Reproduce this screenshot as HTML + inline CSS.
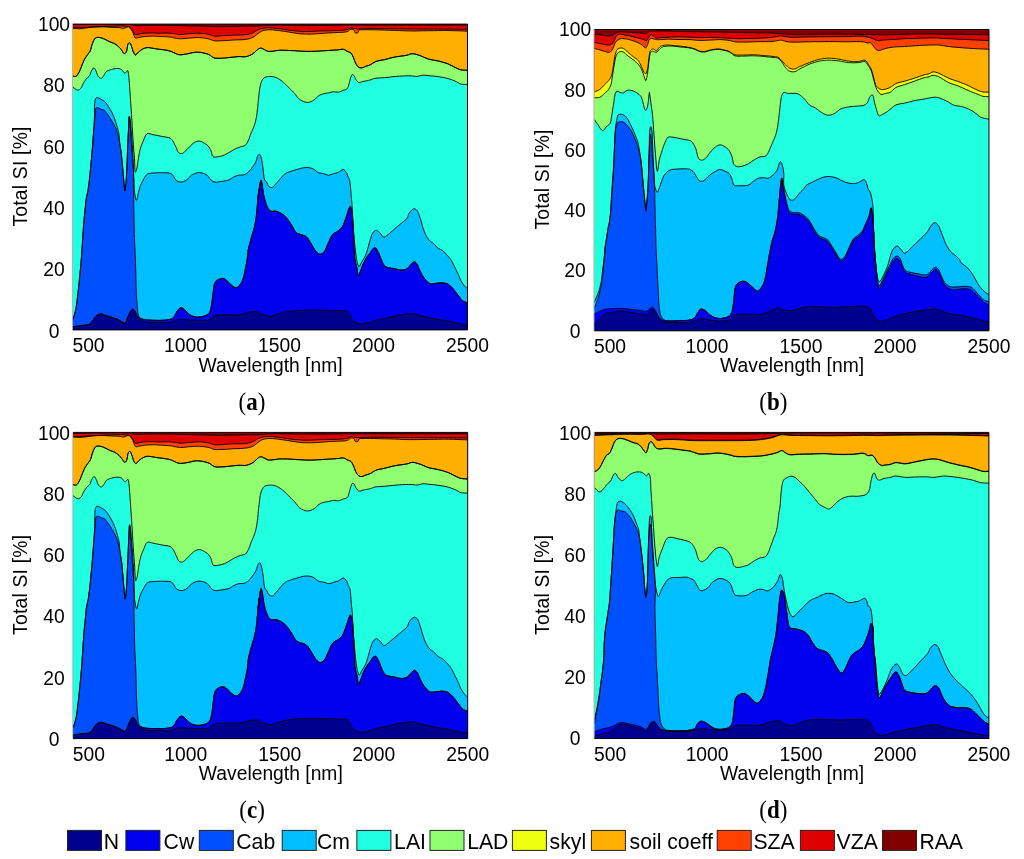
<!DOCTYPE html>
<html><head><meta charset="utf-8"><style>
html,body{margin:0;padding:0;background:#fff;}
svg{display:block;}
.tk{font-family:"Liberation Sans",Arial,sans-serif;font-size:19.3px;fill:#000;}
.xl{font-family:"Liberation Sans",Arial,sans-serif;font-size:19.3px;fill:#000;}
.yl{font-family:"Liberation Sans",Arial,sans-serif;font-size:19.3px;fill:#000;letter-spacing:0.22px;}
.lg{font-family:"Liberation Sans",Arial,sans-serif;font-size:21.2px;fill:#000;}
.cap{font-family:"Liberation Serif","Times New Roman",serif;font-size:25px;fill:#000;}
</style></head><body>
<svg width="1024" height="859" viewBox="0 0 1024 859">
<rect width="1024" height="859" fill="#fff"/>
<clipPath id="ca"><rect x="72.7" y="24.1" width="394.8" height="305.8"/></clipPath>
<g clip-path="url(#ca)">
<rect x="72.7" y="24.1" width="394.8" height="305.8" fill="#800000"/>
<polygon points="72.7,24.7 73.1,24.7 79.6,24.6 86.1,24.5 92.7,24.4 99.3,24.4 107.1,24.3 115.4,24.2 123.0,24.2 128.6,24.4 130.1,24.6 131.3,24.9 132.4,25.2 133.5,25.4 134.7,25.5 135.8,25.6 137.0,25.6 138.4,25.7 140.5,25.6 142.8,25.6 145.3,25.4 148.1,25.4 153.0,25.3 158.6,25.3 164.4,25.3 170.0,25.4 175.0,25.5 179.8,25.6 184.7,25.7 189.5,25.9 194.6,26.0 199.7,26.1 204.7,26.2 209.1,26.3 211.7,26.4 213.9,26.5 216.2,26.6 218.8,26.6 223.3,26.6 228.4,26.5 233.5,26.4 238.4,26.3 242.2,26.3 246.0,26.2 249.6,26.1 253.0,26.1 255.6,26.0 258.1,25.9 260.5,25.8 262.8,25.7 264.5,25.5 266.2,25.4 267.9,25.2 270.0,25.1 275.9,25.0 283.4,25.1 291.5,25.3 299.3,25.4 306.8,25.4 314.3,25.4 321.7,25.4 328.6,25.4 333.7,25.3 338.5,25.2 343.3,25.1 348.1,25.1 353.1,25.1 358.0,25.1 363.4,25.1 370.0,25.1 389.5,25.1 414.3,25.1 441.4,25.1 467.4,25.1 467.5,25.1 467.5,331.9 72.7,331.9" fill="#DF0000"/>
<polygon points="72.7,28.0 73.1,28.0 88.8,27.3 105.6,26.4 120.1,25.9 128.6,26.4 129.3,26.7 129.8,27.0 130.2,27.4 130.5,27.8 131.1,28.3 131.5,28.9 132.0,29.6 132.5,30.3 133.2,31.4 133.8,32.7 134.5,33.9 135.4,34.6 136.5,34.8 137.7,34.5 139.0,34.0 140.3,33.7 142.1,33.4 144.0,33.2 146.1,33.1 148.1,33.0 150.5,33.0 152.9,33.0 155.3,33.1 157.9,33.2 161.0,33.2 164.2,33.1 167.3,33.1 170.0,33.2 171.4,33.3 172.6,33.4 173.7,33.5 174.9,33.7 176.1,33.9 177.2,34.1 178.4,34.3 179.8,34.5 182.0,34.4 184.4,34.2 187.0,33.9 189.5,33.7 192.0,33.5 194.4,33.3 196.9,33.2 199.3,33.2 201.8,33.3 204.4,33.6 206.9,34.0 209.1,34.5 210.4,34.9 211.5,35.4 212.6,35.8 213.9,36.1 216.1,36.2 218.6,36.1 221.2,35.8 223.7,35.6 226.1,35.5 228.5,35.4 230.9,35.3 233.5,35.1 236.6,35.1 240.0,35.0 243.2,34.9 246.2,34.6 248.1,34.3 249.8,33.8 251.5,33.3 253.0,32.7 254.3,32.0 255.5,31.2 256.7,30.4 257.9,29.8 259.1,29.3 260.2,28.9 261.5,28.6 262.8,28.3 264.4,28.1 266.2,27.9 268.1,27.8 270.0,27.8 272.3,27.9 274.8,28.2 277.3,28.5 279.8,28.8 282.2,29.1 284.6,29.5 287.1,29.9 289.5,30.3 292.0,30.5 294.4,30.8 296.9,31.0 299.3,31.2 301.7,31.4 304.2,31.5 306.6,31.5 309.1,31.5 311.4,31.5 313.7,31.3 316.2,31.2 318.8,31.0 323.4,30.9 328.7,30.8 333.9,30.7 338.4,30.5 340.9,30.4 343.2,30.2 345.3,29.9 347.1,29.6 348.3,29.2 349.2,28.7 350.2,28.2 351.1,28.0 351.8,28.0 352.5,28.2 353.2,28.4 354.0,28.6 355.1,28.7 356.2,28.8 357.5,28.9 358.9,29.0 361.2,29.0 363.7,28.8 366.6,28.7 370.0,28.6 377.9,28.6 387.6,28.7 398.2,28.9 409.1,29.0 422.8,29.1 437.5,29.1 452.5,29.2 467.4,29.3 467.5,29.3 467.5,331.9 72.7,331.9" fill="#FF4000"/>
<polygon points="72.7,28.3 73.1,28.3 74.8,28.4 76.5,28.6 78.2,28.7 79.8,28.8 81.0,28.7 82.2,28.6 83.3,28.5 84.6,28.3 86.7,28.0 88.9,27.6 91.2,27.3 93.4,27.0 95.6,26.9 97.8,26.8 100.0,26.8 102.2,26.8 104.4,26.9 106.7,27.0 108.9,27.2 111.0,27.3 113.0,27.4 115.1,27.4 117.0,27.5 118.8,27.6 120.1,27.8 121.3,28.1 122.5,28.3 123.7,28.3 125.0,28.0 126.3,27.4 127.6,26.9 128.6,26.8 129.2,27.1 129.7,27.6 130.1,28.2 130.5,28.8 131.1,29.4 131.5,30.1 132.0,30.9 132.5,31.7 133.2,33.3 133.8,35.3 134.6,37.0 135.4,38.1 136.1,38.2 136.8,38.1 137.5,37.8 138.4,37.6 139.7,37.3 141.1,37.1 142.6,36.8 144.2,36.6 146.3,36.4 148.5,36.3 150.7,36.2 153.0,36.1 155.4,36.2 158.0,36.3 160.4,36.4 162.8,36.6 164.7,36.7 166.5,36.8 168.3,36.9 170.0,37.1 171.3,37.3 172.5,37.6 173.7,37.8 174.9,38.1 176.3,38.3 177.7,38.5 179.2,38.7 180.7,38.8 182.8,38.7 185.0,38.5 187.3,38.3 189.5,38.1 191.9,37.9 194.4,37.7 196.8,37.6 199.3,37.6 201.8,37.8 204.4,38.1 206.9,38.6 209.1,39.0 210.4,39.5 211.5,39.9 212.6,40.4 213.9,40.7 216.1,40.9 218.6,40.9 221.2,40.8 223.7,40.7 226.1,40.6 228.5,40.4 230.9,40.2 233.5,40.0 236.6,39.9 240.0,39.8 243.2,39.7 246.2,39.3 248.1,39.0 249.8,38.6 251.5,38.0 253.0,37.4 254.3,36.6 255.5,35.6 256.7,34.6 257.9,33.7 259.1,32.8 260.2,32.0 261.4,31.3 262.8,30.7 264.4,30.3 266.2,30.0 268.1,29.8 270.0,29.8 272.3,29.8 274.8,30.1 277.3,30.4 279.8,30.7 282.2,31.1 284.7,31.4 287.1,31.8 289.5,32.2 292.0,32.6 294.4,33.0 296.9,33.4 299.3,33.7 301.7,33.9 304.2,34.0 306.6,34.1 309.1,34.2 311.5,34.1 313.9,34.0 316.4,33.8 318.8,33.7 321.3,33.5 323.7,33.3 326.2,33.1 328.6,32.9 331.0,32.8 333.5,32.7 336.0,32.6 338.4,32.5 340.7,32.4 343.0,32.3 345.2,32.1 347.1,31.7 348.3,31.1 349.3,30.3 350.2,29.6 351.1,29.3 351.8,29.3 352.7,29.5 353.4,29.8 354.0,30.3 354.3,30.8 354.5,31.5 354.6,32.2 355.0,32.7 355.6,32.9 356.4,33.0 357.2,32.9 357.9,32.7 358.2,32.2 358.4,31.5 358.5,30.8 358.9,30.3 359.6,29.9 360.6,29.8 361.6,29.8 362.8,29.8 364.3,29.7 366.0,29.7 367.9,29.7 370.0,29.8 374.2,29.8 379.2,30.0 384.4,30.1 389.5,30.3 394.4,30.4 399.3,30.6 404.2,30.8 409.1,30.9 413.9,31.0 418.8,30.9 423.7,30.8 428.6,30.7 433.5,30.7 438.4,30.6 443.3,30.5 448.1,30.5 452.9,30.7 457.8,30.8 462.6,31.0 467.4,31.2 467.5,31.2 467.5,331.9 72.7,331.9" fill="#FFAF00"/>
<polygon points="72.7,76.2 73.1,76.2 73.8,76.3 74.5,76.5 75.2,76.6 75.9,76.4 76.7,75.9 77.4,75.0 78.1,73.9 78.8,72.7 79.6,71.2 80.3,69.5 81.0,67.7 81.7,65.9 82.4,64.1 83.1,62.4 83.9,60.6 84.6,59.1 85.4,57.9 86.1,56.8 86.9,55.7 87.6,54.7 88.2,53.8 88.8,53.0 89.5,52.2 90.0,51.2 90.7,49.5 91.2,47.5 91.8,45.4 92.5,43.4 93.1,41.9 93.8,40.3 94.5,39.0 95.4,38.1 96.1,37.7 96.8,37.5 97.5,37.4 98.3,37.4 99.4,37.5 100.7,37.7 101.9,38.1 103.2,38.6 104.6,39.2 106.1,39.9 107.6,40.7 109.1,41.5 110.6,42.1 112.1,42.7 113.6,43.3 114.9,43.9 116.0,44.6 117.0,45.3 117.9,46.1 118.8,46.9 119.6,47.7 120.4,48.5 121.1,49.4 121.8,50.3 122.4,51.3 123.0,52.4 123.6,53.3 124.2,53.7 124.7,53.6 125.2,53.3 125.7,52.8 126.2,52.2 126.8,50.5 127.2,48.1 127.6,45.6 128.1,43.9 128.5,43.4 128.8,43.0 129.2,42.7 129.6,42.7 130.1,43.1 130.6,44.0 131.1,45.2 131.5,46.4 132.0,47.8 132.5,49.4 132.9,50.9 133.5,52.2 133.9,53.1 134.4,54.0 134.9,54.7 135.4,55.0 136.1,54.7 136.8,54.0 137.6,53.0 138.4,52.2 139.3,51.5 140.2,50.7 141.2,49.9 142.3,49.3 143.4,48.7 144.6,48.2 145.9,47.9 147.1,47.6 148.6,47.6 150.1,47.8 151.6,48.1 153.0,48.3 154.3,48.5 155.4,48.7 156.6,48.9 157.9,49.1 159.3,49.3 160.8,49.4 162.3,49.6 163.8,49.8 165.3,50.0 167.0,50.3 168.5,50.7 170.0,51.1 171.0,51.4 172.0,51.8 172.9,52.3 173.9,52.7 175.1,53.2 176.2,53.8 177.5,54.3 178.8,54.7 180.4,54.8 182.1,54.7 183.8,54.4 185.6,54.2 188.0,53.7 190.5,53.1 193.0,52.6 195.4,52.2 197.2,52.2 198.9,52.3 200.6,52.4 202.2,52.7 204.0,53.1 205.7,53.5 207.5,54.0 209.1,54.7 210.3,55.4 211.5,56.4 212.7,57.2 213.9,57.9 215.5,58.2 217.2,58.3 219.0,58.3 220.8,58.3 222.7,58.2 224.6,58.0 226.6,57.8 228.6,57.6 231.0,57.3 233.5,57.1 236.0,56.8 238.4,56.6 240.4,56.6 242.4,56.8 244.3,56.8 246.2,56.6 248.0,56.1 249.7,55.4 251.4,54.6 253.0,53.7 254.4,52.6 255.6,51.4 256.8,50.2 257.9,49.3 258.6,48.8 259.4,48.5 260.1,48.2 260.8,48.1 261.5,48.2 262.3,48.5 263.0,48.9 263.8,49.3 264.7,49.8 265.7,50.4 266.7,50.9 267.7,51.2 268.2,51.4 268.8,51.4 269.3,51.5 270.0,51.4 272.0,51.3 274.5,50.9 277.2,50.5 279.8,50.3 282.2,50.2 284.6,50.3 287.1,50.4 289.5,50.5 292.0,50.6 294.4,50.7 296.9,50.9 299.3,51.1 301.7,51.2 304.2,51.3 306.6,51.4 309.1,51.4 311.5,51.4 313.9,51.3 316.4,51.2 318.8,51.1 321.3,50.9 323.7,50.8 326.2,50.6 328.6,50.5 331.1,50.3 333.7,50.1 336.2,50.0 338.4,49.8 339.7,49.6 341.0,49.4 342.1,49.2 343.2,49.3 344.3,49.6 345.2,50.1 346.2,50.7 347.1,51.2 348.2,51.7 349.2,52.1 350.2,52.5 351.1,53.2 351.9,54.4 352.7,55.9 353.4,57.5 354.0,59.1 354.5,60.3 354.9,61.6 355.4,62.8 355.9,63.9 356.6,64.9 357.3,65.9 358.1,66.8 358.9,67.4 359.6,67.7 360.3,67.8 361.0,67.9 361.8,67.9 362.7,67.6 363.7,67.3 364.7,66.8 365.7,66.4 366.8,66.0 367.8,65.7 368.9,65.4 370.0,64.9 371.4,64.2 372.8,63.2 374.3,62.3 375.9,61.5 377.9,60.9 380.1,60.4 382.4,60.0 384.6,59.6 387.0,59.0 389.4,58.3 391.9,57.7 394.4,57.1 397.6,56.6 401.0,56.1 404.3,55.7 407.1,55.2 408.5,54.7 409.6,54.3 410.8,53.9 412.0,53.7 413.6,53.8 415.3,54.1 417.0,54.6 418.8,55.2 421.2,56.0 423.6,57.1 426.1,58.2 428.6,59.1 431.0,59.7 433.5,60.1 435.9,60.5 438.4,61.0 440.9,61.7 443.4,62.4 445.8,63.1 448.1,63.9 449.9,64.8 451.7,65.7 453.3,66.5 455.0,67.4 456.4,68.1 457.9,68.7 459.3,69.3 460.8,69.8 462.4,70.1 464.1,70.2 465.7,70.2 467.4,70.3 467.5,70.3 467.5,331.9 72.7,331.9" fill="#EFFF10"/>
<polygon points="72.7,76.2 73.1,76.2 73.8,76.3 74.5,76.5 75.2,76.6 75.9,76.4 76.7,75.9 77.4,75.0 78.1,73.9 78.8,72.7 79.6,71.2 80.3,69.5 81.0,67.7 81.7,65.9 82.4,64.1 83.1,62.4 83.9,60.6 84.6,59.1 85.4,57.9 86.1,56.8 86.9,55.7 87.6,54.7 88.2,53.8 88.8,53.0 89.5,52.2 90.0,51.2 90.7,49.5 91.2,47.5 91.8,45.4 92.5,43.4 93.1,41.9 93.8,40.3 94.5,39.0 95.4,38.1 96.1,37.7 96.8,37.5 97.5,37.4 98.3,37.4 99.4,37.5 100.7,37.7 101.9,38.1 103.2,38.6 104.6,39.2 106.1,39.9 107.6,40.7 109.1,41.5 110.6,42.1 112.1,42.7 113.6,43.3 114.9,43.9 116.0,44.6 117.0,45.3 117.9,46.1 118.8,46.9 119.6,47.7 120.4,48.5 121.1,49.4 121.8,50.3 122.4,51.3 123.0,52.4 123.6,53.3 124.2,53.7 124.7,53.6 125.2,53.3 125.7,52.8 126.2,52.2 126.8,50.5 127.2,48.1 127.6,45.6 128.1,43.9 128.5,43.4 128.8,43.0 129.2,42.7 129.6,42.7 130.1,43.1 130.6,44.0 131.1,45.2 131.5,46.4 132.0,47.8 132.5,49.4 132.9,50.9 133.5,52.2 133.9,53.1 134.4,54.0 134.9,54.7 135.4,55.0 136.1,54.7 136.8,54.0 137.6,53.0 138.4,52.2 139.3,51.5 140.2,50.7 141.2,49.9 142.3,49.3 143.4,48.7 144.6,48.2 145.9,47.9 147.1,47.6 148.6,47.6 150.1,47.8 151.6,48.1 153.0,48.3 154.3,48.5 155.4,48.7 156.6,48.9 157.9,49.1 159.3,49.3 160.8,49.4 162.3,49.6 163.8,49.8 165.3,50.0 167.0,50.3 168.5,50.7 170.0,51.1 171.0,51.4 172.0,51.8 172.9,52.3 173.9,52.7 175.1,53.2 176.2,53.8 177.5,54.3 178.8,54.7 180.4,54.8 182.1,54.7 183.8,54.4 185.6,54.2 188.0,53.7 190.5,53.1 193.0,52.6 195.4,52.2 197.2,52.2 198.9,52.3 200.6,52.4 202.2,52.7 204.0,53.1 205.7,53.5 207.5,54.0 209.1,54.7 210.3,55.4 211.5,56.4 212.7,57.2 213.9,57.9 215.5,58.2 217.2,58.3 219.0,58.3 220.8,58.3 222.7,58.2 224.6,58.0 226.6,57.8 228.6,57.6 231.0,57.3 233.5,57.1 236.0,56.8 238.4,56.6 240.4,56.6 242.4,56.8 244.3,56.8 246.2,56.6 248.0,56.1 249.7,55.4 251.4,54.6 253.0,53.7 254.4,52.6 255.6,51.4 256.8,50.2 257.9,49.3 258.6,48.8 259.4,48.5 260.1,48.2 260.8,48.1 261.5,48.2 262.3,48.5 263.0,48.9 263.8,49.3 264.7,49.8 265.7,50.4 266.7,50.9 267.7,51.2 268.2,51.4 268.8,51.4 269.3,51.5 270.0,51.4 272.0,51.3 274.5,50.9 277.2,50.5 279.8,50.3 282.2,50.2 284.6,50.3 287.1,50.4 289.5,50.5 292.0,50.6 294.4,50.7 296.9,50.9 299.3,51.1 301.7,51.2 304.2,51.3 306.6,51.4 309.1,51.4 311.5,51.4 313.9,51.3 316.4,51.2 318.8,51.1 321.3,50.9 323.7,50.8 326.2,50.6 328.6,50.5 331.1,50.3 333.7,50.1 336.2,50.0 338.4,49.8 339.7,49.6 341.0,49.4 342.1,49.2 343.2,49.3 344.3,49.6 345.2,50.1 346.2,50.7 347.1,51.2 348.2,51.7 349.2,52.1 350.2,52.5 351.1,53.2 351.9,54.4 352.7,55.9 353.4,57.5 354.0,59.1 354.5,60.3 354.9,61.6 355.4,62.8 355.9,63.9 356.6,64.9 357.3,65.9 358.1,66.8 358.9,67.4 359.6,67.7 360.3,67.8 361.0,67.9 361.8,67.9 362.7,67.6 363.7,67.3 364.7,66.8 365.7,66.4 366.8,66.0 367.8,65.7 368.9,65.4 370.0,64.9 371.4,64.2 372.8,63.2 374.3,62.3 375.9,61.5 377.9,60.9 380.1,60.4 382.4,60.0 384.6,59.6 387.0,59.0 389.4,58.3 391.9,57.7 394.4,57.1 397.6,56.6 401.0,56.1 404.3,55.7 407.1,55.2 408.5,54.7 409.6,54.3 410.8,53.9 412.0,53.7 413.6,53.8 415.3,54.1 417.0,54.6 418.8,55.2 421.2,56.0 423.6,57.1 426.1,58.2 428.6,59.1 431.0,59.7 433.5,60.1 435.9,60.5 438.4,61.0 440.9,61.7 443.4,62.4 445.8,63.1 448.1,63.9 449.9,64.8 451.7,65.7 453.3,66.5 455.0,67.4 456.4,68.1 457.9,68.7 459.3,69.3 460.8,69.8 462.4,70.1 464.1,70.2 465.7,70.2 467.4,70.3 467.5,70.3 467.5,331.9 72.7,331.9" fill="#8FFF70"/>
<polygon points="72.7,87.4 73.1,87.4 74.3,88.2 75.5,89.1 76.7,89.8 77.8,90.1 78.6,90.0 79.4,89.6 80.1,89.0 80.7,88.4 81.6,87.1 82.3,85.6 82.9,84.0 83.7,82.5 84.4,81.4 85.1,80.4 85.8,79.5 86.6,78.6 87.3,77.8 88.1,77.2 88.9,76.5 89.5,75.7 90.1,74.5 90.5,73.2 91.0,71.9 91.5,70.8 92.1,69.8 92.7,68.9 93.3,68.1 93.9,67.9 94.4,68.2 94.9,68.9 95.4,69.8 95.9,70.8 96.5,72.2 97.0,73.8 97.6,75.4 98.3,76.6 99.0,77.3 99.8,77.9 100.5,78.3 101.2,78.4 101.9,78.1 102.5,77.4 103.1,76.5 103.7,75.7 104.3,74.7 104.9,73.6 105.5,72.6 106.1,71.8 106.8,71.3 107.5,70.9 108.2,70.6 109.1,70.3 110.2,69.9 111.4,69.5 112.7,69.1 113.9,68.8 115.2,68.7 116.5,68.5 117.7,68.5 118.8,68.6 119.6,68.8 120.4,69.0 121.1,69.4 121.8,69.8 122.6,70.6 123.3,71.8 124.0,72.7 124.7,73.2 125.1,73.2 125.4,72.9 125.8,72.6 126.2,72.2 126.5,71.8 126.9,71.2 127.3,70.7 127.6,70.6 128.0,71.0 128.2,72.0 128.4,73.3 128.6,74.7 128.9,77.2 129.1,80.1 129.4,83.3 129.6,86.4 129.8,89.7 130.1,93.1 130.3,96.5 130.5,100.0 130.8,103.5 131.0,107.0 131.3,110.7 131.5,114.6 131.9,120.4 132.2,126.6 132.6,133.0 133.0,139.1 133.4,144.2 133.7,149.2 134.1,154.0 134.5,158.6 134.7,162.8 134.8,167.2 135.0,170.8 135.4,172.3 135.7,172.1 135.9,171.7 136.2,171.0 136.4,170.3 136.9,168.1 137.4,165.0 137.9,161.7 138.4,158.6 138.8,156.1 139.2,153.6 139.7,151.2 140.3,148.8 140.9,146.8 141.6,144.8 142.4,142.9 143.2,141.0 144.1,138.9 144.9,136.8 145.9,134.9 147.1,133.7 148.4,133.5 149.8,133.7 151.4,134.2 153.0,134.7 155.3,135.1 157.8,135.6 160.4,136.1 162.8,136.6 164.7,136.9 166.7,137.2 168.5,137.5 170.0,138.1 170.9,138.7 171.6,139.4 172.3,140.1 172.9,141.0 173.7,142.3 174.4,143.8 175.1,145.4 175.9,146.9 176.6,148.5 177.2,150.2 177.9,151.7 178.8,152.7 179.5,153.2 180.2,153.4 181.0,153.5 181.7,153.5 182.5,153.3 183.2,152.9 183.9,152.4 184.6,151.8 185.8,150.7 187.0,149.5 188.3,148.1 189.5,146.9 190.7,145.7 191.9,144.5 193.1,143.4 194.4,142.5 195.6,141.9 196.9,141.4 198.1,141.1 199.3,141.0 200.3,141.2 201.3,141.5 202.2,142.0 203.2,142.5 204.5,143.2 205.7,144.0 207.0,144.9 208.1,145.9 209.0,147.0 209.7,148.2 210.4,149.5 211.0,150.8 211.5,152.3 211.9,154.1 212.3,155.6 213.0,156.6 213.8,157.0 214.7,157.0 215.8,157.0 216.9,156.8 218.3,156.7 219.7,156.4 221.3,156.1 222.7,155.7 224.2,155.1 225.7,154.3 227.1,153.5 228.6,152.7 230.1,151.9 231.5,151.0 233.0,150.1 234.5,149.3 235.9,148.6 237.4,148.0 238.9,147.4 240.3,146.9 241.6,146.5 242.9,146.3 244.1,146.0 245.2,145.4 246.1,144.6 246.8,143.5 247.5,142.3 248.1,141.0 248.9,139.2 249.6,137.2 250.3,135.2 251.1,133.2 251.8,131.5 252.6,129.8 253.3,128.1 254.0,126.4 254.6,124.7 255.1,123.0 255.5,121.3 255.9,119.5 256.4,117.2 256.8,114.8 257.1,112.3 257.4,109.8 257.7,107.4 257.9,105.0 258.1,102.6 258.4,100.0 258.8,95.9 259.3,91.4 260.0,87.0 260.8,83.5 261.4,81.8 262.1,80.3 262.9,79.1 263.8,78.1 264.7,77.5 265.7,77.1 266.7,76.8 267.7,76.6 268.3,76.5 268.8,76.5 269.4,76.4 270.0,76.4 271.1,76.5 272.3,76.6 273.6,76.8 274.9,77.1 276.1,77.6 277.4,78.2 278.6,78.8 279.8,79.6 281.0,80.4 282.2,81.4 283.5,82.4 284.6,83.5 285.9,84.6 287.1,85.9 288.3,87.1 289.5,88.4 290.8,89.6 292.0,90.8 293.2,92.0 294.4,93.2 295.6,94.7 296.7,96.3 297.9,97.8 299.3,99.1 301.1,100.3 303.1,101.3 305.1,102.1 307.1,102.4 308.9,102.3 310.7,101.7 312.4,100.9 313.9,100.0 315.3,99.0 316.4,97.8 317.6,96.6 318.8,95.7 320.0,95.0 321.2,94.5 322.5,94.1 323.7,93.7 324.9,93.4 326.1,93.2 327.4,93.0 328.6,92.8 329.8,92.5 331.0,92.2 332.3,91.9 333.5,91.8 334.7,91.8 335.9,92.0 337.1,92.1 338.4,92.1 339.6,91.8 340.8,91.3 342.1,90.8 343.2,90.3 344.3,90.0 345.4,89.8 346.3,89.4 347.1,88.8 347.8,87.8 348.3,86.5 348.7,85.0 349.1,83.5 349.6,81.7 350.1,79.9 350.5,78.1 351.1,76.6 351.4,75.9 351.8,75.2 352.1,74.7 352.5,74.5 352.9,74.6 353.2,74.8 353.6,75.2 354.0,75.7 354.5,76.5 354.9,77.5 355.4,78.6 355.9,79.6 356.6,80.5 357.3,81.3 358.0,82.1 358.9,82.5 359.8,82.5 360.7,82.2 361.7,81.9 362.8,81.5 364.0,81.3 365.3,81.0 366.5,80.8 367.7,80.5 368.3,80.4 368.8,80.3 369.4,80.2 370.0,80.1 371.1,79.7 372.2,79.2 373.5,78.8 374.9,78.4 377.0,78.1 379.4,77.9 382.0,77.8 384.6,77.6 388.1,77.3 391.9,76.8 395.7,76.4 399.3,76.2 402.4,76.0 405.5,75.9 408.4,75.8 411.0,75.9 412.6,76.0 414.1,76.2 415.5,76.4 416.9,76.4 418.3,76.2 419.8,75.8 421.3,75.4 422.7,75.2 424.2,75.2 425.6,75.3 427.0,75.5 428.6,75.7 430.9,75.9 433.3,76.1 435.9,76.3 438.4,76.6 440.9,77.0 443.4,77.5 445.8,78.0 448.1,78.6 449.9,79.1 451.7,79.7 453.3,80.4 455.0,81.0 456.5,81.8 457.9,82.6 459.3,83.4 460.8,84.0 462.4,84.3 464.0,84.4 465.7,84.4 467.4,84.5 467.5,84.5 467.5,331.9 72.7,331.9" fill="#20FFDF"/>
<polygon points="72.7,318.9 73.1,318.9 73.8,316.5 74.6,314.1 75.2,311.7 75.9,309.1 76.4,305.8 76.9,302.4 77.3,298.6 77.8,294.5 78.7,286.6 79.6,277.5 80.5,268.2 81.2,259.8 81.7,254.0 82.0,248.5 82.4,243.3 82.7,238.4 82.9,234.5 83.2,230.9 83.4,227.3 83.7,223.8 84.0,220.0 84.4,216.2 84.8,212.6 85.1,209.1 85.4,206.5 85.6,204.1 85.8,201.7 86.1,199.3 86.5,197.0 87.0,194.8 87.6,192.4 88.1,189.6 89.0,182.9 89.9,174.9 90.7,166.3 91.5,158.4 92.1,152.0 92.6,145.7 93.0,139.7 93.4,134.0 93.7,129.6 94.0,125.5 94.2,121.5 94.4,117.6 94.5,113.9 94.4,110.3 94.5,106.9 94.6,104.0 94.8,102.5 94.9,101.1 95.2,100.0 95.5,99.0 95.7,98.5 96.0,98.1 96.3,97.8 96.6,97.6 97.1,97.6 97.7,97.7 98.4,97.9 99.0,98.2 99.8,98.6 100.6,99.0 101.4,99.5 102.2,100.0 103.0,100.4 103.7,100.8 104.4,101.3 105.2,102.0 106.8,104.0 108.6,106.7 110.4,109.8 112.0,112.7 113.2,115.2 114.2,117.7 115.1,120.1 115.9,122.5 116.5,124.3 117.0,126.1 117.4,127.7 117.9,129.3 118.1,130.3 118.4,131.2 118.6,132.1 118.8,133.2 119.1,135.5 119.3,138.2 119.5,141.0 119.8,143.8 120.1,146.2 120.5,148.5 120.9,150.9 121.3,153.5 121.7,157.0 122.0,160.8 122.4,164.6 122.7,168.2 123.0,171.2 123.2,174.1 123.5,176.9 123.7,179.8 124.0,183.0 124.3,186.5 124.6,189.4 124.9,190.5 125.2,189.5 125.5,186.9 125.9,183.4 126.2,179.8 126.6,173.0 127.0,164.9 127.3,156.4 127.6,148.6 127.9,142.8 128.1,137.2 128.4,131.9 128.6,127.1 128.7,123.6 128.9,120.0 129.0,117.2 129.3,116.1 129.5,116.4 129.7,117.3 129.9,118.4 130.1,119.5 130.3,121.5 130.6,123.9 130.8,126.5 131.0,129.3 131.4,133.7 131.8,138.6 132.2,143.8 132.5,148.8 132.8,153.7 133.1,158.7 133.3,163.6 133.5,168.4 133.5,172.7 133.5,177.0 133.5,181.1 133.7,184.9 133.9,187.6 134.2,190.1 134.6,192.4 134.9,194.6 135.3,196.5 135.6,198.4 136.0,199.9 136.4,200.5 136.9,199.6 137.4,197.5 137.9,195.0 138.4,192.7 138.8,190.9 139.3,189.2 139.7,187.5 140.3,185.9 141.0,184.3 141.7,182.9 142.4,181.4 143.2,180.0 144.1,178.4 145.0,176.8 146.0,175.3 147.1,174.2 148.4,173.6 149.8,173.3 151.4,173.2 153.0,173.0 155.3,172.9 157.8,172.8 160.4,172.7 162.8,172.8 164.7,172.8 166.7,172.8 168.5,172.9 170.0,173.2 170.9,173.6 171.6,174.0 172.3,174.6 172.9,175.2 173.7,176.3 174.3,177.6 175.0,178.9 175.9,180.0 176.9,180.8 178.1,181.5 179.4,181.9 180.7,182.1 182.2,182.0 183.7,181.5 185.2,180.8 186.6,180.0 187.9,178.9 189.0,177.6 190.2,176.3 191.5,175.2 192.9,174.4 194.4,173.7 195.9,173.1 197.3,172.8 198.6,172.6 199.8,172.7 201.0,172.8 202.2,173.0 203.5,173.4 204.8,173.9 206.0,174.5 207.1,175.2 208.2,176.3 209.1,177.6 210.0,178.9 211.0,180.0 211.9,180.7 212.9,181.3 213.9,181.8 214.9,182.1 216.3,182.2 217.7,182.1 219.2,181.8 220.8,181.5 222.7,181.2 224.8,180.9 226.8,180.5 228.6,180.0 229.9,179.4 231.1,178.6 232.3,177.8 233.5,177.1 234.7,176.6 235.9,176.0 237.1,175.6 238.4,175.2 239.8,175.0 241.3,175.0 242.8,175.0 244.2,174.7 245.3,174.3 246.3,173.7 247.2,173.1 248.1,172.3 249.4,171.0 250.7,169.5 251.9,167.9 253.0,166.4 253.8,165.2 254.6,164.0 255.3,162.8 255.9,161.5 256.5,160.0 256.9,158.4 257.4,156.9 257.9,155.7 258.2,155.1 258.6,154.6 259.0,154.3 259.4,154.2 259.7,154.4 260.1,155.0 260.5,155.8 260.8,156.6 261.4,158.6 261.9,161.0 262.3,163.7 262.8,166.4 263.2,169.9 263.6,173.8 264.0,177.4 264.7,180.0 265.1,180.6 265.6,181.0 266.1,181.4 266.5,181.9 267.0,182.9 267.5,184.1 268.0,185.2 268.6,186.1 269.4,186.7 270.3,187.2 271.2,187.5 272.1,187.5 273.2,186.9 274.2,185.8 275.3,184.5 276.3,183.3 277.4,182.1 278.4,180.9 279.4,179.6 280.5,178.4 281.7,177.1 282.9,175.8 284.1,174.5 285.4,173.5 286.4,172.9 287.4,172.5 288.4,172.2 289.5,171.8 291.3,171.2 293.3,170.5 295.3,169.9 297.3,169.3 299.3,168.8 301.3,168.2 303.2,167.8 305.2,167.6 306.9,167.5 308.6,167.6 310.3,167.9 312.0,168.4 313.8,169.3 315.5,170.5 317.2,171.8 318.8,172.8 320.1,173.1 321.3,173.3 322.5,173.5 323.7,173.7 324.9,174.1 326.2,174.6 327.4,175.0 328.6,175.2 329.8,175.0 331.0,174.6 332.3,174.2 333.5,173.7 334.7,173.4 335.9,173.1 337.2,172.7 338.4,172.3 339.6,171.5 340.9,170.6 342.1,169.8 343.2,169.5 344.1,169.9 344.8,170.5 345.5,171.4 346.2,172.3 346.8,173.4 347.2,174.7 347.7,176.0 348.1,177.1 348.5,177.9 348.9,178.5 349.3,179.1 349.6,180.0 350.1,182.9 350.5,186.8 350.8,190.9 351.1,194.6 351.3,197.2 351.6,199.5 351.8,201.8 352.0,204.4 352.2,208.1 352.4,212.1 352.5,216.4 352.8,221.0 353.4,229.2 354.2,238.8 355.1,247.9 355.9,255.0 356.3,257.4 356.6,259.4 357.0,261.2 357.4,262.8 357.7,264.1 358.1,265.3 358.4,266.3 358.9,266.7 359.5,266.2 360.2,265.0 361.0,263.4 361.8,261.8 362.8,260.3 363.8,258.7 364.8,256.9 365.7,255.0 366.9,251.7 368.0,247.9 369.0,244.0 370.0,240.5 370.7,238.3 371.3,236.2 372.0,234.3 372.9,232.7 373.7,231.8 374.6,231.0 375.5,230.5 376.3,230.3 377.2,230.5 378.1,231.1 378.9,231.9 379.8,232.7 380.8,233.9 381.7,235.3 382.7,236.5 383.7,237.1 384.4,237.1 385.1,236.7 385.8,236.2 386.6,235.7 387.9,234.7 389.4,233.5 390.9,232.1 392.5,230.8 394.1,229.4 395.8,227.9 397.5,226.4 399.3,224.9 401.4,223.3 403.5,221.5 405.6,219.8 407.1,218.1 407.8,216.8 408.1,215.6 408.5,214.4 409.1,213.2 410.1,211.8 411.4,210.5 412.7,209.3 413.9,208.8 414.7,208.9 415.5,209.2 416.2,209.6 416.9,210.3 417.7,211.6 418.5,213.3 419.1,215.2 419.8,217.1 420.6,219.4 421.3,221.9 422.0,224.5 422.7,226.9 423.4,228.9 424.1,230.9 424.8,232.9 425.7,234.7 426.5,236.3 427.5,237.9 428.5,239.3 429.6,240.5 430.5,241.4 431.5,242.1 432.5,242.7 433.5,243.5 434.7,244.7 435.9,246.0 437.1,247.3 438.4,248.4 439.3,248.9 440.3,249.4 441.3,249.8 442.3,250.3 443.3,251.1 444.2,252.1 445.2,253.1 446.2,254.2 447.4,255.5 448.7,256.9 449.9,258.4 451.1,260.0 452.1,261.8 453.1,263.8 454.1,265.8 455.0,267.7 455.7,269.2 456.5,270.6 457.2,272.1 457.9,273.6 458.6,275.2 459.3,277.0 460.0,278.7 460.8,280.4 461.7,282.0 462.7,283.5 463.7,285.0 464.7,286.2 465.4,287.0 466.1,287.6 466.7,288.1 467.4,288.7 467.5,288.7 467.5,331.9 72.7,331.9" fill="#00BFFF"/>
<polygon points="72.7,319.1 73.1,319.1 73.8,316.7 74.6,314.3 75.2,311.9 75.9,309.3 76.4,306.0 76.9,302.6 77.3,298.8 77.8,294.6 78.7,286.8 79.6,277.7 80.5,268.4 81.2,260.0 81.7,254.2 82.0,248.7 82.4,243.5 82.7,238.6 82.9,234.7 83.2,231.1 83.4,227.5 83.7,223.9 84.0,220.2 84.4,216.4 84.8,212.8 85.1,209.3 85.4,206.7 85.6,204.3 85.8,201.9 86.1,199.5 86.5,197.2 87.0,195.0 87.6,192.6 88.1,189.8 89.0,183.1 89.9,175.1 90.7,166.5 91.5,158.6 92.0,152.2 92.5,145.9 93.0,139.9 93.4,134.2 93.8,129.7 94.2,125.4 94.6,121.3 94.9,117.6 95.1,114.8 95.2,112.1 95.4,109.8 95.9,108.3 96.2,108.0 96.5,107.8 96.9,107.7 97.3,107.6 98.2,107.8 99.2,108.3 100.3,108.8 101.2,109.3 102.0,109.5 102.8,109.7 103.5,109.9 104.2,110.3 105.0,110.9 105.7,111.7 106.4,112.7 107.1,113.7 108.1,115.0 109.1,116.5 110.0,118.0 111.0,119.5 112.0,121.2 113.0,122.9 114.0,124.6 114.9,126.4 115.8,128.2 116.5,130.2 117.2,132.1 117.9,134.2 118.4,136.5 118.9,139.0 119.4,141.5 119.8,143.9 120.2,146.3 120.6,148.7 120.9,151.1 121.3,153.7 121.7,157.2 122.0,161.0 122.4,164.7 122.7,168.4 123.0,171.4 123.2,174.3 123.5,177.1 123.7,180.0 124.0,183.2 124.3,186.7 124.6,189.6 124.9,190.7 125.2,189.7 125.5,187.1 125.9,183.6 126.2,180.0 126.6,173.2 127.0,165.1 127.3,156.6 127.6,148.8 127.9,143.0 128.1,137.4 128.4,132.1 128.6,127.3 128.8,123.9 128.9,120.4 129.1,117.7 129.3,116.6 129.5,117.2 129.7,118.6 129.9,120.5 130.1,122.5 130.3,126.0 130.6,130.1 130.8,134.6 131.0,139.1 131.4,143.8 131.7,148.7 132.1,153.6 132.5,158.6 132.9,163.9 133.4,169.3 133.7,174.7 134.0,180.0 134.0,184.9 133.9,189.8 133.7,194.7 133.7,199.5 133.7,204.4 133.8,209.3 133.9,214.2 134.1,219.1 134.1,223.9 134.2,228.8 134.3,233.6 134.5,238.6 134.7,243.8 134.9,248.9 135.2,254.2 135.4,260.0 135.7,268.5 135.9,277.9 136.1,287.0 136.4,294.6 136.6,298.3 136.9,301.6 137.1,304.5 137.4,307.3 137.6,309.5 137.7,311.6 138.0,313.5 138.4,315.2 138.8,316.2 139.2,317.2 139.7,318.0 140.3,318.6 140.7,318.8 141.2,318.9 141.7,319.0 142.3,319.1 143.4,319.3 144.8,319.6 146.3,319.9 148.1,320.0 153.0,320.3 159.3,320.4 165.5,320.1 170.0,319.5 171.3,319.0 172.3,318.4 173.1,317.8 173.9,317.0 174.7,315.8 175.4,314.4 176.1,313.0 176.8,311.6 177.7,310.4 178.7,309.2 179.7,308.2 180.7,307.7 181.7,307.8 182.7,308.3 183.7,309.0 184.6,309.7 185.9,310.8 187.0,312.1 188.3,313.5 189.5,314.6 190.7,315.3 191.9,315.9 193.2,316.4 194.4,316.7 195.6,316.9 196.8,317.1 198.1,317.1 199.3,317.0 200.5,316.9 201.8,316.7 203.0,316.4 204.2,316.0 205.5,315.5 206.8,314.8 208.1,314.1 209.1,313.1 209.8,312.0 210.3,310.7 210.6,309.3 211.0,307.7 211.6,304.7 212.1,301.2 212.5,297.5 213.0,294.1 213.3,291.4 213.6,288.8 213.9,286.4 214.4,284.3 214.9,283.1 215.4,282.1 216.1,281.2 216.9,280.4 218.1,279.6 219.7,279.0 221.3,278.5 222.7,278.4 223.8,278.7 224.7,279.1 225.7,279.7 226.6,280.4 227.8,281.5 229.0,282.8 230.3,284.1 231.5,285.3 232.7,286.2 234.0,287.0 235.2,287.6 236.4,287.7 237.5,287.3 238.5,286.5 239.4,285.4 240.3,284.3 241.2,283.0 241.9,281.6 242.6,280.1 243.2,278.4 243.8,276.4 244.3,274.2 244.8,271.9 245.2,269.6 245.7,267.2 246.2,264.8 246.7,262.3 247.1,259.9 247.4,257.5 247.6,255.1 247.8,252.8 248.1,250.3 248.7,247.4 249.5,244.4 250.3,241.5 251.1,238.6 251.8,236.1 252.6,233.7 253.3,231.3 254.0,228.8 254.6,226.4 255.1,224.1 255.5,221.7 255.9,219.1 256.4,215.6 256.7,211.9 257.1,208.1 257.4,204.4 257.8,200.1 258.3,195.3 258.7,191.4 258.9,189.8 258.7,191.4 258.3,194.9 257.9,198.4 257.8,200.0 258.2,196.9 259.0,190.1 260.0,183.3 260.9,180.2 261.8,182.5 262.6,188.0 263.6,194.6 264.8,200.0 265.9,203.2 267.0,206.4 268.4,209.0 270.0,210.8 271.3,211.3 272.8,211.3 274.4,211.1 275.9,211.2 277.4,211.7 278.9,212.2 280.3,212.9 281.7,213.7 283.0,214.6 284.3,215.7 285.4,216.8 286.6,218.1 287.9,219.6 289.1,221.3 290.3,223.1 291.5,224.9 292.7,227.0 293.8,229.2 295.0,231.2 296.4,232.7 297.5,233.5 298.7,233.9 300.0,234.3 301.2,234.7 302.5,235.1 303.7,235.5 305.0,235.9 306.1,236.6 307.5,238.0 308.7,239.7 309.8,241.6 311.0,243.5 312.2,245.5 313.4,247.6 314.6,249.6 315.9,251.3 316.8,252.3 317.8,253.2 318.8,253.9 319.8,254.2 320.8,254.1 321.8,253.7 322.8,253.1 323.7,252.3 325.1,250.4 326.3,247.8 327.4,245.1 328.6,242.5 329.5,240.4 330.4,238.3 331.3,236.4 332.5,234.7 333.8,233.5 335.4,232.6 337.0,231.7 338.4,230.8 339.4,229.9 340.4,229.0 341.4,228.0 342.3,226.9 343.4,224.8 344.4,222.3 345.3,219.6 346.2,217.1 347.0,214.7 347.8,212.3 348.5,210.0 349.1,208.3 349.4,207.7 349.6,207.1 349.8,206.7 350.1,206.6 350.4,206.8 350.8,207.4 351.2,208.3 351.5,209.3 352.1,212.1 352.5,215.7 352.7,219.9 353.0,223.9 353.3,228.7 353.5,233.6 353.8,238.6 354.0,243.5 354.2,247.8 354.3,252.2 354.6,256.3 355.0,260.0 355.4,262.1 355.9,264.0 356.4,265.8 356.9,267.7 357.3,270.1 357.6,272.8 357.9,275.0 358.4,276.0 358.8,275.6 359.3,274.5 359.8,273.0 360.3,271.6 361.1,269.6 361.9,267.3 362.8,265.0 363.8,262.8 364.7,260.9 365.7,259.1 366.7,257.4 367.7,256.0 368.3,255.2 368.8,254.6 369.4,253.9 370.0,253.2 370.7,252.1 371.4,250.9 372.2,249.7 372.9,248.8 373.5,248.4 374.2,248.0 374.8,247.8 375.4,247.9 376.0,248.3 376.6,249.1 377.2,250.1 377.8,251.3 379.0,253.8 380.2,257.0 381.5,260.2 382.7,262.8 383.4,264.0 384.0,265.1 384.7,265.9 385.6,266.7 387.5,267.5 389.7,268.0 392.2,268.3 394.4,268.7 396.2,269.1 397.9,269.6 399.6,270.0 401.2,270.1 402.8,270.0 404.3,269.8 405.8,269.3 407.1,268.7 408.2,267.7 409.2,266.6 410.1,265.3 411.0,264.3 411.9,263.5 412.8,262.7 413.6,262.1 414.4,261.8 415.1,262.0 415.7,262.5 416.3,263.1 416.9,263.8 417.7,265.2 418.3,266.9 419.0,268.8 419.8,270.6 420.7,272.4 421.6,274.1 422.6,275.8 423.7,277.5 424.9,279.0 426.1,280.5 427.4,281.8 428.6,282.8 429.3,283.2 430.0,283.5 430.7,283.7 431.5,283.8 432.6,283.8 433.8,283.7 435.1,283.5 436.4,283.3 438.1,283.1 439.8,282.9 441.6,282.8 443.2,282.8 444.5,283.0 445.8,283.3 447.0,283.7 448.1,284.3 449.4,285.2 450.6,286.2 451.8,287.4 453.0,288.7 454.3,290.2 455.5,291.8 456.7,293.4 457.9,295.0 459.1,296.6 460.3,298.2 461.5,299.7 462.8,300.9 463.9,301.6 465.0,302.0 466.2,302.4 467.4,302.9 467.5,302.9 467.5,331.9 72.7,331.9" fill="#0050FF"/>
<polygon points="72.7,326.7 73.1,326.7 74.8,326.4 76.4,326.2 78.0,326.0 79.8,325.7 82.1,325.5 84.6,325.3 87.1,325.0 89.0,324.4 90.1,323.8 90.9,322.9 91.7,322.0 92.5,321.0 93.4,319.7 94.3,318.2 95.3,316.8 96.4,315.6 97.5,314.9 98.7,314.4 100.0,314.1 101.3,314.0 102.5,314.2 103.7,314.6 104.9,315.2 106.1,315.6 107.3,316.0 108.5,316.4 109.8,316.7 111.0,317.1 112.4,317.5 113.9,318.0 115.4,318.5 116.9,319.1 118.4,319.8 120.0,320.7 121.4,321.5 122.7,322.2 123.4,322.5 124.0,322.9 124.6,323.0 125.2,323.0 126.1,321.8 126.9,319.7 127.7,317.3 128.6,315.2 129.5,313.3 130.5,311.4 131.5,309.8 132.5,309.1 133.1,309.3 133.8,309.8 134.4,310.5 134.9,311.2 135.6,312.4 136.1,313.7 136.6,315.0 137.4,316.1 138.4,317.1 139.6,317.8 140.9,318.5 142.3,319.1 143.6,319.5 144.9,319.7 146.4,319.9 148.1,320.0 153.0,320.3 159.3,320.4 165.5,320.1 170.0,319.5 171.3,319.0 172.3,318.4 173.1,317.8 173.9,317.0 174.7,315.8 175.4,314.4 176.1,313.0 176.8,311.6 177.7,310.4 178.7,309.2 179.7,308.2 180.7,307.7 181.7,307.8 182.7,308.3 183.7,309.0 184.6,309.7 185.9,310.8 187.0,312.1 188.3,313.5 189.5,314.6 190.7,315.3 191.9,315.9 193.2,316.4 194.4,316.7 195.6,316.9 196.8,317.1 198.1,317.1 199.3,317.0 200.5,316.9 201.8,316.7 203.0,316.4 204.2,316.0 205.5,315.5 206.8,314.8 208.1,314.1 209.1,313.1 209.8,312.0 210.3,310.7 210.6,309.3 211.0,307.7 211.6,304.7 212.1,301.2 212.5,297.5 213.0,294.1 213.3,291.4 213.6,288.8 213.9,286.4 214.4,284.3 214.9,283.1 215.4,282.1 216.1,281.2 216.9,280.4 218.1,279.6 219.7,279.0 221.3,278.5 222.7,278.4 223.8,278.7 224.7,279.1 225.7,279.7 226.6,280.4 227.8,281.5 229.0,282.8 230.3,284.1 231.5,285.3 232.7,286.2 234.0,287.0 235.2,287.6 236.4,287.7 237.5,287.3 238.5,286.5 239.4,285.4 240.3,284.3 241.2,283.0 241.9,281.6 242.6,280.1 243.2,278.4 243.8,276.4 244.3,274.2 244.8,271.9 245.2,269.6 245.7,267.2 246.2,264.8 246.7,262.3 247.1,259.9 247.4,257.5 247.6,255.1 247.8,252.8 248.1,250.3 248.7,247.4 249.5,244.4 250.3,241.5 251.1,238.6 251.8,236.1 252.6,233.7 253.3,231.3 254.0,228.8 254.6,226.4 255.1,224.1 255.5,221.7 255.9,219.1 256.4,215.6 256.7,211.9 257.1,208.1 257.4,204.4 257.8,200.1 258.3,195.3 258.7,191.4 258.9,189.8 258.7,191.4 258.3,194.9 257.9,198.4 257.8,200.0 258.2,196.9 259.0,190.1 260.0,183.3 260.9,180.2 261.8,182.5 262.6,188.0 263.6,194.6 264.8,200.0 265.9,203.2 267.0,206.4 268.4,209.0 270.0,210.8 271.3,211.3 272.8,211.3 274.4,211.1 275.9,211.2 277.4,211.7 278.9,212.2 280.3,212.9 281.7,213.7 283.0,214.6 284.3,215.7 285.4,216.8 286.6,218.1 287.9,219.6 289.1,221.3 290.3,223.1 291.5,224.9 292.7,227.0 293.8,229.2 295.0,231.2 296.4,232.7 297.5,233.5 298.7,233.9 300.0,234.3 301.2,234.7 302.5,235.1 303.7,235.5 305.0,235.9 306.1,236.6 307.5,238.0 308.7,239.7 309.8,241.6 311.0,243.5 312.2,245.5 313.4,247.6 314.6,249.6 315.9,251.3 316.8,252.3 317.8,253.2 318.8,253.9 319.8,254.2 320.8,254.1 321.8,253.7 322.8,253.1 323.7,252.3 325.1,250.4 326.3,247.8 327.4,245.1 328.6,242.5 329.5,240.4 330.4,238.3 331.3,236.4 332.5,234.7 333.8,233.5 335.4,232.6 337.0,231.7 338.4,230.8 339.4,229.9 340.4,229.0 341.4,228.0 342.3,226.9 343.4,224.8 344.4,222.3 345.3,219.6 346.2,217.1 347.0,214.7 347.8,212.3 348.5,210.0 349.1,208.3 349.4,207.7 349.6,207.1 349.8,206.7 350.1,206.6 350.4,206.8 350.8,207.4 351.2,208.3 351.5,209.3 352.1,212.1 352.5,215.7 352.7,219.9 353.0,223.9 353.3,228.7 353.5,233.6 353.8,238.6 354.0,243.5 354.2,247.8 354.3,252.2 354.6,256.3 355.0,260.0 355.4,262.1 355.9,264.0 356.4,265.8 356.9,267.7 357.3,270.1 357.6,272.8 357.9,275.0 358.4,276.0 358.8,275.6 359.3,274.5 359.8,273.0 360.3,271.6 361.1,269.6 361.9,267.3 362.8,265.0 363.8,262.8 364.7,260.9 365.7,259.1 366.7,257.4 367.7,256.0 368.3,255.2 368.8,254.6 369.4,253.9 370.0,253.2 370.7,252.1 371.4,250.9 372.2,249.7 372.9,248.8 373.5,248.4 374.2,248.0 374.8,247.8 375.4,247.9 376.0,248.3 376.6,249.1 377.2,250.1 377.8,251.3 379.0,253.8 380.2,257.0 381.5,260.2 382.7,262.8 383.4,264.0 384.0,265.1 384.7,265.9 385.6,266.7 387.5,267.5 389.7,268.0 392.2,268.3 394.4,268.7 396.2,269.1 397.9,269.6 399.6,270.0 401.2,270.1 402.8,270.0 404.3,269.8 405.8,269.3 407.1,268.7 408.2,267.7 409.2,266.6 410.1,265.3 411.0,264.3 411.9,263.5 412.8,262.7 413.6,262.1 414.4,261.8 415.1,262.0 415.7,262.5 416.3,263.1 416.9,263.8 417.7,265.2 418.3,266.9 419.0,268.8 419.8,270.6 420.7,272.4 421.6,274.1 422.6,275.8 423.7,277.5 424.9,279.0 426.1,280.5 427.4,281.8 428.6,282.8 429.3,283.2 430.0,283.5 430.7,283.7 431.5,283.8 432.6,283.8 433.8,283.7 435.1,283.5 436.4,283.3 438.1,283.1 439.8,282.9 441.6,282.8 443.2,282.8 444.5,283.0 445.8,283.3 447.0,283.7 448.1,284.3 449.4,285.2 450.6,286.2 451.8,287.4 453.0,288.7 454.3,290.2 455.5,291.8 456.7,293.4 457.9,295.0 459.1,296.6 460.3,298.2 461.5,299.7 462.8,300.9 463.9,301.6 465.0,302.0 466.2,302.4 467.4,302.9 467.5,302.9 467.5,331.9 72.7,331.9" fill="#0000EF"/>
<polygon points="72.7,326.7 73.1,326.7 74.8,326.4 76.4,326.2 78.0,326.0 79.8,325.7 82.1,325.5 84.6,325.3 87.1,325.0 89.0,324.4 90.1,323.8 90.9,322.9 91.7,322.0 92.5,321.0 93.4,319.7 94.3,318.2 95.3,316.8 96.4,315.6 97.5,314.9 98.7,314.4 100.0,314.1 101.3,314.0 102.5,314.2 103.7,314.6 104.9,315.2 106.1,315.6 107.3,316.0 108.5,316.4 109.8,316.7 111.0,317.1 112.4,317.5 113.9,318.0 115.4,318.5 116.9,319.1 118.4,319.8 120.0,320.7 121.4,321.5 122.7,322.2 123.4,322.5 124.0,322.9 124.6,323.0 125.2,323.0 126.1,321.8 126.9,319.7 127.7,317.3 128.6,315.2 129.5,313.3 130.5,311.4 131.5,309.8 132.5,309.1 133.1,309.2 133.8,309.8 134.4,310.5 134.9,311.2 135.6,312.5 136.1,314.1 136.7,315.8 137.4,317.1 138.0,317.9 138.7,318.6 139.5,319.3 140.3,319.8 141.6,320.6 142.9,321.2 144.5,321.8 146.2,322.2 148.8,322.4 151.8,322.4 154.8,322.3 157.9,322.2 161.0,322.3 164.3,322.5 167.4,322.6 170.0,322.4 171.4,322.0 172.6,321.4 173.7,320.9 174.9,320.4 176.1,320.1 177.2,319.8 178.4,319.6 179.8,319.5 182.0,319.4 184.4,319.6 187.0,319.8 189.5,319.9 192.0,320.0 194.4,320.2 196.9,320.2 199.3,320.2 201.8,320.3 204.4,320.3 206.9,320.2 209.1,319.6 210.5,318.8 211.6,317.7 212.7,316.6 213.9,315.7 215.1,315.4 216.2,315.2 217.5,315.1 218.8,315.1 221.0,314.9 223.5,314.8 226.1,314.8 228.6,314.8 231.0,314.8 233.5,314.9 235.9,314.9 238.4,314.8 240.9,314.4 243.5,313.8 245.9,313.1 248.1,312.6 249.5,312.3 250.7,312.0 251.8,311.8 253.0,311.6 254.2,311.5 255.5,311.4 256.7,311.4 257.9,311.6 259.1,312.2 260.3,313.0 261.5,313.9 262.8,314.6 264.0,315.1 265.3,315.5 266.6,315.8 267.7,316.0 268.3,316.2 268.8,316.3 269.4,316.3 270.0,316.3 271.1,316.2 272.3,315.8 273.6,315.4 274.9,315.1 276.1,314.7 277.3,314.2 278.5,313.8 279.8,313.4 281.0,313.0 282.2,312.7 283.4,312.4 284.6,312.1 285.8,311.9 287.0,311.6 288.2,311.4 289.5,311.2 291.7,310.9 294.2,310.7 296.8,310.6 299.3,310.5 301.7,310.4 304.2,310.3 306.6,310.2 309.1,310.2 311.5,310.1 313.9,310.1 316.4,310.1 318.8,310.2 321.3,310.2 323.7,310.3 326.2,310.4 328.6,310.5 331.0,310.5 333.5,310.5 336.0,310.6 338.4,310.7 340.7,310.7 343.1,310.7 345.3,310.9 347.1,311.4 348.1,312.1 348.8,313.0 349.4,314.0 350.1,315.1 350.8,316.4 351.5,317.9 352.2,319.3 353.0,320.4 353.7,321.1 354.4,321.6 355.1,322.0 355.9,322.4 356.9,322.8 357.8,323.3 358.8,323.6 359.8,323.8 360.8,323.9 361.7,323.7 362.7,323.5 363.8,323.4 365.2,323.2 366.8,323.0 368.5,322.7 370.0,322.4 371.2,322.0 372.4,321.4 373.5,320.9 374.9,320.4 377.1,319.9 379.5,319.4 382.1,319.0 384.6,318.5 387.1,317.9 389.5,317.2 392.0,316.6 394.4,316.0 396.9,315.5 399.3,315.1 401.8,314.7 404.2,314.4 406.4,314.1 408.7,313.8 410.9,313.6 413.0,313.6 414.5,313.8 415.9,314.2 417.3,314.6 418.8,315.1 421.1,315.6 423.6,316.3 426.1,316.9 428.6,317.5 431.0,318.0 433.5,318.5 435.9,319.0 438.4,319.5 440.8,319.8 443.2,320.2 445.7,320.5 448.1,320.9 450.6,321.5 453.0,322.2 455.5,322.8 457.9,323.4 460.3,323.7 462.6,324.0 465.0,324.3 467.4,324.5 467.5,324.5 467.5,331.9 72.7,331.9" fill="#00008F"/>
<polyline points="72.7,326.7 73.1,326.7 74.8,326.4 76.4,326.2 78.0,326.0 79.8,325.7 82.1,325.5 84.6,325.3 87.1,325.0 89.0,324.4 90.1,323.8 90.9,322.9 91.7,322.0 92.5,321.0 93.4,319.7 94.3,318.2 95.3,316.8 96.4,315.6 97.5,314.9 98.7,314.4 100.0,314.1 101.3,314.0 102.5,314.2 103.7,314.6 104.9,315.2 106.1,315.6 107.3,316.0 108.5,316.4 109.8,316.7 111.0,317.1 112.4,317.5 113.9,318.0 115.4,318.5 116.9,319.1 118.4,319.8 120.0,320.7 121.4,321.5 122.7,322.2 123.4,322.5 124.0,322.9 124.6,323.0 125.2,323.0 126.1,321.8 126.9,319.7 127.7,317.3 128.6,315.2 129.5,313.3 130.5,311.4 131.5,309.8 132.5,309.1 133.1,309.2 133.8,309.8 134.4,310.5 134.9,311.2 135.6,312.5 136.1,314.1 136.7,315.8 137.4,317.1 138.0,317.9 138.7,318.6 139.5,319.3 140.3,319.8 141.6,320.6 142.9,321.2 144.5,321.8 146.2,322.2 148.8,322.4 151.8,322.4 154.8,322.3 157.9,322.2 161.0,322.3 164.3,322.5 167.4,322.6 170.0,322.4 171.4,322.0 172.6,321.4 173.7,320.9 174.9,320.4 176.1,320.1 177.2,319.8 178.4,319.6 179.8,319.5 182.0,319.4 184.4,319.6 187.0,319.8 189.5,319.9 192.0,320.0 194.4,320.2 196.9,320.2 199.3,320.2 201.8,320.3 204.4,320.3 206.9,320.2 209.1,319.6 210.5,318.8 211.6,317.7 212.7,316.6 213.9,315.7 215.1,315.4 216.2,315.2 217.5,315.1 218.8,315.1 221.0,314.9 223.5,314.8 226.1,314.8 228.6,314.8 231.0,314.8 233.5,314.9 235.9,314.9 238.4,314.8 240.9,314.4 243.5,313.8 245.9,313.1 248.1,312.6 249.5,312.3 250.7,312.0 251.8,311.8 253.0,311.6 254.2,311.5 255.5,311.4 256.7,311.4 257.9,311.6 259.1,312.2 260.3,313.0 261.5,313.9 262.8,314.6 264.0,315.1 265.3,315.5 266.6,315.8 267.7,316.0 268.3,316.2 268.8,316.3 269.4,316.3 270.0,316.3 271.1,316.2 272.3,315.8 273.6,315.4 274.9,315.1 276.1,314.7 277.3,314.2 278.5,313.8 279.8,313.4 281.0,313.0 282.2,312.7 283.4,312.4 284.6,312.1 285.8,311.9 287.0,311.6 288.2,311.4 289.5,311.2 291.7,310.9 294.2,310.7 296.8,310.6 299.3,310.5 301.7,310.4 304.2,310.3 306.6,310.2 309.1,310.2 311.5,310.1 313.9,310.1 316.4,310.1 318.8,310.2 321.3,310.2 323.7,310.3 326.2,310.4 328.6,310.5 331.0,310.5 333.5,310.5 336.0,310.6 338.4,310.7 340.7,310.7 343.1,310.7 345.3,310.9 347.1,311.4 348.1,312.1 348.8,313.0 349.4,314.0 350.1,315.1 350.8,316.4 351.5,317.9 352.2,319.3 353.0,320.4 353.7,321.1 354.4,321.6 355.1,322.0 355.9,322.4 356.9,322.8 357.8,323.3 358.8,323.6 359.8,323.8 360.8,323.9 361.7,323.7 362.7,323.5 363.8,323.4 365.2,323.2 366.8,323.0 368.5,322.7 370.0,322.4 371.2,322.0 372.4,321.4 373.5,320.9 374.9,320.4 377.1,319.9 379.5,319.4 382.1,319.0 384.6,318.5 387.1,317.9 389.5,317.2 392.0,316.6 394.4,316.0 396.9,315.5 399.3,315.1 401.8,314.7 404.2,314.4 406.4,314.1 408.7,313.8 410.9,313.6 413.0,313.6 414.5,313.8 415.9,314.2 417.3,314.6 418.8,315.1 421.1,315.6 423.6,316.3 426.1,316.9 428.6,317.5 431.0,318.0 433.5,318.5 435.9,319.0 438.4,319.5 440.8,319.8 443.2,320.2 445.7,320.5 448.1,320.9 450.6,321.5 453.0,322.2 455.5,322.8 457.9,323.4 460.3,323.7 462.6,324.0 465.0,324.3 467.4,324.5 467.5,324.5" fill="none" stroke="#000" stroke-width="0.90" stroke-linejoin="round"/>
<polyline points="72.7,326.7 73.1,326.7 74.8,326.4 76.4,326.2 78.0,326.0 79.8,325.7 82.1,325.5 84.6,325.3 87.1,325.0 89.0,324.4 90.1,323.8 90.9,322.9 91.7,322.0 92.5,321.0 93.4,319.7 94.3,318.2 95.3,316.8 96.4,315.6 97.5,314.9 98.7,314.4 100.0,314.1 101.3,314.0 102.5,314.2 103.7,314.6 104.9,315.2 106.1,315.6 107.3,316.0 108.5,316.4 109.8,316.7 111.0,317.1 112.4,317.5 113.9,318.0 115.4,318.5 116.9,319.1 118.4,319.8 120.0,320.7 121.4,321.5 122.7,322.2 123.4,322.5 124.0,322.9 124.6,323.0 125.2,323.0 126.1,321.8 126.9,319.7 127.7,317.3 128.6,315.2 129.5,313.3 130.5,311.4 131.5,309.8 132.5,309.1 133.1,309.3 133.8,309.8 134.4,310.5 134.9,311.2 135.6,312.4 136.1,313.7 136.6,315.0 137.4,316.1 138.4,317.1 139.6,317.8 140.9,318.5 142.3,319.1 143.6,319.5 144.9,319.7 146.4,319.9 148.1,320.0 153.0,320.3 159.3,320.4 165.5,320.1 170.0,319.5 171.3,319.0 172.3,318.4 173.1,317.8 173.9,317.0 174.7,315.8 175.4,314.4 176.1,313.0 176.8,311.6 177.7,310.4 178.7,309.2 179.7,308.2 180.7,307.7 181.7,307.8 182.7,308.3 183.7,309.0 184.6,309.7 185.9,310.8 187.0,312.1 188.3,313.5 189.5,314.6 190.7,315.3 191.9,315.9 193.2,316.4 194.4,316.7 195.6,316.9 196.8,317.1 198.1,317.1 199.3,317.0 200.5,316.9 201.8,316.7 203.0,316.4 204.2,316.0 205.5,315.5 206.8,314.8 208.1,314.1 209.1,313.1 209.8,312.0 210.3,310.7 210.6,309.3 211.0,307.7 211.6,304.7 212.1,301.2 212.5,297.5 213.0,294.1 213.3,291.4 213.6,288.8 213.9,286.4 214.4,284.3 214.9,283.1 215.4,282.1 216.1,281.2 216.9,280.4 218.1,279.6 219.7,279.0 221.3,278.5 222.7,278.4 223.8,278.7 224.7,279.1 225.7,279.7 226.6,280.4 227.8,281.5 229.0,282.8 230.3,284.1 231.5,285.3 232.7,286.2 234.0,287.0 235.2,287.6 236.4,287.7 237.5,287.3 238.5,286.5 239.4,285.4 240.3,284.3 241.2,283.0 241.9,281.6 242.6,280.1 243.2,278.4 243.8,276.4 244.3,274.2 244.8,271.9 245.2,269.6 245.7,267.2 246.2,264.8 246.7,262.3 247.1,259.9 247.4,257.5 247.6,255.1 247.8,252.8 248.1,250.3 248.7,247.4 249.5,244.4 250.3,241.5 251.1,238.6 251.8,236.1 252.6,233.7 253.3,231.3 254.0,228.8 254.6,226.4 255.1,224.1 255.5,221.7 255.9,219.1 256.4,215.6 256.7,211.9 257.1,208.1 257.4,204.4 257.8,200.1 258.3,195.3 258.7,191.4 258.9,189.8 258.7,191.4 258.3,194.9 257.9,198.4 257.8,200.0 258.2,196.9 259.0,190.1 260.0,183.3 260.9,180.2 261.8,182.5 262.6,188.0 263.6,194.6 264.8,200.0 265.9,203.2 267.0,206.4 268.4,209.0 270.0,210.8 271.3,211.3 272.8,211.3 274.4,211.1 275.9,211.2 277.4,211.7 278.9,212.2 280.3,212.9 281.7,213.7 283.0,214.6 284.3,215.7 285.4,216.8 286.6,218.1 287.9,219.6 289.1,221.3 290.3,223.1 291.5,224.9 292.7,227.0 293.8,229.2 295.0,231.2 296.4,232.7 297.5,233.5 298.7,233.9 300.0,234.3 301.2,234.7 302.5,235.1 303.7,235.5 305.0,235.9 306.1,236.6 307.5,238.0 308.7,239.7 309.8,241.6 311.0,243.5 312.2,245.5 313.4,247.6 314.6,249.6 315.9,251.3 316.8,252.3 317.8,253.2 318.8,253.9 319.8,254.2 320.8,254.1 321.8,253.7 322.8,253.1 323.7,252.3 325.1,250.4 326.3,247.8 327.4,245.1 328.6,242.5 329.5,240.4 330.4,238.3 331.3,236.4 332.5,234.7 333.8,233.5 335.4,232.6 337.0,231.7 338.4,230.8 339.4,229.9 340.4,229.0 341.4,228.0 342.3,226.9 343.4,224.8 344.4,222.3 345.3,219.6 346.2,217.1 347.0,214.7 347.8,212.3 348.5,210.0 349.1,208.3 349.4,207.7 349.6,207.1 349.8,206.7 350.1,206.6 350.4,206.8 350.8,207.4 351.2,208.3 351.5,209.3 352.1,212.1 352.5,215.7 352.7,219.9 353.0,223.9 353.3,228.7 353.5,233.6 353.8,238.6 354.0,243.5 354.2,247.8 354.3,252.2 354.6,256.3 355.0,260.0 355.4,262.1 355.9,264.0 356.4,265.8 356.9,267.7 357.3,270.1 357.6,272.8 357.9,275.0 358.4,276.0 358.8,275.6 359.3,274.5 359.8,273.0 360.3,271.6 361.1,269.6 361.9,267.3 362.8,265.0 363.8,262.8 364.7,260.9 365.7,259.1 366.7,257.4 367.7,256.0 368.3,255.2 368.8,254.6 369.4,253.9 370.0,253.2 370.7,252.1 371.4,250.9 372.2,249.7 372.9,248.8 373.5,248.4 374.2,248.0 374.8,247.8 375.4,247.9 376.0,248.3 376.6,249.1 377.2,250.1 377.8,251.3 379.0,253.8 380.2,257.0 381.5,260.2 382.7,262.8 383.4,264.0 384.0,265.1 384.7,265.9 385.6,266.7 387.5,267.5 389.7,268.0 392.2,268.3 394.4,268.7 396.2,269.1 397.9,269.6 399.6,270.0 401.2,270.1 402.8,270.0 404.3,269.8 405.8,269.3 407.1,268.7 408.2,267.7 409.2,266.6 410.1,265.3 411.0,264.3 411.9,263.5 412.8,262.7 413.6,262.1 414.4,261.8 415.1,262.0 415.7,262.5 416.3,263.1 416.9,263.8 417.7,265.2 418.3,266.9 419.0,268.8 419.8,270.6 420.7,272.4 421.6,274.1 422.6,275.8 423.7,277.5 424.9,279.0 426.1,280.5 427.4,281.8 428.6,282.8 429.3,283.2 430.0,283.5 430.7,283.7 431.5,283.8 432.6,283.8 433.8,283.7 435.1,283.5 436.4,283.3 438.1,283.1 439.8,282.9 441.6,282.8 443.2,282.8 444.5,283.0 445.8,283.3 447.0,283.7 448.1,284.3 449.4,285.2 450.6,286.2 451.8,287.4 453.0,288.7 454.3,290.2 455.5,291.8 456.7,293.4 457.9,295.0 459.1,296.6 460.3,298.2 461.5,299.7 462.8,300.9 463.9,301.6 465.0,302.0 466.2,302.4 467.4,302.9 467.5,302.9" fill="none" stroke="#000" stroke-width="0.90" stroke-linejoin="round"/>
<polyline points="72.7,319.1 73.1,319.1 73.8,316.7 74.6,314.3 75.2,311.9 75.9,309.3 76.4,306.0 76.9,302.6 77.3,298.8 77.8,294.6 78.7,286.8 79.6,277.7 80.5,268.4 81.2,260.0 81.7,254.2 82.0,248.7 82.4,243.5 82.7,238.6 82.9,234.7 83.2,231.1 83.4,227.5 83.7,223.9 84.0,220.2 84.4,216.4 84.8,212.8 85.1,209.3 85.4,206.7 85.6,204.3 85.8,201.9 86.1,199.5 86.5,197.2 87.0,195.0 87.6,192.6 88.1,189.8 89.0,183.1 89.9,175.1 90.7,166.5 91.5,158.6 92.0,152.2 92.5,145.9 93.0,139.9 93.4,134.2 93.8,129.7 94.2,125.4 94.6,121.3 94.9,117.6 95.1,114.8 95.2,112.1 95.4,109.8 95.9,108.3 96.2,108.0 96.5,107.8 96.9,107.7 97.3,107.6 98.2,107.8 99.2,108.3 100.3,108.8 101.2,109.3 102.0,109.5 102.8,109.7 103.5,109.9 104.2,110.3 105.0,110.9 105.7,111.7 106.4,112.7 107.1,113.7 108.1,115.0 109.1,116.5 110.0,118.0 111.0,119.5 112.0,121.2 113.0,122.9 114.0,124.6 114.9,126.4 115.8,128.2 116.5,130.2 117.2,132.1 117.9,134.2 118.4,136.5 118.9,139.0 119.4,141.5 119.8,143.9 120.2,146.3 120.6,148.7 120.9,151.1 121.3,153.7 121.7,157.2 122.0,161.0 122.4,164.7 122.7,168.4 123.0,171.4 123.2,174.3 123.5,177.1 123.7,180.0 124.0,183.2 124.3,186.7 124.6,189.6 124.9,190.7 125.2,189.7 125.5,187.1 125.9,183.6 126.2,180.0 126.6,173.2 127.0,165.1 127.3,156.6 127.6,148.8 127.9,143.0 128.1,137.4 128.4,132.1 128.6,127.3 128.8,123.9 128.9,120.4 129.1,117.7 129.3,116.6 129.5,117.2 129.7,118.6 129.9,120.5 130.1,122.5 130.3,126.0 130.6,130.1 130.8,134.6 131.0,139.1 131.4,143.8 131.7,148.7 132.1,153.6 132.5,158.6 132.9,163.9 133.4,169.3 133.7,174.7 134.0,180.0 134.0,184.9 133.9,189.8 133.7,194.7 133.7,199.5 133.7,204.4 133.8,209.3 133.9,214.2 134.1,219.1 134.1,223.9 134.2,228.8 134.3,233.6 134.5,238.6 134.7,243.8 134.9,248.9 135.2,254.2 135.4,260.0 135.7,268.5 135.9,277.9 136.1,287.0 136.4,294.6 136.6,298.3 136.9,301.6 137.1,304.5 137.4,307.3 137.6,309.5 137.7,311.6 138.0,313.5 138.4,315.2 138.8,316.2 139.2,317.2 139.7,318.0 140.3,318.6 140.7,318.8 141.2,318.9 141.7,319.0 142.3,319.1 143.4,319.3 144.8,319.6 146.3,319.9 148.1,320.0 153.0,320.3 159.3,320.4 165.5,320.1 170.0,319.5 171.3,319.0 172.3,318.4 173.1,317.8 173.9,317.0 174.7,315.8 175.4,314.4 176.1,313.0 176.8,311.6 177.7,310.4 178.7,309.2 179.7,308.2 180.7,307.7 181.7,307.8 182.7,308.3 183.7,309.0 184.6,309.7 185.9,310.8 187.0,312.1 188.3,313.5 189.5,314.6 190.7,315.3 191.9,315.9 193.2,316.4 194.4,316.7 195.6,316.9 196.8,317.1 198.1,317.1 199.3,317.0 200.5,316.9 201.8,316.7 203.0,316.4 204.2,316.0 205.5,315.5 206.8,314.8 208.1,314.1 209.1,313.1 209.8,312.0 210.3,310.7 210.6,309.3 211.0,307.7 211.6,304.7 212.1,301.2 212.5,297.5 213.0,294.1 213.3,291.4 213.6,288.8 213.9,286.4 214.4,284.3 214.9,283.1 215.4,282.1 216.1,281.2 216.9,280.4 218.1,279.6 219.7,279.0 221.3,278.5 222.7,278.4 223.8,278.7 224.7,279.1 225.7,279.7 226.6,280.4 227.8,281.5 229.0,282.8 230.3,284.1 231.5,285.3 232.7,286.2 234.0,287.0 235.2,287.6 236.4,287.7 237.5,287.3 238.5,286.5 239.4,285.4 240.3,284.3 241.2,283.0 241.9,281.6 242.6,280.1 243.2,278.4 243.8,276.4 244.3,274.2 244.8,271.9 245.2,269.6 245.7,267.2 246.2,264.8 246.7,262.3 247.1,259.9 247.4,257.5 247.6,255.1 247.8,252.8 248.1,250.3 248.7,247.4 249.5,244.4 250.3,241.5 251.1,238.6 251.8,236.1 252.6,233.7 253.3,231.3 254.0,228.8 254.6,226.4 255.1,224.1 255.5,221.7 255.9,219.1 256.4,215.6 256.7,211.9 257.1,208.1 257.4,204.4 257.8,200.1 258.3,195.3 258.7,191.4 258.9,189.8 258.7,191.4 258.3,194.9 257.9,198.4 257.8,200.0 258.2,196.9 259.0,190.1 260.0,183.3 260.9,180.2 261.8,182.5 262.6,188.0 263.6,194.6 264.8,200.0 265.9,203.2 267.0,206.4 268.4,209.0 270.0,210.8 271.3,211.3 272.8,211.3 274.4,211.1 275.9,211.2 277.4,211.7 278.9,212.2 280.3,212.9 281.7,213.7 283.0,214.6 284.3,215.7 285.4,216.8 286.6,218.1 287.9,219.6 289.1,221.3 290.3,223.1 291.5,224.9 292.7,227.0 293.8,229.2 295.0,231.2 296.4,232.7 297.5,233.5 298.7,233.9 300.0,234.3 301.2,234.7 302.5,235.1 303.7,235.5 305.0,235.9 306.1,236.6 307.5,238.0 308.7,239.7 309.8,241.6 311.0,243.5 312.2,245.5 313.4,247.6 314.6,249.6 315.9,251.3 316.8,252.3 317.8,253.2 318.8,253.9 319.8,254.2 320.8,254.1 321.8,253.7 322.8,253.1 323.7,252.3 325.1,250.4 326.3,247.8 327.4,245.1 328.6,242.5 329.5,240.4 330.4,238.3 331.3,236.4 332.5,234.7 333.8,233.5 335.4,232.6 337.0,231.7 338.4,230.8 339.4,229.9 340.4,229.0 341.4,228.0 342.3,226.9 343.4,224.8 344.4,222.3 345.3,219.6 346.2,217.1 347.0,214.7 347.8,212.3 348.5,210.0 349.1,208.3 349.4,207.7 349.6,207.1 349.8,206.7 350.1,206.6 350.4,206.8 350.8,207.4 351.2,208.3 351.5,209.3 352.1,212.1 352.5,215.7 352.7,219.9 353.0,223.9 353.3,228.7 353.5,233.6 353.8,238.6 354.0,243.5 354.2,247.8 354.3,252.2 354.6,256.3 355.0,260.0 355.4,262.1 355.9,264.0 356.4,265.8 356.9,267.7 357.3,270.1 357.6,272.8 357.9,275.0 358.4,276.0 358.8,275.6 359.3,274.5 359.8,273.0 360.3,271.6 361.1,269.6 361.9,267.3 362.8,265.0 363.8,262.8 364.7,260.9 365.7,259.1 366.7,257.4 367.7,256.0 368.3,255.2 368.8,254.6 369.4,253.9 370.0,253.2 370.7,252.1 371.4,250.9 372.2,249.7 372.9,248.8 373.5,248.4 374.2,248.0 374.8,247.8 375.4,247.9 376.0,248.3 376.6,249.1 377.2,250.1 377.8,251.3 379.0,253.8 380.2,257.0 381.5,260.2 382.7,262.8 383.4,264.0 384.0,265.1 384.7,265.9 385.6,266.7 387.5,267.5 389.7,268.0 392.2,268.3 394.4,268.7 396.2,269.1 397.9,269.6 399.6,270.0 401.2,270.1 402.8,270.0 404.3,269.8 405.8,269.3 407.1,268.7 408.2,267.7 409.2,266.6 410.1,265.3 411.0,264.3 411.9,263.5 412.8,262.7 413.6,262.1 414.4,261.8 415.1,262.0 415.7,262.5 416.3,263.1 416.9,263.8 417.7,265.2 418.3,266.9 419.0,268.8 419.8,270.6 420.7,272.4 421.6,274.1 422.6,275.8 423.7,277.5 424.9,279.0 426.1,280.5 427.4,281.8 428.6,282.8 429.3,283.2 430.0,283.5 430.7,283.7 431.5,283.8 432.6,283.8 433.8,283.7 435.1,283.5 436.4,283.3 438.1,283.1 439.8,282.9 441.6,282.8 443.2,282.8 444.5,283.0 445.8,283.3 447.0,283.7 448.1,284.3 449.4,285.2 450.6,286.2 451.8,287.4 453.0,288.7 454.3,290.2 455.5,291.8 456.7,293.4 457.9,295.0 459.1,296.6 460.3,298.2 461.5,299.7 462.8,300.9 463.9,301.6 465.0,302.0 466.2,302.4 467.4,302.9 467.5,302.9" fill="none" stroke="#000" stroke-width="0.90" stroke-linejoin="round"/>
<polyline points="72.7,318.9 73.1,318.9 73.8,316.5 74.6,314.1 75.2,311.7 75.9,309.1 76.4,305.8 76.9,302.4 77.3,298.6 77.8,294.5 78.7,286.6 79.6,277.5 80.5,268.2 81.2,259.8 81.7,254.0 82.0,248.5 82.4,243.3 82.7,238.4 82.9,234.5 83.2,230.9 83.4,227.3 83.7,223.8 84.0,220.0 84.4,216.2 84.8,212.6 85.1,209.1 85.4,206.5 85.6,204.1 85.8,201.7 86.1,199.3 86.5,197.0 87.0,194.8 87.6,192.4 88.1,189.6 89.0,182.9 89.9,174.9 90.7,166.3 91.5,158.4 92.1,152.0 92.6,145.7 93.0,139.7 93.4,134.0 93.7,129.6 94.0,125.5 94.2,121.5 94.4,117.6 94.5,113.9 94.4,110.3 94.5,106.9 94.6,104.0 94.8,102.5 94.9,101.1 95.2,100.0 95.5,99.0 95.7,98.5 96.0,98.1 96.3,97.8 96.6,97.6 97.1,97.6 97.7,97.7 98.4,97.9 99.0,98.2 99.8,98.6 100.6,99.0 101.4,99.5 102.2,100.0 103.0,100.4 103.7,100.8 104.4,101.3 105.2,102.0 106.8,104.0 108.6,106.7 110.4,109.8 112.0,112.7 113.2,115.2 114.2,117.7 115.1,120.1 115.9,122.5 116.5,124.3 117.0,126.1 117.4,127.7 117.9,129.3 118.1,130.3 118.4,131.2 118.6,132.1 118.8,133.2 119.1,135.5 119.3,138.2 119.5,141.0 119.8,143.8 120.1,146.2 120.5,148.5 120.9,150.9 121.3,153.5 121.7,157.0 122.0,160.8 122.4,164.6 122.7,168.2 123.0,171.2 123.2,174.1 123.5,176.9 123.7,179.8 124.0,183.0 124.3,186.5 124.6,189.4 124.9,190.5 125.2,189.5 125.5,186.9 125.9,183.4 126.2,179.8 126.6,173.0 127.0,164.9 127.3,156.4 127.6,148.6 127.9,142.8 128.1,137.2 128.4,131.9 128.6,127.1 128.7,123.6 128.9,120.0 129.0,117.2 129.3,116.1 129.5,116.4 129.7,117.3 129.9,118.4 130.1,119.5 130.3,121.5 130.6,123.9 130.8,126.5 131.0,129.3 131.4,133.7 131.8,138.6 132.2,143.8 132.5,148.8 132.8,153.7 133.1,158.7 133.3,163.6 133.5,168.4 133.5,172.7 133.5,177.0 133.5,181.1 133.7,184.9 133.9,187.6 134.2,190.1 134.6,192.4 134.9,194.6 135.3,196.5 135.6,198.4 136.0,199.9 136.4,200.5 136.9,199.6 137.4,197.5 137.9,195.0 138.4,192.7 138.8,190.9 139.3,189.2 139.7,187.5 140.3,185.9 141.0,184.3 141.7,182.9 142.4,181.4 143.2,180.0 144.1,178.4 145.0,176.8 146.0,175.3 147.1,174.2 148.4,173.6 149.8,173.3 151.4,173.2 153.0,173.0 155.3,172.9 157.8,172.8 160.4,172.7 162.8,172.8 164.7,172.8 166.7,172.8 168.5,172.9 170.0,173.2 170.9,173.6 171.6,174.0 172.3,174.6 172.9,175.2 173.7,176.3 174.3,177.6 175.0,178.9 175.9,180.0 176.9,180.8 178.1,181.5 179.4,181.9 180.7,182.1 182.2,182.0 183.7,181.5 185.2,180.8 186.6,180.0 187.9,178.9 189.0,177.6 190.2,176.3 191.5,175.2 192.9,174.4 194.4,173.7 195.9,173.1 197.3,172.8 198.6,172.6 199.8,172.7 201.0,172.8 202.2,173.0 203.5,173.4 204.8,173.9 206.0,174.5 207.1,175.2 208.2,176.3 209.1,177.6 210.0,178.9 211.0,180.0 211.9,180.7 212.9,181.3 213.9,181.8 214.9,182.1 216.3,182.2 217.7,182.1 219.2,181.8 220.8,181.5 222.7,181.2 224.8,180.9 226.8,180.5 228.6,180.0 229.9,179.4 231.1,178.6 232.3,177.8 233.5,177.1 234.7,176.6 235.9,176.0 237.1,175.6 238.4,175.2 239.8,175.0 241.3,175.0 242.8,175.0 244.2,174.7 245.3,174.3 246.3,173.7 247.2,173.1 248.1,172.3 249.4,171.0 250.7,169.5 251.9,167.9 253.0,166.4 253.8,165.2 254.6,164.0 255.3,162.8 255.9,161.5 256.5,160.0 256.9,158.4 257.4,156.9 257.9,155.7 258.2,155.1 258.6,154.6 259.0,154.3 259.4,154.2 259.7,154.4 260.1,155.0 260.5,155.8 260.8,156.6 261.4,158.6 261.9,161.0 262.3,163.7 262.8,166.4 263.2,169.9 263.6,173.8 264.0,177.4 264.7,180.0 265.1,180.6 265.6,181.0 266.1,181.4 266.5,181.9 267.0,182.9 267.5,184.1 268.0,185.2 268.6,186.1 269.4,186.7 270.3,187.2 271.2,187.5 272.1,187.5 273.2,186.9 274.2,185.8 275.3,184.5 276.3,183.3 277.4,182.1 278.4,180.9 279.4,179.6 280.5,178.4 281.7,177.1 282.9,175.8 284.1,174.5 285.4,173.5 286.4,172.9 287.4,172.5 288.4,172.2 289.5,171.8 291.3,171.2 293.3,170.5 295.3,169.9 297.3,169.3 299.3,168.8 301.3,168.2 303.2,167.8 305.2,167.6 306.9,167.5 308.6,167.6 310.3,167.9 312.0,168.4 313.8,169.3 315.5,170.5 317.2,171.8 318.8,172.8 320.1,173.1 321.3,173.3 322.5,173.5 323.7,173.7 324.9,174.1 326.2,174.6 327.4,175.0 328.6,175.2 329.8,175.0 331.0,174.6 332.3,174.2 333.5,173.7 334.7,173.4 335.9,173.1 337.2,172.7 338.4,172.3 339.6,171.5 340.9,170.6 342.1,169.8 343.2,169.5 344.1,169.9 344.8,170.5 345.5,171.4 346.2,172.3 346.8,173.4 347.2,174.7 347.7,176.0 348.1,177.1 348.5,177.9 348.9,178.5 349.3,179.1 349.6,180.0 350.1,182.9 350.5,186.8 350.8,190.9 351.1,194.6 351.3,197.2 351.6,199.5 351.8,201.8 352.0,204.4 352.2,208.1 352.4,212.1 352.5,216.4 352.8,221.0 353.4,229.2 354.2,238.8 355.1,247.9 355.9,255.0 356.3,257.4 356.6,259.4 357.0,261.2 357.4,262.8 357.7,264.1 358.1,265.3 358.4,266.3 358.9,266.7 359.5,266.2 360.2,265.0 361.0,263.4 361.8,261.8 362.8,260.3 363.8,258.7 364.8,256.9 365.7,255.0 366.9,251.7 368.0,247.9 369.0,244.0 370.0,240.5 370.7,238.3 371.3,236.2 372.0,234.3 372.9,232.7 373.7,231.8 374.6,231.0 375.5,230.5 376.3,230.3 377.2,230.5 378.1,231.1 378.9,231.9 379.8,232.7 380.8,233.9 381.7,235.3 382.7,236.5 383.7,237.1 384.4,237.1 385.1,236.7 385.8,236.2 386.6,235.7 387.9,234.7 389.4,233.5 390.9,232.1 392.5,230.8 394.1,229.4 395.8,227.9 397.5,226.4 399.3,224.9 401.4,223.3 403.5,221.5 405.6,219.8 407.1,218.1 407.8,216.8 408.1,215.6 408.5,214.4 409.1,213.2 410.1,211.8 411.4,210.5 412.7,209.3 413.9,208.8 414.7,208.9 415.5,209.2 416.2,209.6 416.9,210.3 417.7,211.6 418.5,213.3 419.1,215.2 419.8,217.1 420.6,219.4 421.3,221.9 422.0,224.5 422.7,226.9 423.4,228.9 424.1,230.9 424.8,232.9 425.7,234.7 426.5,236.3 427.5,237.9 428.5,239.3 429.6,240.5 430.5,241.4 431.5,242.1 432.5,242.7 433.5,243.5 434.7,244.7 435.9,246.0 437.1,247.3 438.4,248.4 439.3,248.9 440.3,249.4 441.3,249.8 442.3,250.3 443.3,251.1 444.2,252.1 445.2,253.1 446.2,254.2 447.4,255.5 448.7,256.9 449.9,258.4 451.1,260.0 452.1,261.8 453.1,263.8 454.1,265.8 455.0,267.7 455.7,269.2 456.5,270.6 457.2,272.1 457.9,273.6 458.6,275.2 459.3,277.0 460.0,278.7 460.8,280.4 461.7,282.0 462.7,283.5 463.7,285.0 464.7,286.2 465.4,287.0 466.1,287.6 466.7,288.1 467.4,288.7 467.5,288.7" fill="none" stroke="#000" stroke-width="0.90" stroke-linejoin="round"/>
<polyline points="72.7,87.4 73.1,87.4 74.3,88.2 75.5,89.1 76.7,89.8 77.8,90.1 78.6,90.0 79.4,89.6 80.1,89.0 80.7,88.4 81.6,87.1 82.3,85.6 82.9,84.0 83.7,82.5 84.4,81.4 85.1,80.4 85.8,79.5 86.6,78.6 87.3,77.8 88.1,77.2 88.9,76.5 89.5,75.7 90.1,74.5 90.5,73.2 91.0,71.9 91.5,70.8 92.1,69.8 92.7,68.9 93.3,68.1 93.9,67.9 94.4,68.2 94.9,68.9 95.4,69.8 95.9,70.8 96.5,72.2 97.0,73.8 97.6,75.4 98.3,76.6 99.0,77.3 99.8,77.9 100.5,78.3 101.2,78.4 101.9,78.1 102.5,77.4 103.1,76.5 103.7,75.7 104.3,74.7 104.9,73.6 105.5,72.6 106.1,71.8 106.8,71.3 107.5,70.9 108.2,70.6 109.1,70.3 110.2,69.9 111.4,69.5 112.7,69.1 113.9,68.8 115.2,68.7 116.5,68.5 117.7,68.5 118.8,68.6 119.6,68.8 120.4,69.0 121.1,69.4 121.8,69.8 122.6,70.6 123.3,71.8 124.0,72.7 124.7,73.2 125.1,73.2 125.4,72.9 125.8,72.6 126.2,72.2 126.5,71.8 126.9,71.2 127.3,70.7 127.6,70.6 128.0,71.0 128.2,72.0 128.4,73.3 128.6,74.7 128.9,77.2 129.1,80.1 129.4,83.3 129.6,86.4 129.8,89.7 130.1,93.1 130.3,96.5 130.5,100.0 130.8,103.5 131.0,107.0 131.3,110.7 131.5,114.6 131.9,120.4 132.2,126.6 132.6,133.0 133.0,139.1 133.4,144.2 133.7,149.2 134.1,154.0 134.5,158.6 134.7,162.8 134.8,167.2 135.0,170.8 135.4,172.3 135.7,172.1 135.9,171.7 136.2,171.0 136.4,170.3 136.9,168.1 137.4,165.0 137.9,161.7 138.4,158.6 138.8,156.1 139.2,153.6 139.7,151.2 140.3,148.8 140.9,146.8 141.6,144.8 142.4,142.9 143.2,141.0 144.1,138.9 144.9,136.8 145.9,134.9 147.1,133.7 148.4,133.5 149.8,133.7 151.4,134.2 153.0,134.7 155.3,135.1 157.8,135.6 160.4,136.1 162.8,136.6 164.7,136.9 166.7,137.2 168.5,137.5 170.0,138.1 170.9,138.7 171.6,139.4 172.3,140.1 172.9,141.0 173.7,142.3 174.4,143.8 175.1,145.4 175.9,146.9 176.6,148.5 177.2,150.2 177.9,151.7 178.8,152.7 179.5,153.2 180.2,153.4 181.0,153.5 181.7,153.5 182.5,153.3 183.2,152.9 183.9,152.4 184.6,151.8 185.8,150.7 187.0,149.5 188.3,148.1 189.5,146.9 190.7,145.7 191.9,144.5 193.1,143.4 194.4,142.5 195.6,141.9 196.9,141.4 198.1,141.1 199.3,141.0 200.3,141.2 201.3,141.5 202.2,142.0 203.2,142.5 204.5,143.2 205.7,144.0 207.0,144.9 208.1,145.9 209.0,147.0 209.7,148.2 210.4,149.5 211.0,150.8 211.5,152.3 211.9,154.1 212.3,155.6 213.0,156.6 213.8,157.0 214.7,157.0 215.8,157.0 216.9,156.8 218.3,156.7 219.7,156.4 221.3,156.1 222.7,155.7 224.2,155.1 225.7,154.3 227.1,153.5 228.6,152.7 230.1,151.9 231.5,151.0 233.0,150.1 234.5,149.3 235.9,148.6 237.4,148.0 238.9,147.4 240.3,146.9 241.6,146.5 242.9,146.3 244.1,146.0 245.2,145.4 246.1,144.6 246.8,143.5 247.5,142.3 248.1,141.0 248.9,139.2 249.6,137.2 250.3,135.2 251.1,133.2 251.8,131.5 252.6,129.8 253.3,128.1 254.0,126.4 254.6,124.7 255.1,123.0 255.5,121.3 255.9,119.5 256.4,117.2 256.8,114.8 257.1,112.3 257.4,109.8 257.7,107.4 257.9,105.0 258.1,102.6 258.4,100.0 258.8,95.9 259.3,91.4 260.0,87.0 260.8,83.5 261.4,81.8 262.1,80.3 262.9,79.1 263.8,78.1 264.7,77.5 265.7,77.1 266.7,76.8 267.7,76.6 268.3,76.5 268.8,76.5 269.4,76.4 270.0,76.4 271.1,76.5 272.3,76.6 273.6,76.8 274.9,77.1 276.1,77.6 277.4,78.2 278.6,78.8 279.8,79.6 281.0,80.4 282.2,81.4 283.5,82.4 284.6,83.5 285.9,84.6 287.1,85.9 288.3,87.1 289.5,88.4 290.8,89.6 292.0,90.8 293.2,92.0 294.4,93.2 295.6,94.7 296.7,96.3 297.9,97.8 299.3,99.1 301.1,100.3 303.1,101.3 305.1,102.1 307.1,102.4 308.9,102.3 310.7,101.7 312.4,100.9 313.9,100.0 315.3,99.0 316.4,97.8 317.6,96.6 318.8,95.7 320.0,95.0 321.2,94.5 322.5,94.1 323.7,93.7 324.9,93.4 326.1,93.2 327.4,93.0 328.6,92.8 329.8,92.5 331.0,92.2 332.3,91.9 333.5,91.8 334.7,91.8 335.9,92.0 337.1,92.1 338.4,92.1 339.6,91.8 340.8,91.3 342.1,90.8 343.2,90.3 344.3,90.0 345.4,89.8 346.3,89.4 347.1,88.8 347.8,87.8 348.3,86.5 348.7,85.0 349.1,83.5 349.6,81.7 350.1,79.9 350.5,78.1 351.1,76.6 351.4,75.9 351.8,75.2 352.1,74.7 352.5,74.5 352.9,74.6 353.2,74.8 353.6,75.2 354.0,75.7 354.5,76.5 354.9,77.5 355.4,78.6 355.9,79.6 356.6,80.5 357.3,81.3 358.0,82.1 358.9,82.5 359.8,82.5 360.7,82.2 361.7,81.9 362.8,81.5 364.0,81.3 365.3,81.0 366.5,80.8 367.7,80.5 368.3,80.4 368.8,80.3 369.4,80.2 370.0,80.1 371.1,79.7 372.2,79.2 373.5,78.8 374.9,78.4 377.0,78.1 379.4,77.9 382.0,77.8 384.6,77.6 388.1,77.3 391.9,76.8 395.7,76.4 399.3,76.2 402.4,76.0 405.5,75.9 408.4,75.8 411.0,75.9 412.6,76.0 414.1,76.2 415.5,76.4 416.9,76.4 418.3,76.2 419.8,75.8 421.3,75.4 422.7,75.2 424.2,75.2 425.6,75.3 427.0,75.5 428.6,75.7 430.9,75.9 433.3,76.1 435.9,76.3 438.4,76.6 440.9,77.0 443.4,77.5 445.8,78.0 448.1,78.6 449.9,79.1 451.7,79.7 453.3,80.4 455.0,81.0 456.5,81.8 457.9,82.6 459.3,83.4 460.8,84.0 462.4,84.3 464.0,84.4 465.7,84.4 467.4,84.5 467.5,84.5" fill="none" stroke="#000" stroke-width="0.90" stroke-linejoin="round"/>
<polyline points="72.7,76.2 73.1,76.2 73.8,76.3 74.5,76.5 75.2,76.6 75.9,76.4 76.7,75.9 77.4,75.0 78.1,73.9 78.8,72.7 79.6,71.2 80.3,69.5 81.0,67.7 81.7,65.9 82.4,64.1 83.1,62.4 83.9,60.6 84.6,59.1 85.4,57.9 86.1,56.8 86.9,55.7 87.6,54.7 88.2,53.8 88.8,53.0 89.5,52.2 90.0,51.2 90.7,49.5 91.2,47.5 91.8,45.4 92.5,43.4 93.1,41.9 93.8,40.3 94.5,39.0 95.4,38.1 96.1,37.7 96.8,37.5 97.5,37.4 98.3,37.4 99.4,37.5 100.7,37.7 101.9,38.1 103.2,38.6 104.6,39.2 106.1,39.9 107.6,40.7 109.1,41.5 110.6,42.1 112.1,42.7 113.6,43.3 114.9,43.9 116.0,44.6 117.0,45.3 117.9,46.1 118.8,46.9 119.6,47.7 120.4,48.5 121.1,49.4 121.8,50.3 122.4,51.3 123.0,52.4 123.6,53.3 124.2,53.7 124.7,53.6 125.2,53.3 125.7,52.8 126.2,52.2 126.8,50.5 127.2,48.1 127.6,45.6 128.1,43.9 128.5,43.4 128.8,43.0 129.2,42.7 129.6,42.7 130.1,43.1 130.6,44.0 131.1,45.2 131.5,46.4 132.0,47.8 132.5,49.4 132.9,50.9 133.5,52.2 133.9,53.1 134.4,54.0 134.9,54.7 135.4,55.0 136.1,54.7 136.8,54.0 137.6,53.0 138.4,52.2 139.3,51.5 140.2,50.7 141.2,49.9 142.3,49.3 143.4,48.7 144.6,48.2 145.9,47.9 147.1,47.6 148.6,47.6 150.1,47.8 151.6,48.1 153.0,48.3 154.3,48.5 155.4,48.7 156.6,48.9 157.9,49.1 159.3,49.3 160.8,49.4 162.3,49.6 163.8,49.8 165.3,50.0 167.0,50.3 168.5,50.7 170.0,51.1 171.0,51.4 172.0,51.8 172.9,52.3 173.9,52.7 175.1,53.2 176.2,53.8 177.5,54.3 178.8,54.7 180.4,54.8 182.1,54.7 183.8,54.4 185.6,54.2 188.0,53.7 190.5,53.1 193.0,52.6 195.4,52.2 197.2,52.2 198.9,52.3 200.6,52.4 202.2,52.7 204.0,53.1 205.7,53.5 207.5,54.0 209.1,54.7 210.3,55.4 211.5,56.4 212.7,57.2 213.9,57.9 215.5,58.2 217.2,58.3 219.0,58.3 220.8,58.3 222.7,58.2 224.6,58.0 226.6,57.8 228.6,57.6 231.0,57.3 233.5,57.1 236.0,56.8 238.4,56.6 240.4,56.6 242.4,56.8 244.3,56.8 246.2,56.6 248.0,56.1 249.7,55.4 251.4,54.6 253.0,53.7 254.4,52.6 255.6,51.4 256.8,50.2 257.9,49.3 258.6,48.8 259.4,48.5 260.1,48.2 260.8,48.1 261.5,48.2 262.3,48.5 263.0,48.9 263.8,49.3 264.7,49.8 265.7,50.4 266.7,50.9 267.7,51.2 268.2,51.4 268.8,51.4 269.3,51.5 270.0,51.4 272.0,51.3 274.5,50.9 277.2,50.5 279.8,50.3 282.2,50.2 284.6,50.3 287.1,50.4 289.5,50.5 292.0,50.6 294.4,50.7 296.9,50.9 299.3,51.1 301.7,51.2 304.2,51.3 306.6,51.4 309.1,51.4 311.5,51.4 313.9,51.3 316.4,51.2 318.8,51.1 321.3,50.9 323.7,50.8 326.2,50.6 328.6,50.5 331.1,50.3 333.7,50.1 336.2,50.0 338.4,49.8 339.7,49.6 341.0,49.4 342.1,49.2 343.2,49.3 344.3,49.6 345.2,50.1 346.2,50.7 347.1,51.2 348.2,51.7 349.2,52.1 350.2,52.5 351.1,53.2 351.9,54.4 352.7,55.9 353.4,57.5 354.0,59.1 354.5,60.3 354.9,61.6 355.4,62.8 355.9,63.9 356.6,64.9 357.3,65.9 358.1,66.8 358.9,67.4 359.6,67.7 360.3,67.8 361.0,67.9 361.8,67.9 362.7,67.6 363.7,67.3 364.7,66.8 365.7,66.4 366.8,66.0 367.8,65.7 368.9,65.4 370.0,64.9 371.4,64.2 372.8,63.2 374.3,62.3 375.9,61.5 377.9,60.9 380.1,60.4 382.4,60.0 384.6,59.6 387.0,59.0 389.4,58.3 391.9,57.7 394.4,57.1 397.6,56.6 401.0,56.1 404.3,55.7 407.1,55.2 408.5,54.7 409.6,54.3 410.8,53.9 412.0,53.7 413.6,53.8 415.3,54.1 417.0,54.6 418.8,55.2 421.2,56.0 423.6,57.1 426.1,58.2 428.6,59.1 431.0,59.7 433.5,60.1 435.9,60.5 438.4,61.0 440.9,61.7 443.4,62.4 445.8,63.1 448.1,63.9 449.9,64.8 451.7,65.7 453.3,66.5 455.0,67.4 456.4,68.1 457.9,68.7 459.3,69.3 460.8,69.8 462.4,70.1 464.1,70.2 465.7,70.2 467.4,70.3 467.5,70.3" fill="none" stroke="#000" stroke-width="0.90" stroke-linejoin="round"/>
<polyline points="72.7,76.2 73.1,76.2 73.8,76.3 74.5,76.5 75.2,76.6 75.9,76.4 76.7,75.9 77.4,75.0 78.1,73.9 78.8,72.7 79.6,71.2 80.3,69.5 81.0,67.7 81.7,65.9 82.4,64.1 83.1,62.4 83.9,60.6 84.6,59.1 85.4,57.9 86.1,56.8 86.9,55.7 87.6,54.7 88.2,53.8 88.8,53.0 89.5,52.2 90.0,51.2 90.7,49.5 91.2,47.5 91.8,45.4 92.5,43.4 93.1,41.9 93.8,40.3 94.5,39.0 95.4,38.1 96.1,37.7 96.8,37.5 97.5,37.4 98.3,37.4 99.4,37.5 100.7,37.7 101.9,38.1 103.2,38.6 104.6,39.2 106.1,39.9 107.6,40.7 109.1,41.5 110.6,42.1 112.1,42.7 113.6,43.3 114.9,43.9 116.0,44.6 117.0,45.3 117.9,46.1 118.8,46.9 119.6,47.7 120.4,48.5 121.1,49.4 121.8,50.3 122.4,51.3 123.0,52.4 123.6,53.3 124.2,53.7 124.7,53.6 125.2,53.3 125.7,52.8 126.2,52.2 126.8,50.5 127.2,48.1 127.6,45.6 128.1,43.9 128.5,43.4 128.8,43.0 129.2,42.7 129.6,42.7 130.1,43.1 130.6,44.0 131.1,45.2 131.5,46.4 132.0,47.8 132.5,49.4 132.9,50.9 133.5,52.2 133.9,53.1 134.4,54.0 134.9,54.7 135.4,55.0 136.1,54.7 136.8,54.0 137.6,53.0 138.4,52.2 139.3,51.5 140.2,50.7 141.2,49.9 142.3,49.3 143.4,48.7 144.6,48.2 145.9,47.9 147.1,47.6 148.6,47.6 150.1,47.8 151.6,48.1 153.0,48.3 154.3,48.5 155.4,48.7 156.6,48.9 157.9,49.1 159.3,49.3 160.8,49.4 162.3,49.6 163.8,49.8 165.3,50.0 167.0,50.3 168.5,50.7 170.0,51.1 171.0,51.4 172.0,51.8 172.9,52.3 173.9,52.7 175.1,53.2 176.2,53.8 177.5,54.3 178.8,54.7 180.4,54.8 182.1,54.7 183.8,54.4 185.6,54.2 188.0,53.7 190.5,53.1 193.0,52.6 195.4,52.2 197.2,52.2 198.9,52.3 200.6,52.4 202.2,52.7 204.0,53.1 205.7,53.5 207.5,54.0 209.1,54.7 210.3,55.4 211.5,56.4 212.7,57.2 213.9,57.9 215.5,58.2 217.2,58.3 219.0,58.3 220.8,58.3 222.7,58.2 224.6,58.0 226.6,57.8 228.6,57.6 231.0,57.3 233.5,57.1 236.0,56.8 238.4,56.6 240.4,56.6 242.4,56.8 244.3,56.8 246.2,56.6 248.0,56.1 249.7,55.4 251.4,54.6 253.0,53.7 254.4,52.6 255.6,51.4 256.8,50.2 257.9,49.3 258.6,48.8 259.4,48.5 260.1,48.2 260.8,48.1 261.5,48.2 262.3,48.5 263.0,48.9 263.8,49.3 264.7,49.8 265.7,50.4 266.7,50.9 267.7,51.2 268.2,51.4 268.8,51.4 269.3,51.5 270.0,51.4 272.0,51.3 274.5,50.9 277.2,50.5 279.8,50.3 282.2,50.2 284.6,50.3 287.1,50.4 289.5,50.5 292.0,50.6 294.4,50.7 296.9,50.9 299.3,51.1 301.7,51.2 304.2,51.3 306.6,51.4 309.1,51.4 311.5,51.4 313.9,51.3 316.4,51.2 318.8,51.1 321.3,50.9 323.7,50.8 326.2,50.6 328.6,50.5 331.1,50.3 333.7,50.1 336.2,50.0 338.4,49.8 339.7,49.6 341.0,49.4 342.1,49.2 343.2,49.3 344.3,49.6 345.2,50.1 346.2,50.7 347.1,51.2 348.2,51.7 349.2,52.1 350.2,52.5 351.1,53.2 351.9,54.4 352.7,55.9 353.4,57.5 354.0,59.1 354.5,60.3 354.9,61.6 355.4,62.8 355.9,63.9 356.6,64.9 357.3,65.9 358.1,66.8 358.9,67.4 359.6,67.7 360.3,67.8 361.0,67.9 361.8,67.9 362.7,67.6 363.7,67.3 364.7,66.8 365.7,66.4 366.8,66.0 367.8,65.7 368.9,65.4 370.0,64.9 371.4,64.2 372.8,63.2 374.3,62.3 375.9,61.5 377.9,60.9 380.1,60.4 382.4,60.0 384.6,59.6 387.0,59.0 389.4,58.3 391.9,57.7 394.4,57.1 397.6,56.6 401.0,56.1 404.3,55.7 407.1,55.2 408.5,54.7 409.6,54.3 410.8,53.9 412.0,53.7 413.6,53.8 415.3,54.1 417.0,54.6 418.8,55.2 421.2,56.0 423.6,57.1 426.1,58.2 428.6,59.1 431.0,59.7 433.5,60.1 435.9,60.5 438.4,61.0 440.9,61.7 443.4,62.4 445.8,63.1 448.1,63.9 449.9,64.8 451.7,65.7 453.3,66.5 455.0,67.4 456.4,68.1 457.9,68.7 459.3,69.3 460.8,69.8 462.4,70.1 464.1,70.2 465.7,70.2 467.4,70.3 467.5,70.3" fill="none" stroke="#000" stroke-width="0.90" stroke-linejoin="round"/>
<polyline points="72.7,28.3 73.1,28.3 74.8,28.4 76.5,28.6 78.2,28.7 79.8,28.8 81.0,28.7 82.2,28.6 83.3,28.5 84.6,28.3 86.7,28.0 88.9,27.6 91.2,27.3 93.4,27.0 95.6,26.9 97.8,26.8 100.0,26.8 102.2,26.8 104.4,26.9 106.7,27.0 108.9,27.2 111.0,27.3 113.0,27.4 115.1,27.4 117.0,27.5 118.8,27.6 120.1,27.8 121.3,28.1 122.5,28.3 123.7,28.3 125.0,28.0 126.3,27.4 127.6,26.9 128.6,26.8 129.2,27.1 129.7,27.6 130.1,28.2 130.5,28.8 131.1,29.4 131.5,30.1 132.0,30.9 132.5,31.7 133.2,33.3 133.8,35.3 134.6,37.0 135.4,38.1 136.1,38.2 136.8,38.1 137.5,37.8 138.4,37.6 139.7,37.3 141.1,37.1 142.6,36.8 144.2,36.6 146.3,36.4 148.5,36.3 150.7,36.2 153.0,36.1 155.4,36.2 158.0,36.3 160.4,36.4 162.8,36.6 164.7,36.7 166.5,36.8 168.3,36.9 170.0,37.1 171.3,37.3 172.5,37.6 173.7,37.8 174.9,38.1 176.3,38.3 177.7,38.5 179.2,38.7 180.7,38.8 182.8,38.7 185.0,38.5 187.3,38.3 189.5,38.1 191.9,37.9 194.4,37.7 196.8,37.6 199.3,37.6 201.8,37.8 204.4,38.1 206.9,38.6 209.1,39.0 210.4,39.5 211.5,39.9 212.6,40.4 213.9,40.7 216.1,40.9 218.6,40.9 221.2,40.8 223.7,40.7 226.1,40.6 228.5,40.4 230.9,40.2 233.5,40.0 236.6,39.9 240.0,39.8 243.2,39.7 246.2,39.3 248.1,39.0 249.8,38.6 251.5,38.0 253.0,37.4 254.3,36.6 255.5,35.6 256.7,34.6 257.9,33.7 259.1,32.8 260.2,32.0 261.4,31.3 262.8,30.7 264.4,30.3 266.2,30.0 268.1,29.8 270.0,29.8 272.3,29.8 274.8,30.1 277.3,30.4 279.8,30.7 282.2,31.1 284.7,31.4 287.1,31.8 289.5,32.2 292.0,32.6 294.4,33.0 296.9,33.4 299.3,33.7 301.7,33.9 304.2,34.0 306.6,34.1 309.1,34.2 311.5,34.1 313.9,34.0 316.4,33.8 318.8,33.7 321.3,33.5 323.7,33.3 326.2,33.1 328.6,32.9 331.0,32.8 333.5,32.7 336.0,32.6 338.4,32.5 340.7,32.4 343.0,32.3 345.2,32.1 347.1,31.7 348.3,31.1 349.3,30.3 350.2,29.6 351.1,29.3 351.8,29.3 352.7,29.5 353.4,29.8 354.0,30.3 354.3,30.8 354.5,31.5 354.6,32.2 355.0,32.7 355.6,32.9 356.4,33.0 357.2,32.9 357.9,32.7 358.2,32.2 358.4,31.5 358.5,30.8 358.9,30.3 359.6,29.9 360.6,29.8 361.6,29.8 362.8,29.8 364.3,29.7 366.0,29.7 367.9,29.7 370.0,29.8 374.2,29.8 379.2,30.0 384.4,30.1 389.5,30.3 394.4,30.4 399.3,30.6 404.2,30.8 409.1,30.9 413.9,31.0 418.8,30.9 423.7,30.8 428.6,30.7 433.5,30.7 438.4,30.6 443.3,30.5 448.1,30.5 452.9,30.7 457.8,30.8 462.6,31.0 467.4,31.2 467.5,31.2" fill="none" stroke="#000" stroke-width="0.90" stroke-linejoin="round"/>
<polyline points="72.7,28.0 73.1,28.0 88.8,27.3 105.6,26.4 120.1,25.9 128.6,26.4 129.3,26.7 129.8,27.0 130.2,27.4 130.5,27.8 131.1,28.3 131.5,28.9 132.0,29.6 132.5,30.3 133.2,31.4 133.8,32.7 134.5,33.9 135.4,34.6 136.5,34.8 137.7,34.5 139.0,34.0 140.3,33.7 142.1,33.4 144.0,33.2 146.1,33.1 148.1,33.0 150.5,33.0 152.9,33.0 155.3,33.1 157.9,33.2 161.0,33.2 164.2,33.1 167.3,33.1 170.0,33.2 171.4,33.3 172.6,33.4 173.7,33.5 174.9,33.7 176.1,33.9 177.2,34.1 178.4,34.3 179.8,34.5 182.0,34.4 184.4,34.2 187.0,33.9 189.5,33.7 192.0,33.5 194.4,33.3 196.9,33.2 199.3,33.2 201.8,33.3 204.4,33.6 206.9,34.0 209.1,34.5 210.4,34.9 211.5,35.4 212.6,35.8 213.9,36.1 216.1,36.2 218.6,36.1 221.2,35.8 223.7,35.6 226.1,35.5 228.5,35.4 230.9,35.3 233.5,35.1 236.6,35.1 240.0,35.0 243.2,34.9 246.2,34.6 248.1,34.3 249.8,33.8 251.5,33.3 253.0,32.7 254.3,32.0 255.5,31.2 256.7,30.4 257.9,29.8 259.1,29.3 260.2,28.9 261.5,28.6 262.8,28.3 264.4,28.1 266.2,27.9 268.1,27.8 270.0,27.8 272.3,27.9 274.8,28.2 277.3,28.5 279.8,28.8 282.2,29.1 284.6,29.5 287.1,29.9 289.5,30.3 292.0,30.5 294.4,30.8 296.9,31.0 299.3,31.2 301.7,31.4 304.2,31.5 306.6,31.5 309.1,31.5 311.4,31.5 313.7,31.3 316.2,31.2 318.8,31.0 323.4,30.9 328.7,30.8 333.9,30.7 338.4,30.5 340.9,30.4 343.2,30.2 345.3,29.9 347.1,29.6 348.3,29.2 349.2,28.7 350.2,28.2 351.1,28.0 351.8,28.0 352.5,28.2 353.2,28.4 354.0,28.6 355.1,28.7 356.2,28.8 357.5,28.9 358.9,29.0 361.2,29.0 363.7,28.8 366.6,28.7 370.0,28.6 377.9,28.6 387.6,28.7 398.2,28.9 409.1,29.0 422.8,29.1 437.5,29.1 452.5,29.2 467.4,29.3 467.5,29.3" fill="none" stroke="#000" stroke-width="0.90" stroke-linejoin="round"/>
<polyline points="72.7,24.7 73.1,24.7 79.6,24.6 86.1,24.5 92.7,24.4 99.3,24.4 107.1,24.3 115.4,24.2 123.0,24.2 128.6,24.4 130.1,24.6 131.3,24.9 132.4,25.2 133.5,25.4 134.7,25.5 135.8,25.6 137.0,25.6 138.4,25.7 140.5,25.6 142.8,25.6 145.3,25.4 148.1,25.4 153.0,25.3 158.6,25.3 164.4,25.3 170.0,25.4 175.0,25.5 179.8,25.6 184.7,25.7 189.5,25.9 194.6,26.0 199.7,26.1 204.7,26.2 209.1,26.3 211.7,26.4 213.9,26.5 216.2,26.6 218.8,26.6 223.3,26.6 228.4,26.5 233.5,26.4 238.4,26.3 242.2,26.3 246.0,26.2 249.6,26.1 253.0,26.1 255.6,26.0 258.1,25.9 260.5,25.8 262.8,25.7 264.5,25.5 266.2,25.4 267.9,25.2 270.0,25.1 275.9,25.0 283.4,25.1 291.5,25.3 299.3,25.4 306.8,25.4 314.3,25.4 321.7,25.4 328.6,25.4 333.7,25.3 338.5,25.2 343.3,25.1 348.1,25.1 353.1,25.1 358.0,25.1 363.4,25.1 370.0,25.1 389.5,25.1 414.3,25.1 441.4,25.1 467.4,25.1 467.5,25.1" fill="none" stroke="#000" stroke-width="0.90" stroke-linejoin="round"/>
</g>
<polyline points="72.7,24.1 467.5,24.1 467.5,329.9 72.7,329.9" fill="none" stroke="#000" stroke-width="1"/>
<line x1="72.4" y1="24.1" x2="72.4" y2="329.9" stroke="#a8a8b8" stroke-width="0.8"/>
<text x="54.0" y="337.7" class="tk" text-anchor="middle">0</text>
<text x="54.0" y="276.3" class="tk" text-anchor="middle">20</text>
<text x="54.0" y="215.0" class="tk" text-anchor="middle">40</text>
<text x="54.0" y="153.6" class="tk" text-anchor="middle">60</text>
<text x="54.0" y="92.3" class="tk" text-anchor="middle">80</text>
<text x="54.0" y="30.9" class="tk" text-anchor="middle">100</text>
<text x="88.5" y="352.3" class="tk" text-anchor="middle">500</text>
<text x="185.5" y="352.3" class="tk" text-anchor="middle">1000</text>
<text x="279.5" y="352.3" class="tk" text-anchor="middle">1500</text>
<text x="373.5" y="352.3" class="tk" text-anchor="middle">2000</text>
<text x="467.5" y="352.3" class="tk" text-anchor="middle">2500</text>
<text x="270.6" y="371.5" class="xl" text-anchor="middle">Wavelength [nm]</text>
<text transform="translate(27.1,176.5) rotate(-90)" class="yl" text-anchor="middle">Total SI [%]</text>
<text transform="translate(251.9,409.8) scale(0.92,1)" class="cap" text-anchor="middle">(<tspan font-weight="bold">a</tspan>)</text>
<clipPath id="cc"><rect x="73.0" y="432.4" width="394.7" height="306.2"/></clipPath>
<g clip-path="url(#cc)">
<rect x="73.0" y="432.4" width="394.7" height="306.2" fill="#800000"/>
<polygon points="73.0,433.4 73.4,433.4 79.9,433.3 86.4,433.2 92.9,433.1 99.6,433.1 107.4,433.0 115.7,432.9 123.3,432.9 128.9,433.1 130.4,433.3 131.6,433.6 132.6,433.9 133.8,434.1 134.9,434.2 136.1,434.3 137.3,434.3 138.6,434.4 140.8,434.3 143.1,434.3 145.6,434.1 148.4,434.1 153.3,434.0 158.9,434.0 164.7,434.0 170.3,434.1 175.2,434.2 180.1,434.3 184.9,434.4 189.8,434.6 194.8,434.7 200.0,434.8 204.9,434.9 209.3,435.0 211.9,435.1 214.2,435.2 216.5,435.3 219.1,435.3 223.6,435.3 228.6,435.2 233.8,435.1 238.6,435.0 242.5,435.0 246.3,434.9 249.9,434.8 253.3,434.8 255.9,434.7 258.4,434.6 260.7,434.5 263.0,434.4 264.8,434.2 266.4,434.1 268.1,433.9 270.3,433.8 276.2,433.7 283.7,433.8 291.8,434.0 299.5,434.1 307.0,434.1 314.6,434.1 321.9,434.1 328.8,434.1 334.0,434.0 338.8,433.9 343.5,433.8 348.4,433.8 353.4,433.8 358.2,433.8 363.6,433.8 370.2,433.8 389.7,433.8 414.6,433.8 441.6,433.8 467.6,433.8 467.7,433.8 467.7,740.6 73.0,740.6" fill="#DF0000"/>
<polygon points="73.0,436.7 73.4,436.7 89.1,436.0 105.9,435.1 120.4,434.6 128.9,435.1 129.6,435.4 130.1,435.7 130.4,436.1 130.8,436.5 131.3,437.0 131.8,437.6 132.3,438.3 132.8,438.9 133.4,440.1 134.1,441.4 134.8,442.6 135.7,443.3 136.8,443.4 138.0,443.1 139.2,442.7 140.6,442.4 142.4,442.1 144.3,441.9 146.3,441.8 148.4,441.7 150.7,441.7 153.2,441.7 155.6,441.8 158.2,441.9 161.2,441.9 164.5,441.8 167.6,441.8 170.3,441.9 171.7,442.0 172.9,442.1 174.0,442.2 175.2,442.4 176.3,442.6 177.5,442.8 178.7,443.0 180.0,443.1 182.2,443.1 184.7,442.9 187.3,442.6 189.8,442.4 192.2,442.2 194.7,442.0 197.1,441.9 199.6,441.9 202.1,442.0 204.7,442.3 207.1,442.7 209.3,443.1 210.6,443.5 211.8,444.0 212.9,444.5 214.2,444.8 216.4,444.9 218.9,444.8 221.4,444.5 224.0,444.3 226.4,444.2 228.8,444.1 231.2,443.9 233.7,443.8 236.9,443.8 240.2,443.7 243.5,443.6 246.4,443.3 248.3,443.0 250.1,442.5 251.7,442.0 253.3,441.4 254.6,440.7 255.8,439.9 256.9,439.1 258.1,438.5 259.3,438.0 260.5,437.6 261.7,437.3 263.0,437.0 264.7,436.7 266.5,436.6 268.3,436.5 270.3,436.5 272.6,436.6 275.0,436.9 277.5,437.2 280.0,437.5 282.5,437.8 284.9,438.2 287.3,438.6 289.8,438.9 292.2,439.2 294.7,439.5 297.1,439.7 299.5,439.9 302.0,440.1 304.4,440.2 306.9,440.2 309.3,440.2 311.7,440.1 314.0,440.0 316.4,439.9 319.1,439.7 323.7,439.6 328.9,439.5 334.1,439.4 338.6,439.2 341.1,439.1 343.4,438.9 345.5,438.6 347.4,438.3 348.5,437.9 349.5,437.4 350.4,436.9 351.3,436.7 352.0,436.7 352.7,436.9 353.4,437.1 354.2,437.3 355.3,437.4 356.4,437.5 357.7,437.6 359.1,437.7 361.4,437.7 364.0,437.5 366.9,437.4 370.2,437.3 378.1,437.3 387.8,437.4 398.4,437.6 409.3,437.7 423.0,437.8 437.7,437.8 452.7,437.9 467.6,438.0 467.7,438.0 467.7,740.6 73.0,740.6" fill="#FF4000"/>
<polygon points="73.0,437.0 73.4,437.0 75.1,437.1 76.8,437.3 78.5,437.4 80.1,437.5 81.3,437.4 82.5,437.3 83.6,437.2 84.9,437.0 87.0,436.7 89.2,436.3 91.5,436.0 93.7,435.7 95.9,435.6 98.1,435.5 100.3,435.5 102.5,435.5 104.7,435.6 106.9,435.7 109.1,435.9 111.3,436.0 113.3,436.1 115.4,436.1 117.3,436.2 119.1,436.3 120.4,436.5 121.6,436.8 122.8,437.0 124.0,437.0 125.3,436.7 126.6,436.1 127.8,435.6 128.9,435.5 129.5,435.8 130.0,436.3 130.4,436.9 130.8,437.5 131.3,438.1 131.8,438.8 132.3,439.6 132.8,440.4 133.5,442.0 134.1,444.0 134.8,445.7 135.7,446.7 136.4,446.9 137.1,446.7 137.8,446.5 138.6,446.3 139.9,446.0 141.4,445.8 142.9,445.5 144.5,445.3 146.6,445.1 148.8,444.9 151.0,444.8 153.3,444.8 155.7,444.8 158.2,445.0 160.7,445.1 163.1,445.3 165.0,445.4 166.8,445.5 168.6,445.6 170.3,445.8 171.6,446.0 172.7,446.2 173.9,446.5 175.2,446.7 176.6,447.0 178.0,447.2 179.5,447.3 181.0,447.4 183.1,447.4 185.3,447.2 187.5,446.9 189.8,446.7 192.2,446.6 194.7,446.4 197.1,446.2 199.6,446.3 202.1,446.5 204.7,446.8 207.1,447.2 209.3,447.7 210.6,448.1 211.8,448.6 212.9,449.1 214.2,449.4 216.4,449.6 218.9,449.6 221.5,449.5 224.0,449.4 226.4,449.3 228.8,449.1 231.2,448.9 233.7,448.7 236.9,448.6 240.2,448.5 243.5,448.3 246.4,448.0 248.3,447.7 250.1,447.2 251.7,446.7 253.3,446.1 254.6,445.3 255.8,444.3 256.9,443.3 258.1,442.4 259.3,441.5 260.5,440.7 261.7,440.0 263.0,439.4 264.7,439.0 266.5,438.7 268.3,438.5 270.3,438.5 272.6,438.5 275.0,438.8 277.5,439.1 280.0,439.4 282.5,439.8 284.9,440.1 287.3,440.5 289.8,440.9 292.2,441.3 294.7,441.7 297.1,442.1 299.5,442.4 302.0,442.6 304.4,442.7 306.9,442.8 309.3,442.8 311.7,442.8 314.2,442.7 316.6,442.5 319.1,442.4 321.5,442.2 323.9,442.0 326.4,441.8 328.8,441.6 331.3,441.5 333.7,441.4 336.2,441.3 338.6,441.2 340.9,441.1 343.3,441.0 345.5,440.8 347.4,440.4 348.5,439.8 349.5,439.0 350.4,438.3 351.3,438.0 352.1,438.0 352.9,438.2 353.6,438.5 354.2,438.9 354.5,439.5 354.7,440.2 354.9,440.9 355.2,441.4 355.8,441.6 356.7,441.7 357.5,441.6 358.1,441.4 358.4,440.9 358.6,440.2 358.8,439.5 359.1,438.9 359.8,438.6 360.8,438.5 361.9,438.5 363.0,438.5 364.6,438.4 366.3,438.4 368.1,438.4 370.2,438.5 374.4,438.5 379.4,438.7 384.6,438.8 389.8,438.9 394.6,439.1 399.5,439.3 404.4,439.5 409.3,439.6 414.2,439.6 419.0,439.6 423.9,439.5 428.8,439.4 433.7,439.4 438.6,439.3 443.5,439.2 448.3,439.2 453.1,439.3 458.0,439.5 462.8,439.7 467.6,439.9 467.7,439.9 467.7,740.6 73.0,740.6" fill="#FFAF00"/>
<polygon points="73.0,484.8 73.4,484.8 74.1,484.9 74.8,485.1 75.5,485.2 76.2,485.1 77.0,484.5 77.7,483.6 78.4,482.5 79.1,481.4 79.9,479.8 80.6,478.1 81.3,476.3 82.0,474.5 82.7,472.8 83.4,471.0 84.2,469.3 84.9,467.7 85.7,466.5 86.4,465.4 87.1,464.4 87.9,463.3 88.5,462.5 89.1,461.7 89.7,460.9 90.3,459.9 91.0,458.2 91.5,456.1 92.1,454.0 92.8,452.1 93.4,450.6 94.1,449.0 94.8,447.7 95.7,446.7 96.3,446.4 97.1,446.2 97.8,446.1 98.6,446.1 99.7,446.2 101.0,446.4 102.2,446.8 103.5,447.2 104.9,447.9 106.4,448.6 107.9,449.4 109.4,450.2 110.8,450.8 112.4,451.3 113.8,451.9 115.2,452.6 116.3,453.3 117.3,454.0 118.2,454.7 119.1,455.5 119.9,456.3 120.7,457.2 121.4,458.1 122.0,458.9 122.7,459.9 123.3,461.0 123.9,461.9 124.5,462.4 125.0,462.3 125.5,462.0 126.0,461.5 126.4,460.9 127.0,459.1 127.5,456.7 127.8,454.3 128.4,452.6 128.7,452.1 129.1,451.7 129.5,451.4 129.9,451.3 130.4,451.8 130.9,452.7 131.3,453.9 131.8,455.0 132.3,456.5 132.8,458.0 133.2,459.6 133.8,460.9 134.2,461.8 134.7,462.7 135.2,463.3 135.7,463.6 136.4,463.4 137.1,462.6 137.9,461.7 138.6,460.9 139.5,460.1 140.5,459.3 141.5,458.6 142.5,458.0 143.7,457.4 144.9,456.9 146.1,456.5 147.4,456.3 148.9,456.3 150.4,456.5 151.8,456.7 153.3,457.0 154.5,457.2 155.7,457.4 156.9,457.6 158.2,457.8 159.6,457.9 161.1,458.1 162.5,458.2 164.0,458.5 165.6,458.7 167.2,459.0 168.8,459.3 170.3,459.7 171.3,460.1 172.3,460.5 173.2,460.9 174.2,461.4 175.3,461.9 176.5,462.5 177.8,463.0 179.1,463.3 180.6,463.4 182.3,463.3 184.1,463.1 185.9,462.8 188.3,462.4 190.8,461.8 193.3,461.2 195.7,460.9 197.5,460.8 199.2,460.9 200.8,461.1 202.5,461.4 204.2,461.7 206.0,462.2 207.7,462.7 209.3,463.3 210.6,464.1 211.8,465.0 212.9,465.9 214.2,466.5 215.8,466.9 217.5,467.0 219.3,467.0 221.0,466.9 222.9,466.8 224.9,466.7 226.8,466.5 228.9,466.3 231.2,466.0 233.7,465.7 236.2,465.5 238.6,465.3 240.6,465.3 242.6,465.4 244.6,465.5 246.4,465.3 248.2,464.8 250.0,464.1 251.7,463.3 253.3,462.4 254.6,461.3 255.8,460.1 257.0,458.9 258.1,458.0 258.9,457.5 259.6,457.1 260.3,456.9 261.1,456.8 261.8,456.9 262.5,457.2 263.2,457.6 264.0,458.0 265.0,458.5 266.0,459.0 267.0,459.5 267.9,459.9 268.5,460.0 269.0,460.1 269.6,460.1 270.3,460.1 272.2,459.9 274.7,459.6 277.4,459.2 280.0,458.9 282.5,458.9 284.9,458.9 287.3,459.0 289.8,459.1 292.2,459.3 294.7,459.4 297.1,459.6 299.5,459.7 302.0,459.8 304.4,460.0 306.9,460.1 309.3,460.1 311.7,460.1 314.2,460.0 316.6,459.8 319.1,459.7 321.5,459.6 323.9,459.4 326.4,459.3 328.8,459.1 331.3,459.0 333.9,458.8 336.4,458.6 338.6,458.5 339.9,458.3 341.2,458.0 342.3,457.9 343.5,458.0 344.5,458.3 345.5,458.8 346.4,459.4 347.4,459.9 348.4,460.3 349.4,460.7 350.4,461.2 351.3,461.9 352.2,463.1 352.9,464.6 353.6,466.2 354.2,467.7 354.7,469.0 355.2,470.3 355.6,471.5 356.2,472.6 356.8,473.6 357.5,474.6 358.3,475.4 359.1,476.0 359.8,476.3 360.5,476.5 361.3,476.5 362.0,476.5 363.0,476.3 363.9,475.9 364.9,475.4 365.9,475.0 367.0,474.7 368.0,474.4 369.1,474.0 370.2,473.6 371.6,472.8 373.0,471.9 374.5,470.9 376.1,470.2 378.1,469.5 380.3,469.1 382.6,468.7 384.9,468.2 387.2,467.6 389.6,467.0 392.1,466.3 394.6,465.8 397.8,465.2 401.2,464.8 404.5,464.3 407.3,463.8 408.7,463.4 409.9,462.9 411.0,462.5 412.2,462.4 413.8,462.4 415.5,462.8 417.2,463.3 419.0,463.8 421.4,464.7 423.8,465.7 426.3,466.8 428.8,467.7 431.2,468.3 433.7,468.7 436.1,469.2 438.6,469.7 441.1,470.3 443.6,471.0 446.0,471.8 448.3,472.6 450.2,473.4 451.9,474.3 453.5,475.2 455.2,476.0 456.6,476.7 458.1,477.4 459.5,478.0 461.0,478.4 462.6,478.7 464.3,478.8 465.9,478.9 467.6,478.9 467.7,478.9 467.7,740.6 73.0,740.6" fill="#EFFF10"/>
<polygon points="73.0,484.8 73.4,484.8 74.1,484.9 74.8,485.1 75.5,485.2 76.2,485.1 77.0,484.5 77.7,483.6 78.4,482.5 79.1,481.4 79.9,479.8 80.6,478.1 81.3,476.3 82.0,474.5 82.7,472.8 83.4,471.0 84.2,469.3 84.9,467.7 85.7,466.5 86.4,465.4 87.1,464.4 87.9,463.3 88.5,462.5 89.1,461.7 89.7,460.9 90.3,459.9 91.0,458.2 91.5,456.1 92.1,454.0 92.8,452.1 93.4,450.6 94.1,449.0 94.8,447.7 95.7,446.7 96.3,446.4 97.1,446.2 97.8,446.1 98.6,446.1 99.7,446.2 101.0,446.4 102.2,446.8 103.5,447.2 104.9,447.9 106.4,448.6 107.9,449.4 109.4,450.2 110.8,450.8 112.4,451.3 113.8,451.9 115.2,452.6 116.3,453.3 117.3,454.0 118.2,454.7 119.1,455.5 119.9,456.3 120.7,457.2 121.4,458.1 122.0,458.9 122.7,459.9 123.3,461.0 123.9,461.9 124.5,462.4 125.0,462.3 125.5,462.0 126.0,461.5 126.4,460.9 127.0,459.1 127.5,456.7 127.8,454.3 128.4,452.6 128.7,452.1 129.1,451.7 129.5,451.4 129.9,451.3 130.4,451.8 130.9,452.7 131.3,453.9 131.8,455.0 132.3,456.5 132.8,458.0 133.2,459.6 133.8,460.9 134.2,461.8 134.7,462.7 135.2,463.3 135.7,463.6 136.4,463.4 137.1,462.6 137.9,461.7 138.6,460.9 139.5,460.1 140.5,459.3 141.5,458.6 142.5,458.0 143.7,457.4 144.9,456.9 146.1,456.5 147.4,456.3 148.9,456.3 150.4,456.5 151.8,456.7 153.3,457.0 154.5,457.2 155.7,457.4 156.9,457.6 158.2,457.8 159.6,457.9 161.1,458.1 162.5,458.2 164.0,458.5 165.6,458.7 167.2,459.0 168.8,459.3 170.3,459.7 171.3,460.1 172.3,460.5 173.2,460.9 174.2,461.4 175.3,461.9 176.5,462.5 177.8,463.0 179.1,463.3 180.6,463.4 182.3,463.3 184.1,463.1 185.9,462.8 188.3,462.4 190.8,461.8 193.3,461.2 195.7,460.9 197.5,460.8 199.2,460.9 200.8,461.1 202.5,461.4 204.2,461.7 206.0,462.2 207.7,462.7 209.3,463.3 210.6,464.1 211.8,465.0 212.9,465.9 214.2,466.5 215.8,466.9 217.5,467.0 219.3,467.0 221.0,466.9 222.9,466.8 224.9,466.7 226.8,466.5 228.9,466.3 231.2,466.0 233.7,465.7 236.2,465.5 238.6,465.3 240.6,465.3 242.6,465.4 244.6,465.5 246.4,465.3 248.2,464.8 250.0,464.1 251.7,463.3 253.3,462.4 254.6,461.3 255.8,460.1 257.0,458.9 258.1,458.0 258.9,457.5 259.6,457.1 260.3,456.9 261.1,456.8 261.8,456.9 262.5,457.2 263.2,457.6 264.0,458.0 265.0,458.5 266.0,459.0 267.0,459.5 267.9,459.9 268.5,460.0 269.0,460.1 269.6,460.1 270.3,460.1 272.2,459.9 274.7,459.6 277.4,459.2 280.0,458.9 282.5,458.9 284.9,458.9 287.3,459.0 289.8,459.1 292.2,459.3 294.7,459.4 297.1,459.6 299.5,459.7 302.0,459.8 304.4,460.0 306.9,460.1 309.3,460.1 311.7,460.1 314.2,460.0 316.6,459.8 319.1,459.7 321.5,459.6 323.9,459.4 326.4,459.3 328.8,459.1 331.3,459.0 333.9,458.8 336.4,458.6 338.6,458.5 339.9,458.3 341.2,458.0 342.3,457.9 343.5,458.0 344.5,458.3 345.5,458.8 346.4,459.4 347.4,459.9 348.4,460.3 349.4,460.7 350.4,461.2 351.3,461.9 352.2,463.1 352.9,464.6 353.6,466.2 354.2,467.7 354.7,469.0 355.2,470.3 355.6,471.5 356.2,472.6 356.8,473.6 357.5,474.6 358.3,475.4 359.1,476.0 359.8,476.3 360.5,476.5 361.3,476.5 362.0,476.5 363.0,476.3 363.9,475.9 364.9,475.4 365.9,475.0 367.0,474.7 368.0,474.4 369.1,474.0 370.2,473.6 371.6,472.8 373.0,471.9 374.5,470.9 376.1,470.2 378.1,469.5 380.3,469.1 382.6,468.7 384.9,468.2 387.2,467.6 389.6,467.0 392.1,466.3 394.6,465.8 397.8,465.2 401.2,464.8 404.5,464.3 407.3,463.8 408.7,463.4 409.9,462.9 411.0,462.5 412.2,462.4 413.8,462.4 415.5,462.8 417.2,463.3 419.0,463.8 421.4,464.7 423.8,465.7 426.3,466.8 428.8,467.7 431.2,468.3 433.7,468.7 436.1,469.2 438.6,469.7 441.1,470.3 443.6,471.0 446.0,471.8 448.3,472.6 450.2,473.4 451.9,474.3 453.5,475.2 455.2,476.0 456.6,476.7 458.1,477.4 459.5,478.0 461.0,478.4 462.6,478.7 464.3,478.8 465.9,478.9 467.6,478.9 467.7,478.9 467.7,740.6 73.0,740.6" fill="#8FFF70"/>
<polygon points="73.0,496.0 73.4,496.0 74.6,496.8 75.8,497.7 77.0,498.4 78.1,498.7 78.9,498.6 79.7,498.2 80.4,497.6 81.0,497.0 81.9,495.8 82.6,494.2 83.2,492.6 84.0,491.1 84.7,490.1 85.4,489.1 86.1,488.1 86.9,487.2 87.6,486.5 88.4,485.8 89.2,485.1 89.8,484.3 90.4,483.2 90.8,481.9 91.3,480.6 91.8,479.4 92.3,478.5 93.0,477.5 93.6,476.8 94.2,476.5 94.7,476.8 95.2,477.5 95.7,478.5 96.2,479.4 96.8,480.8 97.3,482.5 97.9,484.0 98.6,485.3 99.3,486.0 100.1,486.6 100.8,486.9 101.5,487.0 102.2,486.7 102.8,486.0 103.4,485.1 104.0,484.3 104.6,483.3 105.2,482.3 105.7,481.2 106.4,480.4 107.1,479.9 107.8,479.5 108.5,479.2 109.4,478.9 110.5,478.5 111.7,478.1 113.0,477.7 114.2,477.5 115.5,477.3 116.8,477.2 118.0,477.2 119.1,477.3 119.9,477.4 120.7,477.7 121.4,478.0 122.0,478.4 122.8,479.3 123.6,480.4 124.3,481.4 125.0,481.9 125.4,481.8 125.7,481.5 126.1,481.2 126.4,480.9 126.8,480.4 127.2,479.8 127.6,479.4 127.9,479.2 128.2,479.7 128.5,480.7 128.7,482.0 128.9,483.3 129.2,485.8 129.4,488.7 129.6,491.9 129.9,495.0 130.1,498.3 130.4,501.7 130.6,505.1 130.8,508.6 131.1,512.1 131.3,515.6 131.6,519.3 131.8,523.2 132.2,529.0 132.5,535.2 132.9,541.6 133.3,547.6 133.6,552.7 134.0,557.7 134.4,562.5 134.7,567.1 134.9,571.3 135.1,575.8 135.3,579.3 135.7,580.8 135.9,580.6 136.2,580.2 136.4,579.5 136.7,578.8 137.2,576.6 137.7,573.5 138.2,570.2 138.6,567.1 139.1,564.6 139.5,562.1 140.0,559.7 140.6,557.4 141.2,555.3 141.9,553.4 142.7,551.5 143.5,549.6 144.4,547.5 145.2,545.3 146.2,543.4 147.4,542.2 148.7,542.0 150.1,542.3 151.7,542.8 153.3,543.2 155.6,543.7 158.1,544.2 160.7,544.7 163.1,545.2 165.0,545.5 167.0,545.7 168.8,546.1 170.3,546.6 171.2,547.2 171.9,547.9 172.6,548.7 173.2,549.6 174.0,550.9 174.7,552.3 175.4,553.9 176.1,555.4 176.8,557.0 177.5,558.7 178.2,560.2 179.1,561.3 179.7,561.7 180.5,562.0 181.3,562.1 182.0,562.0 182.7,561.8 183.4,561.4 184.2,560.9 184.9,560.3 186.1,559.3 187.3,558.0 188.6,556.7 189.8,555.4 191.0,554.2 192.2,553.0 193.4,551.9 194.7,551.0 195.9,550.4 197.1,550.0 198.4,549.6 199.6,549.6 200.6,549.7 201.5,550.0 202.5,550.5 203.5,551.0 204.7,551.7 206.0,552.5 207.3,553.4 208.4,554.4 209.2,555.5 210.0,556.7 210.7,558.0 211.3,559.3 211.8,560.9 212.1,562.6 212.5,564.1 213.2,565.2 214.0,565.5 215.0,565.6 216.1,565.5 217.1,565.4 218.5,565.2 220.0,565.0 221.5,564.6 223.0,564.2 224.5,563.6 225.9,562.9 227.4,562.1 228.9,561.3 230.3,560.4 231.8,559.5 233.2,558.7 234.7,557.9 236.2,557.2 237.7,556.5 239.1,555.9 240.6,555.4 241.9,555.1 243.2,554.8 244.4,554.5 245.5,554.0 246.3,553.1 247.1,552.0 247.7,550.8 248.4,549.6 249.2,547.8 249.9,545.8 250.6,543.7 251.3,541.8 252.1,540.0 252.8,538.3 253.6,536.6 254.2,534.9 254.8,533.3 255.3,531.6 255.8,529.9 256.2,528.1 256.6,525.8 257.0,523.3 257.3,520.8 257.7,518.4 257.9,516.0 258.1,513.6 258.3,511.2 258.6,508.6 259.1,504.5 259.6,500.0 260.2,495.7 261.1,492.1 261.7,490.4 262.3,489.0 263.1,487.7 264.0,486.7 264.9,486.1 265.9,485.7 267.0,485.5 267.9,485.3 268.5,485.2 269.1,485.1 269.6,485.1 270.3,485.1 271.4,485.1 272.6,485.2 273.9,485.4 275.1,485.8 276.4,486.2 277.6,486.8 278.8,487.5 280.0,488.2 281.3,489.1 282.5,490.0 283.7,491.0 284.9,492.1 286.1,493.3 287.4,494.5 288.6,495.7 289.8,497.0 291.0,498.2 292.2,499.4 293.5,500.6 294.7,501.9 295.8,503.3 297.0,504.9 298.2,506.4 299.5,507.7 301.3,508.9 303.3,509.9 305.4,510.7 307.4,511.0 309.1,510.8 310.9,510.3 312.6,509.5 314.2,508.6 315.5,507.6 316.7,506.4 317.8,505.3 319.1,504.3 320.3,503.7 321.5,503.1 322.7,502.7 323.9,502.3 325.2,502.0 326.4,501.8 327.6,501.6 328.8,501.4 330.0,501.1 331.3,500.8 332.5,500.5 333.7,500.4 334.9,500.4 336.2,500.6 337.4,500.7 338.6,500.7 339.8,500.4 341.1,499.9 342.3,499.4 343.5,498.9 344.5,498.6 345.6,498.4 346.6,498.0 347.4,497.5 348.1,496.4 348.5,495.1 348.9,493.6 349.3,492.1 349.8,490.4 350.3,488.5 350.8,486.7 351.3,485.3 351.6,484.5 352.0,483.9 352.4,483.4 352.7,483.1 353.1,483.2 353.5,483.5 353.9,483.9 354.2,484.3 354.7,485.1 355.1,486.1 355.6,487.2 356.2,488.2 356.8,489.1 357.5,490.0 358.3,490.7 359.1,491.1 360.0,491.1 361.0,490.9 362.0,490.5 363.0,490.1 364.2,489.9 365.5,489.6 366.8,489.4 367.9,489.2 368.5,489.1 369.1,489.0 369.6,488.8 370.2,488.7 371.3,488.3 372.4,487.9 373.7,487.4 375.1,487.0 377.3,486.7 379.6,486.6 382.2,486.4 384.9,486.2 388.4,485.9 392.1,485.5 395.9,485.1 399.5,484.8 402.6,484.6 405.7,484.5 408.6,484.5 411.2,484.5 412.8,484.6 414.3,484.9 415.7,485.0 417.1,485.1 418.6,484.8 420.0,484.4 421.5,484.0 422.9,483.8 424.4,483.8 425.8,483.9 427.2,484.1 428.8,484.3 431.1,484.5 433.5,484.7 436.1,485.0 438.6,485.3 441.1,485.7 443.6,486.1 446.0,486.6 448.3,487.2 450.2,487.8 451.9,488.4 453.5,489.0 455.2,489.7 456.7,490.4 458.1,491.2 459.5,492.0 461.0,492.6 462.6,492.9 464.3,493.0 465.9,493.0 467.6,493.1 467.7,493.1 467.7,740.6 73.0,740.6" fill="#20FFDF"/>
<polygon points="73.0,727.2 73.4,727.2 74.1,724.8 74.9,722.4 75.5,720.0 76.2,717.4 76.7,714.1 77.2,710.7 77.6,707.0 78.1,702.8 79.0,695.0 79.9,685.9 80.8,676.6 81.5,668.2 82.0,662.4 82.3,656.9 82.7,651.8 83.0,646.8 83.2,643.0 83.5,639.3 83.7,635.8 84.0,632.2 84.3,628.5 84.7,624.7 85.1,621.0 85.4,617.6 85.7,615.0 85.9,612.6 86.1,610.2 86.4,607.8 86.8,605.5 87.3,603.3 87.9,600.9 88.4,598.1 89.3,591.4 90.2,583.4 91.0,574.9 91.8,566.9 92.4,560.5 92.9,554.2 93.3,548.2 93.7,542.5 94.0,538.2 94.3,534.1 94.5,530.1 94.7,526.2 94.8,522.5 94.7,518.9 94.8,515.5 94.9,512.6 95.0,511.1 95.2,509.7 95.5,508.6 95.8,507.6 96.0,507.1 96.3,506.7 96.5,506.4 96.9,506.2 97.4,506.2 98.0,506.3 98.7,506.5 99.3,506.8 100.1,507.2 100.9,507.6 101.7,508.1 102.5,508.6 103.3,509.0 104.0,509.4 104.7,509.9 105.4,510.6 107.1,512.6 108.9,515.3 110.7,518.4 112.3,521.3 113.5,523.8 114.5,526.3 115.4,528.7 116.2,531.0 116.8,532.9 117.3,534.6 117.7,536.3 118.1,537.9 118.4,538.9 118.7,539.8 118.9,540.7 119.1,541.8 119.4,544.0 119.6,546.7 119.8,549.6 120.1,552.3 120.4,554.7 120.8,557.1 121.2,559.5 121.6,562.0 122.0,565.5 122.3,569.3 122.7,573.1 123.0,576.7 123.3,579.7 123.5,582.6 123.7,585.4 124.0,588.3 124.3,591.5 124.6,595.0 124.9,597.9 125.2,599.0 125.5,598.0 125.8,595.4 126.1,591.9 126.4,588.3 126.9,581.5 127.2,573.4 127.6,564.9 127.9,557.2 128.2,551.4 128.4,545.8 128.6,540.5 128.9,535.7 129.0,532.2 129.2,528.6 129.3,525.8 129.6,524.7 129.7,525.0 129.9,525.9 130.2,527.0 130.3,528.1 130.6,530.1 130.9,532.5 131.1,535.1 131.3,537.9 131.7,542.3 132.1,547.2 132.5,552.3 132.8,557.4 133.1,562.3 133.4,567.2 133.6,572.1 133.8,576.9 133.8,581.2 133.8,585.5 133.8,589.6 134.0,593.4 134.2,596.1 134.5,598.6 134.8,600.9 135.2,603.1 135.6,605.0 135.9,606.9 136.3,608.4 136.7,609.0 137.2,608.1 137.6,606.0 138.1,603.5 138.6,601.2 139.1,599.4 139.5,597.7 140.0,596.0 140.6,594.3 141.2,592.8 141.9,591.4 142.7,589.9 143.5,588.5 144.4,586.9 145.3,585.3 146.3,583.8 147.4,582.7 148.7,582.1 150.1,581.8 151.7,581.7 153.3,581.6 155.6,581.4 158.1,581.3 160.7,581.2 163.1,581.3 165.0,581.3 167.0,581.3 168.7,581.4 170.3,581.7 171.1,582.1 171.9,582.5 172.6,583.1 173.2,583.7 173.9,584.8 174.6,586.1 175.3,587.4 176.1,588.5 177.2,589.3 178.4,590.0 179.7,590.4 181.0,590.6 182.5,590.5 184.0,590.0 185.5,589.3 186.9,588.5 188.2,587.4 189.3,586.1 190.5,584.8 191.8,583.7 193.1,582.9 194.6,582.2 196.1,581.6 197.6,581.3 198.9,581.1 200.1,581.2 201.3,581.3 202.5,581.6 203.8,581.9 205.0,582.4 206.2,583.0 207.4,583.7 208.4,584.8 209.4,586.1 210.3,587.4 211.3,588.5 212.2,589.2 213.1,589.8 214.1,590.3 215.2,590.6 216.5,590.7 218.0,590.5 219.5,590.2 221.0,590.0 223.0,589.7 225.0,589.4 227.0,589.0 228.9,588.5 230.2,587.9 231.4,587.1 232.5,586.3 233.7,585.6 234.9,585.1 236.1,584.5 237.3,584.1 238.6,583.7 240.1,583.5 241.6,583.5 243.1,583.5 244.5,583.2 245.5,582.8 246.5,582.2 247.4,581.6 248.4,580.8 249.6,579.5 250.9,578.0 252.2,576.4 253.3,574.9 254.1,573.7 254.9,572.5 255.6,571.3 256.2,570.0 256.7,568.5 257.2,566.9 257.6,565.4 258.1,564.2 258.5,563.7 258.9,563.2 259.3,562.8 259.6,562.7 260.0,563.0 260.4,563.5 260.7,564.3 261.1,565.2 261.6,567.1 262.1,569.5 262.6,572.2 263.0,574.9 263.5,578.4 263.8,582.4 264.3,585.9 265.0,588.5 265.4,589.1 265.9,589.5 266.3,589.9 266.8,590.4 267.3,591.4 267.7,592.5 268.2,593.7 268.9,594.6 269.7,595.2 270.5,595.7 271.5,596.0 272.4,596.0 273.4,595.4 274.5,594.3 275.5,593.0 276.6,591.8 277.6,590.6 278.6,589.4 279.7,588.1 280.8,586.9 281.9,585.6 283.1,584.3 284.4,583.0 285.6,582.0 286.6,581.5 287.6,581.0 288.6,580.7 289.8,580.3 291.5,579.7 293.5,579.0 295.6,578.4 297.6,577.8 299.5,577.3 301.5,576.8 303.5,576.3 305.4,576.1 307.1,576.0 308.9,576.1 310.6,576.4 312.2,576.9 314.0,577.8 315.7,579.1 317.4,580.3 319.1,581.3 320.3,581.6 321.5,581.9 322.7,582.0 323.9,582.2 325.2,582.6 326.4,583.1 327.6,583.5 328.8,583.7 330.0,583.5 331.3,583.1 332.5,582.7 333.7,582.2 334.9,581.9 336.2,581.6 337.4,581.2 338.6,580.8 339.9,580.0 341.1,579.1 342.4,578.3 343.5,578.0 344.3,578.4 345.1,579.0 345.8,579.9 346.4,580.8 347.0,581.9 347.5,583.2 347.9,584.5 348.4,585.6 348.7,586.4 349.1,587.0 349.5,587.6 349.8,588.5 350.4,591.4 350.7,595.3 351.0,599.4 351.3,603.1 351.5,605.6 351.8,608.0 352.0,610.3 352.3,612.9 352.5,616.6 352.6,620.5 352.8,624.8 353.0,629.5 353.7,637.7 354.5,647.2 355.3,656.3 356.2,663.4 356.5,665.8 356.9,667.8 357.2,669.6 357.6,671.2 357.9,672.5 358.3,673.7 358.7,674.7 359.1,675.1 359.7,674.6 360.5,673.4 361.2,671.7 362.0,670.2 363.0,668.7 364.0,667.1 365.0,665.3 365.9,663.4 367.1,660.1 368.2,656.3 369.2,652.4 370.2,649.0 370.9,646.7 371.6,644.6 372.3,642.7 373.2,641.2 373.9,640.3 374.8,639.5 375.7,638.9 376.6,638.7 377.4,639.0 378.3,639.6 379.1,640.4 380.0,641.2 381.0,642.3 381.9,643.7 382.9,644.9 383.9,645.6 384.6,645.5 385.3,645.2 386.0,644.6 386.8,644.1 388.2,643.1 389.6,641.9 391.1,640.5 392.7,639.2 394.3,637.8 396.0,636.4 397.8,634.9 399.5,633.4 401.6,631.7 403.8,630.0 405.8,628.3 407.3,626.5 408.0,625.3 408.3,624.0 408.7,622.8 409.3,621.7 410.3,620.3 411.6,618.9 412.9,617.8 414.2,617.3 414.9,617.3 415.7,617.6 416.4,618.1 417.1,618.7 418.0,620.0 418.7,621.7 419.4,623.6 420.0,625.6 420.8,627.9 421.5,630.4 422.2,632.9 422.9,635.3 423.6,637.4 424.3,639.4 425.0,641.3 425.9,643.1 426.7,644.7 427.7,646.3 428.7,647.7 429.8,649.0 430.7,649.8 431.7,650.5 432.7,651.1 433.7,651.9 434.9,653.1 436.1,654.4 437.3,655.7 438.6,656.8 439.6,657.3 440.5,657.8 441.5,658.2 442.5,658.7 443.5,659.5 444.4,660.5 445.4,661.5 446.4,662.6 447.6,663.9 448.9,665.3 450.1,666.8 451.3,668.4 452.3,670.2 453.3,672.2 454.3,674.2 455.2,676.1 455.9,677.6 456.7,679.0 457.4,680.4 458.1,681.9 458.8,683.6 459.5,685.4 460.2,687.1 461.0,688.8 461.9,690.3 462.9,691.9 463.9,693.4 464.9,694.6 465.6,695.3 466.3,695.9 466.9,696.5 467.6,697.0 467.7,697.0 467.7,740.6 73.0,740.6" fill="#00BFFF"/>
<polygon points="73.0,727.4 73.4,727.4 74.1,725.0 74.9,722.6 75.5,720.2 76.2,717.6 76.7,714.3 77.2,710.9 77.6,707.2 78.1,703.0 79.0,695.2 79.9,686.1 80.8,676.8 81.5,668.4 82.0,662.6 82.3,657.1 82.7,652.0 83.0,647.0 83.2,643.2 83.5,639.5 83.7,636.0 84.0,632.4 84.3,628.7 84.7,624.9 85.1,621.2 85.4,617.8 85.7,615.2 85.9,612.8 86.1,610.4 86.4,608.0 86.8,605.7 87.3,603.5 87.9,601.1 88.4,598.2 89.3,591.6 90.2,583.6 91.0,575.1 91.8,567.1 92.3,560.7 92.8,554.4 93.3,548.4 93.7,542.7 94.1,538.3 94.5,533.9 94.8,529.9 95.2,526.2 95.4,523.4 95.5,520.7 95.7,518.4 96.2,516.9 96.5,516.6 96.8,516.4 97.2,516.2 97.6,516.2 98.5,516.4 99.5,516.9 100.6,517.4 101.5,517.9 102.3,518.1 103.1,518.3 103.8,518.5 104.5,518.8 105.2,519.5 106.0,520.3 106.7,521.3 107.4,522.3 108.4,523.6 109.3,525.0 110.3,526.6 111.3,528.1 112.3,529.7 113.3,531.4 114.3,533.2 115.2,534.9 116.0,536.8 116.8,538.7 117.5,540.7 118.1,542.7 118.7,545.1 119.2,547.5 119.7,550.0 120.1,552.5 120.5,554.9 120.9,557.2 121.2,559.7 121.6,562.2 122.0,565.7 122.3,569.5 122.7,573.3 123.0,576.9 123.3,579.9 123.5,582.8 123.7,585.6 124.0,588.5 124.3,591.7 124.6,595.2 124.9,598.1 125.2,599.2 125.5,598.2 125.8,595.5 126.1,592.1 126.4,588.5 126.9,581.7 127.2,573.6 127.6,565.1 127.9,557.4 128.2,551.5 128.4,545.9 128.6,540.7 128.9,535.9 129.0,532.5 129.2,529.0 129.4,526.3 129.6,525.2 129.7,525.7 129.9,527.2 130.2,529.1 130.3,531.0 130.6,534.5 130.8,538.7 131.1,543.2 131.3,547.6 131.7,552.4 132.0,557.2 132.4,562.1 132.8,567.1 133.2,572.4 133.6,577.8 134.0,583.2 134.2,588.5 134.3,593.4 134.2,598.3 134.0,603.1 134.0,608.0 134.0,612.9 134.1,617.8 134.2,622.6 134.3,627.5 134.4,632.4 134.5,637.2 134.6,642.1 134.7,647.0 134.9,652.2 135.2,657.3 135.5,662.6 135.7,668.4 136.0,676.8 136.2,686.2 136.4,695.3 136.7,703.0 136.9,706.7 137.1,709.9 137.4,712.9 137.7,715.7 137.8,717.8 138.0,719.9 138.2,721.8 138.6,723.5 139.0,724.5 139.5,725.5 140.0,726.3 140.6,726.9 141.0,727.1 141.5,727.2 142.0,727.3 142.5,727.4 143.7,727.6 145.0,727.9 146.6,728.2 148.4,728.4 153.3,728.6 159.6,728.7 165.8,728.4 170.3,727.8 171.6,727.3 172.5,726.8 173.4,726.1 174.2,725.3 175.0,724.2 175.7,722.7 176.3,721.3 177.1,720.0 178.0,718.8 179.0,717.5 180.0,716.6 181.0,716.1 182.0,716.2 182.9,716.6 183.9,717.3 184.9,718.0 186.1,719.1 187.3,720.4 188.5,721.8 189.8,722.9 191.0,723.6 192.2,724.2 193.4,724.7 194.7,725.0 195.9,725.3 197.1,725.4 198.3,725.4 199.6,725.3 200.8,725.2 202.0,725.0 203.2,724.7 204.4,724.4 205.8,723.8 207.1,723.2 208.3,722.4 209.3,721.4 210.0,720.3 210.5,719.1 210.9,717.7 211.3,716.1 211.9,713.1 212.4,709.5 212.8,705.8 213.2,702.4 213.6,699.7 213.8,697.1 214.2,694.7 214.7,692.7 215.2,691.5 215.7,690.4 216.3,689.5 217.1,688.8 218.4,688.0 219.9,687.3 221.5,686.9 223.0,686.8 224.0,687.0 225.0,687.5 225.9,688.1 226.9,688.8 228.1,689.8 229.3,691.2 230.5,692.5 231.8,693.6 233.0,694.5 234.2,695.3 235.5,695.9 236.7,696.1 237.7,695.7 238.7,694.8 239.7,693.8 240.6,692.7 241.4,691.4 242.2,690.0 242.9,688.4 243.5,686.8 244.1,684.8 244.6,682.6 245.0,680.3 245.5,678.0 246.0,675.6 246.5,673.2 247.0,670.7 247.4,668.3 247.7,665.9 247.9,663.5 248.0,661.2 248.4,658.7 249.0,655.8 249.7,652.9 250.5,649.9 251.3,647.0 252.0,644.5 252.8,642.1 253.6,639.7 254.2,637.3 254.8,634.9 255.3,632.5 255.8,630.1 256.2,627.5 256.6,624.1 257.0,620.4 257.3,616.6 257.7,612.9 258.1,608.5 258.6,603.7 259.0,599.8 259.1,598.2 258.9,599.8 258.5,603.3 258.2,606.9 258.1,608.5 258.5,605.4 259.3,598.6 260.2,591.8 261.2,588.6 262.0,591.0 262.9,596.5 263.8,603.0 265.0,608.5 266.1,611.7 267.3,614.8 268.6,617.5 270.3,619.2 271.6,619.7 273.1,619.7 274.6,619.6 276.1,619.7 277.6,620.1 279.1,620.7 280.6,621.4 282.0,622.1 283.3,623.1 284.5,624.1 285.7,625.3 286.8,626.5 288.1,628.1 289.3,629.8 290.5,631.6 291.7,633.4 292.9,635.4 294.1,637.6 295.3,639.6 296.6,641.2 297.8,641.9 299.0,642.3 300.2,642.7 301.5,643.1 302.7,643.5 304.0,643.9 305.2,644.4 306.4,645.1 307.7,646.4 308.9,648.1 310.1,650.0 311.3,651.9 312.5,653.9 313.7,656.0 314.9,658.0 316.1,659.7 317.1,660.7 318.1,661.6 319.0,662.3 320.0,662.6 321.0,662.5 322.0,662.1 323.0,661.5 323.9,660.7 325.3,658.8 326.5,656.2 327.7,653.5 328.8,650.9 329.8,648.8 330.6,646.7 331.6,644.8 332.7,643.1 334.1,641.9 335.6,641.0 337.2,640.2 338.6,639.2 339.7,638.3 340.7,637.5 341.6,636.5 342.5,635.3 343.6,633.2 344.6,630.7 345.5,628.1 346.4,625.6 347.2,623.2 348.0,620.7 348.7,618.5 349.3,616.8 349.6,616.2 349.8,615.6 350.1,615.2 350.3,615.0 350.7,615.3 351.1,615.9 351.4,616.8 351.8,617.8 352.3,620.5 352.7,624.2 353.0,628.3 353.2,632.4 353.5,637.1 353.8,642.1 354.0,647.1 354.2,651.9 354.4,656.3 354.6,660.6 354.8,664.7 355.2,668.4 355.6,670.5 356.1,672.4 356.7,674.2 357.1,676.1 357.5,678.5 357.8,681.2 358.2,683.4 358.6,684.4 359.0,684.0 359.5,682.8 360.0,681.4 360.6,680.0 361.3,678.0 362.2,675.7 363.0,673.4 364.0,671.2 364.9,669.3 365.9,667.5 366.9,665.8 367.9,664.4 368.5,663.6 369.1,663.0 369.6,662.3 370.2,661.6 370.9,660.5 371.6,659.3 372.4,658.1 373.2,657.3 373.8,656.8 374.4,656.5 375.0,656.3 375.6,656.3 376.2,656.7 376.8,657.5 377.4,658.5 378.0,659.7 379.2,662.2 380.4,665.4 381.7,668.6 382.9,671.2 383.6,672.4 384.2,673.4 384.9,674.3 385.8,675.1 387.7,675.9 390.0,676.3 392.4,676.7 394.6,677.1 396.4,677.5 398.1,678.0 399.8,678.4 401.5,678.5 403.0,678.4 404.5,678.1 406.0,677.7 407.3,677.1 408.4,676.1 409.4,674.9 410.3,673.7 411.2,672.7 412.1,671.9 413.0,671.1 413.8,670.5 414.6,670.2 415.3,670.4 415.9,670.8 416.5,671.5 417.1,672.2 417.9,673.6 418.6,675.3 419.2,677.2 420.0,679.0 420.9,680.8 421.8,682.5 422.8,684.2 423.9,685.8 425.1,687.4 426.3,688.9 427.6,690.2 428.8,691.2 429.5,691.6 430.2,691.9 430.9,692.1 431.7,692.2 432.8,692.2 434.0,692.0 435.3,691.8 436.6,691.7 438.3,691.5 440.0,691.3 441.8,691.1 443.4,691.2 444.7,691.4 446.0,691.7 447.2,692.1 448.3,692.7 449.6,693.5 450.8,694.6 452.0,695.8 453.2,697.0 454.5,698.5 455.7,700.1 456.9,701.8 458.1,703.4 459.3,705.0 460.5,706.6 461.7,708.0 463.0,709.2 464.1,709.9 465.2,710.4 466.4,710.8 467.6,711.2 467.7,711.2 467.7,740.6 73.0,740.6" fill="#0050FF"/>
<polygon points="73.0,735.0 73.4,735.0 75.1,734.7 76.7,734.5 78.3,734.3 80.1,734.0 82.4,733.8 84.9,733.6 87.4,733.3 89.3,732.7 90.4,732.1 91.2,731.2 92.0,730.3 92.8,729.3 93.7,728.0 94.6,726.5 95.6,725.1 96.7,724.0 97.8,723.3 99.0,722.7 100.3,722.4 101.5,722.3 102.8,722.5 104.0,722.9 105.2,723.5 106.4,724.0 107.6,724.3 108.8,724.7 110.1,725.0 111.3,725.4 112.7,725.9 114.2,726.3 115.7,726.8 117.2,727.4 118.7,728.1 120.3,729.0 121.7,729.9 123.0,730.5 123.7,730.8 124.3,731.2 124.9,731.4 125.5,731.3 126.4,730.1 127.2,728.0 128.0,725.6 128.9,723.5 129.8,721.6 130.8,719.7 131.8,718.1 132.8,717.4 133.4,717.6 134.0,718.1 134.7,718.8 135.2,719.6 135.8,720.7 136.4,722.0 136.9,723.3 137.7,724.5 138.7,725.4 139.9,726.2 141.2,726.8 142.5,727.4 143.9,727.8 145.2,728.0 146.7,728.2 148.4,728.4 153.3,728.6 159.6,728.7 165.8,728.4 170.3,727.8 171.6,727.3 172.5,726.8 173.4,726.1 174.2,725.3 175.0,724.2 175.7,722.7 176.3,721.3 177.1,720.0 178.0,718.8 179.0,717.5 180.0,716.6 181.0,716.1 182.0,716.2 182.9,716.6 183.9,717.3 184.9,718.0 186.1,719.1 187.3,720.4 188.5,721.8 189.8,722.9 191.0,723.6 192.2,724.2 193.4,724.7 194.7,725.0 195.9,725.3 197.1,725.4 198.3,725.4 199.6,725.3 200.8,725.2 202.0,725.0 203.2,724.7 204.4,724.4 205.8,723.8 207.1,723.2 208.3,722.4 209.3,721.4 210.0,720.3 210.5,719.1 210.9,717.7 211.3,716.1 211.9,713.1 212.4,709.5 212.8,705.8 213.2,702.4 213.6,699.7 213.8,697.1 214.2,694.7 214.7,692.7 215.2,691.5 215.7,690.4 216.3,689.5 217.1,688.8 218.4,688.0 219.9,687.3 221.5,686.9 223.0,686.8 224.0,687.0 225.0,687.5 225.9,688.1 226.9,688.8 228.1,689.8 229.3,691.2 230.5,692.5 231.8,693.6 233.0,694.5 234.2,695.3 235.5,695.9 236.7,696.1 237.7,695.7 238.7,694.8 239.7,693.8 240.6,692.7 241.4,691.4 242.2,690.0 242.9,688.4 243.5,686.8 244.1,684.8 244.6,682.6 245.0,680.3 245.5,678.0 246.0,675.6 246.5,673.2 247.0,670.7 247.4,668.3 247.7,665.9 247.9,663.5 248.0,661.2 248.4,658.7 249.0,655.8 249.7,652.9 250.5,649.9 251.3,647.0 252.0,644.5 252.8,642.1 253.6,639.7 254.2,637.3 254.8,634.9 255.3,632.5 255.8,630.1 256.2,627.5 256.6,624.1 257.0,620.4 257.3,616.6 257.7,612.9 258.1,608.5 258.6,603.7 259.0,599.8 259.1,598.2 258.9,599.8 258.5,603.3 258.2,606.9 258.1,608.5 258.5,605.4 259.3,598.6 260.2,591.8 261.2,588.6 262.0,591.0 262.9,596.5 263.8,603.0 265.0,608.5 266.1,611.7 267.3,614.8 268.6,617.5 270.3,619.2 271.6,619.7 273.1,619.7 274.6,619.6 276.1,619.7 277.6,620.1 279.1,620.7 280.6,621.4 282.0,622.1 283.3,623.1 284.5,624.1 285.7,625.3 286.8,626.5 288.1,628.1 289.3,629.8 290.5,631.6 291.7,633.4 292.9,635.4 294.1,637.6 295.3,639.6 296.6,641.2 297.8,641.9 299.0,642.3 300.2,642.7 301.5,643.1 302.7,643.5 304.0,643.9 305.2,644.4 306.4,645.1 307.7,646.4 308.9,648.1 310.1,650.0 311.3,651.9 312.5,653.9 313.7,656.0 314.9,658.0 316.1,659.7 317.1,660.7 318.1,661.6 319.0,662.3 320.0,662.6 321.0,662.5 322.0,662.1 323.0,661.5 323.9,660.7 325.3,658.8 326.5,656.2 327.7,653.5 328.8,650.9 329.8,648.8 330.6,646.7 331.6,644.8 332.7,643.1 334.1,641.9 335.6,641.0 337.2,640.2 338.6,639.2 339.7,638.3 340.7,637.5 341.6,636.5 342.5,635.3 343.6,633.2 344.6,630.7 345.5,628.1 346.4,625.6 347.2,623.2 348.0,620.7 348.7,618.5 349.3,616.8 349.6,616.2 349.8,615.6 350.1,615.2 350.3,615.0 350.7,615.3 351.1,615.9 351.4,616.8 351.8,617.8 352.3,620.5 352.7,624.2 353.0,628.3 353.2,632.4 353.5,637.1 353.8,642.1 354.0,647.1 354.2,651.9 354.4,656.3 354.6,660.6 354.8,664.7 355.2,668.4 355.6,670.5 356.1,672.4 356.7,674.2 357.1,676.1 357.5,678.5 357.8,681.2 358.2,683.4 358.6,684.4 359.0,684.0 359.5,682.8 360.0,681.4 360.6,680.0 361.3,678.0 362.2,675.7 363.0,673.4 364.0,671.2 364.9,669.3 365.9,667.5 366.9,665.8 367.9,664.4 368.5,663.6 369.1,663.0 369.6,662.3 370.2,661.6 370.9,660.5 371.6,659.3 372.4,658.1 373.2,657.3 373.8,656.8 374.4,656.5 375.0,656.3 375.6,656.3 376.2,656.7 376.8,657.5 377.4,658.5 378.0,659.7 379.2,662.2 380.4,665.4 381.7,668.6 382.9,671.2 383.6,672.4 384.2,673.4 384.9,674.3 385.8,675.1 387.7,675.9 390.0,676.3 392.4,676.7 394.6,677.1 396.4,677.5 398.1,678.0 399.8,678.4 401.5,678.5 403.0,678.4 404.5,678.1 406.0,677.7 407.3,677.1 408.4,676.1 409.4,674.9 410.3,673.7 411.2,672.7 412.1,671.9 413.0,671.1 413.8,670.5 414.6,670.2 415.3,670.4 415.9,670.8 416.5,671.5 417.1,672.2 417.9,673.6 418.6,675.3 419.2,677.2 420.0,679.0 420.9,680.8 421.8,682.5 422.8,684.2 423.9,685.8 425.1,687.4 426.3,688.9 427.6,690.2 428.8,691.2 429.5,691.6 430.2,691.9 430.9,692.1 431.7,692.2 432.8,692.2 434.0,692.0 435.3,691.8 436.6,691.7 438.3,691.5 440.0,691.3 441.8,691.1 443.4,691.2 444.7,691.4 446.0,691.7 447.2,692.1 448.3,692.7 449.6,693.5 450.8,694.6 452.0,695.8 453.2,697.0 454.5,698.5 455.7,700.1 456.9,701.8 458.1,703.4 459.3,705.0 460.5,706.6 461.7,708.0 463.0,709.2 464.1,709.9 465.2,710.4 466.4,710.8 467.6,711.2 467.7,711.2 467.7,740.6 73.0,740.6" fill="#0000EF"/>
<polygon points="73.0,735.0 73.4,735.0 75.1,734.7 76.7,734.5 78.3,734.3 80.1,734.0 82.4,733.8 84.9,733.6 87.4,733.3 89.3,732.7 90.4,732.1 91.2,731.2 92.0,730.3 92.8,729.3 93.7,728.0 94.6,726.5 95.6,725.1 96.7,724.0 97.8,723.3 99.0,722.7 100.3,722.4 101.5,722.3 102.8,722.5 104.0,722.9 105.2,723.5 106.4,724.0 107.6,724.3 108.8,724.7 110.1,725.0 111.3,725.4 112.7,725.9 114.2,726.3 115.7,726.8 117.2,727.4 118.7,728.1 120.3,729.0 121.7,729.9 123.0,730.5 123.7,730.8 124.3,731.2 124.9,731.4 125.5,731.3 126.4,730.1 127.2,728.0 128.0,725.6 128.9,723.5 129.8,721.6 130.8,719.7 131.8,718.1 132.8,717.4 133.4,717.6 134.1,718.1 134.7,718.8 135.2,719.6 135.9,720.9 136.4,722.5 137.0,724.1 137.7,725.4 138.3,726.2 139.0,726.9 139.7,727.6 140.6,728.2 141.8,728.9 143.2,729.5 144.8,730.1 146.5,730.5 149.1,730.8 152.0,730.7 155.1,730.6 158.2,730.5 161.3,730.6 164.6,730.8 167.6,730.9 170.3,730.7 171.7,730.3 172.9,729.8 174.0,729.2 175.2,728.7 176.3,728.4 177.5,728.1 178.7,727.9 180.0,727.8 182.2,727.7 184.7,727.9 187.3,728.1 189.8,728.3 192.2,728.4 194.7,728.5 197.1,728.5 199.6,728.5 202.1,728.6 204.7,728.6 207.2,728.5 209.3,728.0 210.7,727.1 211.9,726.0 213.0,724.9 214.2,724.1 215.4,723.7 216.5,723.5 217.7,723.5 219.1,723.4 221.3,723.2 223.8,723.2 226.3,723.1 228.9,723.1 231.3,723.1 233.7,723.2 236.2,723.2 238.6,723.1 241.1,722.7 243.7,722.1 246.2,721.5 248.4,720.9 249.7,720.6 250.9,720.4 252.1,720.1 253.3,720.0 254.5,719.8 255.7,719.7 256.9,719.8 258.1,720.0 259.4,720.5 260.6,721.3 261.8,722.2 263.0,722.9 264.3,723.4 265.6,723.8 266.8,724.1 267.9,724.4 268.5,724.5 269.1,724.6 269.6,724.7 270.3,724.6 271.3,724.5 272.6,724.2 273.9,723.8 275.1,723.4 276.4,723.0 277.6,722.5 278.8,722.1 280.0,721.7 281.2,721.4 282.4,721.0 283.7,720.7 284.9,720.5 286.1,720.2 287.2,719.9 288.4,719.7 289.8,719.5 292.0,719.2 294.4,719.1 297.0,718.9 299.5,718.8 302.0,718.7 304.4,718.6 306.9,718.5 309.3,718.5 311.7,718.5 314.2,718.5 316.6,718.5 319.1,718.5 321.5,718.6 323.9,718.6 326.4,718.7 328.8,718.8 331.3,718.8 333.7,718.9 336.2,718.9 338.6,719.0 341.0,719.0 343.4,719.0 345.6,719.2 347.4,719.8 348.3,720.5 349.0,721.4 349.7,722.3 350.3,723.4 351.0,724.7 351.7,726.2 352.4,727.6 353.2,728.7 353.9,729.4 354.6,729.9 355.4,730.3 356.2,730.7 357.1,731.2 358.1,731.6 359.1,731.9 360.1,732.2 361.0,732.2 362.0,732.0 362.9,731.9 364.0,731.7 365.5,731.5 367.1,731.3 368.7,731.0 370.2,730.7 371.5,730.3 372.6,729.8 373.8,729.2 375.1,728.7 377.3,728.2 379.8,727.7 382.3,727.3 384.9,726.8 387.3,726.2 389.7,725.6 392.2,724.9 394.6,724.4 397.1,723.9 399.5,723.4 402.0,723.0 404.4,722.7 406.7,722.4 408.9,722.1 411.1,721.9 413.2,721.9 414.7,722.1 416.1,722.5 417.5,722.9 419.0,723.4 421.3,724.0 423.8,724.6 426.3,725.2 428.8,725.8 431.2,726.3 433.7,726.9 436.1,727.3 438.6,727.8 441.0,728.1 443.5,728.5 445.9,728.8 448.3,729.2 450.8,729.8 453.2,730.5 455.7,731.1 458.1,731.7 460.5,732.0 462.8,732.3 465.2,732.6 467.6,732.8 467.7,732.8 467.7,740.6 73.0,740.6" fill="#00008F"/>
<polyline points="73.0,735.0 73.4,735.0 75.1,734.7 76.7,734.5 78.3,734.3 80.1,734.0 82.4,733.8 84.9,733.6 87.4,733.3 89.3,732.7 90.4,732.1 91.2,731.2 92.0,730.3 92.8,729.3 93.7,728.0 94.6,726.5 95.6,725.1 96.7,724.0 97.8,723.3 99.0,722.7 100.3,722.4 101.5,722.3 102.8,722.5 104.0,722.9 105.2,723.5 106.4,724.0 107.6,724.3 108.8,724.7 110.1,725.0 111.3,725.4 112.7,725.9 114.2,726.3 115.7,726.8 117.2,727.4 118.7,728.1 120.3,729.0 121.7,729.9 123.0,730.5 123.7,730.8 124.3,731.2 124.9,731.4 125.5,731.3 126.4,730.1 127.2,728.0 128.0,725.6 128.9,723.5 129.8,721.6 130.8,719.7 131.8,718.1 132.8,717.4 133.4,717.6 134.1,718.1 134.7,718.8 135.2,719.6 135.9,720.9 136.4,722.5 137.0,724.1 137.7,725.4 138.3,726.2 139.0,726.9 139.7,727.6 140.6,728.2 141.8,728.9 143.2,729.5 144.8,730.1 146.5,730.5 149.1,730.8 152.0,730.7 155.1,730.6 158.2,730.5 161.3,730.6 164.6,730.8 167.6,730.9 170.3,730.7 171.7,730.3 172.9,729.8 174.0,729.2 175.2,728.7 176.3,728.4 177.5,728.1 178.7,727.9 180.0,727.8 182.2,727.7 184.7,727.9 187.3,728.1 189.8,728.3 192.2,728.4 194.7,728.5 197.1,728.5 199.6,728.5 202.1,728.6 204.7,728.6 207.2,728.5 209.3,728.0 210.7,727.1 211.9,726.0 213.0,724.9 214.2,724.1 215.4,723.7 216.5,723.5 217.7,723.5 219.1,723.4 221.3,723.2 223.8,723.2 226.3,723.1 228.9,723.1 231.3,723.1 233.7,723.2 236.2,723.2 238.6,723.1 241.1,722.7 243.7,722.1 246.2,721.5 248.4,720.9 249.7,720.6 250.9,720.4 252.1,720.1 253.3,720.0 254.5,719.8 255.7,719.7 256.9,719.8 258.1,720.0 259.4,720.5 260.6,721.3 261.8,722.2 263.0,722.9 264.3,723.4 265.6,723.8 266.8,724.1 267.9,724.4 268.5,724.5 269.1,724.6 269.6,724.7 270.3,724.6 271.3,724.5 272.6,724.2 273.9,723.8 275.1,723.4 276.4,723.0 277.6,722.5 278.8,722.1 280.0,721.7 281.2,721.4 282.4,721.0 283.7,720.7 284.9,720.5 286.1,720.2 287.2,719.9 288.4,719.7 289.8,719.5 292.0,719.2 294.4,719.1 297.0,718.9 299.5,718.8 302.0,718.7 304.4,718.6 306.9,718.5 309.3,718.5 311.7,718.5 314.2,718.5 316.6,718.5 319.1,718.5 321.5,718.6 323.9,718.6 326.4,718.7 328.8,718.8 331.3,718.8 333.7,718.9 336.2,718.9 338.6,719.0 341.0,719.0 343.4,719.0 345.6,719.2 347.4,719.8 348.3,720.5 349.0,721.4 349.7,722.3 350.3,723.4 351.0,724.7 351.7,726.2 352.4,727.6 353.2,728.7 353.9,729.4 354.6,729.9 355.4,730.3 356.2,730.7 357.1,731.2 358.1,731.6 359.1,731.9 360.1,732.2 361.0,732.2 362.0,732.0 362.9,731.9 364.0,731.7 365.5,731.5 367.1,731.3 368.7,731.0 370.2,730.7 371.5,730.3 372.6,729.8 373.8,729.2 375.1,728.7 377.3,728.2 379.8,727.7 382.3,727.3 384.9,726.8 387.3,726.2 389.7,725.6 392.2,724.9 394.6,724.4 397.1,723.9 399.5,723.4 402.0,723.0 404.4,722.7 406.7,722.4 408.9,722.1 411.1,721.9 413.2,721.9 414.7,722.1 416.1,722.5 417.5,722.9 419.0,723.4 421.3,724.0 423.8,724.6 426.3,725.2 428.8,725.8 431.2,726.3 433.7,726.9 436.1,727.3 438.6,727.8 441.0,728.1 443.5,728.5 445.9,728.8 448.3,729.2 450.8,729.8 453.2,730.5 455.7,731.1 458.1,731.7 460.5,732.0 462.8,732.3 465.2,732.6 467.6,732.8 467.7,732.8" fill="none" stroke="#000" stroke-width="0.90" stroke-linejoin="round"/>
<polyline points="73.0,735.0 73.4,735.0 75.1,734.7 76.7,734.5 78.3,734.3 80.1,734.0 82.4,733.8 84.9,733.6 87.4,733.3 89.3,732.7 90.4,732.1 91.2,731.2 92.0,730.3 92.8,729.3 93.7,728.0 94.6,726.5 95.6,725.1 96.7,724.0 97.8,723.3 99.0,722.7 100.3,722.4 101.5,722.3 102.8,722.5 104.0,722.9 105.2,723.5 106.4,724.0 107.6,724.3 108.8,724.7 110.1,725.0 111.3,725.4 112.7,725.9 114.2,726.3 115.7,726.8 117.2,727.4 118.7,728.1 120.3,729.0 121.7,729.9 123.0,730.5 123.7,730.8 124.3,731.2 124.9,731.4 125.5,731.3 126.4,730.1 127.2,728.0 128.0,725.6 128.9,723.5 129.8,721.6 130.8,719.7 131.8,718.1 132.8,717.4 133.4,717.6 134.0,718.1 134.7,718.8 135.2,719.6 135.8,720.7 136.4,722.0 136.9,723.3 137.7,724.5 138.7,725.4 139.9,726.2 141.2,726.8 142.5,727.4 143.9,727.8 145.2,728.0 146.7,728.2 148.4,728.4 153.3,728.6 159.6,728.7 165.8,728.4 170.3,727.8 171.6,727.3 172.5,726.8 173.4,726.1 174.2,725.3 175.0,724.2 175.7,722.7 176.3,721.3 177.1,720.0 178.0,718.8 179.0,717.5 180.0,716.6 181.0,716.1 182.0,716.2 182.9,716.6 183.9,717.3 184.9,718.0 186.1,719.1 187.3,720.4 188.5,721.8 189.8,722.9 191.0,723.6 192.2,724.2 193.4,724.7 194.7,725.0 195.9,725.3 197.1,725.4 198.3,725.4 199.6,725.3 200.8,725.2 202.0,725.0 203.2,724.7 204.4,724.4 205.8,723.8 207.1,723.2 208.3,722.4 209.3,721.4 210.0,720.3 210.5,719.1 210.9,717.7 211.3,716.1 211.9,713.1 212.4,709.5 212.8,705.8 213.2,702.4 213.6,699.7 213.8,697.1 214.2,694.7 214.7,692.7 215.2,691.5 215.7,690.4 216.3,689.5 217.1,688.8 218.4,688.0 219.9,687.3 221.5,686.9 223.0,686.8 224.0,687.0 225.0,687.5 225.9,688.1 226.9,688.8 228.1,689.8 229.3,691.2 230.5,692.5 231.8,693.6 233.0,694.5 234.2,695.3 235.5,695.9 236.7,696.1 237.7,695.7 238.7,694.8 239.7,693.8 240.6,692.7 241.4,691.4 242.2,690.0 242.9,688.4 243.5,686.8 244.1,684.8 244.6,682.6 245.0,680.3 245.5,678.0 246.0,675.6 246.5,673.2 247.0,670.7 247.4,668.3 247.7,665.9 247.9,663.5 248.0,661.2 248.4,658.7 249.0,655.8 249.7,652.9 250.5,649.9 251.3,647.0 252.0,644.5 252.8,642.1 253.6,639.7 254.2,637.3 254.8,634.9 255.3,632.5 255.8,630.1 256.2,627.5 256.6,624.1 257.0,620.4 257.3,616.6 257.7,612.9 258.1,608.5 258.6,603.7 259.0,599.8 259.1,598.2 258.9,599.8 258.5,603.3 258.2,606.9 258.1,608.5 258.5,605.4 259.3,598.6 260.2,591.8 261.2,588.6 262.0,591.0 262.9,596.5 263.8,603.0 265.0,608.5 266.1,611.7 267.3,614.8 268.6,617.5 270.3,619.2 271.6,619.7 273.1,619.7 274.6,619.6 276.1,619.7 277.6,620.1 279.1,620.7 280.6,621.4 282.0,622.1 283.3,623.1 284.5,624.1 285.7,625.3 286.8,626.5 288.1,628.1 289.3,629.8 290.5,631.6 291.7,633.4 292.9,635.4 294.1,637.6 295.3,639.6 296.6,641.2 297.8,641.9 299.0,642.3 300.2,642.7 301.5,643.1 302.7,643.5 304.0,643.9 305.2,644.4 306.4,645.1 307.7,646.4 308.9,648.1 310.1,650.0 311.3,651.9 312.5,653.9 313.7,656.0 314.9,658.0 316.1,659.7 317.1,660.7 318.1,661.6 319.0,662.3 320.0,662.6 321.0,662.5 322.0,662.1 323.0,661.5 323.9,660.7 325.3,658.8 326.5,656.2 327.7,653.5 328.8,650.9 329.8,648.8 330.6,646.7 331.6,644.8 332.7,643.1 334.1,641.9 335.6,641.0 337.2,640.2 338.6,639.2 339.7,638.3 340.7,637.5 341.6,636.5 342.5,635.3 343.6,633.2 344.6,630.7 345.5,628.1 346.4,625.6 347.2,623.2 348.0,620.7 348.7,618.5 349.3,616.8 349.6,616.2 349.8,615.6 350.1,615.2 350.3,615.0 350.7,615.3 351.1,615.9 351.4,616.8 351.8,617.8 352.3,620.5 352.7,624.2 353.0,628.3 353.2,632.4 353.5,637.1 353.8,642.1 354.0,647.1 354.2,651.9 354.4,656.3 354.6,660.6 354.8,664.7 355.2,668.4 355.6,670.5 356.1,672.4 356.7,674.2 357.1,676.1 357.5,678.5 357.8,681.2 358.2,683.4 358.6,684.4 359.0,684.0 359.5,682.8 360.0,681.4 360.6,680.0 361.3,678.0 362.2,675.7 363.0,673.4 364.0,671.2 364.9,669.3 365.9,667.5 366.9,665.8 367.9,664.4 368.5,663.6 369.1,663.0 369.6,662.3 370.2,661.6 370.9,660.5 371.6,659.3 372.4,658.1 373.2,657.3 373.8,656.8 374.4,656.5 375.0,656.3 375.6,656.3 376.2,656.7 376.8,657.5 377.4,658.5 378.0,659.7 379.2,662.2 380.4,665.4 381.7,668.6 382.9,671.2 383.6,672.4 384.2,673.4 384.9,674.3 385.8,675.1 387.7,675.9 390.0,676.3 392.4,676.7 394.6,677.1 396.4,677.5 398.1,678.0 399.8,678.4 401.5,678.5 403.0,678.4 404.5,678.1 406.0,677.7 407.3,677.1 408.4,676.1 409.4,674.9 410.3,673.7 411.2,672.7 412.1,671.9 413.0,671.1 413.8,670.5 414.6,670.2 415.3,670.4 415.9,670.8 416.5,671.5 417.1,672.2 417.9,673.6 418.6,675.3 419.2,677.2 420.0,679.0 420.9,680.8 421.8,682.5 422.8,684.2 423.9,685.8 425.1,687.4 426.3,688.9 427.6,690.2 428.8,691.2 429.5,691.6 430.2,691.9 430.9,692.1 431.7,692.2 432.8,692.2 434.0,692.0 435.3,691.8 436.6,691.7 438.3,691.5 440.0,691.3 441.8,691.1 443.4,691.2 444.7,691.4 446.0,691.7 447.2,692.1 448.3,692.7 449.6,693.5 450.8,694.6 452.0,695.8 453.2,697.0 454.5,698.5 455.7,700.1 456.9,701.8 458.1,703.4 459.3,705.0 460.5,706.6 461.7,708.0 463.0,709.2 464.1,709.9 465.2,710.4 466.4,710.8 467.6,711.2 467.7,711.2" fill="none" stroke="#000" stroke-width="0.90" stroke-linejoin="round"/>
<polyline points="73.0,727.4 73.4,727.4 74.1,725.0 74.9,722.6 75.5,720.2 76.2,717.6 76.7,714.3 77.2,710.9 77.6,707.2 78.1,703.0 79.0,695.2 79.9,686.1 80.8,676.8 81.5,668.4 82.0,662.6 82.3,657.1 82.7,652.0 83.0,647.0 83.2,643.2 83.5,639.5 83.7,636.0 84.0,632.4 84.3,628.7 84.7,624.9 85.1,621.2 85.4,617.8 85.7,615.2 85.9,612.8 86.1,610.4 86.4,608.0 86.8,605.7 87.3,603.5 87.9,601.1 88.4,598.2 89.3,591.6 90.2,583.6 91.0,575.1 91.8,567.1 92.3,560.7 92.8,554.4 93.3,548.4 93.7,542.7 94.1,538.3 94.5,533.9 94.8,529.9 95.2,526.2 95.4,523.4 95.5,520.7 95.7,518.4 96.2,516.9 96.5,516.6 96.8,516.4 97.2,516.2 97.6,516.2 98.5,516.4 99.5,516.9 100.6,517.4 101.5,517.9 102.3,518.1 103.1,518.3 103.8,518.5 104.5,518.8 105.2,519.5 106.0,520.3 106.7,521.3 107.4,522.3 108.4,523.6 109.3,525.0 110.3,526.6 111.3,528.1 112.3,529.7 113.3,531.4 114.3,533.2 115.2,534.9 116.0,536.8 116.8,538.7 117.5,540.7 118.1,542.7 118.7,545.1 119.2,547.5 119.7,550.0 120.1,552.5 120.5,554.9 120.9,557.2 121.2,559.7 121.6,562.2 122.0,565.7 122.3,569.5 122.7,573.3 123.0,576.9 123.3,579.9 123.5,582.8 123.7,585.6 124.0,588.5 124.3,591.7 124.6,595.2 124.9,598.1 125.2,599.2 125.5,598.2 125.8,595.5 126.1,592.1 126.4,588.5 126.9,581.7 127.2,573.6 127.6,565.1 127.9,557.4 128.2,551.5 128.4,545.9 128.6,540.7 128.9,535.9 129.0,532.5 129.2,529.0 129.4,526.3 129.6,525.2 129.7,525.7 129.9,527.2 130.2,529.1 130.3,531.0 130.6,534.5 130.8,538.7 131.1,543.2 131.3,547.6 131.7,552.4 132.0,557.2 132.4,562.1 132.8,567.1 133.2,572.4 133.6,577.8 134.0,583.2 134.2,588.5 134.3,593.4 134.2,598.3 134.0,603.1 134.0,608.0 134.0,612.9 134.1,617.8 134.2,622.6 134.3,627.5 134.4,632.4 134.5,637.2 134.6,642.1 134.7,647.0 134.9,652.2 135.2,657.3 135.5,662.6 135.7,668.4 136.0,676.8 136.2,686.2 136.4,695.3 136.7,703.0 136.9,706.7 137.1,709.9 137.4,712.9 137.7,715.7 137.8,717.8 138.0,719.9 138.2,721.8 138.6,723.5 139.0,724.5 139.5,725.5 140.0,726.3 140.6,726.9 141.0,727.1 141.5,727.2 142.0,727.3 142.5,727.4 143.7,727.6 145.0,727.9 146.6,728.2 148.4,728.4 153.3,728.6 159.6,728.7 165.8,728.4 170.3,727.8 171.6,727.3 172.5,726.8 173.4,726.1 174.2,725.3 175.0,724.2 175.7,722.7 176.3,721.3 177.1,720.0 178.0,718.8 179.0,717.5 180.0,716.6 181.0,716.1 182.0,716.2 182.9,716.6 183.9,717.3 184.9,718.0 186.1,719.1 187.3,720.4 188.5,721.8 189.8,722.9 191.0,723.6 192.2,724.2 193.4,724.7 194.7,725.0 195.9,725.3 197.1,725.4 198.3,725.4 199.6,725.3 200.8,725.2 202.0,725.0 203.2,724.7 204.4,724.4 205.8,723.8 207.1,723.2 208.3,722.4 209.3,721.4 210.0,720.3 210.5,719.1 210.9,717.7 211.3,716.1 211.9,713.1 212.4,709.5 212.8,705.8 213.2,702.4 213.6,699.7 213.8,697.1 214.2,694.7 214.7,692.7 215.2,691.5 215.7,690.4 216.3,689.5 217.1,688.8 218.4,688.0 219.9,687.3 221.5,686.9 223.0,686.8 224.0,687.0 225.0,687.5 225.9,688.1 226.9,688.8 228.1,689.8 229.3,691.2 230.5,692.5 231.8,693.6 233.0,694.5 234.2,695.3 235.5,695.9 236.7,696.1 237.7,695.7 238.7,694.8 239.7,693.8 240.6,692.7 241.4,691.4 242.2,690.0 242.9,688.4 243.5,686.8 244.1,684.8 244.6,682.6 245.0,680.3 245.5,678.0 246.0,675.6 246.5,673.2 247.0,670.7 247.4,668.3 247.7,665.9 247.9,663.5 248.0,661.2 248.4,658.7 249.0,655.8 249.7,652.9 250.5,649.9 251.3,647.0 252.0,644.5 252.8,642.1 253.6,639.7 254.2,637.3 254.8,634.9 255.3,632.5 255.8,630.1 256.2,627.5 256.6,624.1 257.0,620.4 257.3,616.6 257.7,612.9 258.1,608.5 258.6,603.7 259.0,599.8 259.1,598.2 258.9,599.8 258.5,603.3 258.2,606.9 258.1,608.5 258.5,605.4 259.3,598.6 260.2,591.8 261.2,588.6 262.0,591.0 262.9,596.5 263.8,603.0 265.0,608.5 266.1,611.7 267.3,614.8 268.6,617.5 270.3,619.2 271.6,619.7 273.1,619.7 274.6,619.6 276.1,619.7 277.6,620.1 279.1,620.7 280.6,621.4 282.0,622.1 283.3,623.1 284.5,624.1 285.7,625.3 286.8,626.5 288.1,628.1 289.3,629.8 290.5,631.6 291.7,633.4 292.9,635.4 294.1,637.6 295.3,639.6 296.6,641.2 297.8,641.9 299.0,642.3 300.2,642.7 301.5,643.1 302.7,643.5 304.0,643.9 305.2,644.4 306.4,645.1 307.7,646.4 308.9,648.1 310.1,650.0 311.3,651.9 312.5,653.9 313.7,656.0 314.9,658.0 316.1,659.7 317.1,660.7 318.1,661.6 319.0,662.3 320.0,662.6 321.0,662.5 322.0,662.1 323.0,661.5 323.9,660.7 325.3,658.8 326.5,656.2 327.7,653.5 328.8,650.9 329.8,648.8 330.6,646.7 331.6,644.8 332.7,643.1 334.1,641.9 335.6,641.0 337.2,640.2 338.6,639.2 339.7,638.3 340.7,637.5 341.6,636.5 342.5,635.3 343.6,633.2 344.6,630.7 345.5,628.1 346.4,625.6 347.2,623.2 348.0,620.7 348.7,618.5 349.3,616.8 349.6,616.2 349.8,615.6 350.1,615.2 350.3,615.0 350.7,615.3 351.1,615.9 351.4,616.8 351.8,617.8 352.3,620.5 352.7,624.2 353.0,628.3 353.2,632.4 353.5,637.1 353.8,642.1 354.0,647.1 354.2,651.9 354.4,656.3 354.6,660.6 354.8,664.7 355.2,668.4 355.6,670.5 356.1,672.4 356.7,674.2 357.1,676.1 357.5,678.5 357.8,681.2 358.2,683.4 358.6,684.4 359.0,684.0 359.5,682.8 360.0,681.4 360.6,680.0 361.3,678.0 362.2,675.7 363.0,673.4 364.0,671.2 364.9,669.3 365.9,667.5 366.9,665.8 367.9,664.4 368.5,663.6 369.1,663.0 369.6,662.3 370.2,661.6 370.9,660.5 371.6,659.3 372.4,658.1 373.2,657.3 373.8,656.8 374.4,656.5 375.0,656.3 375.6,656.3 376.2,656.7 376.8,657.5 377.4,658.5 378.0,659.7 379.2,662.2 380.4,665.4 381.7,668.6 382.9,671.2 383.6,672.4 384.2,673.4 384.9,674.3 385.8,675.1 387.7,675.9 390.0,676.3 392.4,676.7 394.6,677.1 396.4,677.5 398.1,678.0 399.8,678.4 401.5,678.5 403.0,678.4 404.5,678.1 406.0,677.7 407.3,677.1 408.4,676.1 409.4,674.9 410.3,673.7 411.2,672.7 412.1,671.9 413.0,671.1 413.8,670.5 414.6,670.2 415.3,670.4 415.9,670.8 416.5,671.5 417.1,672.2 417.9,673.6 418.6,675.3 419.2,677.2 420.0,679.0 420.9,680.8 421.8,682.5 422.8,684.2 423.9,685.8 425.1,687.4 426.3,688.9 427.6,690.2 428.8,691.2 429.5,691.6 430.2,691.9 430.9,692.1 431.7,692.2 432.8,692.2 434.0,692.0 435.3,691.8 436.6,691.7 438.3,691.5 440.0,691.3 441.8,691.1 443.4,691.2 444.7,691.4 446.0,691.7 447.2,692.1 448.3,692.7 449.6,693.5 450.8,694.6 452.0,695.8 453.2,697.0 454.5,698.5 455.7,700.1 456.9,701.8 458.1,703.4 459.3,705.0 460.5,706.6 461.7,708.0 463.0,709.2 464.1,709.9 465.2,710.4 466.4,710.8 467.6,711.2 467.7,711.2" fill="none" stroke="#000" stroke-width="0.90" stroke-linejoin="round"/>
<polyline points="73.0,727.2 73.4,727.2 74.1,724.8 74.9,722.4 75.5,720.0 76.2,717.4 76.7,714.1 77.2,710.7 77.6,707.0 78.1,702.8 79.0,695.0 79.9,685.9 80.8,676.6 81.5,668.2 82.0,662.4 82.3,656.9 82.7,651.8 83.0,646.8 83.2,643.0 83.5,639.3 83.7,635.8 84.0,632.2 84.3,628.5 84.7,624.7 85.1,621.0 85.4,617.6 85.7,615.0 85.9,612.6 86.1,610.2 86.4,607.8 86.8,605.5 87.3,603.3 87.9,600.9 88.4,598.1 89.3,591.4 90.2,583.4 91.0,574.9 91.8,566.9 92.4,560.5 92.9,554.2 93.3,548.2 93.7,542.5 94.0,538.2 94.3,534.1 94.5,530.1 94.7,526.2 94.8,522.5 94.7,518.9 94.8,515.5 94.9,512.6 95.0,511.1 95.2,509.7 95.5,508.6 95.8,507.6 96.0,507.1 96.3,506.7 96.5,506.4 96.9,506.2 97.4,506.2 98.0,506.3 98.7,506.5 99.3,506.8 100.1,507.2 100.9,507.6 101.7,508.1 102.5,508.6 103.3,509.0 104.0,509.4 104.7,509.9 105.4,510.6 107.1,512.6 108.9,515.3 110.7,518.4 112.3,521.3 113.5,523.8 114.5,526.3 115.4,528.7 116.2,531.0 116.8,532.9 117.3,534.6 117.7,536.3 118.1,537.9 118.4,538.9 118.7,539.8 118.9,540.7 119.1,541.8 119.4,544.0 119.6,546.7 119.8,549.6 120.1,552.3 120.4,554.7 120.8,557.1 121.2,559.5 121.6,562.0 122.0,565.5 122.3,569.3 122.7,573.1 123.0,576.7 123.3,579.7 123.5,582.6 123.7,585.4 124.0,588.3 124.3,591.5 124.6,595.0 124.9,597.9 125.2,599.0 125.5,598.0 125.8,595.4 126.1,591.9 126.4,588.3 126.9,581.5 127.2,573.4 127.6,564.9 127.9,557.2 128.2,551.4 128.4,545.8 128.6,540.5 128.9,535.7 129.0,532.2 129.2,528.6 129.3,525.8 129.6,524.7 129.7,525.0 129.9,525.9 130.2,527.0 130.3,528.1 130.6,530.1 130.9,532.5 131.1,535.1 131.3,537.9 131.7,542.3 132.1,547.2 132.5,552.3 132.8,557.4 133.1,562.3 133.4,567.2 133.6,572.1 133.8,576.9 133.8,581.2 133.8,585.5 133.8,589.6 134.0,593.4 134.2,596.1 134.5,598.6 134.8,600.9 135.2,603.1 135.6,605.0 135.9,606.9 136.3,608.4 136.7,609.0 137.2,608.1 137.6,606.0 138.1,603.5 138.6,601.2 139.1,599.4 139.5,597.7 140.0,596.0 140.6,594.3 141.2,592.8 141.9,591.4 142.7,589.9 143.5,588.5 144.4,586.9 145.3,585.3 146.3,583.8 147.4,582.7 148.7,582.1 150.1,581.8 151.7,581.7 153.3,581.6 155.6,581.4 158.1,581.3 160.7,581.2 163.1,581.3 165.0,581.3 167.0,581.3 168.7,581.4 170.3,581.7 171.1,582.1 171.9,582.5 172.6,583.1 173.2,583.7 173.9,584.8 174.6,586.1 175.3,587.4 176.1,588.5 177.2,589.3 178.4,590.0 179.7,590.4 181.0,590.6 182.5,590.5 184.0,590.0 185.5,589.3 186.9,588.5 188.2,587.4 189.3,586.1 190.5,584.8 191.8,583.7 193.1,582.9 194.6,582.2 196.1,581.6 197.6,581.3 198.9,581.1 200.1,581.2 201.3,581.3 202.5,581.6 203.8,581.9 205.0,582.4 206.2,583.0 207.4,583.7 208.4,584.8 209.4,586.1 210.3,587.4 211.3,588.5 212.2,589.2 213.1,589.8 214.1,590.3 215.2,590.6 216.5,590.7 218.0,590.5 219.5,590.2 221.0,590.0 223.0,589.7 225.0,589.4 227.0,589.0 228.9,588.5 230.2,587.9 231.4,587.1 232.5,586.3 233.7,585.6 234.9,585.1 236.1,584.5 237.3,584.1 238.6,583.7 240.1,583.5 241.6,583.5 243.1,583.5 244.5,583.2 245.5,582.8 246.5,582.2 247.4,581.6 248.4,580.8 249.6,579.5 250.9,578.0 252.2,576.4 253.3,574.9 254.1,573.7 254.9,572.5 255.6,571.3 256.2,570.0 256.7,568.5 257.2,566.9 257.6,565.4 258.1,564.2 258.5,563.7 258.9,563.2 259.3,562.8 259.6,562.7 260.0,563.0 260.4,563.5 260.7,564.3 261.1,565.2 261.6,567.1 262.1,569.5 262.6,572.2 263.0,574.9 263.5,578.4 263.8,582.4 264.3,585.9 265.0,588.5 265.4,589.1 265.9,589.5 266.3,589.9 266.8,590.4 267.3,591.4 267.7,592.5 268.2,593.7 268.9,594.6 269.7,595.2 270.5,595.7 271.5,596.0 272.4,596.0 273.4,595.4 274.5,594.3 275.5,593.0 276.6,591.8 277.6,590.6 278.6,589.4 279.7,588.1 280.8,586.9 281.9,585.6 283.1,584.3 284.4,583.0 285.6,582.0 286.6,581.5 287.6,581.0 288.6,580.7 289.8,580.3 291.5,579.7 293.5,579.0 295.6,578.4 297.6,577.8 299.5,577.3 301.5,576.8 303.5,576.3 305.4,576.1 307.1,576.0 308.9,576.1 310.6,576.4 312.2,576.9 314.0,577.8 315.7,579.1 317.4,580.3 319.1,581.3 320.3,581.6 321.5,581.9 322.7,582.0 323.9,582.2 325.2,582.6 326.4,583.1 327.6,583.5 328.8,583.7 330.0,583.5 331.3,583.1 332.5,582.7 333.7,582.2 334.9,581.9 336.2,581.6 337.4,581.2 338.6,580.8 339.9,580.0 341.1,579.1 342.4,578.3 343.5,578.0 344.3,578.4 345.1,579.0 345.8,579.9 346.4,580.8 347.0,581.9 347.5,583.2 347.9,584.5 348.4,585.6 348.7,586.4 349.1,587.0 349.5,587.6 349.8,588.5 350.4,591.4 350.7,595.3 351.0,599.4 351.3,603.1 351.5,605.6 351.8,608.0 352.0,610.3 352.3,612.9 352.5,616.6 352.6,620.5 352.8,624.8 353.0,629.5 353.7,637.7 354.5,647.2 355.3,656.3 356.2,663.4 356.5,665.8 356.9,667.8 357.2,669.6 357.6,671.2 357.9,672.5 358.3,673.7 358.7,674.7 359.1,675.1 359.7,674.6 360.5,673.4 361.2,671.7 362.0,670.2 363.0,668.7 364.0,667.1 365.0,665.3 365.9,663.4 367.1,660.1 368.2,656.3 369.2,652.4 370.2,649.0 370.9,646.7 371.6,644.6 372.3,642.7 373.2,641.2 373.9,640.3 374.8,639.5 375.7,638.9 376.6,638.7 377.4,639.0 378.3,639.6 379.1,640.4 380.0,641.2 381.0,642.3 381.9,643.7 382.9,644.9 383.9,645.6 384.6,645.5 385.3,645.2 386.0,644.6 386.8,644.1 388.2,643.1 389.6,641.9 391.1,640.5 392.7,639.2 394.3,637.8 396.0,636.4 397.8,634.9 399.5,633.4 401.6,631.7 403.8,630.0 405.8,628.3 407.3,626.5 408.0,625.3 408.3,624.0 408.7,622.8 409.3,621.7 410.3,620.3 411.6,618.9 412.9,617.8 414.2,617.3 414.9,617.3 415.7,617.6 416.4,618.1 417.1,618.7 418.0,620.0 418.7,621.7 419.4,623.6 420.0,625.6 420.8,627.9 421.5,630.4 422.2,632.9 422.9,635.3 423.6,637.4 424.3,639.4 425.0,641.3 425.9,643.1 426.7,644.7 427.7,646.3 428.7,647.7 429.8,649.0 430.7,649.8 431.7,650.5 432.7,651.1 433.7,651.9 434.9,653.1 436.1,654.4 437.3,655.7 438.6,656.8 439.6,657.3 440.5,657.8 441.5,658.2 442.5,658.7 443.5,659.5 444.4,660.5 445.4,661.5 446.4,662.6 447.6,663.9 448.9,665.3 450.1,666.8 451.3,668.4 452.3,670.2 453.3,672.2 454.3,674.2 455.2,676.1 455.9,677.6 456.7,679.0 457.4,680.4 458.1,681.9 458.8,683.6 459.5,685.4 460.2,687.1 461.0,688.8 461.9,690.3 462.9,691.9 463.9,693.4 464.9,694.6 465.6,695.3 466.3,695.9 466.9,696.5 467.6,697.0 467.7,697.0" fill="none" stroke="#000" stroke-width="0.90" stroke-linejoin="round"/>
<polyline points="73.0,496.0 73.4,496.0 74.6,496.8 75.8,497.7 77.0,498.4 78.1,498.7 78.9,498.6 79.7,498.2 80.4,497.6 81.0,497.0 81.9,495.8 82.6,494.2 83.2,492.6 84.0,491.1 84.7,490.1 85.4,489.1 86.1,488.1 86.9,487.2 87.6,486.5 88.4,485.8 89.2,485.1 89.8,484.3 90.4,483.2 90.8,481.9 91.3,480.6 91.8,479.4 92.3,478.5 93.0,477.5 93.6,476.8 94.2,476.5 94.7,476.8 95.2,477.5 95.7,478.5 96.2,479.4 96.8,480.8 97.3,482.5 97.9,484.0 98.6,485.3 99.3,486.0 100.1,486.6 100.8,486.9 101.5,487.0 102.2,486.7 102.8,486.0 103.4,485.1 104.0,484.3 104.6,483.3 105.2,482.3 105.7,481.2 106.4,480.4 107.1,479.9 107.8,479.5 108.5,479.2 109.4,478.9 110.5,478.5 111.7,478.1 113.0,477.7 114.2,477.5 115.5,477.3 116.8,477.2 118.0,477.2 119.1,477.3 119.9,477.4 120.7,477.7 121.4,478.0 122.0,478.4 122.8,479.3 123.6,480.4 124.3,481.4 125.0,481.9 125.4,481.8 125.7,481.5 126.1,481.2 126.4,480.9 126.8,480.4 127.2,479.8 127.6,479.4 127.9,479.2 128.2,479.7 128.5,480.7 128.7,482.0 128.9,483.3 129.2,485.8 129.4,488.7 129.6,491.9 129.9,495.0 130.1,498.3 130.4,501.7 130.6,505.1 130.8,508.6 131.1,512.1 131.3,515.6 131.6,519.3 131.8,523.2 132.2,529.0 132.5,535.2 132.9,541.6 133.3,547.6 133.6,552.7 134.0,557.7 134.4,562.5 134.7,567.1 134.9,571.3 135.1,575.8 135.3,579.3 135.7,580.8 135.9,580.6 136.2,580.2 136.4,579.5 136.7,578.8 137.2,576.6 137.7,573.5 138.2,570.2 138.6,567.1 139.1,564.6 139.5,562.1 140.0,559.7 140.6,557.4 141.2,555.3 141.9,553.4 142.7,551.5 143.5,549.6 144.4,547.5 145.2,545.3 146.2,543.4 147.4,542.2 148.7,542.0 150.1,542.3 151.7,542.8 153.3,543.2 155.6,543.7 158.1,544.2 160.7,544.7 163.1,545.2 165.0,545.5 167.0,545.7 168.8,546.1 170.3,546.6 171.2,547.2 171.9,547.9 172.6,548.7 173.2,549.6 174.0,550.9 174.7,552.3 175.4,553.9 176.1,555.4 176.8,557.0 177.5,558.7 178.2,560.2 179.1,561.3 179.7,561.7 180.5,562.0 181.3,562.1 182.0,562.0 182.7,561.8 183.4,561.4 184.2,560.9 184.9,560.3 186.1,559.3 187.3,558.0 188.6,556.7 189.8,555.4 191.0,554.2 192.2,553.0 193.4,551.9 194.7,551.0 195.9,550.4 197.1,550.0 198.4,549.6 199.6,549.6 200.6,549.7 201.5,550.0 202.5,550.5 203.5,551.0 204.7,551.7 206.0,552.5 207.3,553.4 208.4,554.4 209.2,555.5 210.0,556.7 210.7,558.0 211.3,559.3 211.8,560.9 212.1,562.6 212.5,564.1 213.2,565.2 214.0,565.5 215.0,565.6 216.1,565.5 217.1,565.4 218.5,565.2 220.0,565.0 221.5,564.6 223.0,564.2 224.5,563.6 225.9,562.9 227.4,562.1 228.9,561.3 230.3,560.4 231.8,559.5 233.2,558.7 234.7,557.9 236.2,557.2 237.7,556.5 239.1,555.9 240.6,555.4 241.9,555.1 243.2,554.8 244.4,554.5 245.5,554.0 246.3,553.1 247.1,552.0 247.7,550.8 248.4,549.6 249.2,547.8 249.9,545.8 250.6,543.7 251.3,541.8 252.1,540.0 252.8,538.3 253.6,536.6 254.2,534.9 254.8,533.3 255.3,531.6 255.8,529.9 256.2,528.1 256.6,525.8 257.0,523.3 257.3,520.8 257.7,518.4 257.9,516.0 258.1,513.6 258.3,511.2 258.6,508.6 259.1,504.5 259.6,500.0 260.2,495.7 261.1,492.1 261.7,490.4 262.3,489.0 263.1,487.7 264.0,486.7 264.9,486.1 265.9,485.7 267.0,485.5 267.9,485.3 268.5,485.2 269.1,485.1 269.6,485.1 270.3,485.1 271.4,485.1 272.6,485.2 273.9,485.4 275.1,485.8 276.4,486.2 277.6,486.8 278.8,487.5 280.0,488.2 281.3,489.1 282.5,490.0 283.7,491.0 284.9,492.1 286.1,493.3 287.4,494.5 288.6,495.7 289.8,497.0 291.0,498.2 292.2,499.4 293.5,500.6 294.7,501.9 295.8,503.3 297.0,504.9 298.2,506.4 299.5,507.7 301.3,508.9 303.3,509.9 305.4,510.7 307.4,511.0 309.1,510.8 310.9,510.3 312.6,509.5 314.2,508.6 315.5,507.6 316.7,506.4 317.8,505.3 319.1,504.3 320.3,503.7 321.5,503.1 322.7,502.7 323.9,502.3 325.2,502.0 326.4,501.8 327.6,501.6 328.8,501.4 330.0,501.1 331.3,500.8 332.5,500.5 333.7,500.4 334.9,500.4 336.2,500.6 337.4,500.7 338.6,500.7 339.8,500.4 341.1,499.9 342.3,499.4 343.5,498.9 344.5,498.6 345.6,498.4 346.6,498.0 347.4,497.5 348.1,496.4 348.5,495.1 348.9,493.6 349.3,492.1 349.8,490.4 350.3,488.5 350.8,486.7 351.3,485.3 351.6,484.5 352.0,483.9 352.4,483.4 352.7,483.1 353.1,483.2 353.5,483.5 353.9,483.9 354.2,484.3 354.7,485.1 355.1,486.1 355.6,487.2 356.2,488.2 356.8,489.1 357.5,490.0 358.3,490.7 359.1,491.1 360.0,491.1 361.0,490.9 362.0,490.5 363.0,490.1 364.2,489.9 365.5,489.6 366.8,489.4 367.9,489.2 368.5,489.1 369.1,489.0 369.6,488.8 370.2,488.7 371.3,488.3 372.4,487.9 373.7,487.4 375.1,487.0 377.3,486.7 379.6,486.6 382.2,486.4 384.9,486.2 388.4,485.9 392.1,485.5 395.9,485.1 399.5,484.8 402.6,484.6 405.7,484.5 408.6,484.5 411.2,484.5 412.8,484.6 414.3,484.9 415.7,485.0 417.1,485.1 418.6,484.8 420.0,484.4 421.5,484.0 422.9,483.8 424.4,483.8 425.8,483.9 427.2,484.1 428.8,484.3 431.1,484.5 433.5,484.7 436.1,485.0 438.6,485.3 441.1,485.7 443.6,486.1 446.0,486.6 448.3,487.2 450.2,487.8 451.9,488.4 453.5,489.0 455.2,489.7 456.7,490.4 458.1,491.2 459.5,492.0 461.0,492.6 462.6,492.9 464.3,493.0 465.9,493.0 467.6,493.1 467.7,493.1" fill="none" stroke="#000" stroke-width="0.90" stroke-linejoin="round"/>
<polyline points="73.0,484.8 73.4,484.8 74.1,484.9 74.8,485.1 75.5,485.2 76.2,485.1 77.0,484.5 77.7,483.6 78.4,482.5 79.1,481.4 79.9,479.8 80.6,478.1 81.3,476.3 82.0,474.5 82.7,472.8 83.4,471.0 84.2,469.3 84.9,467.7 85.7,466.5 86.4,465.4 87.1,464.4 87.9,463.3 88.5,462.5 89.1,461.7 89.7,460.9 90.3,459.9 91.0,458.2 91.5,456.1 92.1,454.0 92.8,452.1 93.4,450.6 94.1,449.0 94.8,447.7 95.7,446.7 96.3,446.4 97.1,446.2 97.8,446.1 98.6,446.1 99.7,446.2 101.0,446.4 102.2,446.8 103.5,447.2 104.9,447.9 106.4,448.6 107.9,449.4 109.4,450.2 110.8,450.8 112.4,451.3 113.8,451.9 115.2,452.6 116.3,453.3 117.3,454.0 118.2,454.7 119.1,455.5 119.9,456.3 120.7,457.2 121.4,458.1 122.0,458.9 122.7,459.9 123.3,461.0 123.9,461.9 124.5,462.4 125.0,462.3 125.5,462.0 126.0,461.5 126.4,460.9 127.0,459.1 127.5,456.7 127.8,454.3 128.4,452.6 128.7,452.1 129.1,451.7 129.5,451.4 129.9,451.3 130.4,451.8 130.9,452.7 131.3,453.9 131.8,455.0 132.3,456.5 132.8,458.0 133.2,459.6 133.8,460.9 134.2,461.8 134.7,462.7 135.2,463.3 135.7,463.6 136.4,463.4 137.1,462.6 137.9,461.7 138.6,460.9 139.5,460.1 140.5,459.3 141.5,458.6 142.5,458.0 143.7,457.4 144.9,456.9 146.1,456.5 147.4,456.3 148.9,456.3 150.4,456.5 151.8,456.7 153.3,457.0 154.5,457.2 155.7,457.4 156.9,457.6 158.2,457.8 159.6,457.9 161.1,458.1 162.5,458.2 164.0,458.5 165.6,458.7 167.2,459.0 168.8,459.3 170.3,459.7 171.3,460.1 172.3,460.5 173.2,460.9 174.2,461.4 175.3,461.9 176.5,462.5 177.8,463.0 179.1,463.3 180.6,463.4 182.3,463.3 184.1,463.1 185.9,462.8 188.3,462.4 190.8,461.8 193.3,461.2 195.7,460.9 197.5,460.8 199.2,460.9 200.8,461.1 202.5,461.4 204.2,461.7 206.0,462.2 207.7,462.7 209.3,463.3 210.6,464.1 211.8,465.0 212.9,465.9 214.2,466.5 215.8,466.9 217.5,467.0 219.3,467.0 221.0,466.9 222.9,466.8 224.9,466.7 226.8,466.5 228.9,466.3 231.2,466.0 233.7,465.7 236.2,465.5 238.6,465.3 240.6,465.3 242.6,465.4 244.6,465.5 246.4,465.3 248.2,464.8 250.0,464.1 251.7,463.3 253.3,462.4 254.6,461.3 255.8,460.1 257.0,458.9 258.1,458.0 258.9,457.5 259.6,457.1 260.3,456.9 261.1,456.8 261.8,456.9 262.5,457.2 263.2,457.6 264.0,458.0 265.0,458.5 266.0,459.0 267.0,459.5 267.9,459.9 268.5,460.0 269.0,460.1 269.6,460.1 270.3,460.1 272.2,459.9 274.7,459.6 277.4,459.2 280.0,458.9 282.5,458.9 284.9,458.9 287.3,459.0 289.8,459.1 292.2,459.3 294.7,459.4 297.1,459.6 299.5,459.7 302.0,459.8 304.4,460.0 306.9,460.1 309.3,460.1 311.7,460.1 314.2,460.0 316.6,459.8 319.1,459.7 321.5,459.6 323.9,459.4 326.4,459.3 328.8,459.1 331.3,459.0 333.9,458.8 336.4,458.6 338.6,458.5 339.9,458.3 341.2,458.0 342.3,457.9 343.5,458.0 344.5,458.3 345.5,458.8 346.4,459.4 347.4,459.9 348.4,460.3 349.4,460.7 350.4,461.2 351.3,461.9 352.2,463.1 352.9,464.6 353.6,466.2 354.2,467.7 354.7,469.0 355.2,470.3 355.6,471.5 356.2,472.6 356.8,473.6 357.5,474.6 358.3,475.4 359.1,476.0 359.8,476.3 360.5,476.5 361.3,476.5 362.0,476.5 363.0,476.3 363.9,475.9 364.9,475.4 365.9,475.0 367.0,474.7 368.0,474.4 369.1,474.0 370.2,473.6 371.6,472.8 373.0,471.9 374.5,470.9 376.1,470.2 378.1,469.5 380.3,469.1 382.6,468.7 384.9,468.2 387.2,467.6 389.6,467.0 392.1,466.3 394.6,465.8 397.8,465.2 401.2,464.8 404.5,464.3 407.3,463.8 408.7,463.4 409.9,462.9 411.0,462.5 412.2,462.4 413.8,462.4 415.5,462.8 417.2,463.3 419.0,463.8 421.4,464.7 423.8,465.7 426.3,466.8 428.8,467.7 431.2,468.3 433.7,468.7 436.1,469.2 438.6,469.7 441.1,470.3 443.6,471.0 446.0,471.8 448.3,472.6 450.2,473.4 451.9,474.3 453.5,475.2 455.2,476.0 456.6,476.7 458.1,477.4 459.5,478.0 461.0,478.4 462.6,478.7 464.3,478.8 465.9,478.9 467.6,478.9 467.7,478.9" fill="none" stroke="#000" stroke-width="0.90" stroke-linejoin="round"/>
<polyline points="73.0,484.8 73.4,484.8 74.1,484.9 74.8,485.1 75.5,485.2 76.2,485.1 77.0,484.5 77.7,483.6 78.4,482.5 79.1,481.4 79.9,479.8 80.6,478.1 81.3,476.3 82.0,474.5 82.7,472.8 83.4,471.0 84.2,469.3 84.9,467.7 85.7,466.5 86.4,465.4 87.1,464.4 87.9,463.3 88.5,462.5 89.1,461.7 89.7,460.9 90.3,459.9 91.0,458.2 91.5,456.1 92.1,454.0 92.8,452.1 93.4,450.6 94.1,449.0 94.8,447.7 95.7,446.7 96.3,446.4 97.1,446.2 97.8,446.1 98.6,446.1 99.7,446.2 101.0,446.4 102.2,446.8 103.5,447.2 104.9,447.9 106.4,448.6 107.9,449.4 109.4,450.2 110.8,450.8 112.4,451.3 113.8,451.9 115.2,452.6 116.3,453.3 117.3,454.0 118.2,454.7 119.1,455.5 119.9,456.3 120.7,457.2 121.4,458.1 122.0,458.9 122.7,459.9 123.3,461.0 123.9,461.9 124.5,462.4 125.0,462.3 125.5,462.0 126.0,461.5 126.4,460.9 127.0,459.1 127.5,456.7 127.8,454.3 128.4,452.6 128.7,452.1 129.1,451.7 129.5,451.4 129.9,451.3 130.4,451.8 130.9,452.7 131.3,453.9 131.8,455.0 132.3,456.5 132.8,458.0 133.2,459.6 133.8,460.9 134.2,461.8 134.7,462.7 135.2,463.3 135.7,463.6 136.4,463.4 137.1,462.6 137.9,461.7 138.6,460.9 139.5,460.1 140.5,459.3 141.5,458.6 142.5,458.0 143.7,457.4 144.9,456.9 146.1,456.5 147.4,456.3 148.9,456.3 150.4,456.5 151.8,456.7 153.3,457.0 154.5,457.2 155.7,457.4 156.9,457.6 158.2,457.8 159.6,457.9 161.1,458.1 162.5,458.2 164.0,458.5 165.6,458.7 167.2,459.0 168.8,459.3 170.3,459.7 171.3,460.1 172.3,460.5 173.2,460.9 174.2,461.4 175.3,461.9 176.5,462.5 177.8,463.0 179.1,463.3 180.6,463.4 182.3,463.3 184.1,463.1 185.9,462.8 188.3,462.4 190.8,461.8 193.3,461.2 195.7,460.9 197.5,460.8 199.2,460.9 200.8,461.1 202.5,461.4 204.2,461.7 206.0,462.2 207.7,462.7 209.3,463.3 210.6,464.1 211.8,465.0 212.9,465.9 214.2,466.5 215.8,466.9 217.5,467.0 219.3,467.0 221.0,466.9 222.9,466.8 224.9,466.7 226.8,466.5 228.9,466.3 231.2,466.0 233.7,465.7 236.2,465.5 238.6,465.3 240.6,465.3 242.6,465.4 244.6,465.5 246.4,465.3 248.2,464.8 250.0,464.1 251.7,463.3 253.3,462.4 254.6,461.3 255.8,460.1 257.0,458.9 258.1,458.0 258.9,457.5 259.6,457.1 260.3,456.9 261.1,456.8 261.8,456.9 262.5,457.2 263.2,457.6 264.0,458.0 265.0,458.5 266.0,459.0 267.0,459.5 267.9,459.9 268.5,460.0 269.0,460.1 269.6,460.1 270.3,460.1 272.2,459.9 274.7,459.6 277.4,459.2 280.0,458.9 282.5,458.9 284.9,458.9 287.3,459.0 289.8,459.1 292.2,459.3 294.7,459.4 297.1,459.6 299.5,459.7 302.0,459.8 304.4,460.0 306.9,460.1 309.3,460.1 311.7,460.1 314.2,460.0 316.6,459.8 319.1,459.7 321.5,459.6 323.9,459.4 326.4,459.3 328.8,459.1 331.3,459.0 333.9,458.8 336.4,458.6 338.6,458.5 339.9,458.3 341.2,458.0 342.3,457.9 343.5,458.0 344.5,458.3 345.5,458.8 346.4,459.4 347.4,459.9 348.4,460.3 349.4,460.7 350.4,461.2 351.3,461.9 352.2,463.1 352.9,464.6 353.6,466.2 354.2,467.7 354.7,469.0 355.2,470.3 355.6,471.5 356.2,472.6 356.8,473.6 357.5,474.6 358.3,475.4 359.1,476.0 359.8,476.3 360.5,476.5 361.3,476.5 362.0,476.5 363.0,476.3 363.9,475.9 364.9,475.4 365.9,475.0 367.0,474.7 368.0,474.4 369.1,474.0 370.2,473.6 371.6,472.8 373.0,471.9 374.5,470.9 376.1,470.2 378.1,469.5 380.3,469.1 382.6,468.7 384.9,468.2 387.2,467.6 389.6,467.0 392.1,466.3 394.6,465.8 397.8,465.2 401.2,464.8 404.5,464.3 407.3,463.8 408.7,463.4 409.9,462.9 411.0,462.5 412.2,462.4 413.8,462.4 415.5,462.8 417.2,463.3 419.0,463.8 421.4,464.7 423.8,465.7 426.3,466.8 428.8,467.7 431.2,468.3 433.7,468.7 436.1,469.2 438.6,469.7 441.1,470.3 443.6,471.0 446.0,471.8 448.3,472.6 450.2,473.4 451.9,474.3 453.5,475.2 455.2,476.0 456.6,476.7 458.1,477.4 459.5,478.0 461.0,478.4 462.6,478.7 464.3,478.8 465.9,478.9 467.6,478.9 467.7,478.9" fill="none" stroke="#000" stroke-width="0.90" stroke-linejoin="round"/>
<polyline points="73.0,437.0 73.4,437.0 75.1,437.1 76.8,437.3 78.5,437.4 80.1,437.5 81.3,437.4 82.5,437.3 83.6,437.2 84.9,437.0 87.0,436.7 89.2,436.3 91.5,436.0 93.7,435.7 95.9,435.6 98.1,435.5 100.3,435.5 102.5,435.5 104.7,435.6 106.9,435.7 109.1,435.9 111.3,436.0 113.3,436.1 115.4,436.1 117.3,436.2 119.1,436.3 120.4,436.5 121.6,436.8 122.8,437.0 124.0,437.0 125.3,436.7 126.6,436.1 127.8,435.6 128.9,435.5 129.5,435.8 130.0,436.3 130.4,436.9 130.8,437.5 131.3,438.1 131.8,438.8 132.3,439.6 132.8,440.4 133.5,442.0 134.1,444.0 134.8,445.7 135.7,446.7 136.4,446.9 137.1,446.7 137.8,446.5 138.6,446.3 139.9,446.0 141.4,445.8 142.9,445.5 144.5,445.3 146.6,445.1 148.8,444.9 151.0,444.8 153.3,444.8 155.7,444.8 158.2,445.0 160.7,445.1 163.1,445.3 165.0,445.4 166.8,445.5 168.6,445.6 170.3,445.8 171.6,446.0 172.7,446.2 173.9,446.5 175.2,446.7 176.6,447.0 178.0,447.2 179.5,447.3 181.0,447.4 183.1,447.4 185.3,447.2 187.5,446.9 189.8,446.7 192.2,446.6 194.7,446.4 197.1,446.2 199.6,446.3 202.1,446.5 204.7,446.8 207.1,447.2 209.3,447.7 210.6,448.1 211.8,448.6 212.9,449.1 214.2,449.4 216.4,449.6 218.9,449.6 221.5,449.5 224.0,449.4 226.4,449.3 228.8,449.1 231.2,448.9 233.7,448.7 236.9,448.6 240.2,448.5 243.5,448.3 246.4,448.0 248.3,447.7 250.1,447.2 251.7,446.7 253.3,446.1 254.6,445.3 255.8,444.3 256.9,443.3 258.1,442.4 259.3,441.5 260.5,440.7 261.7,440.0 263.0,439.4 264.7,439.0 266.5,438.7 268.3,438.5 270.3,438.5 272.6,438.5 275.0,438.8 277.5,439.1 280.0,439.4 282.5,439.8 284.9,440.1 287.3,440.5 289.8,440.9 292.2,441.3 294.7,441.7 297.1,442.1 299.5,442.4 302.0,442.6 304.4,442.7 306.9,442.8 309.3,442.8 311.7,442.8 314.2,442.7 316.6,442.5 319.1,442.4 321.5,442.2 323.9,442.0 326.4,441.8 328.8,441.6 331.3,441.5 333.7,441.4 336.2,441.3 338.6,441.2 340.9,441.1 343.3,441.0 345.5,440.8 347.4,440.4 348.5,439.8 349.5,439.0 350.4,438.3 351.3,438.0 352.1,438.0 352.9,438.2 353.6,438.5 354.2,438.9 354.5,439.5 354.7,440.2 354.9,440.9 355.2,441.4 355.8,441.6 356.7,441.7 357.5,441.6 358.1,441.4 358.4,440.9 358.6,440.2 358.8,439.5 359.1,438.9 359.8,438.6 360.8,438.5 361.9,438.5 363.0,438.5 364.6,438.4 366.3,438.4 368.1,438.4 370.2,438.5 374.4,438.5 379.4,438.7 384.6,438.8 389.8,438.9 394.6,439.1 399.5,439.3 404.4,439.5 409.3,439.6 414.2,439.6 419.0,439.6 423.9,439.5 428.8,439.4 433.7,439.4 438.6,439.3 443.5,439.2 448.3,439.2 453.1,439.3 458.0,439.5 462.8,439.7 467.6,439.9 467.7,439.9" fill="none" stroke="#000" stroke-width="0.90" stroke-linejoin="round"/>
<polyline points="73.0,436.7 73.4,436.7 89.1,436.0 105.9,435.1 120.4,434.6 128.9,435.1 129.6,435.4 130.1,435.7 130.4,436.1 130.8,436.5 131.3,437.0 131.8,437.6 132.3,438.3 132.8,438.9 133.4,440.1 134.1,441.4 134.8,442.6 135.7,443.3 136.8,443.4 138.0,443.1 139.2,442.7 140.6,442.4 142.4,442.1 144.3,441.9 146.3,441.8 148.4,441.7 150.7,441.7 153.2,441.7 155.6,441.8 158.2,441.9 161.2,441.9 164.5,441.8 167.6,441.8 170.3,441.9 171.7,442.0 172.9,442.1 174.0,442.2 175.2,442.4 176.3,442.6 177.5,442.8 178.7,443.0 180.0,443.1 182.2,443.1 184.7,442.9 187.3,442.6 189.8,442.4 192.2,442.2 194.7,442.0 197.1,441.9 199.6,441.9 202.1,442.0 204.7,442.3 207.1,442.7 209.3,443.1 210.6,443.5 211.8,444.0 212.9,444.5 214.2,444.8 216.4,444.9 218.9,444.8 221.4,444.5 224.0,444.3 226.4,444.2 228.8,444.1 231.2,443.9 233.7,443.8 236.9,443.8 240.2,443.7 243.5,443.6 246.4,443.3 248.3,443.0 250.1,442.5 251.7,442.0 253.3,441.4 254.6,440.7 255.8,439.9 256.9,439.1 258.1,438.5 259.3,438.0 260.5,437.6 261.7,437.3 263.0,437.0 264.7,436.7 266.5,436.6 268.3,436.5 270.3,436.5 272.6,436.6 275.0,436.9 277.5,437.2 280.0,437.5 282.5,437.8 284.9,438.2 287.3,438.6 289.8,438.9 292.2,439.2 294.7,439.5 297.1,439.7 299.5,439.9 302.0,440.1 304.4,440.2 306.9,440.2 309.3,440.2 311.7,440.1 314.0,440.0 316.4,439.9 319.1,439.7 323.7,439.6 328.9,439.5 334.1,439.4 338.6,439.2 341.1,439.1 343.4,438.9 345.5,438.6 347.4,438.3 348.5,437.9 349.5,437.4 350.4,436.9 351.3,436.7 352.0,436.7 352.7,436.9 353.4,437.1 354.2,437.3 355.3,437.4 356.4,437.5 357.7,437.6 359.1,437.7 361.4,437.7 364.0,437.5 366.9,437.4 370.2,437.3 378.1,437.3 387.8,437.4 398.4,437.6 409.3,437.7 423.0,437.8 437.7,437.8 452.7,437.9 467.6,438.0 467.7,438.0" fill="none" stroke="#000" stroke-width="0.90" stroke-linejoin="round"/>
<polyline points="73.0,433.4 73.4,433.4 79.9,433.3 86.4,433.2 92.9,433.1 99.6,433.1 107.4,433.0 115.7,432.9 123.3,432.9 128.9,433.1 130.4,433.3 131.6,433.6 132.6,433.9 133.8,434.1 134.9,434.2 136.1,434.3 137.3,434.3 138.6,434.4 140.8,434.3 143.1,434.3 145.6,434.1 148.4,434.1 153.3,434.0 158.9,434.0 164.7,434.0 170.3,434.1 175.2,434.2 180.1,434.3 184.9,434.4 189.8,434.6 194.8,434.7 200.0,434.8 204.9,434.9 209.3,435.0 211.9,435.1 214.2,435.2 216.5,435.3 219.1,435.3 223.6,435.3 228.6,435.2 233.8,435.1 238.6,435.0 242.5,435.0 246.3,434.9 249.9,434.8 253.3,434.8 255.9,434.7 258.4,434.6 260.7,434.5 263.0,434.4 264.8,434.2 266.4,434.1 268.1,433.9 270.3,433.8 276.2,433.7 283.7,433.8 291.8,434.0 299.5,434.1 307.0,434.1 314.6,434.1 321.9,434.1 328.8,434.1 334.0,434.0 338.8,433.9 343.5,433.8 348.4,433.8 353.4,433.8 358.2,433.8 363.6,433.8 370.2,433.8 389.7,433.8 414.6,433.8 441.6,433.8 467.6,433.8 467.7,433.8" fill="none" stroke="#000" stroke-width="0.90" stroke-linejoin="round"/>
</g>
<polyline points="73.0,432.4 467.7,432.4 467.7,738.6 73.0,738.6" fill="none" stroke="#000" stroke-width="1"/>
<line x1="72.7" y1="432.4" x2="72.7" y2="738.6" stroke="#a8a8b8" stroke-width="0.8"/>
<text x="54.0" y="745.6" class="tk" text-anchor="middle">0</text>
<text x="54.0" y="684.5" class="tk" text-anchor="middle">20</text>
<text x="54.0" y="623.3" class="tk" text-anchor="middle">40</text>
<text x="54.0" y="562.1" class="tk" text-anchor="middle">60</text>
<text x="54.0" y="501.0" class="tk" text-anchor="middle">80</text>
<text x="54.0" y="439.8" class="tk" text-anchor="middle">100</text>
<text x="88.8" y="760.6" class="tk" text-anchor="middle">500</text>
<text x="185.8" y="760.6" class="tk" text-anchor="middle">1000</text>
<text x="279.7" y="760.6" class="tk" text-anchor="middle">1500</text>
<text x="373.7" y="760.6" class="tk" text-anchor="middle">2000</text>
<text x="467.7" y="760.6" class="tk" text-anchor="middle">2500</text>
<text x="270.8" y="779.8" class="xl" text-anchor="middle">Wavelength [nm]</text>
<text transform="translate(27.4,584.8) rotate(-90)" class="yl" text-anchor="middle">Total SI [%]</text>
<text transform="translate(252.1,818.1) scale(0.92,1)" class="cap" text-anchor="middle">(<tspan font-weight="bold">c</tspan>)</text>
<clipPath id="cb"><rect x="594.2" y="29.5" width="394.8" height="301.3"/></clipPath>
<g clip-path="url(#cb)">
<rect x="594.2" y="29.5" width="394.8" height="301.3" fill="#800000"/>
<polygon points="594.2,34.3 594.4,34.3 595.7,34.4 597.1,34.5 598.4,34.6 599.8,34.8 601.0,34.9 602.2,35.2 603.4,35.4 604.6,35.5 605.9,35.7 607.1,35.9 608.4,36.0 609.5,35.9 610.5,35.8 611.5,35.5 612.5,35.2 613.4,34.8 614.4,34.2 615.4,33.5 616.3,32.8 617.3,32.3 618.3,32.1 619.2,31.9 620.2,31.9 621.2,31.8 623.0,31.9 624.9,32.0 627.0,32.2 629.1,32.3 631.5,32.4 634.0,32.5 636.5,32.7 638.8,32.8 640.4,33.0 642.0,33.3 643.4,33.5 644.7,33.6 645.5,33.5 646.3,33.3 647.0,33.1 647.6,32.8 648.1,32.5 648.6,32.1 649.0,31.7 649.6,31.3 650.4,31.1 651.4,31.1 652.4,31.1 653.5,31.1 654.6,31.0 655.8,30.9 657.0,30.9 658.4,30.9 660.6,30.9 663.0,30.9 665.6,31.0 668.1,31.1 670.5,31.1 672.9,31.2 675.4,31.3 677.9,31.3 680.7,31.4 683.5,31.5 686.6,31.6 690.0,31.6 696.4,31.7 703.9,31.8 711.7,31.9 719.3,32.0 726.7,32.2 734.1,32.3 741.5,32.5 748.6,32.6 755.1,32.7 761.6,32.8 767.7,32.8 773.0,33.0 775.8,33.2 778.3,33.4 780.5,33.6 782.8,33.8 784.5,34.0 786.1,34.2 787.9,34.4 790.0,34.6 795.9,34.7 803.4,34.6 811.5,34.4 819.3,34.3 826.8,34.2 834.4,34.2 841.8,34.2 848.6,34.3 853.3,34.3 857.6,34.4 861.8,34.5 866.2,34.6 871.3,34.6 876.5,34.7 881.9,34.8 887.7,34.8 895.2,34.6 903.2,34.4 911.3,34.1 919.3,34.0 926.6,34.0 933.7,34.1 941.0,34.2 948.6,34.3 958.1,34.4 968.1,34.5 978.3,34.6 988.4,34.8 989.0,34.8 989.0,332.8 594.2,332.8" fill="#DF0000"/>
<polygon points="594.2,42.4 594.4,42.4 595.7,42.7 597.1,43.0 598.4,43.3 599.8,43.6 601.0,43.8 602.2,44.1 603.4,44.3 604.6,44.5 605.9,44.8 607.1,45.0 608.4,45.1 609.5,45.0 610.6,44.7 611.6,44.1 612.6,43.4 613.4,42.6 614.3,41.0 614.9,39.1 615.6,37.2 616.4,35.7 617.0,35.2 617.7,34.8 618.5,34.5 619.3,34.3 620.4,34.2 621.6,34.3 622.9,34.5 624.2,34.8 625.8,35.1 627.5,35.4 629.3,35.8 631.0,36.2 633.0,36.7 635.0,37.2 637.0,37.7 638.8,38.2 640.2,38.6 641.4,38.9 642.6,39.3 643.7,39.6 644.5,40.0 645.3,40.4 646.0,40.6 646.6,40.6 647.2,40.2 647.7,39.4 648.1,38.5 648.6,37.7 649.1,36.9 649.5,35.9 650.0,35.2 650.5,34.8 651.2,34.8 652.0,35.2 652.7,35.7 653.5,36.2 654.2,36.7 654.9,37.3 655.6,37.9 656.4,38.2 657.3,38.2 658.2,38.1 659.2,37.9 660.3,37.7 662.1,37.6 664.0,37.4 666.0,37.3 668.1,37.2 670.5,37.1 672.9,37.0 675.3,36.9 677.9,36.9 680.9,36.9 683.9,37.0 687.0,37.1 690.0,37.2 692.5,37.3 694.9,37.5 697.3,37.6 699.8,37.7 702.2,37.7 704.6,37.6 707.1,37.5 709.5,37.5 712.0,37.5 714.4,37.6 716.9,37.6 719.3,37.7 721.7,37.8 724.2,37.9 726.6,38.1 729.1,38.2 731.5,38.3 733.9,38.5 736.4,38.6 738.8,38.7 741.3,38.7 743.7,38.6 746.2,38.5 748.6,38.5 751.0,38.4 753.5,38.3 755.9,38.3 758.4,38.2 760.8,38.1 763.3,38.0 765.8,37.9 768.1,37.7 770.2,37.5 772.3,37.2 774.2,37.0 775.9,36.7 777.0,36.5 778.0,36.3 778.9,36.1 779.8,35.9 780.8,35.9 781.7,36.0 782.7,36.1 783.8,36.2 785.1,36.4 786.6,36.7 788.2,37.0 790.0,37.2 794.1,37.3 799.1,37.2 804.4,37.0 809.5,36.9 814.4,36.9 819.3,36.8 824.2,36.8 829.1,36.7 834.0,36.7 839.0,36.6 843.9,36.6 848.6,36.5 852.6,36.4 856.5,36.2 860.2,36.1 863.2,36.2 864.7,36.4 865.9,36.6 867.0,36.9 868.1,37.2 869.4,37.5 870.6,37.9 871.8,38.3 873.0,38.7 874.2,39.2 875.4,39.8 876.7,40.3 877.9,40.6 879.1,40.7 880.3,40.5 881.5,40.3 882.8,40.1 884.4,40.0 886.1,39.9 888.0,39.8 890.0,39.6 893.3,39.4 897.0,39.2 900.9,38.9 904.6,38.7 908.3,38.5 912.0,38.4 915.6,38.3 919.3,38.2 923.0,38.1 926.6,38.0 930.3,37.9 933.9,37.9 937.6,38.0 941.1,38.2 944.8,38.4 948.6,38.7 953.3,38.9 958.2,39.2 963.1,39.4 968.1,39.6 973.2,39.9 978.3,40.1 983.4,40.4 988.4,40.6 989.0,40.6 989.0,332.8 594.2,332.8" fill="#FF4000"/>
<polygon points="594.2,48.4 594.4,48.4 595.7,48.8 597.1,49.2 598.4,49.5 599.8,49.9 601.0,50.3 602.2,50.7 603.4,51.0 604.6,51.4 605.9,51.7 607.2,52.2 608.4,52.4 609.5,52.3 610.4,51.9 611.1,51.2 611.8,50.4 612.5,49.4 613.2,47.9 613.9,46.0 614.6,44.2 615.4,42.6 616.2,41.5 617.2,40.6 618.2,39.8 619.3,39.2 620.4,38.8 621.6,38.6 622.9,38.6 624.2,38.7 625.8,38.9 627.5,39.2 629.3,39.6 631.0,40.1 633.0,40.8 635.1,41.5 637.1,42.3 638.8,43.1 639.9,43.7 640.9,44.3 641.8,44.9 642.7,45.5 643.5,46.2 644.3,47.1 645.0,47.7 645.7,47.9 646.2,47.5 646.7,46.7 647.2,45.6 647.6,44.5 648.1,43.2 648.5,41.6 648.9,40.2 649.6,39.2 650.2,38.8 650.9,38.7 651.7,38.6 652.5,38.7 653.4,38.8 654.4,39.1 655.4,39.4 656.4,39.6 657.3,39.7 658.3,39.7 659.2,39.7 660.3,39.6 662.1,39.5 664.0,39.4 666.0,39.2 668.1,39.2 670.5,39.2 672.9,39.3 675.3,39.4 677.9,39.5 680.9,39.5 683.9,39.5 687.0,39.6 690.0,39.6 692.5,39.8 694.9,40.1 697.3,40.3 699.8,40.4 702.2,40.4 704.6,40.4 707.1,40.2 709.5,40.1 712.0,40.0 714.4,39.8 716.9,39.7 719.3,39.6 721.8,39.7 724.3,39.9 726.8,40.1 729.1,40.4 730.6,40.7 732.0,41.1 733.4,41.5 734.9,41.8 737.0,42.0 739.2,42.1 741.4,42.1 743.7,42.1 746.1,42.1 748.6,42.0 751.0,41.9 753.5,41.8 755.9,41.7 758.4,41.7 760.8,41.6 763.2,41.6 765.8,41.6 768.3,41.6 770.8,41.5 773.0,41.4 774.4,41.2 775.6,41.0 776.8,40.8 777.9,40.6 778.7,40.5 779.4,40.3 780.1,40.2 780.8,40.1 781.7,40.3 782.7,40.5 783.7,40.8 784.7,41.1 785.9,41.4 787.1,41.7 788.4,41.9 790.0,42.1 794.0,42.2 799.0,42.1 804.4,41.9 809.5,41.8 814.4,41.7 819.3,41.7 824.2,41.6 829.1,41.6 834.0,41.6 839.0,41.7 843.9,41.8 848.6,41.8 852.6,41.7 856.5,41.6 860.2,41.6 863.2,41.8 864.7,42.1 866.0,42.5 867.1,42.9 868.1,43.1 868.7,43.0 869.2,42.8 869.6,42.6 870.1,42.6 870.8,43.0 871.5,43.7 872.3,44.6 873.0,45.5 873.7,46.5 874.4,47.6 875.2,48.6 875.9,49.4 876.6,49.9 877.3,50.2 878.1,50.5 878.9,50.6 879.8,50.5 880.7,50.2 881.7,49.8 882.8,49.4 884.4,48.9 886.1,48.4 888.0,47.9 890.0,47.5 893.3,47.1 897.0,46.8 900.9,46.7 904.6,46.5 908.3,46.2 912.1,46.0 915.7,45.7 919.3,45.5 922.4,45.3 925.4,45.2 928.3,45.1 931.0,45.0 933.1,45.0 935.0,44.9 936.9,44.9 938.8,45.0 941.1,45.3 943.4,45.7 945.9,46.1 948.6,46.5 953.0,47.0 957.9,47.4 963.1,47.9 968.1,48.2 973.2,48.5 978.3,48.8 983.3,49.0 988.4,49.2 989.0,49.2 989.0,332.8 594.2,332.8" fill="#FFAF00"/>
<polygon points="594.2,91.9 594.4,91.9 595.8,91.3 597.1,90.8 598.5,90.2 599.8,89.5 601.1,88.4 602.3,87.1 603.5,85.8 604.6,84.6 605.7,83.6 606.7,82.6 607.7,81.7 608.6,80.7 609.3,79.7 609.9,78.8 610.5,77.8 611.0,76.8 611.4,75.6 611.8,74.5 612.1,73.2 612.5,71.9 612.9,69.7 613.2,67.1 613.6,64.6 613.9,62.1 614.3,60.0 614.6,58.0 614.9,56.1 615.4,54.3 615.8,52.9 616.2,51.6 616.7,50.4 617.3,49.4 618.2,48.8 619.2,48.3 620.3,48.1 621.2,47.9 622.0,48.0 622.7,48.2 623.4,48.5 624.2,48.9 625.3,49.8 626.6,50.9 627.8,52.2 629.1,53.3 630.3,54.3 631.5,55.3 632.8,56.3 633.9,57.2 635.0,58.0 636.0,58.6 637.0,59.3 637.9,60.2 638.7,61.2 639.4,62.4 640.1,63.7 640.8,65.0 641.5,66.8 642.3,68.7 643.0,70.5 643.7,71.9 644.2,72.6 644.7,73.2 645.2,73.7 645.7,73.8 646.2,73.3 646.7,72.1 647.2,70.5 647.6,68.9 648.1,66.3 648.4,63.2 648.7,60.1 649.1,57.2 649.3,55.3 649.6,53.3 649.9,51.7 650.5,50.4 651.2,49.8 651.9,49.3 652.7,49.0 653.5,48.9 654.2,49.3 655.0,50.0 655.7,50.6 656.4,50.9 656.9,50.6 657.4,49.9 657.8,49.1 658.4,48.4 659.0,47.8 659.7,47.1 660.4,46.5 661.3,46.0 662.6,45.6 664.1,45.3 665.6,45.1 667.1,45.0 668.6,45.0 670.0,45.2 671.4,45.3 673.0,45.5 675.3,45.7 677.8,45.9 680.4,46.2 682.8,46.5 684.7,46.7 686.5,47.0 688.3,47.3 690.0,47.7 691.3,47.9 692.5,48.2 693.7,48.5 694.9,48.9 696.1,49.5 697.3,50.1 698.5,50.7 699.8,51.2 701.0,51.4 702.2,51.6 703.4,51.6 704.6,51.6 705.8,51.3 707.0,51.0 708.2,50.6 709.5,50.2 711.4,49.8 713.4,49.4 715.4,49.1 717.3,48.9 719.1,49.0 720.9,49.2 722.6,49.6 724.2,49.9 725.5,50.2 726.8,50.5 728.0,50.9 729.1,51.4 729.9,51.8 730.6,52.3 731.3,52.8 732.0,53.3 732.7,53.7 733.3,54.1 734.1,54.5 734.9,54.8 736.8,55.1 739.0,55.1 741.4,55.1 743.7,55.1 746.1,55.0 748.6,54.9 751.0,54.8 753.5,54.8 755.9,54.9 758.4,55.0 760.8,55.3 763.2,55.5 765.8,55.7 768.3,55.9 770.8,56.2 773.0,56.4 774.4,56.6 775.6,56.7 776.8,56.9 777.9,57.2 779.0,57.9 780.0,58.8 780.9,59.7 781.8,60.6 782.6,61.5 783.3,62.4 784.0,63.2 784.7,64.1 785.5,64.8 786.2,65.5 786.9,66.2 787.7,66.8 788.2,67.3 788.8,67.7 789.3,68.1 790.0,68.5 791.1,68.8 792.3,69.0 793.6,69.1 794.9,68.9 796.1,68.6 797.2,67.9 798.4,67.2 799.8,66.5 802.0,65.6 804.4,64.5 807.0,63.5 809.5,62.6 812.0,61.7 814.4,60.8 816.8,60.0 819.3,59.4 821.7,58.9 824.2,58.5 826.6,58.3 829.1,58.2 831.5,58.3 833.9,58.5 836.4,58.8 838.8,59.2 841.3,59.6 843.7,60.2 846.1,60.7 848.6,61.1 851.1,61.4 853.6,61.6 856.0,61.7 858.4,61.6 860.2,61.2 862.1,60.6 863.8,60.1 865.2,60.2 866.1,60.8 866.8,61.8 867.5,62.9 868.1,64.1 868.9,65.2 869.6,66.3 870.4,67.6 871.1,68.9 871.9,71.2 872.6,73.7 873.3,76.3 874.0,78.7 874.4,80.6 874.8,82.4 875.3,84.1 875.9,85.5 876.8,86.6 877.7,87.6 878.8,88.4 879.8,89.0 880.8,89.3 881.7,89.5 882.7,89.5 883.8,89.5 885.2,89.2 886.8,88.8 888.4,88.2 890.0,87.5 891.5,86.6 892.9,85.6 894.3,84.5 895.9,83.6 897.9,82.8 900.1,82.3 902.4,81.7 904.6,81.2 907.1,80.5 909.5,79.7 912.0,79.0 914.4,78.2 916.9,77.3 919.5,76.4 922.0,75.5 924.2,74.8 925.5,74.5 926.8,74.3 927.9,74.1 929.1,73.8 930.1,73.3 931.0,72.7 931.9,72.2 933.0,71.9 934.3,71.9 935.7,72.2 937.2,72.7 938.8,73.3 941.1,74.4 943.6,75.7 946.1,77.0 948.6,78.2 951.0,79.2 953.5,80.0 955.9,80.8 958.4,81.6 960.8,82.6 963.3,83.5 965.7,84.5 968.1,85.5 970.7,86.8 973.2,88.1 975.7,89.4 977.9,90.4 979.2,90.9 980.4,91.3 981.6,91.6 982.8,91.9 984.2,92.1 985.6,92.1 987.0,92.1 988.4,92.2 989.0,92.2 989.0,332.8 594.2,332.8" fill="#EFFF10"/>
<polygon points="594.2,97.8 594.4,97.8 595.8,97.7 597.1,97.7 598.5,97.6 599.8,97.3 601.1,96.5 602.3,95.5 603.5,94.4 604.6,93.4 605.7,92.4 606.7,91.5 607.7,90.5 608.6,89.5 609.3,88.3 609.9,87.2 610.5,85.9 611.0,84.6 611.5,82.6 611.8,80.4 612.1,78.1 612.5,75.8 612.9,72.9 613.4,69.9 613.9,66.9 614.4,64.1 614.8,61.7 615.2,59.3 615.7,57.1 616.4,55.3 617.0,54.2 617.7,53.2 618.4,52.4 619.3,51.9 620.2,51.6 621.2,51.5 622.2,51.6 623.2,51.9 624.2,52.5 625.2,53.4 626.1,54.4 627.1,55.3 628.1,56.0 629.1,56.8 630.0,57.5 631.0,58.2 632.0,58.9 633.0,59.6 634.0,60.3 634.9,61.1 635.9,62.0 637.0,63.0 637.9,64.0 638.8,65.0 639.7,66.2 640.4,67.4 641.1,68.6 641.8,69.9 642.4,71.6 643.1,73.4 643.7,75.2 644.2,76.8 644.6,78.0 645.0,79.3 645.3,80.3 645.7,80.7 646.1,80.2 646.4,79.0 646.8,77.4 647.1,75.8 647.6,73.2 647.9,70.2 648.2,67.0 648.6,64.1 648.9,61.4 649.2,58.8 649.6,56.3 650.1,54.3 650.4,53.3 650.7,52.5 651.1,51.8 651.5,51.4 652.0,51.2 652.4,51.2 652.9,51.3 653.5,51.4 654.2,51.6 654.9,52.0 655.7,52.3 656.4,52.3 657.2,51.9 657.9,51.1 658.6,50.2 659.3,49.4 660.0,48.7 660.7,48.1 661.4,47.5 662.3,47.0 663.5,46.5 664.9,46.3 666.5,46.1 668.1,46.0 670.4,46.0 672.8,46.2 675.3,46.4 677.9,46.7 681.0,47.0 684.2,47.3 687.3,47.6 690.0,48.0 691.4,48.3 692.6,48.7 693.7,49.0 694.9,49.4 696.1,49.9 697.3,50.6 698.5,51.1 699.8,51.6 701.0,51.8 702.2,52.0 703.4,52.0 704.6,52.0 705.8,51.7 707.0,51.4 708.2,50.9 709.5,50.6 711.4,50.2 713.4,49.8 715.4,49.5 717.3,49.4 719.1,49.5 720.9,49.7 722.6,50.0 724.2,50.4 725.5,50.7 726.8,51.0 728.0,51.4 729.1,51.9 729.9,52.3 730.6,52.8 731.3,53.3 732.0,53.8 732.7,54.3 733.3,54.9 734.0,55.4 734.9,55.8 736.8,56.1 739.0,56.2 741.4,56.1 743.7,56.1 746.1,56.0 748.6,55.9 751.0,55.8 753.5,55.8 755.9,55.9 758.4,56.0 760.8,56.2 763.2,56.4 765.8,56.7 768.3,56.9 770.8,57.2 773.0,57.4 774.4,57.5 775.6,57.6 776.8,57.8 777.9,58.2 779.0,58.9 780.0,59.9 780.9,61.0 781.8,62.1 782.6,63.2 783.3,64.3 784.0,65.4 784.7,66.5 785.4,67.4 786.2,68.4 786.9,69.2 787.7,69.9 788.2,70.4 788.8,70.8 789.3,71.1 790.0,71.4 791.1,71.7 792.3,71.8 793.6,71.8 794.9,71.7 796.1,71.2 797.2,70.5 798.4,69.7 799.8,68.9 802.0,67.8 804.4,66.5 807.0,65.2 809.5,64.1 811.9,63.2 814.4,62.4 816.8,61.7 819.3,61.1 821.7,60.7 824.2,60.4 826.6,60.2 829.1,60.2 831.5,60.2 833.9,60.4 836.4,60.6 838.8,60.9 841.3,61.3 843.7,61.8 846.1,62.3 848.6,62.6 851.1,62.7 853.6,62.8 856.0,62.7 858.4,62.6 860.2,62.3 862.1,61.8 863.8,61.5 865.2,61.6 866.1,62.3 866.8,63.3 867.5,64.4 868.1,65.5 868.9,66.6 869.6,67.8 870.4,69.0 871.1,70.4 871.9,72.7 872.6,75.3 873.3,78.1 874.0,80.7 874.7,83.0 875.3,85.3 876.0,87.5 876.9,89.5 877.8,91.0 878.7,92.4 879.7,93.6 880.8,94.3 882.0,94.4 883.2,94.2 884.5,93.7 885.7,93.4 886.8,93.2 887.9,93.0 888.9,92.8 890.0,92.4 891.4,91.4 892.8,90.1 894.2,88.7 895.9,87.5 897.9,86.6 900.1,85.9 902.4,85.3 904.6,84.6 907.1,83.7 909.5,82.9 912.0,82.0 914.4,81.2 916.9,80.2 919.5,79.3 922.0,78.4 924.2,77.7 925.5,77.4 926.8,77.2 927.9,77.0 929.1,76.8 930.1,76.4 931.0,75.9 931.9,75.5 933.0,75.3 934.3,75.4 935.8,75.7 937.3,76.1 938.8,76.8 941.1,78.0 943.6,79.6 946.1,81.2 948.6,82.6 951.0,83.6 953.5,84.4 955.9,85.2 958.4,86.0 960.8,87.1 963.2,88.2 965.7,89.3 968.1,90.4 970.6,91.5 973.2,92.5 975.7,93.5 977.9,94.3 979.2,94.9 980.4,95.4 981.6,95.9 982.8,96.3 984.1,96.5 985.6,96.6 987.0,96.7 988.4,96.8 989.0,96.8 989.0,332.8 594.2,332.8" fill="#8FFF70"/>
<polygon points="594.2,119.6 594.4,119.6 595.2,120.9 596.1,122.1 596.9,123.3 597.8,124.5 599.0,126.3 600.2,128.3 601.5,129.9 602.7,130.6 603.7,130.1 604.7,129.0 605.6,127.6 606.6,126.5 607.5,125.8 608.4,125.1 609.3,124.4 610.0,123.6 610.6,122.1 611.0,120.4 611.2,118.6 611.5,116.7 611.9,114.5 612.3,112.1 612.6,109.8 612.9,107.9 613.1,107.1 613.2,106.5 613.3,105.8 613.4,105.0 613.9,101.8 614.4,97.6 615.2,93.6 616.4,91.4 617.2,91.3 618.3,91.6 619.3,92.0 620.3,92.4 621.0,92.6 621.8,92.8 622.5,92.9 623.2,92.9 624.1,92.4 625.1,91.7 626.1,90.9 627.1,90.4 628.3,90.2 629.5,90.2 630.8,90.4 632.0,90.6 633.3,91.0 634.5,91.5 635.7,92.2 636.9,92.9 638.0,93.6 639.0,94.4 639.9,95.3 640.8,96.3 641.6,97.8 642.2,99.5 642.7,101.4 643.2,103.1 643.6,104.7 643.9,106.3 644.3,107.8 644.7,108.9 645.0,109.4 645.3,109.9 645.6,110.3 645.9,110.4 646.2,110.1 646.5,109.5 646.8,108.8 647.1,107.9 647.6,106.1 648.0,103.9 648.3,101.5 648.6,99.2 648.8,97.1 649.0,94.9 649.2,93.1 649.4,92.4 649.6,93.1 649.8,94.8 650.1,97.0 650.4,99.2 650.9,102.6 651.4,106.5 652.0,110.6 652.5,114.8 652.9,119.5 653.3,124.4 653.6,129.4 654.0,134.3 654.3,139.2 654.7,144.1 655.0,149.0 655.4,153.8 655.9,159.1 656.3,164.9 656.8,169.5 657.4,171.4 657.8,170.1 658.3,166.9 658.8,163.1 659.3,159.7 660.0,157.1 660.7,154.7 661.5,152.3 662.3,149.9 663.0,147.9 663.7,145.8 664.4,143.9 665.2,142.1 665.8,140.7 666.5,139.3 667.2,138.1 668.1,137.2 669.2,136.9 670.3,136.9 671.6,137.0 673.0,137.2 675.3,137.6 677.8,138.1 680.4,138.7 682.8,139.2 684.7,139.5 686.7,139.8 688.5,140.1 690.0,140.6 690.9,141.1 691.6,141.7 692.3,142.3 692.9,143.1 693.7,144.3 694.5,145.7 695.2,147.3 695.9,148.9 696.6,151.4 697.2,154.2 697.9,156.9 698.8,158.7 699.4,159.4 700.2,159.8 700.9,160.1 701.7,160.2 702.7,160.0 703.7,159.6 704.7,159.0 705.6,158.2 706.9,156.9 708.1,155.2 709.3,153.5 710.5,151.9 711.7,150.5 712.9,149.2 714.1,148.0 715.4,147.0 716.6,146.2 717.8,145.5 719.0,145.0 720.3,144.8 721.5,145.0 722.8,145.6 724.0,146.3 725.2,147.0 726.2,147.7 727.2,148.5 728.2,149.4 729.1,150.4 729.9,151.8 730.7,153.4 731.4,155.0 732.0,156.8 732.5,158.8 732.9,161.0 733.3,163.0 733.9,164.6 734.6,165.3 735.2,165.8 736.0,166.2 736.9,166.5 738.2,166.7 739.7,166.6 741.2,166.4 742.7,166.0 744.2,165.6 745.7,165.0 747.2,164.3 748.6,163.6 750.1,162.7 751.5,161.7 753.0,160.6 754.5,159.7 755.9,158.8 757.4,158.0 758.9,157.3 760.3,156.8 761.6,156.6 762.9,156.6 764.1,156.6 765.2,156.3 766.1,155.7 766.8,154.8 767.5,153.9 768.1,152.9 768.9,151.3 769.6,149.6 770.3,147.8 771.1,146.0 771.8,144.3 772.6,142.5 773.3,140.8 774.0,139.2 774.5,137.9 775.0,136.8 775.5,135.6 775.9,134.3 776.5,132.1 777.0,129.7 777.5,127.1 777.9,124.5 778.3,121.7 778.7,118.8 779.0,115.9 779.4,112.8 779.8,108.8 780.3,104.4 780.8,100.3 781.3,97.3 781.5,96.3 781.7,95.6 782.0,95.0 782.3,94.3 782.6,93.7 782.9,93.2 783.3,92.7 783.8,92.4 784.6,92.4 785.6,92.7 786.7,93.1 787.7,93.4 788.2,93.4 788.8,93.4 789.3,93.4 790.0,93.4 791.7,93.3 793.7,93.3 795.8,93.4 797.8,93.8 799.7,94.8 801.4,96.2 803.1,97.7 804.6,99.2 805.9,100.7 807.1,102.2 808.2,103.7 809.5,105.0 810.9,105.9 812.4,106.5 813.9,107.2 815.4,107.9 816.9,109.0 818.3,110.1 819.7,111.3 821.3,112.3 822.9,113.3 824.6,114.2 826.4,114.9 828.1,115.3 829.6,115.2 831.0,114.9 832.5,114.4 833.9,113.8 835.6,112.7 837.3,111.4 839.0,110.0 840.8,108.9 842.6,108.2 844.6,107.7 846.5,107.3 848.6,107.0 851.0,106.6 853.6,106.4 856.1,106.2 858.4,106.0 859.7,105.9 861.0,105.8 862.1,105.7 863.2,105.5 864.3,105.1 865.3,104.6 866.3,103.9 867.1,103.1 867.9,101.8 868.5,100.2 869.0,98.6 869.6,97.3 870.1,96.6 870.6,95.9 871.1,95.4 871.5,95.1 871.9,95.0 872.2,95.0 872.5,95.1 872.8,95.3 873.3,96.3 873.6,97.9 873.9,99.6 874.2,101.2 874.4,102.2 874.7,103.1 874.9,104.0 875.2,105.0 875.5,106.4 876.0,107.9 876.4,109.4 876.9,110.9 877.3,112.3 877.7,113.8 878.2,115.0 878.9,115.7 879.7,115.8 880.7,115.4 881.7,114.8 882.8,114.3 883.9,113.7 885.1,113.0 886.4,112.2 887.7,111.3 889.5,109.8 891.6,108.1 893.7,106.3 895.9,105.0 898.0,104.3 900.2,103.8 902.4,103.5 904.6,103.1 907.1,102.5 909.5,101.9 912.0,101.3 914.4,100.7 916.9,100.2 919.3,99.8 921.7,99.4 924.2,99.0 926.7,98.5 929.3,98.0 931.7,97.5 933.9,97.3 935.2,97.2 936.4,97.3 937.5,97.5 938.8,97.8 941.1,98.6 943.7,99.7 946.3,101.0 948.6,102.1 949.9,102.9 951.0,103.7 952.2,104.4 953.5,105.0 955.7,105.6 958.1,106.0 960.7,106.4 963.2,107.0 965.7,107.8 968.2,108.9 970.7,110.1 973.0,111.3 975.0,112.8 977.0,114.4 978.9,116.0 980.8,117.2 982.7,117.9 984.6,118.4 986.5,118.7 988.4,119.2 989.0,119.2 989.0,332.8 594.2,332.8" fill="#20FFDF"/>
<polygon points="594.2,301.9 594.4,301.9 595.3,299.9 596.1,298.0 597.0,296.1 597.8,294.1 598.6,291.8 599.4,289.4 600.1,286.9 600.7,284.3 601.4,280.9 601.8,277.2 602.3,273.4 602.7,269.6 603.2,265.9 603.7,262.0 604.1,258.3 604.5,255.0 604.6,253.2 604.7,251.7 604.8,250.1 604.9,248.5 605.2,246.2 605.6,243.7 606.0,241.2 606.4,238.7 606.8,236.3 607.1,233.8 607.5,231.4 607.9,228.9 608.3,226.6 608.9,224.3 609.4,221.9 609.8,219.2 610.3,214.7 610.7,209.7 611.0,204.5 611.3,199.6 611.5,195.9 611.8,192.4 612.0,188.8 612.3,185.0 612.6,180.0 613.0,174.9 613.4,169.4 613.7,163.6 614.1,155.1 614.5,145.7 614.9,136.7 615.4,129.4 615.7,126.5 616.1,123.9 616.4,121.7 616.9,119.6 617.1,118.2 617.4,116.8 617.8,115.6 618.3,114.8 618.9,114.4 619.7,114.3 620.5,114.2 621.2,114.3 622.0,114.4 622.7,114.6 623.5,114.9 624.2,115.3 625.0,115.8 625.7,116.5 626.4,117.3 627.1,118.2 628.1,119.7 629.1,121.6 630.1,123.5 631.0,125.5 632.0,127.6 633.0,129.9 634.0,132.1 634.9,134.3 635.7,136.3 636.5,138.3 637.3,140.3 637.9,142.1 638.2,143.3 638.4,144.5 638.6,145.6 638.8,147.0 639.3,149.7 639.8,152.8 640.3,156.2 640.8,159.5 641.2,162.9 641.6,166.4 641.9,169.8 642.2,173.2 642.5,176.1 642.7,178.9 643.0,181.8 643.2,184.8 643.6,188.4 643.9,192.1 644.3,195.9 644.7,199.5 645.0,202.9 645.3,206.5 645.6,209.4 645.9,210.6 646.2,209.4 646.5,206.5 646.8,202.9 647.1,199.5 647.4,196.1 647.7,192.6 647.9,188.9 648.1,184.8 648.4,177.7 648.6,169.7 648.8,161.5 649.1,153.6 649.3,146.5 649.4,139.0 649.6,132.6 650.1,128.4 650.2,127.8 650.4,127.2 650.6,126.8 650.7,126.7 650.9,126.8 651.1,127.1 651.3,127.6 651.5,128.2 652.1,132.5 652.4,139.3 652.7,146.9 653.0,153.8 653.2,159.0 653.5,164.0 653.7,168.8 654.0,173.4 654.1,177.1 654.2,180.7 654.5,184.1 654.9,187.0 655.5,188.7 656.1,190.5 656.8,191.8 657.4,192.3 657.9,191.8 658.4,190.6 658.9,189.2 659.3,187.9 659.6,187.2 659.8,186.5 660.0,185.8 660.3,185.0 661.0,182.9 662.0,180.2 663.0,177.6 664.2,175.3 665.3,173.8 666.4,172.5 667.7,171.4 669.1,170.4 671.0,169.7 673.2,169.3 675.6,169.1 677.9,169.0 680.4,168.8 683.2,168.8 685.7,168.8 687.7,169.0 688.4,169.0 688.9,169.1 689.4,169.2 690.0,169.5 691.0,170.0 692.0,170.7 693.0,171.5 693.9,172.4 694.7,173.5 695.4,174.8 696.1,176.1 696.8,177.3 697.5,178.3 698.2,179.4 698.9,180.4 699.8,181.0 700.7,181.2 701.6,181.2 702.7,181.0 703.7,180.7 705.1,179.7 706.6,178.3 708.0,176.7 709.5,175.3 711.0,174.2 712.5,173.2 713.9,172.2 715.4,171.4 716.6,170.7 717.8,170.1 719.1,169.6 720.3,169.5 721.5,169.7 722.8,170.2 724.0,170.8 725.2,171.4 726.2,171.8 727.2,172.2 728.2,172.7 729.1,173.4 730.0,174.6 730.7,176.0 731.4,177.7 732.0,179.2 732.4,180.8 732.8,182.4 733.2,183.9 733.9,185.0 735.1,185.6 736.6,185.8 738.2,185.8 739.8,185.8 741.9,185.8 744.3,185.8 746.6,185.5 748.6,185.0 750.0,184.2 751.2,183.2 752.3,182.1 753.5,181.2 754.7,180.3 755.9,179.5 757.1,178.8 758.4,178.2 759.6,177.9 760.8,177.8 762.0,177.8 763.2,177.8 764.5,177.9 765.7,178.2 766.9,178.3 768.1,178.2 769.4,177.7 770.7,176.9 771.9,175.8 773.0,174.8 774.1,173.8 775.1,172.8 776.1,171.6 776.9,170.4 777.5,169.0 778.0,167.5 778.4,165.9 778.9,164.6 779.2,163.6 779.6,162.7 779.9,162.0 780.3,161.6 780.7,161.8 781.1,162.2 781.4,162.9 781.8,163.6 782.4,165.5 783.0,167.9 783.4,170.7 783.8,173.4 783.8,176.2 783.7,179.3 783.6,182.2 783.8,185.0 784.2,187.1 784.8,189.1 785.5,191.0 786.2,192.8 786.8,194.2 787.4,195.5 788.0,196.7 788.6,197.7 789.0,198.3 789.3,198.8 789.6,199.3 790.0,199.6 790.6,200.0 791.4,200.2 792.2,200.2 792.9,200.1 793.7,199.8 794.4,199.2 795.1,198.5 795.9,197.7 796.8,196.6 797.8,195.3 798.8,194.0 799.8,192.8 800.7,191.8 801.8,190.8 802.7,189.9 803.7,188.9 804.4,187.9 805.1,186.9 805.7,185.9 806.6,185.0 807.9,184.2 809.3,183.5 810.9,182.8 812.5,182.1 814.1,181.3 815.8,180.4 817.5,179.5 819.3,178.7 821.2,178.0 823.1,177.3 825.1,176.8 827.1,176.5 829.3,176.5 831.6,176.7 833.8,177.2 835.9,177.8 837.5,178.4 838.9,179.1 840.3,180.0 841.8,180.7 843.4,181.4 845.2,182.1 846.9,182.7 848.6,183.1 849.9,183.4 851.1,183.5 852.3,183.6 853.5,183.6 854.7,183.5 855.9,183.3 857.1,183.0 858.4,182.6 859.9,181.8 861.5,180.8 862.9,179.9 864.2,179.7 865.2,180.5 866.0,181.9 866.6,183.5 867.1,185.0 867.5,186.0 867.6,187.0 867.8,188.0 868.1,188.9 868.6,189.6 869.1,190.3 869.6,191.0 870.1,191.8 870.7,193.5 871.2,195.5 871.6,197.6 872.0,199.6 872.4,201.5 872.6,203.3 872.8,205.3 873.0,207.5 873.2,211.6 873.3,216.3 873.4,221.2 873.5,226.0 873.6,230.5 873.8,235.1 874.0,239.5 874.2,243.6 874.3,246.5 874.5,249.2 874.7,251.9 875.0,255.0 875.4,261.1 876.0,268.4 876.8,275.1 877.9,279.4 878.3,280.2 878.8,280.9 879.3,281.3 879.8,281.4 880.8,280.6 881.8,278.8 882.8,276.6 883.8,274.5 884.8,272.4 885.8,270.2 886.8,268.0 887.7,265.7 888.3,263.6 888.9,261.5 889.4,259.4 890.0,257.3 890.6,255.2 891.3,253.1 892.0,251.1 892.9,249.5 893.9,248.2 895.1,247.1 896.3,246.3 897.3,246.0 898.0,246.2 898.6,246.7 899.1,247.3 899.8,248.0 900.9,249.3 902.1,251.0 903.4,252.5 904.6,253.2 905.8,252.8 907.1,251.9 908.3,250.7 909.5,249.5 911.0,248.1 912.4,246.6 913.9,245.1 915.4,243.6 916.8,242.3 918.3,241.0 919.8,239.6 921.2,238.2 923.0,236.4 924.9,234.5 926.7,232.6 928.1,230.9 928.7,229.9 929.1,228.9 929.5,227.9 930.0,227.0 931.1,225.7 932.4,224.2 933.7,223.1 934.9,222.6 935.7,222.8 936.5,223.4 937.2,224.2 937.9,225.0 938.7,226.3 939.4,227.7 940.1,229.3 940.8,230.9 941.5,232.8 942.3,234.8 943.0,236.8 943.7,238.7 944.4,240.5 945.1,242.2 945.8,243.9 946.6,245.5 947.7,247.3 948.9,249.1 950.2,250.9 951.5,252.4 952.7,253.5 954.0,254.4 955.2,255.3 956.4,256.3 957.6,257.4 958.7,258.6 959.7,259.7 960.3,260.7 960.4,261.0 960.3,261.3 960.2,261.5 960.3,261.8 961.2,262.8 962.8,264.1 964.6,265.4 966.2,266.7 967.5,268.0 968.7,269.3 969.9,270.7 971.1,272.1 972.1,273.6 973.1,275.2 974.0,276.8 975.0,278.4 975.9,280.2 976.9,281.9 977.9,283.7 978.9,285.3 979.8,286.6 980.7,287.8 981.7,289.0 982.8,290.2 984.1,291.3 985.5,292.4 987.0,293.5 988.4,294.6 989.0,294.6 989.0,332.8 594.2,332.8" fill="#00BFFF"/>
<polygon points="594.2,307.7 594.4,307.7 595.0,306.3 595.6,304.9 596.2,303.5 596.8,301.9 597.6,299.6 598.4,297.2 599.1,294.6 599.8,292.1 600.3,289.7 600.8,287.4 601.3,285.0 601.7,282.3 602.3,278.2 602.8,273.6 603.3,268.9 603.7,264.8 604.0,262.1 604.2,259.6 604.4,257.3 604.6,255.0 604.8,253.3 604.9,251.7 605.0,250.2 605.1,248.5 605.4,246.2 605.8,243.7 606.2,241.2 606.6,238.7 607.0,236.3 607.3,233.8 607.7,231.4 608.1,228.9 608.5,226.6 609.1,224.3 609.6,221.9 610.0,219.2 610.5,214.7 610.9,209.7 611.2,204.5 611.5,199.6 611.7,195.9 612.0,192.4 612.2,188.8 612.5,185.0 612.8,180.0 613.2,174.9 613.6,169.4 613.9,163.6 614.3,155.0 614.6,145.3 614.9,136.2 615.6,129.4 615.9,127.3 616.2,125.6 616.7,124.2 617.3,123.1 618.0,122.5 618.7,122.0 619.5,121.8 620.3,121.6 621.2,121.6 622.2,121.8 623.2,122.1 624.2,122.6 625.2,123.3 626.2,124.3 627.2,125.4 628.1,126.5 629.1,127.8 630.1,129.2 631.1,130.7 632.0,132.3 633.0,134.4 634.0,136.6 635.0,138.9 635.9,141.1 636.7,143.3 637.5,145.5 638.2,147.7 638.8,149.9 639.4,152.3 639.9,154.7 640.4,157.1 640.8,159.7 641.2,163.0 641.6,166.4 641.9,170.0 642.2,173.4 642.5,176.3 642.7,179.1 643.0,182.0 643.2,185.0 643.6,188.6 643.9,192.3 644.3,196.1 644.7,199.6 645.0,203.1 645.3,206.8 645.6,209.7 645.9,210.9 646.2,209.7 646.5,206.8 646.8,203.1 647.1,199.6 647.4,196.2 647.7,192.8 647.9,189.1 648.1,185.0 648.4,177.8 648.6,169.6 648.8,161.3 649.1,153.8 649.3,148.7 649.5,143.6 649.7,139.3 650.1,136.2 650.2,135.5 650.4,134.9 650.6,134.5 650.7,134.3 651.0,135.3 651.2,137.8 651.3,140.9 651.5,144.1 651.9,148.5 652.2,153.4 652.6,158.5 653.0,163.6 653.4,168.9 653.8,174.3 654.2,179.7 654.5,185.0 654.6,189.9 654.8,194.8 654.8,199.7 654.9,204.5 655.1,209.4 655.2,214.3 655.3,219.2 655.4,224.1 655.6,229.1 655.7,234.2 655.8,239.2 655.9,243.6 656.0,246.2 656.1,248.5 656.2,250.7 656.3,253.4 656.5,258.1 656.8,263.5 657.1,269.1 657.4,274.5 657.6,279.5 657.9,284.5 658.1,289.4 658.4,294.1 658.6,298.0 658.7,301.8 659.0,305.4 659.3,308.7 659.7,310.9 660.1,313.0 660.6,314.9 661.3,316.5 661.9,317.6 662.6,318.5 663.4,319.3 664.2,319.9 665.1,320.4 666.0,320.6 667.0,320.8 668.1,320.9 670.2,321.0 672.7,320.9 675.3,320.8 677.9,320.6 681.0,320.6 684.2,320.5 687.3,320.4 690.0,319.9 691.5,319.5 692.7,319.0 693.9,318.3 694.9,317.5 695.8,316.4 696.5,315.1 697.1,313.8 697.8,312.6 698.5,311.6 699.2,310.6 699.9,309.7 700.7,309.2 701.6,309.1 702.6,309.3 703.7,309.7 704.6,310.2 705.9,311.1 707.1,312.2 708.3,313.5 709.5,314.6 710.7,315.4 711.9,316.2 713.2,316.9 714.4,317.5 715.6,317.9 716.8,318.2 718.1,318.4 719.3,318.5 720.5,318.5 721.7,318.4 723.0,318.2 724.2,318.0 725.5,317.7 726.8,317.3 728.0,316.7 729.1,316.0 730.0,315.2 730.7,314.2 731.4,313.0 732.0,311.6 732.7,309.0 733.2,305.7 733.6,302.3 733.9,298.9 734.3,295.8 734.5,292.6 734.8,289.7 735.4,287.2 735.9,286.0 736.4,285.0 737.0,284.1 737.9,283.3 739.1,282.5 740.6,281.8 742.2,281.3 743.7,281.2 745.0,281.5 746.2,282.1 747.4,282.9 748.6,283.8 749.9,284.8 751.1,286.0 752.3,287.1 753.5,288.2 754.5,289.1 755.4,290.1 756.4,290.9 757.4,291.1 758.6,290.6 759.9,289.4 761.2,287.8 762.3,286.2 763.2,284.5 764.0,282.6 764.6,280.6 765.2,278.4 765.8,275.7 766.3,272.7 766.8,269.9 767.1,267.7 767.3,266.9 767.4,266.3 767.5,265.8 767.6,265.0 768.0,262.6 768.5,259.7 769.0,256.5 769.6,253.4 770.1,250.4 770.7,247.4 771.4,244.5 772.0,241.6 772.7,239.2 773.5,236.8 774.3,234.4 775.0,231.9 775.7,228.9 776.3,225.7 776.9,222.5 777.4,219.2 777.9,215.6 778.2,212.0 778.5,208.3 778.9,204.5 779.2,200.3 779.6,196.0 779.9,191.8 780.3,187.9 780.7,184.9 781.1,181.7 781.4,179.2 781.8,178.2 782.0,179.0 782.3,180.7 782.5,182.9 782.8,185.0 783.2,187.3 783.7,189.7 784.2,192.2 784.7,194.8 785.4,198.0 786.1,201.5 786.8,204.8 787.7,207.5 788.2,208.7 788.7,209.7 789.3,210.6 790.0,211.4 790.9,211.9 791.8,212.2 792.9,212.5 793.9,212.6 794.9,212.7 795.8,212.6 796.8,212.5 797.8,212.5 799.0,212.8 800.3,213.3 801.5,213.8 802.7,214.5 804.0,215.3 805.2,216.2 806.5,217.3 807.6,218.4 808.7,219.7 809.6,221.2 810.6,222.7 811.5,224.3 812.5,226.0 813.4,227.7 814.4,229.5 815.4,231.1 816.3,232.4 817.2,233.7 818.1,234.9 819.3,236.0 821.1,236.9 823.2,237.7 825.3,238.4 827.1,239.4 828.3,240.6 829.2,241.9 830.1,243.3 831.0,244.8 832.2,246.6 833.4,248.6 834.7,250.6 835.9,252.6 837.1,254.6 838.3,256.8 839.5,258.6 840.8,259.4 841.8,259.2 842.8,258.5 843.8,257.6 844.7,256.5 845.8,254.9 846.7,252.9 847.6,250.8 848.6,248.7 849.7,246.2 850.9,243.5 852.1,241.0 853.5,238.9 854.6,237.7 855.9,236.8 857.2,235.9 858.4,235.0 859.4,234.1 860.4,233.2 861.4,232.2 862.3,231.1 863.4,229.2 864.3,226.9 865.3,224.5 866.2,222.3 867.0,220.6 867.7,218.9 868.5,217.2 869.1,215.5 869.7,213.2 870.2,210.5 870.6,208.4 871.1,207.5 871.4,208.0 871.8,209.5 872.2,211.4 872.5,213.3 872.9,216.6 873.1,220.3 873.3,224.4 873.5,228.5 873.8,233.4 874.0,238.7 874.2,243.7 874.5,248.0 874.6,249.9 874.7,251.5 874.8,253.1 875.0,255.0 875.3,259.3 875.8,264.5 876.3,269.8 876.9,274.5 877.3,278.2 877.7,282.0 878.1,284.9 878.9,286.2 879.7,285.7 880.7,284.1 881.7,281.9 882.8,279.9 884.0,277.3 885.3,274.4 886.5,271.6 887.7,269.2 888.3,267.9 888.9,266.9 889.4,265.9 890.0,264.8 890.7,263.3 891.3,261.7 892.1,260.2 892.9,258.9 893.8,257.9 894.8,257.0 895.9,256.3 896.8,256.0 897.6,256.1 898.4,256.5 899.1,257.2 899.8,257.9 900.6,259.5 901.3,261.6 902.0,263.8 902.7,265.7 903.4,267.1 904.0,268.5 904.8,269.7 905.6,270.6 906.5,271.2 907.4,271.5 908.4,271.8 909.5,272.1 911.7,272.6 914.3,273.1 916.9,273.6 919.3,274.0 920.9,274.4 922.4,274.8 923.8,275.0 925.2,275.0 926.2,274.8 927.2,274.3 928.1,273.7 929.1,273.1 930.1,272.1 931.1,270.8 932.0,269.6 933.0,268.7 933.7,268.1 934.5,267.6 935.2,267.3 935.9,267.2 936.7,267.6 937.4,268.3 938.1,269.2 938.8,270.1 939.6,271.6 940.3,273.4 941.0,275.2 941.8,277.0 942.6,278.8 943.5,280.6 944.5,282.4 945.7,283.8 946.7,284.8 947.9,285.6 949.2,286.3 950.5,286.7 952.4,287.0 954.3,287.0 956.4,286.9 958.4,286.7 960.1,286.6 961.8,286.4 963.5,286.3 965.2,286.2 966.7,286.3 968.3,286.5 969.7,286.8 971.1,287.2 972.1,287.9 973.1,288.7 974.0,289.7 975.0,290.6 976.2,291.9 977.4,293.3 978.6,294.7 979.8,296.0 981.0,297.2 982.3,298.5 983.5,299.6 984.7,300.4 985.7,300.8 986.6,301.0 987.5,301.2 988.4,301.4 989.0,301.4 989.0,332.8 594.2,332.8" fill="#0050FF"/>
<polygon points="594.2,314.1 594.4,314.1 595.7,313.3 597.1,312.6 598.4,311.8 599.8,311.2 601.2,310.6 602.7,310.0 604.1,309.6 605.6,309.2 607.1,309.0 608.5,308.9 610.0,308.8 611.5,308.7 613.4,308.6 615.4,308.4 617.4,308.3 619.3,308.2 620.6,308.2 621.8,308.3 623.0,308.4 624.2,308.5 625.4,308.7 626.5,308.8 627.7,309.0 629.1,309.2 631.3,309.4 633.8,309.7 636.4,309.9 638.8,310.2 640.9,310.5 643.1,311.0 645.0,311.3 646.6,311.2 647.5,310.7 648.2,310.0 648.9,309.3 649.6,308.7 650.3,308.2 651.1,307.7 651.8,307.3 652.5,307.2 653.0,307.5 653.5,307.9 654.0,308.5 654.5,309.2 655.2,310.4 655.9,311.7 656.6,313.2 657.4,314.6 658.1,315.8 658.7,317.0 659.5,318.1 660.3,319.0 661.2,319.5 662.2,319.9 663.2,320.2 664.2,320.4 665.1,320.6 666.1,320.8 667.0,320.9 668.1,320.9 670.2,320.9 672.7,320.9 675.3,320.8 677.9,320.6 681.0,320.6 684.2,320.5 687.3,320.4 690.0,319.9 691.5,319.5 692.7,319.0 693.9,318.3 694.9,317.5 695.8,316.4 696.5,315.1 697.1,313.8 697.8,312.6 698.5,311.6 699.2,310.6 699.9,309.7 700.7,309.2 701.6,309.1 702.6,309.3 703.7,309.7 704.6,310.2 705.9,311.1 707.1,312.2 708.3,313.5 709.5,314.6 710.7,315.4 711.9,316.2 713.2,316.9 714.4,317.5 715.6,317.9 716.8,318.2 718.1,318.4 719.3,318.5 720.5,318.5 721.7,318.4 723.0,318.2 724.2,318.0 725.5,317.7 726.8,317.3 728.0,316.7 729.1,316.0 730.0,315.2 730.7,314.2 731.4,313.0 732.0,311.6 732.7,309.0 733.2,305.7 733.6,302.3 733.9,298.9 734.3,295.8 734.5,292.6 734.8,289.7 735.4,287.2 735.9,286.0 736.4,285.0 737.0,284.1 737.9,283.3 739.1,282.5 740.6,281.8 742.2,281.3 743.7,281.2 745.0,281.5 746.2,282.1 747.4,282.9 748.6,283.8 749.9,284.8 751.1,286.0 752.3,287.1 753.5,288.2 754.5,289.1 755.4,290.1 756.4,290.9 757.4,291.1 758.6,290.6 759.9,289.4 761.2,287.8 762.3,286.2 763.2,284.5 764.0,282.6 764.6,280.6 765.2,278.4 765.8,275.7 766.3,272.7 766.8,269.9 767.1,267.7 767.3,266.9 767.4,266.3 767.5,265.8 767.6,265.0 768.0,262.6 768.5,259.7 769.0,256.5 769.6,253.4 770.1,250.4 770.7,247.4 771.4,244.5 772.0,241.6 772.7,239.2 773.5,236.8 774.3,234.4 775.0,231.9 775.7,228.9 776.3,225.7 776.9,222.5 777.4,219.2 777.9,215.6 778.2,212.0 778.5,208.3 778.9,204.5 779.2,200.3 779.6,196.0 779.9,191.8 780.3,187.9 780.7,184.9 781.1,181.7 781.4,179.2 781.8,178.2 782.0,179.0 782.3,180.7 782.5,182.9 782.8,185.0 783.2,187.3 783.7,189.7 784.2,192.2 784.7,194.8 785.4,197.9 786.1,201.3 786.9,204.6 787.7,207.5 788.2,209.2 788.6,210.9 789.2,212.3 790.0,213.3 790.8,213.8 791.8,214.1 792.9,214.2 793.9,214.3 794.9,214.3 795.8,214.3 796.8,214.2 797.8,214.3 799.0,214.6 800.3,215.0 801.5,215.6 802.7,216.2 804.0,217.1 805.2,218.0 806.5,219.0 807.6,220.2 808.7,221.5 809.6,222.9 810.6,224.5 811.5,226.0 812.5,227.7 813.4,229.5 814.4,231.2 815.4,232.9 816.3,234.2 817.2,235.5 818.1,236.7 819.3,237.7 821.1,238.7 823.2,239.4 825.3,240.2 827.1,241.2 828.3,242.3 829.2,243.6 830.1,245.0 831.0,246.5 832.2,248.4 833.4,250.4 834.7,252.4 835.9,254.3 837.1,256.4 838.3,258.5 839.5,260.3 840.8,261.2 841.8,261.0 842.8,260.3 843.8,259.3 844.7,258.2 845.8,256.6 846.7,254.7 847.6,252.5 848.6,250.4 849.7,247.9 850.9,245.3 852.1,242.8 853.5,240.7 854.6,239.5 855.9,238.5 857.2,237.7 858.4,236.8 859.4,235.9 860.4,235.0 861.4,234.0 862.3,232.9 863.4,230.9 864.3,228.6 865.3,226.3 866.2,224.1 867.0,222.3 867.7,220.7 868.5,219.0 869.1,217.2 869.7,214.7 870.2,211.8 870.6,209.4 871.1,208.4 871.4,209.0 871.8,210.5 872.2,212.4 872.5,214.3 872.9,217.4 873.1,221.1 873.3,225.0 873.5,228.9 873.8,233.9 874.0,239.2 874.2,244.3 874.5,248.5 874.6,250.3 874.7,251.7 874.8,253.2 875.0,255.0 875.3,259.2 875.8,264.3 876.3,269.6 876.9,274.5 877.4,278.9 877.9,283.5 878.5,287.1 879.4,288.7 880.1,288.1 881.0,286.5 881.9,284.4 882.8,282.3 884.0,279.7 885.3,276.8 886.5,274.0 887.7,271.6 888.3,270.5 888.9,269.6 889.4,268.7 890.0,267.7 890.7,266.3 891.4,264.7 892.1,263.2 892.9,261.8 893.8,260.7 894.8,259.6 895.9,258.8 896.8,258.4 897.6,258.6 898.4,259.2 899.1,260.0 899.8,260.9 900.6,262.3 901.3,264.1 902.0,266.0 902.7,267.7 903.4,269.1 904.0,270.4 904.8,271.6 905.6,272.6 906.5,273.1 907.4,273.5 908.4,273.7 909.5,274.0 911.7,274.7 914.3,275.3 916.9,276.0 919.3,276.5 920.9,276.9 922.4,277.2 923.8,277.5 925.2,277.5 926.2,277.2 927.2,276.8 928.1,276.2 929.1,275.5 930.1,274.5 931.1,273.3 932.0,272.1 933.0,271.1 933.7,270.5 934.5,270.0 935.2,269.7 935.9,269.6 936.7,270.0 937.4,270.7 938.1,271.6 938.8,272.6 939.6,274.1 940.3,275.8 941.0,277.6 941.8,279.4 942.6,281.2 943.5,283.1 944.5,284.8 945.7,286.2 946.8,287.2 948.1,288.0 949.4,288.6 950.5,289.2 951.3,289.5 952.0,289.8 952.7,290.0 953.5,290.2 954.6,290.1 955.8,289.9 957.0,289.6 958.4,289.4 960.0,289.1 961.7,288.9 963.5,288.7 965.2,288.7 966.7,288.9 968.3,289.2 969.7,289.6 971.1,290.2 972.1,290.9 973.1,291.7 974.0,292.6 975.0,293.6 976.2,294.7 977.4,296.0 978.6,297.2 979.8,298.5 981.1,299.6 982.3,300.8 983.5,301.9 984.7,302.9 985.7,303.4 986.6,303.9 987.5,304.3 988.4,304.8 989.0,304.8 989.0,332.8 594.2,332.8" fill="#0000EF"/>
<polygon points="594.2,323.4 594.4,323.4 595.7,322.1 597.1,320.9 598.4,319.7 599.8,318.5 601.2,317.2 602.6,315.8 604.1,314.5 605.6,313.6 607.0,313.1 608.5,312.9 609.9,312.8 611.5,312.6 613.4,312.2 615.4,311.8 617.4,311.4 619.3,311.2 620.6,311.1 621.8,311.0 623.0,311.1 624.2,311.2 625.4,311.3 626.6,311.6 627.8,311.9 629.1,312.1 630.3,312.4 631.5,312.6 632.7,312.9 633.9,313.1 635.2,313.3 636.4,313.3 637.6,313.4 638.8,313.6 640.1,313.8 641.3,314.1 642.6,314.3 643.7,314.6 644.5,314.8 645.3,315.0 646.0,315.1 646.6,315.1 647.4,314.5 648.1,313.6 648.8,312.5 649.6,311.6 650.3,310.9 651.1,310.1 651.8,309.4 652.5,309.2 653.0,309.4 653.5,309.9 654.0,310.5 654.5,311.2 655.2,312.3 655.9,313.7 656.6,315.2 657.4,316.5 658.1,317.6 658.7,318.7 659.5,319.6 660.3,320.4 661.2,321.0 662.2,321.5 663.2,321.9 664.2,322.2 665.1,322.4 666.1,322.6 667.0,322.8 668.1,322.9 670.2,322.9 672.7,322.8 675.3,322.7 677.9,322.6 681.0,322.6 684.2,322.6 687.3,322.6 690.0,322.4 691.4,322.1 692.6,321.7 693.7,321.3 694.9,320.9 696.1,320.4 697.3,319.8 698.5,319.3 699.8,319.0 701.0,318.8 702.2,318.8 703.4,318.9 704.6,319.0 705.8,319.1 707.0,319.4 708.2,319.7 709.5,319.9 711.7,320.3 714.2,320.7 716.8,321.1 719.3,321.2 721.8,321.2 724.4,321.0 726.9,320.7 729.1,319.9 730.5,318.9 731.6,317.5 732.7,316.1 733.9,315.1 735.1,314.6 736.2,314.3 737.5,314.2 738.8,314.1 741.0,314.0 743.5,314.0 746.1,314.0 748.6,314.1 751.1,314.2 753.7,314.3 756.2,314.4 758.4,314.4 759.7,314.3 760.9,314.1 762.1,313.9 763.2,313.6 764.5,313.2 765.7,312.7 766.9,312.2 768.1,311.6 769.3,311.1 770.5,310.7 771.8,310.2 773.0,309.7 774.5,309.1 776.0,308.4 777.5,307.9 778.9,307.7 779.9,308.0 780.8,308.6 781.8,309.2 782.8,309.7 784.0,310.0 785.3,310.2 786.5,310.3 787.7,310.5 788.3,310.5 788.8,310.6 789.4,310.7 790.0,310.7 791.1,310.6 792.3,310.6 793.6,310.4 794.9,310.2 796.1,309.8 797.3,309.3 798.5,308.7 799.8,308.2 801.3,307.7 803.0,307.3 804.7,306.9 806.6,306.6 809.5,306.4 812.8,306.4 816.1,306.4 819.3,306.6 821.8,306.7 824.3,306.9 826.7,307.1 829.1,307.2 831.5,307.3 833.9,307.3 836.4,307.3 838.8,307.2 841.3,307.1 843.7,306.9 846.2,306.7 848.6,306.6 851.0,306.5 853.5,306.4 856.0,306.3 858.4,306.3 860.7,306.1 863.0,305.9 865.3,305.9 867.1,306.3 868.3,306.9 869.3,307.7 870.2,308.6 871.1,309.7 871.9,311.2 872.5,313.1 873.2,314.9 874.0,316.5 874.9,317.7 875.8,318.8 876.8,319.7 877.9,320.4 878.8,320.9 879.8,321.2 880.8,321.4 881.8,321.4 883.2,321.2 884.8,320.6 886.4,320.0 887.7,319.5 888.3,319.2 888.8,319.0 889.3,318.7 890.0,318.5 892.0,317.7 894.5,316.8 897.2,315.9 899.8,315.1 902.2,314.4 904.6,313.8 907.1,313.2 909.5,312.6 912.0,312.1 914.4,311.6 916.8,311.1 919.3,310.7 921.8,310.3 924.3,310.0 926.8,309.7 929.1,309.5 930.6,309.3 932.0,309.0 933.4,308.9 934.9,308.9 937.1,309.3 939.4,310.1 941.7,310.9 943.7,311.6 945.0,312.1 946.1,312.6 947.3,313.0 948.6,313.4 950.8,313.9 953.3,314.3 955.8,314.7 958.4,315.1 960.8,315.4 963.2,315.8 965.7,316.2 968.1,316.7 970.6,317.3 973.0,318.0 975.4,318.8 977.9,319.5 980.5,320.1 983.1,320.8 985.8,321.5 988.4,322.2 989.0,322.2 989.0,332.8 594.2,332.8" fill="#00008F"/>
<polyline points="594.2,323.4 594.4,323.4 595.7,322.1 597.1,320.9 598.4,319.7 599.8,318.5 601.2,317.2 602.6,315.8 604.1,314.5 605.6,313.6 607.0,313.1 608.5,312.9 609.9,312.8 611.5,312.6 613.4,312.2 615.4,311.8 617.4,311.4 619.3,311.2 620.6,311.1 621.8,311.0 623.0,311.1 624.2,311.2 625.4,311.3 626.6,311.6 627.8,311.9 629.1,312.1 630.3,312.4 631.5,312.6 632.7,312.9 633.9,313.1 635.2,313.3 636.4,313.3 637.6,313.4 638.8,313.6 640.1,313.8 641.3,314.1 642.6,314.3 643.7,314.6 644.5,314.8 645.3,315.0 646.0,315.1 646.6,315.1 647.4,314.5 648.1,313.6 648.8,312.5 649.6,311.6 650.3,310.9 651.1,310.1 651.8,309.4 652.5,309.2 653.0,309.4 653.5,309.9 654.0,310.5 654.5,311.2 655.2,312.3 655.9,313.7 656.6,315.2 657.4,316.5 658.1,317.6 658.7,318.7 659.5,319.6 660.3,320.4 661.2,321.0 662.2,321.5 663.2,321.9 664.2,322.2 665.1,322.4 666.1,322.6 667.0,322.8 668.1,322.9 670.2,322.9 672.7,322.8 675.3,322.7 677.9,322.6 681.0,322.6 684.2,322.6 687.3,322.6 690.0,322.4 691.4,322.1 692.6,321.7 693.7,321.3 694.9,320.9 696.1,320.4 697.3,319.8 698.5,319.3 699.8,319.0 701.0,318.8 702.2,318.8 703.4,318.9 704.6,319.0 705.8,319.1 707.0,319.4 708.2,319.7 709.5,319.9 711.7,320.3 714.2,320.7 716.8,321.1 719.3,321.2 721.8,321.2 724.4,321.0 726.9,320.7 729.1,319.9 730.5,318.9 731.6,317.5 732.7,316.1 733.9,315.1 735.1,314.6 736.2,314.3 737.5,314.2 738.8,314.1 741.0,314.0 743.5,314.0 746.1,314.0 748.6,314.1 751.1,314.2 753.7,314.3 756.2,314.4 758.4,314.4 759.7,314.3 760.9,314.1 762.1,313.9 763.2,313.6 764.5,313.2 765.7,312.7 766.9,312.2 768.1,311.6 769.3,311.1 770.5,310.7 771.8,310.2 773.0,309.7 774.5,309.1 776.0,308.4 777.5,307.9 778.9,307.7 779.9,308.0 780.8,308.6 781.8,309.2 782.8,309.7 784.0,310.0 785.3,310.2 786.5,310.3 787.7,310.5 788.3,310.5 788.8,310.6 789.4,310.7 790.0,310.7 791.1,310.6 792.3,310.6 793.6,310.4 794.9,310.2 796.1,309.8 797.3,309.3 798.5,308.7 799.8,308.2 801.3,307.7 803.0,307.3 804.7,306.9 806.6,306.6 809.5,306.4 812.8,306.4 816.1,306.4 819.3,306.6 821.8,306.7 824.3,306.9 826.7,307.1 829.1,307.2 831.5,307.3 833.9,307.3 836.4,307.3 838.8,307.2 841.3,307.1 843.7,306.9 846.2,306.7 848.6,306.6 851.0,306.5 853.5,306.4 856.0,306.3 858.4,306.3 860.7,306.1 863.0,305.9 865.3,305.9 867.1,306.3 868.3,306.9 869.3,307.7 870.2,308.6 871.1,309.7 871.9,311.2 872.5,313.1 873.2,314.9 874.0,316.5 874.9,317.7 875.8,318.8 876.8,319.7 877.9,320.4 878.8,320.9 879.8,321.2 880.8,321.4 881.8,321.4 883.2,321.2 884.8,320.6 886.4,320.0 887.7,319.5 888.3,319.2 888.8,319.0 889.3,318.7 890.0,318.5 892.0,317.7 894.5,316.8 897.2,315.9 899.8,315.1 902.2,314.4 904.6,313.8 907.1,313.2 909.5,312.6 912.0,312.1 914.4,311.6 916.8,311.1 919.3,310.7 921.8,310.3 924.3,310.0 926.8,309.7 929.1,309.5 930.6,309.3 932.0,309.0 933.4,308.9 934.9,308.9 937.1,309.3 939.4,310.1 941.7,310.9 943.7,311.6 945.0,312.1 946.1,312.6 947.3,313.0 948.6,313.4 950.8,313.9 953.3,314.3 955.8,314.7 958.4,315.1 960.8,315.4 963.2,315.8 965.7,316.2 968.1,316.7 970.6,317.3 973.0,318.0 975.4,318.8 977.9,319.5 980.5,320.1 983.1,320.8 985.8,321.5 988.4,322.2 989.0,322.2" fill="none" stroke="#000" stroke-width="0.90" stroke-linejoin="round"/>
<polyline points="594.2,314.1 594.4,314.1 595.7,313.3 597.1,312.6 598.4,311.8 599.8,311.2 601.2,310.6 602.7,310.0 604.1,309.6 605.6,309.2 607.1,309.0 608.5,308.9 610.0,308.8 611.5,308.7 613.4,308.6 615.4,308.4 617.4,308.3 619.3,308.2 620.6,308.2 621.8,308.3 623.0,308.4 624.2,308.5 625.4,308.7 626.5,308.8 627.7,309.0 629.1,309.2 631.3,309.4 633.8,309.7 636.4,309.9 638.8,310.2 640.9,310.5 643.1,311.0 645.0,311.3 646.6,311.2 647.5,310.7 648.2,310.0 648.9,309.3 649.6,308.7 650.3,308.2 651.1,307.7 651.8,307.3 652.5,307.2 653.0,307.5 653.5,307.9 654.0,308.5 654.5,309.2 655.2,310.4 655.9,311.7 656.6,313.2 657.4,314.6 658.1,315.8 658.7,317.0 659.5,318.1 660.3,319.0 661.2,319.5 662.2,319.9 663.2,320.2 664.2,320.4 665.1,320.6 666.1,320.8 667.0,320.9 668.1,320.9 670.2,320.9 672.7,320.9 675.3,320.8 677.9,320.6 681.0,320.6 684.2,320.5 687.3,320.4 690.0,319.9 691.5,319.5 692.7,319.0 693.9,318.3 694.9,317.5 695.8,316.4 696.5,315.1 697.1,313.8 697.8,312.6 698.5,311.6 699.2,310.6 699.9,309.7 700.7,309.2 701.6,309.1 702.6,309.3 703.7,309.7 704.6,310.2 705.9,311.1 707.1,312.2 708.3,313.5 709.5,314.6 710.7,315.4 711.9,316.2 713.2,316.9 714.4,317.5 715.6,317.9 716.8,318.2 718.1,318.4 719.3,318.5 720.5,318.5 721.7,318.4 723.0,318.2 724.2,318.0 725.5,317.7 726.8,317.3 728.0,316.7 729.1,316.0 730.0,315.2 730.7,314.2 731.4,313.0 732.0,311.6 732.7,309.0 733.2,305.7 733.6,302.3 733.9,298.9 734.3,295.8 734.5,292.6 734.8,289.7 735.4,287.2 735.9,286.0 736.4,285.0 737.0,284.1 737.9,283.3 739.1,282.5 740.6,281.8 742.2,281.3 743.7,281.2 745.0,281.5 746.2,282.1 747.4,282.9 748.6,283.8 749.9,284.8 751.1,286.0 752.3,287.1 753.5,288.2 754.5,289.1 755.4,290.1 756.4,290.9 757.4,291.1 758.6,290.6 759.9,289.4 761.2,287.8 762.3,286.2 763.2,284.5 764.0,282.6 764.6,280.6 765.2,278.4 765.8,275.7 766.3,272.7 766.8,269.9 767.1,267.7 767.3,266.9 767.4,266.3 767.5,265.8 767.6,265.0 768.0,262.6 768.5,259.7 769.0,256.5 769.6,253.4 770.1,250.4 770.7,247.4 771.4,244.5 772.0,241.6 772.7,239.2 773.5,236.8 774.3,234.4 775.0,231.9 775.7,228.9 776.3,225.7 776.9,222.5 777.4,219.2 777.9,215.6 778.2,212.0 778.5,208.3 778.9,204.5 779.2,200.3 779.6,196.0 779.9,191.8 780.3,187.9 780.7,184.9 781.1,181.7 781.4,179.2 781.8,178.2 782.0,179.0 782.3,180.7 782.5,182.9 782.8,185.0 783.2,187.3 783.7,189.7 784.2,192.2 784.7,194.8 785.4,197.9 786.1,201.3 786.9,204.6 787.7,207.5 788.2,209.2 788.6,210.9 789.2,212.3 790.0,213.3 790.8,213.8 791.8,214.1 792.9,214.2 793.9,214.3 794.9,214.3 795.8,214.3 796.8,214.2 797.8,214.3 799.0,214.6 800.3,215.0 801.5,215.6 802.7,216.2 804.0,217.1 805.2,218.0 806.5,219.0 807.6,220.2 808.7,221.5 809.6,222.9 810.6,224.5 811.5,226.0 812.5,227.7 813.4,229.5 814.4,231.2 815.4,232.9 816.3,234.2 817.2,235.5 818.1,236.7 819.3,237.7 821.1,238.7 823.2,239.4 825.3,240.2 827.1,241.2 828.3,242.3 829.2,243.6 830.1,245.0 831.0,246.5 832.2,248.4 833.4,250.4 834.7,252.4 835.9,254.3 837.1,256.4 838.3,258.5 839.5,260.3 840.8,261.2 841.8,261.0 842.8,260.3 843.8,259.3 844.7,258.2 845.8,256.6 846.7,254.7 847.6,252.5 848.6,250.4 849.7,247.9 850.9,245.3 852.1,242.8 853.5,240.7 854.6,239.5 855.9,238.5 857.2,237.7 858.4,236.8 859.4,235.9 860.4,235.0 861.4,234.0 862.3,232.9 863.4,230.9 864.3,228.6 865.3,226.3 866.2,224.1 867.0,222.3 867.7,220.7 868.5,219.0 869.1,217.2 869.7,214.7 870.2,211.8 870.6,209.4 871.1,208.4 871.4,209.0 871.8,210.5 872.2,212.4 872.5,214.3 872.9,217.4 873.1,221.1 873.3,225.0 873.5,228.9 873.8,233.9 874.0,239.2 874.2,244.3 874.5,248.5 874.6,250.3 874.7,251.7 874.8,253.2 875.0,255.0 875.3,259.2 875.8,264.3 876.3,269.6 876.9,274.5 877.4,278.9 877.9,283.5 878.5,287.1 879.4,288.7 880.1,288.1 881.0,286.5 881.9,284.4 882.8,282.3 884.0,279.7 885.3,276.8 886.5,274.0 887.7,271.6 888.3,270.5 888.9,269.6 889.4,268.7 890.0,267.7 890.7,266.3 891.4,264.7 892.1,263.2 892.9,261.8 893.8,260.7 894.8,259.6 895.9,258.8 896.8,258.4 897.6,258.6 898.4,259.2 899.1,260.0 899.8,260.9 900.6,262.3 901.3,264.1 902.0,266.0 902.7,267.7 903.4,269.1 904.0,270.4 904.8,271.6 905.6,272.6 906.5,273.1 907.4,273.5 908.4,273.7 909.5,274.0 911.7,274.7 914.3,275.3 916.9,276.0 919.3,276.5 920.9,276.9 922.4,277.2 923.8,277.5 925.2,277.5 926.2,277.2 927.2,276.8 928.1,276.2 929.1,275.5 930.1,274.5 931.1,273.3 932.0,272.1 933.0,271.1 933.7,270.5 934.5,270.0 935.2,269.7 935.9,269.6 936.7,270.0 937.4,270.7 938.1,271.6 938.8,272.6 939.6,274.1 940.3,275.8 941.0,277.6 941.8,279.4 942.6,281.2 943.5,283.1 944.5,284.8 945.7,286.2 946.8,287.2 948.1,288.0 949.4,288.6 950.5,289.2 951.3,289.5 952.0,289.8 952.7,290.0 953.5,290.2 954.6,290.1 955.8,289.9 957.0,289.6 958.4,289.4 960.0,289.1 961.7,288.9 963.5,288.7 965.2,288.7 966.7,288.9 968.3,289.2 969.7,289.6 971.1,290.2 972.1,290.9 973.1,291.7 974.0,292.6 975.0,293.6 976.2,294.7 977.4,296.0 978.6,297.2 979.8,298.5 981.1,299.6 982.3,300.8 983.5,301.9 984.7,302.9 985.7,303.4 986.6,303.9 987.5,304.3 988.4,304.8 989.0,304.8" fill="none" stroke="#000" stroke-width="0.90" stroke-linejoin="round"/>
<polyline points="594.2,307.7 594.4,307.7 595.0,306.3 595.6,304.9 596.2,303.5 596.8,301.9 597.6,299.6 598.4,297.2 599.1,294.6 599.8,292.1 600.3,289.7 600.8,287.4 601.3,285.0 601.7,282.3 602.3,278.2 602.8,273.6 603.3,268.9 603.7,264.8 604.0,262.1 604.2,259.6 604.4,257.3 604.6,255.0 604.8,253.3 604.9,251.7 605.0,250.2 605.1,248.5 605.4,246.2 605.8,243.7 606.2,241.2 606.6,238.7 607.0,236.3 607.3,233.8 607.7,231.4 608.1,228.9 608.5,226.6 609.1,224.3 609.6,221.9 610.0,219.2 610.5,214.7 610.9,209.7 611.2,204.5 611.5,199.6 611.7,195.9 612.0,192.4 612.2,188.8 612.5,185.0 612.8,180.0 613.2,174.9 613.6,169.4 613.9,163.6 614.3,155.0 614.6,145.3 614.9,136.2 615.6,129.4 615.9,127.3 616.2,125.6 616.7,124.2 617.3,123.1 618.0,122.5 618.7,122.0 619.5,121.8 620.3,121.6 621.2,121.6 622.2,121.8 623.2,122.1 624.2,122.6 625.2,123.3 626.2,124.3 627.2,125.4 628.1,126.5 629.1,127.8 630.1,129.2 631.1,130.7 632.0,132.3 633.0,134.4 634.0,136.6 635.0,138.9 635.9,141.1 636.7,143.3 637.5,145.5 638.2,147.7 638.8,149.9 639.4,152.3 639.9,154.7 640.4,157.1 640.8,159.7 641.2,163.0 641.6,166.4 641.9,170.0 642.2,173.4 642.5,176.3 642.7,179.1 643.0,182.0 643.2,185.0 643.6,188.6 643.9,192.3 644.3,196.1 644.7,199.6 645.0,203.1 645.3,206.8 645.6,209.7 645.9,210.9 646.2,209.7 646.5,206.8 646.8,203.1 647.1,199.6 647.4,196.2 647.7,192.8 647.9,189.1 648.1,185.0 648.4,177.8 648.6,169.6 648.8,161.3 649.1,153.8 649.3,148.7 649.5,143.6 649.7,139.3 650.1,136.2 650.2,135.5 650.4,134.9 650.6,134.5 650.7,134.3 651.0,135.3 651.2,137.8 651.3,140.9 651.5,144.1 651.9,148.5 652.2,153.4 652.6,158.5 653.0,163.6 653.4,168.9 653.8,174.3 654.2,179.7 654.5,185.0 654.6,189.9 654.8,194.8 654.8,199.7 654.9,204.5 655.1,209.4 655.2,214.3 655.3,219.2 655.4,224.1 655.6,229.1 655.7,234.2 655.8,239.2 655.9,243.6 656.0,246.2 656.1,248.5 656.2,250.7 656.3,253.4 656.5,258.1 656.8,263.5 657.1,269.1 657.4,274.5 657.6,279.5 657.9,284.5 658.1,289.4 658.4,294.1 658.6,298.0 658.7,301.8 659.0,305.4 659.3,308.7 659.7,310.9 660.1,313.0 660.6,314.9 661.3,316.5 661.9,317.6 662.6,318.5 663.4,319.3 664.2,319.9 665.1,320.4 666.0,320.6 667.0,320.8 668.1,320.9 670.2,321.0 672.7,320.9 675.3,320.8 677.9,320.6 681.0,320.6 684.2,320.5 687.3,320.4 690.0,319.9 691.5,319.5 692.7,319.0 693.9,318.3 694.9,317.5 695.8,316.4 696.5,315.1 697.1,313.8 697.8,312.6 698.5,311.6 699.2,310.6 699.9,309.7 700.7,309.2 701.6,309.1 702.6,309.3 703.7,309.7 704.6,310.2 705.9,311.1 707.1,312.2 708.3,313.5 709.5,314.6 710.7,315.4 711.9,316.2 713.2,316.9 714.4,317.5 715.6,317.9 716.8,318.2 718.1,318.4 719.3,318.5 720.5,318.5 721.7,318.4 723.0,318.2 724.2,318.0 725.5,317.7 726.8,317.3 728.0,316.7 729.1,316.0 730.0,315.2 730.7,314.2 731.4,313.0 732.0,311.6 732.7,309.0 733.2,305.7 733.6,302.3 733.9,298.9 734.3,295.8 734.5,292.6 734.8,289.7 735.4,287.2 735.9,286.0 736.4,285.0 737.0,284.1 737.9,283.3 739.1,282.5 740.6,281.8 742.2,281.3 743.7,281.2 745.0,281.5 746.2,282.1 747.4,282.9 748.6,283.8 749.9,284.8 751.1,286.0 752.3,287.1 753.5,288.2 754.5,289.1 755.4,290.1 756.4,290.9 757.4,291.1 758.6,290.6 759.9,289.4 761.2,287.8 762.3,286.2 763.2,284.5 764.0,282.6 764.6,280.6 765.2,278.4 765.8,275.7 766.3,272.7 766.8,269.9 767.1,267.7 767.3,266.9 767.4,266.3 767.5,265.8 767.6,265.0 768.0,262.6 768.5,259.7 769.0,256.5 769.6,253.4 770.1,250.4 770.7,247.4 771.4,244.5 772.0,241.6 772.7,239.2 773.5,236.8 774.3,234.4 775.0,231.9 775.7,228.9 776.3,225.7 776.9,222.5 777.4,219.2 777.9,215.6 778.2,212.0 778.5,208.3 778.9,204.5 779.2,200.3 779.6,196.0 779.9,191.8 780.3,187.9 780.7,184.9 781.1,181.7 781.4,179.2 781.8,178.2 782.0,179.0 782.3,180.7 782.5,182.9 782.8,185.0 783.2,187.3 783.7,189.7 784.2,192.2 784.7,194.8 785.4,198.0 786.1,201.5 786.8,204.8 787.7,207.5 788.2,208.7 788.7,209.7 789.3,210.6 790.0,211.4 790.9,211.9 791.8,212.2 792.9,212.5 793.9,212.6 794.9,212.7 795.8,212.6 796.8,212.5 797.8,212.5 799.0,212.8 800.3,213.3 801.5,213.8 802.7,214.5 804.0,215.3 805.2,216.2 806.5,217.3 807.6,218.4 808.7,219.7 809.6,221.2 810.6,222.7 811.5,224.3 812.5,226.0 813.4,227.7 814.4,229.5 815.4,231.1 816.3,232.4 817.2,233.7 818.1,234.9 819.3,236.0 821.1,236.9 823.2,237.7 825.3,238.4 827.1,239.4 828.3,240.6 829.2,241.9 830.1,243.3 831.0,244.8 832.2,246.6 833.4,248.6 834.7,250.6 835.9,252.6 837.1,254.6 838.3,256.8 839.5,258.6 840.8,259.4 841.8,259.2 842.8,258.5 843.8,257.6 844.7,256.5 845.8,254.9 846.7,252.9 847.6,250.8 848.6,248.7 849.7,246.2 850.9,243.5 852.1,241.0 853.5,238.9 854.6,237.7 855.9,236.8 857.2,235.9 858.4,235.0 859.4,234.1 860.4,233.2 861.4,232.2 862.3,231.1 863.4,229.2 864.3,226.9 865.3,224.5 866.2,222.3 867.0,220.6 867.7,218.9 868.5,217.2 869.1,215.5 869.7,213.2 870.2,210.5 870.6,208.4 871.1,207.5 871.4,208.0 871.8,209.5 872.2,211.4 872.5,213.3 872.9,216.6 873.1,220.3 873.3,224.4 873.5,228.5 873.8,233.4 874.0,238.7 874.2,243.7 874.5,248.0 874.6,249.9 874.7,251.5 874.8,253.1 875.0,255.0 875.3,259.3 875.8,264.5 876.3,269.8 876.9,274.5 877.3,278.2 877.7,282.0 878.1,284.9 878.9,286.2 879.7,285.7 880.7,284.1 881.7,281.9 882.8,279.9 884.0,277.3 885.3,274.4 886.5,271.6 887.7,269.2 888.3,267.9 888.9,266.9 889.4,265.9 890.0,264.8 890.7,263.3 891.3,261.7 892.1,260.2 892.9,258.9 893.8,257.9 894.8,257.0 895.9,256.3 896.8,256.0 897.6,256.1 898.4,256.5 899.1,257.2 899.8,257.9 900.6,259.5 901.3,261.6 902.0,263.8 902.7,265.7 903.4,267.1 904.0,268.5 904.8,269.7 905.6,270.6 906.5,271.2 907.4,271.5 908.4,271.8 909.5,272.1 911.7,272.6 914.3,273.1 916.9,273.6 919.3,274.0 920.9,274.4 922.4,274.8 923.8,275.0 925.2,275.0 926.2,274.8 927.2,274.3 928.1,273.7 929.1,273.1 930.1,272.1 931.1,270.8 932.0,269.6 933.0,268.7 933.7,268.1 934.5,267.6 935.2,267.3 935.9,267.2 936.7,267.6 937.4,268.3 938.1,269.2 938.8,270.1 939.6,271.6 940.3,273.4 941.0,275.2 941.8,277.0 942.6,278.8 943.5,280.6 944.5,282.4 945.7,283.8 946.7,284.8 947.9,285.6 949.2,286.3 950.5,286.7 952.4,287.0 954.3,287.0 956.4,286.9 958.4,286.7 960.1,286.6 961.8,286.4 963.5,286.3 965.2,286.2 966.7,286.3 968.3,286.5 969.7,286.8 971.1,287.2 972.1,287.9 973.1,288.7 974.0,289.7 975.0,290.6 976.2,291.9 977.4,293.3 978.6,294.7 979.8,296.0 981.0,297.2 982.3,298.5 983.5,299.6 984.7,300.4 985.7,300.8 986.6,301.0 987.5,301.2 988.4,301.4 989.0,301.4" fill="none" stroke="#000" stroke-width="0.90" stroke-linejoin="round"/>
<polyline points="594.2,301.9 594.4,301.9 595.3,299.9 596.1,298.0 597.0,296.1 597.8,294.1 598.6,291.8 599.4,289.4 600.1,286.9 600.7,284.3 601.4,280.9 601.8,277.2 602.3,273.4 602.7,269.6 603.2,265.9 603.7,262.0 604.1,258.3 604.5,255.0 604.6,253.2 604.7,251.7 604.8,250.1 604.9,248.5 605.2,246.2 605.6,243.7 606.0,241.2 606.4,238.7 606.8,236.3 607.1,233.8 607.5,231.4 607.9,228.9 608.3,226.6 608.9,224.3 609.4,221.9 609.8,219.2 610.3,214.7 610.7,209.7 611.0,204.5 611.3,199.6 611.5,195.9 611.8,192.4 612.0,188.8 612.3,185.0 612.6,180.0 613.0,174.9 613.4,169.4 613.7,163.6 614.1,155.1 614.5,145.7 614.9,136.7 615.4,129.4 615.7,126.5 616.1,123.9 616.4,121.7 616.9,119.6 617.1,118.2 617.4,116.8 617.8,115.6 618.3,114.8 618.9,114.4 619.7,114.3 620.5,114.2 621.2,114.3 622.0,114.4 622.7,114.6 623.5,114.9 624.2,115.3 625.0,115.8 625.7,116.5 626.4,117.3 627.1,118.2 628.1,119.7 629.1,121.6 630.1,123.5 631.0,125.5 632.0,127.6 633.0,129.9 634.0,132.1 634.9,134.3 635.7,136.3 636.5,138.3 637.3,140.3 637.9,142.1 638.2,143.3 638.4,144.5 638.6,145.6 638.8,147.0 639.3,149.7 639.8,152.8 640.3,156.2 640.8,159.5 641.2,162.9 641.6,166.4 641.9,169.8 642.2,173.2 642.5,176.1 642.7,178.9 643.0,181.8 643.2,184.8 643.6,188.4 643.9,192.1 644.3,195.9 644.7,199.5 645.0,202.9 645.3,206.5 645.6,209.4 645.9,210.6 646.2,209.4 646.5,206.5 646.8,202.9 647.1,199.5 647.4,196.1 647.7,192.6 647.9,188.9 648.1,184.8 648.4,177.7 648.6,169.7 648.8,161.5 649.1,153.6 649.3,146.5 649.4,139.0 649.6,132.6 650.1,128.4 650.2,127.8 650.4,127.2 650.6,126.8 650.7,126.7 650.9,126.8 651.1,127.1 651.3,127.6 651.5,128.2 652.1,132.5 652.4,139.3 652.7,146.9 653.0,153.8 653.2,159.0 653.5,164.0 653.7,168.8 654.0,173.4 654.1,177.1 654.2,180.7 654.5,184.1 654.9,187.0 655.5,188.7 656.1,190.5 656.8,191.8 657.4,192.3 657.9,191.8 658.4,190.6 658.9,189.2 659.3,187.9 659.6,187.2 659.8,186.5 660.0,185.8 660.3,185.0 661.0,182.9 662.0,180.2 663.0,177.6 664.2,175.3 665.3,173.8 666.4,172.5 667.7,171.4 669.1,170.4 671.0,169.7 673.2,169.3 675.6,169.1 677.9,169.0 680.4,168.8 683.2,168.8 685.7,168.8 687.7,169.0 688.4,169.0 688.9,169.1 689.4,169.2 690.0,169.5 691.0,170.0 692.0,170.7 693.0,171.5 693.9,172.4 694.7,173.5 695.4,174.8 696.1,176.1 696.8,177.3 697.5,178.3 698.2,179.4 698.9,180.4 699.8,181.0 700.7,181.2 701.6,181.2 702.7,181.0 703.7,180.7 705.1,179.7 706.6,178.3 708.0,176.7 709.5,175.3 711.0,174.2 712.5,173.2 713.9,172.2 715.4,171.4 716.6,170.7 717.8,170.1 719.1,169.6 720.3,169.5 721.5,169.7 722.8,170.2 724.0,170.8 725.2,171.4 726.2,171.8 727.2,172.2 728.2,172.7 729.1,173.4 730.0,174.6 730.7,176.0 731.4,177.7 732.0,179.2 732.4,180.8 732.8,182.4 733.2,183.9 733.9,185.0 735.1,185.6 736.6,185.8 738.2,185.8 739.8,185.8 741.9,185.8 744.3,185.8 746.6,185.5 748.6,185.0 750.0,184.2 751.2,183.2 752.3,182.1 753.5,181.2 754.7,180.3 755.9,179.5 757.1,178.8 758.4,178.2 759.6,177.9 760.8,177.8 762.0,177.8 763.2,177.8 764.5,177.9 765.7,178.2 766.9,178.3 768.1,178.2 769.4,177.7 770.7,176.9 771.9,175.8 773.0,174.8 774.1,173.8 775.1,172.8 776.1,171.6 776.9,170.4 777.5,169.0 778.0,167.5 778.4,165.9 778.9,164.6 779.2,163.6 779.6,162.7 779.9,162.0 780.3,161.6 780.7,161.8 781.1,162.2 781.4,162.9 781.8,163.6 782.4,165.5 783.0,167.9 783.4,170.7 783.8,173.4 783.8,176.2 783.7,179.3 783.6,182.2 783.8,185.0 784.2,187.1 784.8,189.1 785.5,191.0 786.2,192.8 786.8,194.2 787.4,195.5 788.0,196.7 788.6,197.7 789.0,198.3 789.3,198.8 789.6,199.3 790.0,199.6 790.6,200.0 791.4,200.2 792.2,200.2 792.9,200.1 793.7,199.8 794.4,199.2 795.1,198.5 795.9,197.7 796.8,196.6 797.8,195.3 798.8,194.0 799.8,192.8 800.7,191.8 801.8,190.8 802.7,189.9 803.7,188.9 804.4,187.9 805.1,186.9 805.7,185.9 806.6,185.0 807.9,184.2 809.3,183.5 810.9,182.8 812.5,182.1 814.1,181.3 815.8,180.4 817.5,179.5 819.3,178.7 821.2,178.0 823.1,177.3 825.1,176.8 827.1,176.5 829.3,176.5 831.6,176.7 833.8,177.2 835.9,177.8 837.5,178.4 838.9,179.1 840.3,180.0 841.8,180.7 843.4,181.4 845.2,182.1 846.9,182.7 848.6,183.1 849.9,183.4 851.1,183.5 852.3,183.6 853.5,183.6 854.7,183.5 855.9,183.3 857.1,183.0 858.4,182.6 859.9,181.8 861.5,180.8 862.9,179.9 864.2,179.7 865.2,180.5 866.0,181.9 866.6,183.5 867.1,185.0 867.5,186.0 867.6,187.0 867.8,188.0 868.1,188.9 868.6,189.6 869.1,190.3 869.6,191.0 870.1,191.8 870.7,193.5 871.2,195.5 871.6,197.6 872.0,199.6 872.4,201.5 872.6,203.3 872.8,205.3 873.0,207.5 873.2,211.6 873.3,216.3 873.4,221.2 873.5,226.0 873.6,230.5 873.8,235.1 874.0,239.5 874.2,243.6 874.3,246.5 874.5,249.2 874.7,251.9 875.0,255.0 875.4,261.1 876.0,268.4 876.8,275.1 877.9,279.4 878.3,280.2 878.8,280.9 879.3,281.3 879.8,281.4 880.8,280.6 881.8,278.8 882.8,276.6 883.8,274.5 884.8,272.4 885.8,270.2 886.8,268.0 887.7,265.7 888.3,263.6 888.9,261.5 889.4,259.4 890.0,257.3 890.6,255.2 891.3,253.1 892.0,251.1 892.9,249.5 893.9,248.2 895.1,247.1 896.3,246.3 897.3,246.0 898.0,246.2 898.6,246.7 899.1,247.3 899.8,248.0 900.9,249.3 902.1,251.0 903.4,252.5 904.6,253.2 905.8,252.8 907.1,251.9 908.3,250.7 909.5,249.5 911.0,248.1 912.4,246.6 913.9,245.1 915.4,243.6 916.8,242.3 918.3,241.0 919.8,239.6 921.2,238.2 923.0,236.4 924.9,234.5 926.7,232.6 928.1,230.9 928.7,229.9 929.1,228.9 929.5,227.9 930.0,227.0 931.1,225.7 932.4,224.2 933.7,223.1 934.9,222.6 935.7,222.8 936.5,223.4 937.2,224.2 937.9,225.0 938.7,226.3 939.4,227.7 940.1,229.3 940.8,230.9 941.5,232.8 942.3,234.8 943.0,236.8 943.7,238.7 944.4,240.5 945.1,242.2 945.8,243.9 946.6,245.5 947.7,247.3 948.9,249.1 950.2,250.9 951.5,252.4 952.7,253.5 954.0,254.4 955.2,255.3 956.4,256.3 957.6,257.4 958.7,258.6 959.7,259.7 960.3,260.7 960.4,261.0 960.3,261.3 960.2,261.5 960.3,261.8 961.2,262.8 962.8,264.1 964.6,265.4 966.2,266.7 967.5,268.0 968.7,269.3 969.9,270.7 971.1,272.1 972.1,273.6 973.1,275.2 974.0,276.8 975.0,278.4 975.9,280.2 976.9,281.9 977.9,283.7 978.9,285.3 979.8,286.6 980.7,287.8 981.7,289.0 982.8,290.2 984.1,291.3 985.5,292.4 987.0,293.5 988.4,294.6 989.0,294.6" fill="none" stroke="#000" stroke-width="0.90" stroke-linejoin="round"/>
<polyline points="594.2,119.6 594.4,119.6 595.2,120.9 596.1,122.1 596.9,123.3 597.8,124.5 599.0,126.3 600.2,128.3 601.5,129.9 602.7,130.6 603.7,130.1 604.7,129.0 605.6,127.6 606.6,126.5 607.5,125.8 608.4,125.1 609.3,124.4 610.0,123.6 610.6,122.1 611.0,120.4 611.2,118.6 611.5,116.7 611.9,114.5 612.3,112.1 612.6,109.8 612.9,107.9 613.1,107.1 613.2,106.5 613.3,105.8 613.4,105.0 613.9,101.8 614.4,97.6 615.2,93.6 616.4,91.4 617.2,91.3 618.3,91.6 619.3,92.0 620.3,92.4 621.0,92.6 621.8,92.8 622.5,92.9 623.2,92.9 624.1,92.4 625.1,91.7 626.1,90.9 627.1,90.4 628.3,90.2 629.5,90.2 630.8,90.4 632.0,90.6 633.3,91.0 634.5,91.5 635.7,92.2 636.9,92.9 638.0,93.6 639.0,94.4 639.9,95.3 640.8,96.3 641.6,97.8 642.2,99.5 642.7,101.4 643.2,103.1 643.6,104.7 643.9,106.3 644.3,107.8 644.7,108.9 645.0,109.4 645.3,109.9 645.6,110.3 645.9,110.4 646.2,110.1 646.5,109.5 646.8,108.8 647.1,107.9 647.6,106.1 648.0,103.9 648.3,101.5 648.6,99.2 648.8,97.1 649.0,94.9 649.2,93.1 649.4,92.4 649.6,93.1 649.8,94.8 650.1,97.0 650.4,99.2 650.9,102.6 651.4,106.5 652.0,110.6 652.5,114.8 652.9,119.5 653.3,124.4 653.6,129.4 654.0,134.3 654.3,139.2 654.7,144.1 655.0,149.0 655.4,153.8 655.9,159.1 656.3,164.9 656.8,169.5 657.4,171.4 657.8,170.1 658.3,166.9 658.8,163.1 659.3,159.7 660.0,157.1 660.7,154.7 661.5,152.3 662.3,149.9 663.0,147.9 663.7,145.8 664.4,143.9 665.2,142.1 665.8,140.7 666.5,139.3 667.2,138.1 668.1,137.2 669.2,136.9 670.3,136.9 671.6,137.0 673.0,137.2 675.3,137.6 677.8,138.1 680.4,138.7 682.8,139.2 684.7,139.5 686.7,139.8 688.5,140.1 690.0,140.6 690.9,141.1 691.6,141.7 692.3,142.3 692.9,143.1 693.7,144.3 694.5,145.7 695.2,147.3 695.9,148.9 696.6,151.4 697.2,154.2 697.9,156.9 698.8,158.7 699.4,159.4 700.2,159.8 700.9,160.1 701.7,160.2 702.7,160.0 703.7,159.6 704.7,159.0 705.6,158.2 706.9,156.9 708.1,155.2 709.3,153.5 710.5,151.9 711.7,150.5 712.9,149.2 714.1,148.0 715.4,147.0 716.6,146.2 717.8,145.5 719.0,145.0 720.3,144.8 721.5,145.0 722.8,145.6 724.0,146.3 725.2,147.0 726.2,147.7 727.2,148.5 728.2,149.4 729.1,150.4 729.9,151.8 730.7,153.4 731.4,155.0 732.0,156.8 732.5,158.8 732.9,161.0 733.3,163.0 733.9,164.6 734.6,165.3 735.2,165.8 736.0,166.2 736.9,166.5 738.2,166.7 739.7,166.6 741.2,166.4 742.7,166.0 744.2,165.6 745.7,165.0 747.2,164.3 748.6,163.6 750.1,162.7 751.5,161.7 753.0,160.6 754.5,159.7 755.9,158.8 757.4,158.0 758.9,157.3 760.3,156.8 761.6,156.6 762.9,156.6 764.1,156.6 765.2,156.3 766.1,155.7 766.8,154.8 767.5,153.9 768.1,152.9 768.9,151.3 769.6,149.6 770.3,147.8 771.1,146.0 771.8,144.3 772.6,142.5 773.3,140.8 774.0,139.2 774.5,137.9 775.0,136.8 775.5,135.6 775.9,134.3 776.5,132.1 777.0,129.7 777.5,127.1 777.9,124.5 778.3,121.7 778.7,118.8 779.0,115.9 779.4,112.8 779.8,108.8 780.3,104.4 780.8,100.3 781.3,97.3 781.5,96.3 781.7,95.6 782.0,95.0 782.3,94.3 782.6,93.7 782.9,93.2 783.3,92.7 783.8,92.4 784.6,92.4 785.6,92.7 786.7,93.1 787.7,93.4 788.2,93.4 788.8,93.4 789.3,93.4 790.0,93.4 791.7,93.3 793.7,93.3 795.8,93.4 797.8,93.8 799.7,94.8 801.4,96.2 803.1,97.7 804.6,99.2 805.9,100.7 807.1,102.2 808.2,103.7 809.5,105.0 810.9,105.9 812.4,106.5 813.9,107.2 815.4,107.9 816.9,109.0 818.3,110.1 819.7,111.3 821.3,112.3 822.9,113.3 824.6,114.2 826.4,114.9 828.1,115.3 829.6,115.2 831.0,114.9 832.5,114.4 833.9,113.8 835.6,112.7 837.3,111.4 839.0,110.0 840.8,108.9 842.6,108.2 844.6,107.7 846.5,107.3 848.6,107.0 851.0,106.6 853.6,106.4 856.1,106.2 858.4,106.0 859.7,105.9 861.0,105.8 862.1,105.7 863.2,105.5 864.3,105.1 865.3,104.6 866.3,103.9 867.1,103.1 867.9,101.8 868.5,100.2 869.0,98.6 869.6,97.3 870.1,96.6 870.6,95.9 871.1,95.4 871.5,95.1 871.9,95.0 872.2,95.0 872.5,95.1 872.8,95.3 873.3,96.3 873.6,97.9 873.9,99.6 874.2,101.2 874.4,102.2 874.7,103.1 874.9,104.0 875.2,105.0 875.5,106.4 876.0,107.9 876.4,109.4 876.9,110.9 877.3,112.3 877.7,113.8 878.2,115.0 878.9,115.7 879.7,115.8 880.7,115.4 881.7,114.8 882.8,114.3 883.9,113.7 885.1,113.0 886.4,112.2 887.7,111.3 889.5,109.8 891.6,108.1 893.7,106.3 895.9,105.0 898.0,104.3 900.2,103.8 902.4,103.5 904.6,103.1 907.1,102.5 909.5,101.9 912.0,101.3 914.4,100.7 916.9,100.2 919.3,99.8 921.7,99.4 924.2,99.0 926.7,98.5 929.3,98.0 931.7,97.5 933.9,97.3 935.2,97.2 936.4,97.3 937.5,97.5 938.8,97.8 941.1,98.6 943.7,99.7 946.3,101.0 948.6,102.1 949.9,102.9 951.0,103.7 952.2,104.4 953.5,105.0 955.7,105.6 958.1,106.0 960.7,106.4 963.2,107.0 965.7,107.8 968.2,108.9 970.7,110.1 973.0,111.3 975.0,112.8 977.0,114.4 978.9,116.0 980.8,117.2 982.7,117.9 984.6,118.4 986.5,118.7 988.4,119.2 989.0,119.2" fill="none" stroke="#000" stroke-width="0.90" stroke-linejoin="round"/>
<polyline points="594.2,97.8 594.4,97.8 595.8,97.7 597.1,97.7 598.5,97.6 599.8,97.3 601.1,96.5 602.3,95.5 603.5,94.4 604.6,93.4 605.7,92.4 606.7,91.5 607.7,90.5 608.6,89.5 609.3,88.3 609.9,87.2 610.5,85.9 611.0,84.6 611.5,82.6 611.8,80.4 612.1,78.1 612.5,75.8 612.9,72.9 613.4,69.9 613.9,66.9 614.4,64.1 614.8,61.7 615.2,59.3 615.7,57.1 616.4,55.3 617.0,54.2 617.7,53.2 618.4,52.4 619.3,51.9 620.2,51.6 621.2,51.5 622.2,51.6 623.2,51.9 624.2,52.5 625.2,53.4 626.1,54.4 627.1,55.3 628.1,56.0 629.1,56.8 630.0,57.5 631.0,58.2 632.0,58.9 633.0,59.6 634.0,60.3 634.9,61.1 635.9,62.0 637.0,63.0 637.9,64.0 638.8,65.0 639.7,66.2 640.4,67.4 641.1,68.6 641.8,69.9 642.4,71.6 643.1,73.4 643.7,75.2 644.2,76.8 644.6,78.0 645.0,79.3 645.3,80.3 645.7,80.7 646.1,80.2 646.4,79.0 646.8,77.4 647.1,75.8 647.6,73.2 647.9,70.2 648.2,67.0 648.6,64.1 648.9,61.4 649.2,58.8 649.6,56.3 650.1,54.3 650.4,53.3 650.7,52.5 651.1,51.8 651.5,51.4 652.0,51.2 652.4,51.2 652.9,51.3 653.5,51.4 654.2,51.6 654.9,52.0 655.7,52.3 656.4,52.3 657.2,51.9 657.9,51.1 658.6,50.2 659.3,49.4 660.0,48.7 660.7,48.1 661.4,47.5 662.3,47.0 663.5,46.5 664.9,46.3 666.5,46.1 668.1,46.0 670.4,46.0 672.8,46.2 675.3,46.4 677.9,46.7 681.0,47.0 684.2,47.3 687.3,47.6 690.0,48.0 691.4,48.3 692.6,48.7 693.7,49.0 694.9,49.4 696.1,49.9 697.3,50.6 698.5,51.1 699.8,51.6 701.0,51.8 702.2,52.0 703.4,52.0 704.6,52.0 705.8,51.7 707.0,51.4 708.2,50.9 709.5,50.6 711.4,50.2 713.4,49.8 715.4,49.5 717.3,49.4 719.1,49.5 720.9,49.7 722.6,50.0 724.2,50.4 725.5,50.7 726.8,51.0 728.0,51.4 729.1,51.9 729.9,52.3 730.6,52.8 731.3,53.3 732.0,53.8 732.7,54.3 733.3,54.9 734.0,55.4 734.9,55.8 736.8,56.1 739.0,56.2 741.4,56.1 743.7,56.1 746.1,56.0 748.6,55.9 751.0,55.8 753.5,55.8 755.9,55.9 758.4,56.0 760.8,56.2 763.2,56.4 765.8,56.7 768.3,56.9 770.8,57.2 773.0,57.4 774.4,57.5 775.6,57.6 776.8,57.8 777.9,58.2 779.0,58.9 780.0,59.9 780.9,61.0 781.8,62.1 782.6,63.2 783.3,64.3 784.0,65.4 784.7,66.5 785.4,67.4 786.2,68.4 786.9,69.2 787.7,69.9 788.2,70.4 788.8,70.8 789.3,71.1 790.0,71.4 791.1,71.7 792.3,71.8 793.6,71.8 794.9,71.7 796.1,71.2 797.2,70.5 798.4,69.7 799.8,68.9 802.0,67.8 804.4,66.5 807.0,65.2 809.5,64.1 811.9,63.2 814.4,62.4 816.8,61.7 819.3,61.1 821.7,60.7 824.2,60.4 826.6,60.2 829.1,60.2 831.5,60.2 833.9,60.4 836.4,60.6 838.8,60.9 841.3,61.3 843.7,61.8 846.1,62.3 848.6,62.6 851.1,62.7 853.6,62.8 856.0,62.7 858.4,62.6 860.2,62.3 862.1,61.8 863.8,61.5 865.2,61.6 866.1,62.3 866.8,63.3 867.5,64.4 868.1,65.5 868.9,66.6 869.6,67.8 870.4,69.0 871.1,70.4 871.9,72.7 872.6,75.3 873.3,78.1 874.0,80.7 874.7,83.0 875.3,85.3 876.0,87.5 876.9,89.5 877.8,91.0 878.7,92.4 879.7,93.6 880.8,94.3 882.0,94.4 883.2,94.2 884.5,93.7 885.7,93.4 886.8,93.2 887.9,93.0 888.9,92.8 890.0,92.4 891.4,91.4 892.8,90.1 894.2,88.7 895.9,87.5 897.9,86.6 900.1,85.9 902.4,85.3 904.6,84.6 907.1,83.7 909.5,82.9 912.0,82.0 914.4,81.2 916.9,80.2 919.5,79.3 922.0,78.4 924.2,77.7 925.5,77.4 926.8,77.2 927.9,77.0 929.1,76.8 930.1,76.4 931.0,75.9 931.9,75.5 933.0,75.3 934.3,75.4 935.8,75.7 937.3,76.1 938.8,76.8 941.1,78.0 943.6,79.6 946.1,81.2 948.6,82.6 951.0,83.6 953.5,84.4 955.9,85.2 958.4,86.0 960.8,87.1 963.2,88.2 965.7,89.3 968.1,90.4 970.6,91.5 973.2,92.5 975.7,93.5 977.9,94.3 979.2,94.9 980.4,95.4 981.6,95.9 982.8,96.3 984.1,96.5 985.6,96.6 987.0,96.7 988.4,96.8 989.0,96.8" fill="none" stroke="#000" stroke-width="0.90" stroke-linejoin="round"/>
<polyline points="594.2,91.9 594.4,91.9 595.8,91.3 597.1,90.8 598.5,90.2 599.8,89.5 601.1,88.4 602.3,87.1 603.5,85.8 604.6,84.6 605.7,83.6 606.7,82.6 607.7,81.7 608.6,80.7 609.3,79.7 609.9,78.8 610.5,77.8 611.0,76.8 611.4,75.6 611.8,74.5 612.1,73.2 612.5,71.9 612.9,69.7 613.2,67.1 613.6,64.6 613.9,62.1 614.3,60.0 614.6,58.0 614.9,56.1 615.4,54.3 615.8,52.9 616.2,51.6 616.7,50.4 617.3,49.4 618.2,48.8 619.2,48.3 620.3,48.1 621.2,47.9 622.0,48.0 622.7,48.2 623.4,48.5 624.2,48.9 625.3,49.8 626.6,50.9 627.8,52.2 629.1,53.3 630.3,54.3 631.5,55.3 632.8,56.3 633.9,57.2 635.0,58.0 636.0,58.6 637.0,59.3 637.9,60.2 638.7,61.2 639.4,62.4 640.1,63.7 640.8,65.0 641.5,66.8 642.3,68.7 643.0,70.5 643.7,71.9 644.2,72.6 644.7,73.2 645.2,73.7 645.7,73.8 646.2,73.3 646.7,72.1 647.2,70.5 647.6,68.9 648.1,66.3 648.4,63.2 648.7,60.1 649.1,57.2 649.3,55.3 649.6,53.3 649.9,51.7 650.5,50.4 651.2,49.8 651.9,49.3 652.7,49.0 653.5,48.9 654.2,49.3 655.0,50.0 655.7,50.6 656.4,50.9 656.9,50.6 657.4,49.9 657.8,49.1 658.4,48.4 659.0,47.8 659.7,47.1 660.4,46.5 661.3,46.0 662.6,45.6 664.1,45.3 665.6,45.1 667.1,45.0 668.6,45.0 670.0,45.2 671.4,45.3 673.0,45.5 675.3,45.7 677.8,45.9 680.4,46.2 682.8,46.5 684.7,46.7 686.5,47.0 688.3,47.3 690.0,47.7 691.3,47.9 692.5,48.2 693.7,48.5 694.9,48.9 696.1,49.5 697.3,50.1 698.5,50.7 699.8,51.2 701.0,51.4 702.2,51.6 703.4,51.6 704.6,51.6 705.8,51.3 707.0,51.0 708.2,50.6 709.5,50.2 711.4,49.8 713.4,49.4 715.4,49.1 717.3,48.9 719.1,49.0 720.9,49.2 722.6,49.6 724.2,49.9 725.5,50.2 726.8,50.5 728.0,50.9 729.1,51.4 729.9,51.8 730.6,52.3 731.3,52.8 732.0,53.3 732.7,53.7 733.3,54.1 734.1,54.5 734.9,54.8 736.8,55.1 739.0,55.1 741.4,55.1 743.7,55.1 746.1,55.0 748.6,54.9 751.0,54.8 753.5,54.8 755.9,54.9 758.4,55.0 760.8,55.3 763.2,55.5 765.8,55.7 768.3,55.9 770.8,56.2 773.0,56.4 774.4,56.6 775.6,56.7 776.8,56.9 777.9,57.2 779.0,57.9 780.0,58.8 780.9,59.7 781.8,60.6 782.6,61.5 783.3,62.4 784.0,63.2 784.7,64.1 785.5,64.8 786.2,65.5 786.9,66.2 787.7,66.8 788.2,67.3 788.8,67.7 789.3,68.1 790.0,68.5 791.1,68.8 792.3,69.0 793.6,69.1 794.9,68.9 796.1,68.6 797.2,67.9 798.4,67.2 799.8,66.5 802.0,65.6 804.4,64.5 807.0,63.5 809.5,62.6 812.0,61.7 814.4,60.8 816.8,60.0 819.3,59.4 821.7,58.9 824.2,58.5 826.6,58.3 829.1,58.2 831.5,58.3 833.9,58.5 836.4,58.8 838.8,59.2 841.3,59.6 843.7,60.2 846.1,60.7 848.6,61.1 851.1,61.4 853.6,61.6 856.0,61.7 858.4,61.6 860.2,61.2 862.1,60.6 863.8,60.1 865.2,60.2 866.1,60.8 866.8,61.8 867.5,62.9 868.1,64.1 868.9,65.2 869.6,66.3 870.4,67.6 871.1,68.9 871.9,71.2 872.6,73.7 873.3,76.3 874.0,78.7 874.4,80.6 874.8,82.4 875.3,84.1 875.9,85.5 876.8,86.6 877.7,87.6 878.8,88.4 879.8,89.0 880.8,89.3 881.7,89.5 882.7,89.5 883.8,89.5 885.2,89.2 886.8,88.8 888.4,88.2 890.0,87.5 891.5,86.6 892.9,85.6 894.3,84.5 895.9,83.6 897.9,82.8 900.1,82.3 902.4,81.7 904.6,81.2 907.1,80.5 909.5,79.7 912.0,79.0 914.4,78.2 916.9,77.3 919.5,76.4 922.0,75.5 924.2,74.8 925.5,74.5 926.8,74.3 927.9,74.1 929.1,73.8 930.1,73.3 931.0,72.7 931.9,72.2 933.0,71.9 934.3,71.9 935.7,72.2 937.2,72.7 938.8,73.3 941.1,74.4 943.6,75.7 946.1,77.0 948.6,78.2 951.0,79.2 953.5,80.0 955.9,80.8 958.4,81.6 960.8,82.6 963.3,83.5 965.7,84.5 968.1,85.5 970.7,86.8 973.2,88.1 975.7,89.4 977.9,90.4 979.2,90.9 980.4,91.3 981.6,91.6 982.8,91.9 984.2,92.1 985.6,92.1 987.0,92.1 988.4,92.2 989.0,92.2" fill="none" stroke="#000" stroke-width="0.90" stroke-linejoin="round"/>
<polyline points="594.2,48.4 594.4,48.4 595.7,48.8 597.1,49.2 598.4,49.5 599.8,49.9 601.0,50.3 602.2,50.7 603.4,51.0 604.6,51.4 605.9,51.7 607.2,52.2 608.4,52.4 609.5,52.3 610.4,51.9 611.1,51.2 611.8,50.4 612.5,49.4 613.2,47.9 613.9,46.0 614.6,44.2 615.4,42.6 616.2,41.5 617.2,40.6 618.2,39.8 619.3,39.2 620.4,38.8 621.6,38.6 622.9,38.6 624.2,38.7 625.8,38.9 627.5,39.2 629.3,39.6 631.0,40.1 633.0,40.8 635.1,41.5 637.1,42.3 638.8,43.1 639.9,43.7 640.9,44.3 641.8,44.9 642.7,45.5 643.5,46.2 644.3,47.1 645.0,47.7 645.7,47.9 646.2,47.5 646.7,46.7 647.2,45.6 647.6,44.5 648.1,43.2 648.5,41.6 648.9,40.2 649.6,39.2 650.2,38.8 650.9,38.7 651.7,38.6 652.5,38.7 653.4,38.8 654.4,39.1 655.4,39.4 656.4,39.6 657.3,39.7 658.3,39.7 659.2,39.7 660.3,39.6 662.1,39.5 664.0,39.4 666.0,39.2 668.1,39.2 670.5,39.2 672.9,39.3 675.3,39.4 677.9,39.5 680.9,39.5 683.9,39.5 687.0,39.6 690.0,39.6 692.5,39.8 694.9,40.1 697.3,40.3 699.8,40.4 702.2,40.4 704.6,40.4 707.1,40.2 709.5,40.1 712.0,40.0 714.4,39.8 716.9,39.7 719.3,39.6 721.8,39.7 724.3,39.9 726.8,40.1 729.1,40.4 730.6,40.7 732.0,41.1 733.4,41.5 734.9,41.8 737.0,42.0 739.2,42.1 741.4,42.1 743.7,42.1 746.1,42.1 748.6,42.0 751.0,41.9 753.5,41.8 755.9,41.7 758.4,41.7 760.8,41.6 763.2,41.6 765.8,41.6 768.3,41.6 770.8,41.5 773.0,41.4 774.4,41.2 775.6,41.0 776.8,40.8 777.9,40.6 778.7,40.5 779.4,40.3 780.1,40.2 780.8,40.1 781.7,40.3 782.7,40.5 783.7,40.8 784.7,41.1 785.9,41.4 787.1,41.7 788.4,41.9 790.0,42.1 794.0,42.2 799.0,42.1 804.4,41.9 809.5,41.8 814.4,41.7 819.3,41.7 824.2,41.6 829.1,41.6 834.0,41.6 839.0,41.7 843.9,41.8 848.6,41.8 852.6,41.7 856.5,41.6 860.2,41.6 863.2,41.8 864.7,42.1 866.0,42.5 867.1,42.9 868.1,43.1 868.7,43.0 869.2,42.8 869.6,42.6 870.1,42.6 870.8,43.0 871.5,43.7 872.3,44.6 873.0,45.5 873.7,46.5 874.4,47.6 875.2,48.6 875.9,49.4 876.6,49.9 877.3,50.2 878.1,50.5 878.9,50.6 879.8,50.5 880.7,50.2 881.7,49.8 882.8,49.4 884.4,48.9 886.1,48.4 888.0,47.9 890.0,47.5 893.3,47.1 897.0,46.8 900.9,46.7 904.6,46.5 908.3,46.2 912.1,46.0 915.7,45.7 919.3,45.5 922.4,45.3 925.4,45.2 928.3,45.1 931.0,45.0 933.1,45.0 935.0,44.9 936.9,44.9 938.8,45.0 941.1,45.3 943.4,45.7 945.9,46.1 948.6,46.5 953.0,47.0 957.9,47.4 963.1,47.9 968.1,48.2 973.2,48.5 978.3,48.8 983.3,49.0 988.4,49.2 989.0,49.2" fill="none" stroke="#000" stroke-width="0.90" stroke-linejoin="round"/>
<polyline points="594.2,42.4 594.4,42.4 595.7,42.7 597.1,43.0 598.4,43.3 599.8,43.6 601.0,43.8 602.2,44.1 603.4,44.3 604.6,44.5 605.9,44.8 607.1,45.0 608.4,45.1 609.5,45.0 610.6,44.7 611.6,44.1 612.6,43.4 613.4,42.6 614.3,41.0 614.9,39.1 615.6,37.2 616.4,35.7 617.0,35.2 617.7,34.8 618.5,34.5 619.3,34.3 620.4,34.2 621.6,34.3 622.9,34.5 624.2,34.8 625.8,35.1 627.5,35.4 629.3,35.8 631.0,36.2 633.0,36.7 635.0,37.2 637.0,37.7 638.8,38.2 640.2,38.6 641.4,38.9 642.6,39.3 643.7,39.6 644.5,40.0 645.3,40.4 646.0,40.6 646.6,40.6 647.2,40.2 647.7,39.4 648.1,38.5 648.6,37.7 649.1,36.9 649.5,35.9 650.0,35.2 650.5,34.8 651.2,34.8 652.0,35.2 652.7,35.7 653.5,36.2 654.2,36.7 654.9,37.3 655.6,37.9 656.4,38.2 657.3,38.2 658.2,38.1 659.2,37.9 660.3,37.7 662.1,37.6 664.0,37.4 666.0,37.3 668.1,37.2 670.5,37.1 672.9,37.0 675.3,36.9 677.9,36.9 680.9,36.9 683.9,37.0 687.0,37.1 690.0,37.2 692.5,37.3 694.9,37.5 697.3,37.6 699.8,37.7 702.2,37.7 704.6,37.6 707.1,37.5 709.5,37.5 712.0,37.5 714.4,37.6 716.9,37.6 719.3,37.7 721.7,37.8 724.2,37.9 726.6,38.1 729.1,38.2 731.5,38.3 733.9,38.5 736.4,38.6 738.8,38.7 741.3,38.7 743.7,38.6 746.2,38.5 748.6,38.5 751.0,38.4 753.5,38.3 755.9,38.3 758.4,38.2 760.8,38.1 763.3,38.0 765.8,37.9 768.1,37.7 770.2,37.5 772.3,37.2 774.2,37.0 775.9,36.7 777.0,36.5 778.0,36.3 778.9,36.1 779.8,35.9 780.8,35.9 781.7,36.0 782.7,36.1 783.8,36.2 785.1,36.4 786.6,36.7 788.2,37.0 790.0,37.2 794.1,37.3 799.1,37.2 804.4,37.0 809.5,36.9 814.4,36.9 819.3,36.8 824.2,36.8 829.1,36.7 834.0,36.7 839.0,36.6 843.9,36.6 848.6,36.5 852.6,36.4 856.5,36.2 860.2,36.1 863.2,36.2 864.7,36.4 865.9,36.6 867.0,36.9 868.1,37.2 869.4,37.5 870.6,37.9 871.8,38.3 873.0,38.7 874.2,39.2 875.4,39.8 876.7,40.3 877.9,40.6 879.1,40.7 880.3,40.5 881.5,40.3 882.8,40.1 884.4,40.0 886.1,39.9 888.0,39.8 890.0,39.6 893.3,39.4 897.0,39.2 900.9,38.9 904.6,38.7 908.3,38.5 912.0,38.4 915.6,38.3 919.3,38.2 923.0,38.1 926.6,38.0 930.3,37.9 933.9,37.9 937.6,38.0 941.1,38.2 944.8,38.4 948.6,38.7 953.3,38.9 958.2,39.2 963.1,39.4 968.1,39.6 973.2,39.9 978.3,40.1 983.4,40.4 988.4,40.6 989.0,40.6" fill="none" stroke="#000" stroke-width="0.90" stroke-linejoin="round"/>
<polyline points="594.2,34.3 594.4,34.3 595.7,34.4 597.1,34.5 598.4,34.6 599.8,34.8 601.0,34.9 602.2,35.2 603.4,35.4 604.6,35.5 605.9,35.7 607.1,35.9 608.4,36.0 609.5,35.9 610.5,35.8 611.5,35.5 612.5,35.2 613.4,34.8 614.4,34.2 615.4,33.5 616.3,32.8 617.3,32.3 618.3,32.1 619.2,31.9 620.2,31.9 621.2,31.8 623.0,31.9 624.9,32.0 627.0,32.2 629.1,32.3 631.5,32.4 634.0,32.5 636.5,32.7 638.8,32.8 640.4,33.0 642.0,33.3 643.4,33.5 644.7,33.6 645.5,33.5 646.3,33.3 647.0,33.1 647.6,32.8 648.1,32.5 648.6,32.1 649.0,31.7 649.6,31.3 650.4,31.1 651.4,31.1 652.4,31.1 653.5,31.1 654.6,31.0 655.8,30.9 657.0,30.9 658.4,30.9 660.6,30.9 663.0,30.9 665.6,31.0 668.1,31.1 670.5,31.1 672.9,31.2 675.4,31.3 677.9,31.3 680.7,31.4 683.5,31.5 686.6,31.6 690.0,31.6 696.4,31.7 703.9,31.8 711.7,31.9 719.3,32.0 726.7,32.2 734.1,32.3 741.5,32.5 748.6,32.6 755.1,32.7 761.6,32.8 767.7,32.8 773.0,33.0 775.8,33.2 778.3,33.4 780.5,33.6 782.8,33.8 784.5,34.0 786.1,34.2 787.9,34.4 790.0,34.6 795.9,34.7 803.4,34.6 811.5,34.4 819.3,34.3 826.8,34.2 834.4,34.2 841.8,34.2 848.6,34.3 853.3,34.3 857.6,34.4 861.8,34.5 866.2,34.6 871.3,34.6 876.5,34.7 881.9,34.8 887.7,34.8 895.2,34.6 903.2,34.4 911.3,34.1 919.3,34.0 926.6,34.0 933.7,34.1 941.0,34.2 948.6,34.3 958.1,34.4 968.1,34.5 978.3,34.6 988.4,34.8 989.0,34.8" fill="none" stroke="#000" stroke-width="0.90" stroke-linejoin="round"/>
</g>
<polyline points="594.2,29.5 989.0,29.5 989.0,330.8 594.2,330.8" fill="none" stroke="#000" stroke-width="1"/>
<line x1="593.9" y1="29.5" x2="593.9" y2="330.8" stroke="#a8a8b8" stroke-width="0.8"/>
<text x="575.1" y="337.7" class="tk" text-anchor="middle">0</text>
<text x="575.1" y="277.4" class="tk" text-anchor="middle">20</text>
<text x="575.1" y="217.2" class="tk" text-anchor="middle">40</text>
<text x="575.1" y="156.9" class="tk" text-anchor="middle">60</text>
<text x="575.1" y="96.7" class="tk" text-anchor="middle">80</text>
<text x="575.1" y="36.4" class="tk" text-anchor="middle">100</text>
<text x="610.0" y="352.8" class="tk" text-anchor="middle">500</text>
<text x="707.0" y="352.8" class="tk" text-anchor="middle">1000</text>
<text x="801.0" y="352.8" class="tk" text-anchor="middle">1500</text>
<text x="895.0" y="352.8" class="tk" text-anchor="middle">2000</text>
<text x="989.0" y="352.8" class="tk" text-anchor="middle">2500</text>
<text x="792.1" y="372.0" class="xl" text-anchor="middle">Wavelength [nm]</text>
<text transform="translate(548.6,179.5) rotate(-90)" class="yl" text-anchor="middle">Total SI [%]</text>
<text transform="translate(773.4,410.3) scale(0.92,1)" class="cap" text-anchor="middle">(<tspan font-weight="bold">b</tspan>)</text>
<clipPath id="cd"><rect x="594.4" y="432.4" width="394.5" height="306.1"/></clipPath>
<g clip-path="url(#cd)">
<rect x="594.4" y="432.4" width="394.5" height="306.1" fill="#800000"/>
<polygon points="594.4,433.7 600.6,433.6 606.7,433.6 612.9,433.5 619.3,433.5 627.2,433.3 635.7,433.2 643.4,433.0 648.6,433.1 649.5,433.1 650.3,433.2 650.9,433.3 651.5,433.4 652.2,433.5 653.0,433.6 653.7,433.8 654.5,433.9 655.3,433.9 656.1,434.0 657.1,434.0 658.4,434.1 664.2,434.1 672.4,434.0 681.5,433.9 690.0,433.9 697.4,433.9 704.7,433.9 712.0,434.0 719.3,434.1 726.8,434.1 734.3,434.1 741.7,434.1 748.6,434.1 753.9,434.0 759.0,433.9 763.8,433.8 768.1,433.7 770.8,433.6 773.2,433.5 775.5,433.4 777.9,433.3 780.6,433.2 783.1,433.2 786.1,433.1 790.0,433.1 808.2,433.0 834.0,433.0 862.8,433.0 890.0,433.1 914.7,433.1 939.3,433.2 963.8,433.4 988.4,433.5 988.9,433.5 988.9,740.5 594.4,740.5" fill="#DF0000"/>
<polygon points="594.4,434.8 597.0,434.8 599.5,434.7 602.1,434.6 604.6,434.5 607.1,434.4 609.5,434.3 612.0,434.2 614.4,434.1 616.9,434.1 619.3,434.0 621.7,433.9 624.2,433.8 626.6,433.8 629.1,433.8 631.5,433.8 633.9,433.8 636.5,433.9 639.0,433.9 641.5,433.9 643.7,433.8 645.1,433.8 646.3,433.6 647.5,433.5 648.6,433.6 649.4,433.7 650.1,433.8 650.8,434.0 651.5,434.3 652.3,434.9 653.0,435.7 653.7,436.5 654.5,437.3 655.1,438.0 655.8,438.7 656.5,439.3 657.4,439.7 658.6,439.9 660.1,439.7 661.6,439.4 663.2,439.2 665.5,439.1 668.0,439.1 670.5,439.0 673.0,439.0 675.5,439.1 678.0,439.2 680.4,439.3 682.8,439.4 684.6,439.6 686.2,439.7 688.0,439.9 690.0,440.0 694.2,440.1 699.2,440.2 704.4,440.2 709.5,440.2 714.4,440.2 719.3,440.2 724.2,440.2 729.1,440.2 734.1,440.2 739.2,440.2 744.2,440.1 748.6,440.0 751.3,439.9 753.7,439.8 756.0,439.6 758.4,439.4 760.8,439.1 763.4,438.8 765.8,438.5 768.1,438.0 770.0,437.7 771.7,437.2 773.4,436.8 775.0,436.3 776.3,435.8 777.5,435.3 778.7,434.9 779.8,434.5 780.8,434.4 781.8,434.3 782.7,434.3 783.8,434.3 785.1,434.4 786.6,434.5 788.2,434.7 790.0,434.8 794.1,435.0 799.1,435.0 804.4,435.1 809.5,435.1 814.4,435.2 819.3,435.2 824.2,435.3 829.1,435.3 833.9,435.3 838.8,435.2 843.7,435.2 848.6,435.1 853.6,435.0 858.8,434.9 863.7,434.8 868.1,434.8 870.8,434.9 873.2,435.0 875.5,435.1 877.9,435.1 880.7,435.1 883.5,435.0 886.6,434.9 890.0,434.8 896.4,434.7 903.9,434.6 911.7,434.6 919.3,434.5 926.6,434.5 933.9,434.5 941.3,434.5 948.6,434.5 956.3,434.6 964.2,434.8 971.6,435.0 977.9,435.1 980.9,435.2 983.5,435.3 985.9,435.4 988.4,435.5 988.9,435.5 988.9,740.5 594.4,740.5" fill="#FF4000"/>
<polygon points="594.4,435.3 597.0,435.3 599.5,435.2 602.1,435.1 604.6,435.0 607.1,434.9 609.5,434.8 612.0,434.7 614.4,434.6 616.9,434.6 619.3,434.5 621.7,434.4 624.2,434.3 626.6,434.3 629.1,434.3 631.5,434.3 633.9,434.3 636.5,434.4 639.0,434.4 641.5,434.4 643.7,434.3 645.1,434.3 646.3,434.1 647.5,434.0 648.6,434.1 649.4,434.2 650.1,434.3 650.8,434.5 651.5,434.8 652.3,435.4 653.0,436.2 653.7,437.0 654.5,437.8 655.1,438.5 655.8,439.2 656.5,439.8 657.4,440.2 658.6,440.4 660.1,440.2 661.6,439.9 663.2,439.7 665.5,439.6 668.0,439.6 670.5,439.5 673.0,439.5 675.5,439.6 678.0,439.7 680.4,439.8 682.8,439.9 684.6,440.1 686.2,440.2 688.0,440.4 690.0,440.5 694.2,440.6 699.2,440.7 704.4,440.7 709.5,440.7 714.4,440.7 719.3,440.7 724.2,440.7 729.1,440.7 734.1,440.7 739.2,440.7 744.2,440.6 748.6,440.5 751.3,440.4 753.7,440.3 756.0,440.1 758.4,439.9 760.8,439.6 763.4,439.3 765.8,439.0 768.1,438.5 770.0,438.2 771.7,437.7 773.4,437.3 775.0,436.8 776.3,436.3 777.5,435.8 778.7,435.4 779.8,435.0 780.8,434.9 781.8,434.8 782.7,434.8 783.8,434.8 785.1,434.9 786.6,435.0 788.2,435.2 790.0,435.3 794.1,435.5 799.1,435.5 804.4,435.6 809.5,435.6 814.4,435.7 819.3,435.7 824.2,435.8 829.1,435.8 833.9,435.8 838.8,435.7 843.7,435.7 848.6,435.6 853.6,435.5 858.8,435.4 863.7,435.3 868.1,435.3 870.8,435.4 873.2,435.5 875.5,435.6 877.9,435.6 880.7,435.6 883.5,435.5 886.6,435.4 890.0,435.3 896.4,435.2 903.9,435.1 911.7,435.1 919.3,435.0 926.6,435.0 933.9,435.0 941.3,435.0 948.6,435.0 956.3,435.1 964.2,435.3 971.6,435.5 977.9,435.6 980.9,435.7 983.5,435.8 985.9,435.9 988.4,436.0 988.9,436.0 988.9,740.5 594.4,740.5" fill="#FFAF00"/>
<polygon points="594.4,471.6 595.3,471.2 596.2,470.8 597.0,470.3 597.8,469.7 598.6,468.9 599.4,467.9 600.1,466.9 600.7,465.8 601.5,464.4 602.2,462.9 602.9,461.4 603.7,459.9 604.4,458.6 605.1,457.3 605.8,456.1 606.6,455.0 607.3,454.5 608.1,454.1 608.9,453.6 609.5,453.1 610.1,452.3 610.6,451.3 611.0,450.2 611.5,449.2 612.0,448.0 612.5,446.7 612.9,445.5 613.4,444.3 613.9,443.2 614.3,442.2 614.8,441.2 615.4,440.4 616.0,439.8 616.7,439.2 617.5,438.8 618.3,438.4 619.2,438.3 620.2,438.2 621.2,438.3 622.2,438.4 623.4,438.7 624.6,439.0 625.9,439.5 627.1,439.9 628.6,440.5 630.0,441.1 631.5,441.8 633.0,442.3 634.3,442.7 635.5,443.0 636.8,443.4 637.9,443.8 638.7,444.3 639.4,444.9 640.1,445.6 640.8,446.3 641.6,447.2 642.3,448.2 643.0,449.2 643.7,450.2 644.3,450.9 644.8,451.8 645.4,452.4 645.9,452.6 646.4,452.2 646.8,451.4 647.2,450.3 647.6,449.2 648.0,447.8 648.3,446.1 648.6,444.6 649.1,443.3 649.5,442.6 650.0,442.0 650.5,441.5 651.0,441.4 651.5,441.6 652.0,442.0 652.5,442.7 653.0,443.3 653.6,444.2 654.1,445.3 654.7,446.4 655.4,447.2 656.1,447.7 656.7,448.2 657.5,448.5 658.4,448.7 660.0,448.8 662.0,448.6 664.2,448.3 666.2,448.2 667.9,448.3 669.5,448.4 671.2,448.5 673.0,448.7 675.4,449.0 677.9,449.3 680.4,449.6 682.8,450.0 684.7,450.2 686.6,450.4 688.3,450.6 690.0,450.9 691.3,451.3 692.5,451.7 693.7,452.2 694.9,452.6 696.1,453.0 697.2,453.3 698.4,453.7 699.8,453.9 702.0,454.0 704.5,453.9 707.1,453.7 709.5,453.6 711.6,453.4 713.5,453.2 715.4,453.0 717.3,452.9 719.1,453.0 720.8,453.1 722.5,453.3 724.2,453.6 725.9,453.9 727.7,454.3 729.4,454.7 731.0,455.0 732.0,455.4 732.9,455.7 733.9,456.0 734.9,456.2 736.9,456.4 739.1,456.5 741.4,456.5 743.7,456.5 746.1,456.5 748.6,456.4 751.0,456.3 753.5,456.2 755.9,456.1 758.4,456.0 760.8,455.8 763.2,455.5 765.8,455.1 768.3,454.6 770.8,454.1 773.0,453.6 774.4,453.2 775.6,452.9 776.8,452.5 777.9,452.1 778.9,451.6 779.9,451.0 780.9,450.5 781.8,450.4 782.6,450.6 783.3,451.0 784.0,451.6 784.7,452.1 785.5,452.6 786.2,453.1 786.9,453.5 787.7,453.9 788.2,454.1 788.7,454.3 789.3,454.4 790.0,454.6 792.0,454.6 794.5,454.4 797.2,454.2 799.8,454.1 802.2,454.0 804.6,454.0 807.1,453.9 809.5,453.9 812.0,453.8 814.5,453.7 816.9,453.6 819.3,453.6 821.3,453.5 823.3,453.5 825.2,453.5 827.1,453.6 828.8,453.7 830.5,453.8 832.2,454.0 833.9,454.1 836.3,454.2 838.7,454.2 841.2,454.3 843.7,454.3 846.1,454.3 848.6,454.2 851.0,454.2 853.5,454.1 856.3,453.8 859.2,453.4 861.9,453.1 864.2,453.3 865.4,453.8 866.3,454.5 867.2,455.1 868.1,455.5 869.1,455.5 870.1,455.2 871.1,455.0 872.0,455.0 872.8,455.5 873.6,456.2 874.3,457.1 875.0,458.0 875.7,459.1 876.4,460.5 877.1,461.8 877.9,462.9 878.8,463.7 879.7,464.4 880.8,464.9 881.8,465.3 882.7,465.4 883.7,465.2 884.7,465.0 885.7,464.8 886.7,464.7 887.8,464.6 888.9,464.5 890.0,464.3 891.4,463.9 892.8,463.3 894.3,462.7 895.9,462.4 897.9,462.5 900.1,462.9 902.4,463.4 904.6,463.6 907.1,463.4 909.5,463.0 912.0,462.4 914.4,461.9 916.9,461.4 919.3,460.9 921.8,460.4 924.2,459.9 926.4,459.5 928.7,459.2 930.9,458.9 933.0,458.8 934.5,458.8 935.9,458.9 937.3,459.1 938.8,459.4 941.1,460.0 943.6,460.8 946.1,461.6 948.6,462.4 951.0,463.0 953.5,463.6 955.9,464.2 958.4,464.8 960.8,465.3 963.2,465.8 965.7,466.2 968.1,466.8 970.7,467.5 973.2,468.2 975.7,469.0 977.9,469.7 979.2,470.1 980.4,470.5 981.6,470.9 982.8,471.2 984.2,471.3 985.6,471.3 987.0,471.2 988.4,471.2 988.9,471.2 988.9,740.5 594.4,740.5" fill="#EFFF10"/>
<polygon points="594.4,471.9 595.3,471.5 596.2,471.1 597.0,470.6 597.8,470.0 598.6,469.2 599.4,468.2 600.1,467.2 600.7,466.1 601.5,464.7 602.2,463.2 602.9,461.7 603.7,460.2 604.4,458.9 605.1,457.6 605.8,456.4 606.6,455.3 607.3,454.8 608.1,454.4 608.9,453.9 609.5,453.4 610.1,452.6 610.6,451.6 611.0,450.5 611.5,449.5 612.0,448.3 612.5,447.0 612.9,445.8 613.4,444.6 613.9,443.5 614.3,442.5 614.8,441.5 615.4,440.7 616.0,440.1 616.7,439.5 617.5,439.1 618.3,438.7 619.2,438.6 620.2,438.5 621.2,438.6 622.2,438.7 623.4,439.0 624.6,439.3 625.9,439.8 627.1,440.2 628.6,440.8 630.0,441.4 631.5,442.1 633.0,442.6 634.3,443.0 635.5,443.3 636.8,443.7 637.9,444.1 638.7,444.6 639.4,445.2 640.1,445.9 640.8,446.6 641.6,447.5 642.3,448.5 643.0,449.5 643.7,450.5 644.3,451.2 644.8,452.1 645.4,452.7 645.9,452.9 646.4,452.5 646.8,451.7 647.2,450.6 647.6,449.5 648.0,448.1 648.3,446.4 648.6,444.9 649.1,443.6 649.5,442.9 650.0,442.3 650.5,441.8 651.0,441.7 651.5,441.9 652.0,442.3 652.5,443.0 653.0,443.6 653.6,444.5 654.1,445.6 654.7,446.7 655.4,447.5 656.1,448.0 656.7,448.5 657.5,448.8 658.4,449.0 660.0,449.1 662.0,448.9 664.2,448.6 666.2,448.5 667.9,448.6 669.5,448.7 671.2,448.8 673.0,449.0 675.4,449.3 677.9,449.6 680.4,449.9 682.8,450.3 684.7,450.5 686.6,450.7 688.3,450.9 690.0,451.2 691.3,451.6 692.5,452.0 693.7,452.5 694.9,452.9 696.1,453.3 697.2,453.6 698.4,454.0 699.8,454.2 702.0,454.3 704.5,454.2 707.1,454.0 709.5,453.9 711.6,453.7 713.5,453.5 715.4,453.3 717.3,453.2 719.1,453.3 720.8,453.4 722.5,453.6 724.2,453.9 725.9,454.2 727.7,454.6 729.4,455.0 731.0,455.3 732.0,455.7 732.9,456.0 733.9,456.3 734.9,456.5 736.9,456.7 739.1,456.8 741.4,456.8 743.7,456.8 746.1,456.8 748.6,456.7 751.0,456.6 753.5,456.5 755.9,456.4 758.4,456.3 760.8,456.1 763.2,455.8 765.8,455.4 768.3,454.9 770.8,454.4 773.0,453.9 774.4,453.5 775.6,453.2 776.8,452.8 777.9,452.4 778.9,451.9 779.9,451.3 780.9,450.8 781.8,450.7 782.6,450.9 783.3,451.3 784.0,451.9 784.7,452.4 785.5,452.9 786.2,453.4 786.9,453.8 787.7,454.2 788.2,454.4 788.7,454.6 789.3,454.7 790.0,454.9 792.0,454.9 794.5,454.7 797.2,454.5 799.8,454.4 802.2,454.3 804.6,454.3 807.1,454.2 809.5,454.2 812.0,454.1 814.5,454.0 816.9,453.9 819.3,453.9 821.3,453.8 823.3,453.8 825.2,453.8 827.1,453.9 828.8,454.0 830.5,454.1 832.2,454.3 833.9,454.4 836.3,454.5 838.7,454.5 841.2,454.6 843.7,454.6 846.1,454.6 848.6,454.5 851.0,454.5 853.5,454.4 856.3,454.1 859.2,453.7 861.9,453.4 864.2,453.6 865.4,454.1 866.3,454.8 867.2,455.4 868.1,455.8 869.1,455.8 870.1,455.5 871.1,455.3 872.0,455.3 872.8,455.8 873.6,456.5 874.3,457.4 875.0,458.3 875.7,459.4 876.4,460.8 877.1,462.1 877.9,463.2 878.8,464.0 879.7,464.7 880.8,465.2 881.8,465.6 882.7,465.7 883.7,465.5 884.7,465.3 885.7,465.1 886.7,465.0 887.8,464.9 888.9,464.8 890.0,464.6 891.4,464.2 892.8,463.6 894.3,463.0 895.9,462.7 897.9,462.8 900.1,463.2 902.4,463.7 904.6,463.9 907.1,463.7 909.5,463.3 912.0,462.7 914.4,462.2 916.9,461.7 919.3,461.2 921.8,460.7 924.2,460.2 926.4,459.8 928.7,459.5 930.9,459.2 933.0,459.1 934.5,459.1 935.9,459.2 937.3,459.4 938.8,459.7 941.1,460.3 943.6,461.1 946.1,461.9 948.6,462.7 951.0,463.3 953.5,463.9 955.9,464.5 958.4,465.1 960.8,465.6 963.2,466.1 965.7,466.5 968.1,467.1 970.7,467.8 973.2,468.5 975.7,469.3 977.9,470.0 979.2,470.4 980.4,470.8 981.6,471.2 982.8,471.5 984.2,471.6 985.6,471.6 987.0,471.5 988.4,471.5 988.9,471.5 988.9,740.5 594.4,740.5" fill="#8FFF70"/>
<polygon points="594.4,487.6 595.8,488.9 597.1,490.3 598.5,491.5 599.8,492.0 600.8,491.6 601.8,490.7 602.7,489.6 603.7,488.5 604.7,487.4 605.7,486.1 606.6,484.8 607.6,483.7 608.3,483.0 609.1,482.5 609.8,481.9 610.5,481.2 611.3,479.8 612.0,478.0 612.7,476.2 613.4,474.9 613.9,474.3 614.4,473.8 614.9,473.5 615.4,473.4 616.1,474.0 616.8,475.2 617.5,476.6 618.3,477.8 619.2,478.8 620.2,479.7 621.2,480.4 622.2,480.7 623.2,480.4 624.2,479.7 625.1,478.7 626.1,477.8 627.3,476.8 628.5,475.8 629.7,474.8 631.0,473.9 632.4,473.2 633.9,472.6 635.4,472.2 636.9,471.9 638.2,471.9 639.4,471.9 640.7,472.1 641.8,472.4 642.6,472.8 643.3,473.3 644.0,473.9 644.7,474.4 645.2,474.8 645.7,475.3 646.2,475.7 646.6,475.9 647.2,475.4 647.7,474.6 648.2,473.7 648.6,473.4 649.0,473.8 649.4,474.6 649.8,475.6 650.1,476.8 650.5,479.6 650.7,483.1 650.8,487.1 651.0,491.5 651.6,499.6 652.2,509.2 652.9,518.9 653.5,527.5 653.9,532.9 654.2,537.8 654.6,542.5 654.9,547.1 655.3,551.1 655.6,555.0 656.0,558.7 656.4,561.7 656.6,563.3 656.9,564.9 657.1,566.1 657.4,566.6 657.8,565.5 658.2,562.9 658.7,559.6 659.3,556.8 660.0,554.8 660.7,552.9 661.4,551.0 662.3,549.0 663.3,546.2 664.5,543.0 665.7,540.2 667.1,538.3 668.0,537.7 669.0,537.4 670.0,537.3 671.1,537.3 672.6,537.4 674.2,537.8 676.0,538.3 677.9,538.8 680.9,539.4 684.3,540.2 687.5,541.1 690.0,542.2 691.0,542.8 691.7,543.5 692.3,544.3 692.9,545.1 693.7,546.4 694.5,547.8 695.2,549.3 695.9,551.0 696.6,553.2 697.2,555.7 697.9,558.0 698.8,559.8 699.4,560.5 700.2,561.1 700.9,561.5 701.7,561.7 702.7,561.6 703.6,561.1 704.6,560.5 705.6,559.8 706.9,558.5 708.1,557.0 709.3,555.4 710.5,553.9 711.7,552.6 712.9,551.2 714.1,550.0 715.4,549.0 716.6,548.3 717.8,547.8 719.0,547.4 720.3,547.3 721.5,547.4 722.8,547.8 724.0,548.4 725.2,549.0 726.2,549.8 727.3,550.7 728.2,551.8 729.1,552.9 729.9,554.3 730.7,555.7 731.4,557.2 732.0,558.8 732.5,560.6 732.9,562.5 733.3,564.2 733.9,565.6 734.6,566.3 735.2,566.8 736.0,567.1 736.9,567.4 738.2,567.5 739.7,567.3 741.2,566.9 742.7,566.6 744.2,566.2 745.7,565.8 747.2,565.3 748.6,564.6 750.1,563.8 751.5,562.7 753.0,561.7 754.5,560.7 755.9,559.9 757.4,559.1 758.9,558.4 760.3,557.8 761.6,557.5 762.9,557.4 764.1,557.2 765.2,556.8 766.1,556.1 766.8,555.2 767.5,554.1 768.1,552.9 768.9,551.2 769.7,549.2 770.3,547.1 771.1,545.1 771.8,543.1 772.6,541.1 773.3,539.1 774.0,537.3 774.5,536.0 775.0,534.8 775.5,533.7 775.9,532.4 776.4,530.8 776.7,529.2 777.1,527.5 777.4,525.6 777.8,522.5 778.2,519.1 778.5,515.7 778.9,512.9 779.1,511.6 779.4,510.5 779.6,509.4 779.8,508.0 780.3,503.4 780.7,497.5 781.2,491.4 781.8,486.6 782.2,484.5 782.5,482.7 783.0,481.1 783.8,479.8 784.6,478.9 785.6,478.3 786.7,477.8 787.7,477.3 788.3,477.0 788.8,476.7 789.4,476.5 790.0,476.3 790.9,476.3 791.9,476.3 792.9,476.5 793.9,476.8 795.4,477.7 796.9,478.9 798.3,480.4 799.8,481.7 801.0,482.9 802.3,484.1 803.5,485.3 804.6,486.6 805.9,488.0 807.1,489.5 808.3,491.0 809.5,492.5 810.8,493.9 812.0,495.4 813.2,496.8 814.4,498.3 815.6,499.8 816.8,501.4 818.0,502.9 819.3,504.2 820.5,505.1 821.7,505.8 823.0,506.5 824.2,507.1 825.3,507.7 826.4,508.3 827.5,508.8 828.6,509.0 829.5,508.8 830.3,508.3 831.1,507.8 832.0,507.1 833.2,506.0 834.4,504.8 835.6,503.4 836.9,502.2 838.0,501.3 839.2,500.4 840.4,499.5 841.8,498.8 843.3,498.0 845.0,497.4 846.7,496.8 848.6,496.4 850.9,496.2 853.4,496.2 856.0,496.3 858.4,496.2 860.5,495.9 862.6,495.6 864.6,495.1 866.2,494.4 867.1,493.6 867.9,492.7 868.5,491.7 869.1,490.5 869.8,488.4 870.2,485.8 870.6,483.2 871.1,480.7 871.5,478.8 872.0,476.8 872.5,475.1 873.0,473.9 873.3,473.5 873.6,473.2 873.9,473.0 874.2,472.9 874.5,473.1 874.8,473.6 875.1,474.2 875.4,474.9 875.8,475.8 876.1,476.9 876.4,477.9 876.9,478.8 877.4,479.3 878.0,479.8 878.7,480.1 879.4,480.2 880.1,480.1 881.0,479.7 881.9,479.2 882.8,478.8 884.0,478.5 885.3,478.2 886.5,478.0 887.7,477.8 888.3,477.7 888.8,477.6 889.4,477.5 890.0,477.3 891.3,477.0 892.7,476.6 894.2,476.2 895.9,476.0 897.9,476.2 900.1,476.6 902.4,477.0 904.6,477.3 907.1,477.4 909.5,477.3 912.0,477.1 914.4,477.0 916.9,477.0 919.3,476.9 921.7,476.8 924.2,476.8 926.6,476.9 929.1,477.1 931.5,477.3 933.9,477.3 936.4,477.1 938.8,476.7 941.3,476.3 943.7,476.0 946.2,476.1 948.6,476.3 951.0,476.5 953.5,476.8 955.9,477.1 958.4,477.5 960.8,477.9 963.2,478.3 965.7,478.7 968.2,479.2 970.7,479.7 973.0,480.2 975.0,480.9 977.0,481.6 978.9,482.2 980.8,482.7 982.7,482.9 984.6,483.0 986.5,483.1 988.4,483.2 988.9,483.2 988.9,740.5 594.4,740.5" fill="#20FFDF"/>
<polygon points="594.4,719.6 595.0,716.9 595.6,714.2 596.3,711.5 596.8,708.8 597.4,706.2 597.9,703.6 598.3,700.9 598.8,698.1 599.3,694.7 599.8,691.1 600.3,687.5 600.7,683.9 601.3,680.2 601.8,676.5 602.3,672.8 602.7,669.3 603.0,666.4 603.3,663.6 603.6,660.9 603.8,658.1 603.9,655.2 603.9,652.4 604.0,649.4 604.1,646.4 604.2,642.8 604.5,639.0 604.7,635.2 605.0,631.8 605.4,629.2 605.7,626.7 606.1,624.4 606.5,622.0 606.9,619.5 607.2,617.1 607.6,614.7 608.0,612.2 608.3,609.8 608.7,607.5 609.1,605.0 609.4,602.5 609.8,599.1 610.0,595.5 610.2,591.7 610.5,587.8 610.9,582.8 611.2,577.4 611.6,571.9 612.0,566.4 612.3,560.4 612.7,554.2 613.1,548.1 613.4,542.0 613.8,536.0 614.1,530.0 614.5,524.3 614.9,519.5 615.1,517.3 615.4,515.3 615.7,513.5 615.9,511.9 616.0,510.9 616.1,509.9 616.2,509.0 616.4,508.0 616.6,506.5 616.9,504.8 617.3,503.3 617.8,502.2 618.3,501.8 618.9,501.5 619.6,501.3 620.3,501.2 621.2,501.5 622.2,501.9 623.2,502.5 624.2,503.2 625.0,503.9 625.8,504.6 626.5,505.4 627.1,506.1 627.5,506.6 627.8,507.0 628.2,507.4 628.6,508.0 629.5,509.3 630.7,511.0 631.9,512.9 633.0,514.8 634.1,517.2 635.1,519.7 636.0,522.3 636.9,524.6 637.5,526.2 638.0,527.6 638.5,529.0 638.8,530.5 639.0,531.8 639.1,533.2 639.2,534.6 639.3,536.1 639.6,538.6 640.0,541.3 640.4,544.1 640.8,546.9 641.2,549.7 641.5,552.6 641.9,555.5 642.2,558.6 642.6,562.4 643.0,566.3 643.4,570.3 643.7,574.2 644.0,577.7 644.2,581.2 644.4,584.6 644.7,587.8 645.0,590.7 645.2,593.7 645.6,596.1 645.9,597.1 646.2,596.2 646.5,593.9 646.8,590.9 647.1,587.8 647.5,581.3 647.7,573.3 647.9,564.8 648.1,556.6 648.3,549.0 648.5,541.2 648.8,533.9 649.1,527.5 649.2,523.8 649.4,520.2 649.6,517.3 650.1,515.8 650.2,515.7 650.4,515.7 650.6,515.7 650.7,515.8 651.2,517.3 651.3,520.2 651.4,523.9 651.5,527.5 651.9,533.1 652.2,539.4 652.6,545.8 653.0,551.9 653.3,557.0 653.7,562.0 654.1,566.8 654.5,571.5 654.8,575.8 655.0,580.2 655.4,584.3 655.9,588.0 656.4,590.7 657.0,593.4 657.7,595.4 658.4,596.3 659.1,595.5 659.9,593.7 660.6,591.6 661.3,590.0 661.5,589.4 661.7,589.0 662.0,588.5 662.3,588.0 663.2,586.3 664.4,584.1 665.8,582.0 667.1,580.3 668.1,579.4 669.0,578.8 670.0,578.2 671.1,577.8 672.6,577.5 674.3,577.5 676.0,577.5 677.9,577.5 680.4,577.4 683.1,577.2 685.7,577.2 687.7,577.3 688.4,577.5 688.9,577.8 689.4,578.0 690.0,578.3 690.9,578.7 692.0,579.1 693.0,579.6 693.9,580.3 694.7,581.3 695.4,582.5 696.1,583.8 696.8,585.1 697.7,586.7 698.6,588.4 699.6,589.9 700.7,590.7 702.3,590.7 704.1,590.1 705.9,589.1 707.6,588.0 708.9,586.7 710.0,585.2 711.2,583.6 712.5,582.2 714.0,581.0 715.8,579.9 717.6,579.0 719.3,578.5 720.8,578.5 722.3,578.7 723.8,579.2 725.2,579.8 726.5,580.4 727.7,581.1 728.9,582.0 730.0,583.2 731.4,585.8 732.5,589.3 733.6,592.6 734.9,594.8 735.8,595.4 736.7,595.6 737.7,595.7 738.8,595.8 740.6,595.9 742.7,595.9 744.7,595.7 746.6,595.3 748.2,594.6 749.6,593.7 751.1,592.8 752.5,591.9 754.0,591.2 755.4,590.5 756.9,589.9 758.4,589.5 759.6,589.3 760.9,589.2 762.1,589.3 763.2,589.5 764.3,589.8 765.2,590.3 766.2,590.8 767.1,590.9 768.1,590.7 769.1,590.3 770.1,589.6 771.1,589.0 772.1,588.2 773.1,587.2 774.1,586.2 775.0,585.1 775.8,584.0 776.5,582.8 777.2,581.6 777.9,580.3 778.6,578.6 779.2,576.7 779.7,575.1 780.3,574.4 780.8,574.8 781.4,575.7 781.9,577.0 782.3,578.3 782.8,580.4 783.1,582.7 783.4,585.3 783.8,588.0 784.4,591.5 785.1,595.3 785.9,599.1 786.7,602.6 787.4,605.6 788.2,608.5 789.0,611.2 790.0,613.4 790.7,614.6 791.4,615.7 792.1,616.5 792.9,616.8 794.0,616.4 795.3,615.2 796.6,613.8 797.8,612.4 799.0,611.2 800.3,610.0 801.5,608.8 802.7,607.5 803.9,606.3 805.2,605.0 806.4,603.8 807.6,602.6 808.5,601.8 809.5,601.1 810.4,600.4 811.5,599.7 812.9,599.0 814.4,598.5 815.9,597.9 817.3,597.3 818.6,596.7 819.8,596.0 821.0,595.4 822.2,594.8 823.4,594.4 824.6,593.9 825.8,593.6 827.1,593.4 828.5,593.3 830.0,593.4 831.5,593.5 833.0,593.9 834.2,594.3 835.5,594.9 836.7,595.6 837.9,596.3 839.1,597.0 840.3,597.7 841.5,598.5 842.7,599.2 844.2,600.2 845.6,601.2 847.1,602.1 848.6,602.6 849.8,602.8 851.0,602.6 852.3,602.4 853.5,602.2 854.7,602.0 856.0,601.8 857.2,601.5 858.4,601.2 859.4,600.7 860.4,600.2 861.4,599.7 862.3,599.2 862.9,598.9 863.6,598.5 864.2,598.3 864.7,598.3 865.3,598.6 865.8,599.2 866.2,599.9 866.7,600.7 867.1,601.8 867.4,603.1 867.7,604.4 868.1,605.6 868.7,606.3 869.4,607.0 870.0,607.6 870.6,608.5 871.1,610.4 871.5,612.7 871.8,615.1 872.0,617.3 872.2,618.8 872.3,620.1 872.4,621.5 872.5,623.2 872.7,626.2 872.9,629.6 873.0,633.2 873.2,636.8 873.4,640.5 873.5,644.4 873.7,648.1 874.0,651.5 874.3,653.7 874.7,655.6 875.1,657.6 875.4,660.0 876.0,666.7 876.6,675.1 877.2,683.3 877.9,689.3 878.2,691.0 878.5,692.6 878.9,693.7 879.4,694.2 880.3,693.5 881.4,691.7 882.6,689.5 883.8,687.3 884.8,685.2 885.8,683.0 886.8,680.7 887.7,678.6 888.3,676.9 888.8,675.3 889.4,673.7 890.0,672.2 890.6,670.8 891.3,669.3 892.1,668.0 892.9,666.8 893.8,665.8 894.9,664.8 895.9,664.1 896.8,663.9 897.6,664.4 898.4,665.4 899.1,666.6 899.8,667.8 900.5,669.3 901.2,670.9 901.9,672.4 902.7,673.7 903.4,674.4 904.1,675.0 904.9,675.5 905.6,675.6 906.6,675.3 907.5,674.6 908.5,673.6 909.5,672.7 910.7,671.6 911.9,670.4 913.1,669.2 914.4,667.8 916.1,666.0 917.8,664.1 919.5,662.2 921.3,660.3 923.1,658.4 925.0,656.5 926.7,654.7 928.1,652.9 928.7,651.8 929.1,650.7 929.5,649.6 930.0,648.5 931.1,647.3 932.4,645.9 933.7,644.9 934.9,644.4 935.7,644.6 936.5,645.1 937.2,645.8 937.9,646.6 938.7,648.0 939.4,649.7 940.1,651.6 940.8,653.4 941.5,655.2 942.3,656.9 943.0,658.7 943.7,660.3 944.2,661.5 944.6,662.5 945.1,663.7 945.7,664.9 946.7,666.9 947.9,669.2 949.2,671.5 950.5,673.7 951.9,675.5 953.3,677.2 954.9,678.9 956.4,680.5 958.1,682.1 959.8,683.7 961.5,685.3 963.2,686.9 965.0,688.5 966.8,690.1 968.5,691.6 970.1,693.2 971.2,694.4 972.1,695.6 973.1,696.8 974.0,698.1 975.0,699.5 976.0,700.9 976.9,702.4 977.9,703.9 978.9,705.6 979.8,707.4 980.8,709.1 981.8,710.8 982.7,712.3 983.7,713.8 984.7,715.1 985.7,716.2 986.4,716.6 987.1,717.0 987.8,717.3 988.4,717.6 988.9,717.6 988.9,740.5 594.4,740.5" fill="#00BFFF"/>
<polygon points="594.4,723.5 595.0,720.3 595.6,717.1 596.3,713.9 596.8,710.8 597.4,707.9 597.8,705.0 598.3,702.1 598.8,699.1 599.3,695.5 599.8,691.8 600.3,688.1 600.7,684.4 601.2,680.7 601.8,677.0 602.3,673.3 602.7,669.8 603.0,666.8 603.4,664.0 603.6,661.2 603.9,658.3 604.0,655.4 604.0,652.5 604.1,649.6 604.2,646.6 604.3,643.0 604.6,639.2 604.8,635.4 605.1,631.9 605.5,629.4 605.8,626.9 606.2,624.6 606.6,622.2 607.0,619.7 607.3,617.3 607.7,614.9 608.1,612.4 608.4,610.0 608.8,607.7 609.2,605.2 609.5,602.6 609.8,599.3 610.1,595.7 610.3,591.9 610.5,588.0 610.9,582.9 611.2,577.6 611.6,572.1 612.0,566.6 612.3,560.6 612.7,554.4 613.1,548.2 613.4,542.2 613.8,536.2 614.1,530.2 614.4,524.5 614.9,519.7 615.2,517.3 615.5,515.2 615.9,513.4 616.4,511.9 616.7,511.2 617.0,510.7 617.4,510.2 617.8,510.0 618.6,509.9 619.4,510.2 620.3,510.6 621.2,510.9 622.2,511.1 623.2,511.3 624.2,511.5 625.2,511.9 626.2,512.6 627.2,513.6 628.1,514.7 629.1,515.8 630.1,517.1 631.1,518.6 632.0,520.1 633.0,521.7 634.0,523.5 635.0,525.5 636.0,527.5 636.9,529.5 637.6,531.2 638.2,532.8 638.8,534.5 639.3,536.3 639.8,538.8 640.2,541.5 640.5,544.3 640.8,547.1 641.2,549.9 641.5,552.8 641.9,555.7 642.2,558.8 642.6,562.6 643.0,566.5 643.4,570.5 643.7,574.4 644.0,577.9 644.2,581.4 644.4,584.8 644.7,588.0 645.0,590.9 645.2,593.9 645.6,596.3 645.9,597.3 646.2,596.4 646.5,594.1 646.8,591.1 647.1,588.0 647.5,581.4 647.7,573.3 647.9,564.8 648.1,556.8 648.3,550.2 648.5,543.6 648.8,537.5 649.1,532.4 649.3,529.8 649.4,527.4 649.7,525.5 650.1,524.6 650.2,524.6 650.4,524.7 650.6,524.9 650.7,525.1 651.1,526.9 651.3,530.0 651.4,533.7 651.5,537.3 651.9,541.9 652.2,546.8 652.6,551.8 653.0,556.8 653.4,561.8 653.7,566.9 654.1,571.8 654.5,576.4 654.7,579.4 655.0,582.2 655.3,584.9 655.4,588.0 655.4,592.5 655.2,597.4 655.0,602.5 654.9,607.5 655.0,612.4 655.1,617.3 655.3,622.2 655.4,627.1 655.6,632.0 655.7,637.0 655.8,641.9 655.9,646.6 656.0,650.4 656.1,653.9 656.2,657.5 656.3,661.2 656.5,665.7 656.8,670.2 657.1,674.9 657.4,679.5 657.6,684.4 657.9,689.4 658.1,694.4 658.4,699.1 658.6,702.9 658.8,706.7 659.0,710.3 659.3,713.7 659.7,716.6 660.1,719.5 660.6,722.2 661.3,724.5 661.9,725.8 662.6,727.0 663.4,728.0 664.2,728.8 665.1,729.4 666.0,729.9 667.0,730.2 668.1,730.5 670.2,730.8 672.7,730.9 675.3,730.9 677.9,730.8 681.0,730.8 684.2,730.7 687.3,730.5 690.0,730.1 691.4,729.8 692.7,729.5 693.9,729.0 694.9,728.4 695.8,727.3 696.4,726.0 697.1,724.6 697.8,723.5 698.5,722.8 699.2,722.1 699.9,721.6 700.7,721.3 701.7,721.2 702.6,721.4 703.6,721.6 704.6,722.0 705.9,722.7 707.1,723.6 708.3,724.5 709.5,725.4 710.7,726.2 711.9,727.0 713.2,727.8 714.4,728.4 715.6,728.8 716.8,729.0 718.1,729.2 719.3,729.3 720.5,729.3 721.7,729.2 723.0,729.1 724.2,728.8 725.5,728.6 726.7,728.3 728.0,728.0 729.1,727.4 730.0,726.6 730.7,725.8 731.4,724.7 732.0,723.5 732.7,720.8 733.2,717.6 733.6,714.1 733.9,710.8 734.3,707.6 734.5,704.4 734.8,701.5 735.4,699.1 735.9,698.0 736.4,697.1 737.1,696.3 737.9,695.6 739.1,694.8 740.6,694.1 742.2,693.5 743.7,693.4 745.0,693.7 746.2,694.4 747.4,695.2 748.6,696.1 749.9,697.3 751.1,698.6 752.3,699.9 753.5,701.0 754.5,701.7 755.4,702.4 756.4,702.9 757.4,703.0 758.7,702.4 760.0,701.2 761.2,699.7 762.3,698.1 763.2,696.1 764.0,693.9 764.6,691.6 765.2,689.3 765.8,686.9 766.3,684.5 766.7,682.1 767.1,679.5 767.7,676.6 768.2,673.5 768.7,670.5 769.1,667.8 769.4,666.1 769.6,664.5 769.8,663.0 770.1,661.2 770.7,658.4 771.4,655.2 772.2,651.9 773.0,648.5 773.8,645.2 774.5,641.9 775.3,638.4 775.9,634.9 776.5,630.7 777.0,626.3 777.4,621.8 777.9,617.3 778.4,612.3 778.8,607.0 779.3,602.0 779.8,597.8 780.3,595.2 780.7,592.7 781.2,590.8 781.8,590.0 782.3,590.3 782.8,591.2 783.3,592.5 783.8,593.9 784.6,597.5 785.3,602.4 785.9,607.6 786.7,612.4 787.3,616.9 787.9,621.5 788.7,625.5 790.0,628.0 790.9,628.5 791.8,628.5 792.8,628.5 793.9,628.5 795.3,628.8 796.8,629.2 798.3,629.6 799.8,630.0 801.1,630.4 802.3,630.8 803.5,631.3 804.6,631.9 805.7,632.7 806.7,633.7 807.6,634.7 808.6,635.9 809.6,637.4 810.5,639.2 811.4,641.0 812.5,642.7 813.6,644.3 814.8,645.9 816.0,647.4 817.3,648.5 818.5,649.2 819.7,649.7 821.0,650.1 822.2,650.5 823.5,650.9 824.7,651.3 826.0,651.8 827.1,652.5 828.2,653.4 829.2,654.6 830.1,656.0 831.0,657.3 832.1,659.1 833.2,661.0 834.1,662.8 834.9,664.2 835.2,664.6 835.4,665.0 835.6,665.4 835.9,665.9 836.9,667.7 838.4,670.1 839.9,672.2 841.3,673.2 842.2,672.9 843.0,672.1 843.9,671.0 844.7,669.8 845.7,667.9 846.7,665.7 847.6,663.4 848.6,661.2 849.5,659.4 850.4,657.6 851.4,655.9 852.5,654.4 853.8,653.3 855.4,652.4 856.9,651.5 858.4,650.5 859.7,649.4 860.9,648.3 862.1,647.0 863.2,645.6 864.4,643.6 865.4,641.4 866.3,639.1 867.1,636.8 867.9,634.8 868.5,632.8 869.1,630.9 869.6,629.0 870.0,627.2 870.3,625.4 870.6,623.8 871.1,623.2 871.4,623.3 871.8,623.7 872.2,624.3 872.5,625.1 873.1,628.1 873.3,632.4 873.3,637.2 873.5,641.7 873.7,645.7 874.0,649.7 874.2,653.4 874.5,656.4 874.6,657.4 874.7,658.1 874.8,658.9 875.0,660.0 875.3,664.7 875.8,671.3 876.3,678.3 876.9,684.4 877.4,688.7 877.9,693.1 878.5,696.6 879.4,698.1 880.3,697.2 881.4,694.8 882.6,691.8 883.8,689.3 884.7,687.5 885.8,685.7 886.7,684.0 887.7,682.5 888.3,681.5 888.8,680.7 889.4,679.9 890.0,679.0 890.7,678.0 891.4,676.8 892.2,675.7 892.9,674.6 893.6,673.7 894.4,672.7 895.1,672.0 895.9,671.7 896.6,672.1 897.4,673.1 898.1,674.3 898.8,675.6 899.6,677.4 900.3,679.4 901.0,681.5 901.7,683.4 902.4,685.3 903.0,687.2 903.7,688.9 904.6,690.3 905.7,691.0 906.8,691.5 908.1,691.9 909.5,692.2 911.8,692.7 914.3,693.1 916.9,693.5 919.3,693.7 920.9,693.8 922.4,693.9 923.8,693.9 925.2,693.7 926.2,693.3 927.2,692.7 928.1,692.0 929.1,691.2 930.1,690.2 931.0,689.0 932.0,687.8 933.0,686.9 933.7,686.3 934.4,685.9 935.2,685.6 935.9,685.6 936.7,685.9 937.4,686.6 938.2,687.4 938.8,688.3 939.6,689.8 940.3,691.5 941.0,693.4 941.8,695.2 942.6,696.9 943.6,698.7 944.6,700.4 945.7,702.0 946.8,703.3 948.1,704.6 949.3,705.6 950.5,706.4 951.3,706.7 952.0,706.8 952.7,706.9 953.5,707.1 954.6,707.3 955.8,707.5 957.0,707.7 958.4,707.9 960.0,707.8 961.7,707.7 963.5,707.6 965.2,707.7 966.7,707.9 968.3,708.2 969.7,708.7 971.1,709.3 972.1,710.0 973.1,710.9 974.0,711.8 975.0,712.7 976.2,713.9 977.4,715.1 978.6,716.4 979.8,717.6 981.1,718.8 982.3,720.0 983.5,721.1 984.7,722.0 985.7,722.6 986.6,723.1 987.5,723.5 988.4,724.0 988.9,724.0 988.9,740.5 594.4,740.5" fill="#0050FF"/>
<polygon points="594.4,731.8 595.7,731.3 597.1,730.8 598.4,730.3 599.8,729.8 601.0,729.4 602.2,729.0 603.4,728.7 604.6,728.4 605.9,728.1 607.1,727.9 608.3,727.7 609.5,727.4 610.8,727.0 612.0,726.5 613.2,726.0 614.4,725.4 615.6,724.8 616.8,724.1 618.1,723.5 619.3,723.0 620.5,722.7 621.7,722.6 623.0,722.6 624.2,722.7 625.4,722.9 626.6,723.2 627.8,723.6 629.1,724.0 630.3,724.2 631.5,724.5 632.7,724.7 633.9,724.9 635.2,725.2 636.4,725.5 637.6,725.8 638.8,726.2 640.1,726.7 641.4,727.3 642.6,727.8 643.7,728.4 644.4,728.8 645.0,729.2 645.6,729.5 646.2,729.5 646.8,729.1 647.4,728.3 648.0,727.3 648.6,726.4 649.3,725.3 650.0,724.0 650.8,722.8 651.5,722.0 652.0,721.7 652.5,721.5 653.0,721.3 653.5,721.3 654.0,721.5 654.5,721.7 654.9,722.1 655.4,722.5 656.2,723.5 656.9,724.9 657.6,726.2 658.4,727.4 658.8,728.0 659.3,728.5 659.7,728.9 660.3,729.3 661.2,729.7 662.2,730.0 663.2,730.2 664.2,730.3 665.2,730.4 666.1,730.5 667.0,730.5 668.1,730.5 670.2,730.6 672.7,730.7 675.3,730.8 677.9,730.8 681.0,730.8 684.2,730.7 687.3,730.5 690.0,730.1 691.4,729.8 692.7,729.5 693.9,729.0 694.9,728.4 695.8,727.3 696.4,726.0 697.1,724.6 697.8,723.5 698.5,722.8 699.2,722.1 699.9,721.6 700.7,721.3 701.7,721.2 702.6,721.4 703.6,721.6 704.6,722.0 705.9,722.7 707.1,723.6 708.3,724.5 709.5,725.4 710.7,726.2 711.9,727.0 713.2,727.8 714.4,728.4 715.6,728.8 716.8,729.0 718.1,729.2 719.3,729.3 720.5,729.3 721.7,729.2 723.0,729.1 724.2,728.8 725.5,728.6 726.7,728.3 728.0,728.0 729.1,727.4 730.0,726.6 730.7,725.8 731.4,724.7 732.0,723.5 732.7,720.8 733.2,717.6 733.6,714.1 733.9,710.8 734.3,707.6 734.5,704.4 734.8,701.5 735.4,699.1 735.9,698.0 736.4,697.1 737.1,696.3 737.9,695.6 739.1,694.8 740.6,694.1 742.2,693.5 743.7,693.4 745.0,693.7 746.2,694.4 747.4,695.2 748.6,696.1 749.9,697.3 751.1,698.6 752.3,699.9 753.5,701.0 754.5,701.7 755.4,702.4 756.4,702.9 757.4,703.0 758.7,702.4 760.0,701.2 761.2,699.7 762.3,698.1 763.2,696.1 764.0,693.9 764.6,691.6 765.2,689.3 765.8,686.9 766.3,684.5 766.7,682.1 767.1,679.5 767.7,676.6 768.2,673.5 768.7,670.5 769.1,667.8 769.4,666.1 769.6,664.5 769.8,663.0 770.1,661.2 770.7,658.4 771.4,655.2 772.2,651.9 773.0,648.5 773.8,645.2 774.5,641.9 775.3,638.4 775.9,634.9 776.5,630.7 777.0,626.3 777.4,621.8 777.9,617.3 778.4,612.3 778.8,607.0 779.3,602.0 779.8,597.8 780.3,595.2 780.7,592.7 781.2,590.8 781.8,590.0 782.3,590.3 782.8,591.2 783.3,592.5 783.8,593.9 784.6,597.5 785.3,602.4 785.9,607.6 786.7,612.4 787.3,616.9 787.9,621.5 788.7,625.5 790.0,628.0 790.9,628.5 791.8,628.5 792.8,628.5 793.9,628.5 795.3,628.8 796.8,629.2 798.3,629.6 799.8,630.0 801.1,630.4 802.3,630.8 803.5,631.3 804.6,631.9 805.7,632.7 806.7,633.7 807.6,634.7 808.6,635.9 809.6,637.4 810.5,639.2 811.4,641.0 812.5,642.7 813.6,644.3 814.8,645.9 816.0,647.4 817.3,648.5 818.5,649.2 819.7,649.7 821.0,650.1 822.2,650.5 823.5,650.9 824.7,651.3 826.0,651.8 827.1,652.5 828.2,653.4 829.2,654.6 830.1,656.0 831.0,657.3 832.1,659.1 833.2,661.0 834.1,662.8 834.9,664.2 835.2,664.6 835.4,665.0 835.6,665.4 835.9,665.9 836.9,667.7 838.4,670.1 839.9,672.2 841.3,673.2 842.2,672.9 843.0,672.1 843.9,671.0 844.7,669.8 845.7,667.9 846.7,665.7 847.6,663.4 848.6,661.2 849.5,659.4 850.4,657.6 851.4,655.9 852.5,654.4 853.8,653.3 855.4,652.4 856.9,651.5 858.4,650.5 859.7,649.4 860.9,648.3 862.1,647.0 863.2,645.6 864.4,643.6 865.4,641.4 866.3,639.1 867.1,636.8 867.9,634.8 868.5,632.8 869.1,630.9 869.6,629.0 870.0,627.2 870.3,625.4 870.6,623.8 871.1,623.2 871.4,623.3 871.8,623.7 872.2,624.3 872.5,625.1 873.1,628.1 873.3,632.4 873.3,637.2 873.5,641.7 873.7,645.7 874.0,649.7 874.2,653.4 874.5,656.4 874.6,657.4 874.7,658.1 874.8,658.9 875.0,660.0 875.3,664.7 875.8,671.3 876.3,678.3 876.9,684.4 877.4,688.7 877.9,693.1 878.5,696.6 879.4,698.1 880.3,697.2 881.4,694.8 882.6,691.8 883.8,689.3 884.7,687.5 885.8,685.7 886.7,684.0 887.7,682.5 888.3,681.5 888.8,680.7 889.4,679.9 890.0,679.0 890.7,678.0 891.4,676.8 892.2,675.7 892.9,674.6 893.6,673.7 894.4,672.7 895.1,672.0 895.9,671.7 896.6,672.1 897.4,673.1 898.1,674.3 898.8,675.6 899.6,677.4 900.3,679.4 901.0,681.5 901.7,683.4 902.4,685.3 903.0,687.2 903.7,688.9 904.6,690.3 905.7,691.0 906.8,691.5 908.1,691.9 909.5,692.2 911.8,692.7 914.3,693.1 916.9,693.5 919.3,693.7 920.9,693.8 922.4,693.9 923.8,693.9 925.2,693.7 926.2,693.3 927.2,692.7 928.1,692.0 929.1,691.2 930.1,690.2 931.0,689.0 932.0,687.8 933.0,686.9 933.7,686.3 934.4,685.9 935.2,685.6 935.9,685.6 936.7,685.9 937.4,686.6 938.2,687.4 938.8,688.3 939.6,689.8 940.3,691.5 941.0,693.4 941.8,695.2 942.6,696.9 943.6,698.7 944.6,700.4 945.7,702.0 946.8,703.3 948.1,704.6 949.3,705.6 950.5,706.4 951.3,706.7 952.0,706.8 952.7,706.9 953.5,707.1 954.6,707.3 955.8,707.5 957.0,707.7 958.4,707.9 960.0,707.8 961.7,707.7 963.5,707.6 965.2,707.7 966.7,707.9 968.3,708.2 969.7,708.7 971.1,709.3 972.1,710.0 973.1,710.9 974.0,711.8 975.0,712.7 976.2,713.9 977.4,715.1 978.6,716.4 979.8,717.6 981.1,718.8 982.3,720.0 983.5,721.1 984.7,722.0 985.7,722.6 986.6,723.1 987.5,723.5 988.4,724.0 988.9,724.0 988.9,740.5 594.4,740.5" fill="#0000EF"/>
<polygon points="594.4,736.2 595.7,735.8 597.1,735.4 598.4,735.1 599.8,734.7 601.0,734.3 602.2,733.9 603.4,733.6 604.6,733.2 605.9,733.0 607.1,732.9 608.3,732.7 609.5,732.3 610.8,731.5 612.0,730.5 613.2,729.4 614.4,728.4 615.6,727.4 616.8,726.4 618.0,725.6 619.3,724.9 620.5,724.6 621.7,724.4 623.0,724.4 624.2,724.5 625.4,724.6 626.6,724.9 627.8,725.3 629.1,725.6 630.3,725.9 631.5,726.2 632.7,726.6 633.9,726.9 635.2,727.2 636.4,727.6 637.6,728.0 638.8,728.4 640.1,728.8 641.4,729.3 642.6,729.8 643.7,730.3 644.4,730.8 645.0,731.3 645.6,731.7 646.2,731.8 646.8,731.3 647.4,730.5 648.0,729.4 648.6,728.4 649.3,727.0 650.0,725.5 650.7,724.0 651.5,723.0 652.2,722.5 653.0,722.1 653.7,722.0 654.5,722.0 655.2,722.5 656.0,723.4 656.7,724.4 657.4,725.4 658.1,726.4 658.8,727.5 659.5,728.5 660.3,729.3 661.2,729.8 662.2,730.1 663.2,730.3 664.2,730.5 665.1,730.7 666.1,730.9 667.0,731.0 668.1,731.1 670.2,731.2 672.7,731.3 675.3,731.3 677.9,731.3 681.0,731.3 684.2,731.3 687.3,731.2 690.0,731.1 691.4,730.9 692.6,730.8 693.7,730.6 694.9,730.3 696.1,730.0 697.3,729.5 698.5,729.1 699.8,728.8 701.0,728.7 702.2,728.7 703.4,728.8 704.6,728.8 705.8,729.0 707.0,729.2 708.2,729.4 709.5,729.5 711.7,729.7 714.2,729.9 716.8,730.1 719.3,730.1 721.8,730.1 724.4,730.1 726.9,730.0 729.1,729.5 730.4,728.9 731.6,728.0 732.8,727.1 733.9,726.4 735.1,726.0 736.3,725.7 737.5,725.4 738.8,725.2 741.0,725.1 743.5,725.1 746.1,725.2 748.6,725.2 751.1,725.3 753.7,725.3 756.2,725.3 758.4,725.2 759.7,725.1 760.9,725.0 762.1,724.7 763.2,724.5 764.5,724.0 765.7,723.5 766.9,723.0 768.1,722.5 769.3,722.1 770.5,721.8 771.7,721.6 773.0,721.3 774.5,721.0 776.0,720.7 777.5,720.5 778.9,720.5 779.9,721.0 780.9,721.6 781.8,722.3 782.8,723.0 784.0,723.6 785.3,724.3 786.5,724.9 787.7,725.2 788.3,725.3 788.8,725.3 789.4,725.3 790.0,725.2 791.1,725.2 792.3,725.2 793.6,725.1 794.9,724.9 796.1,724.6 797.3,724.1 798.5,723.5 799.8,723.0 801.4,722.4 803.1,721.7 804.8,721.1 806.6,720.5 808.4,720.1 810.3,719.8 812.3,719.6 814.4,719.4 817.8,719.3 821.6,719.3 825.4,719.4 829.1,719.6 832.1,719.7 835.2,719.9 838.0,720.0 840.8,720.1 842.8,720.0 844.7,719.8 846.6,719.7 848.6,719.6 851.0,719.5 853.4,719.4 855.9,719.3 858.4,719.4 860.7,719.4 863.1,719.3 865.3,719.5 867.1,720.1 868.4,720.9 869.4,721.9 870.2,723.2 871.1,724.5 871.9,726.1 872.5,727.9 873.2,729.7 874.0,731.3 874.8,732.4 875.8,733.3 876.8,734.1 877.9,734.7 879.0,735.1 880.3,735.2 881.5,735.2 882.8,735.2 884.0,735.1 885.3,734.8 886.6,734.5 887.7,734.2 888.3,734.0 888.8,733.8 889.3,733.5 890.0,733.2 892.0,732.7 894.5,732.0 897.2,731.4 899.8,730.8 902.2,730.3 904.6,729.8 907.1,729.3 909.5,728.8 912.0,728.4 914.4,727.9 916.9,727.4 919.3,726.9 921.8,726.4 924.3,726.0 926.8,725.6 929.1,725.2 930.6,725.0 932.0,724.7 933.4,724.5 934.9,724.5 937.1,724.8 939.4,725.5 941.7,726.2 943.7,726.9 945.0,727.3 946.1,727.7 947.3,728.0 948.6,728.4 950.8,728.8 953.3,729.2 955.8,729.7 958.4,730.1 960.8,730.6 963.2,731.1 965.7,731.6 968.1,732.1 970.6,732.6 973.0,733.2 975.4,733.7 977.9,734.2 980.5,734.6 983.1,735.0 985.8,735.3 988.4,735.7 988.9,735.7 988.9,740.5 594.4,740.5" fill="#00008F"/>
<polyline points="594.4,736.2 595.7,735.8 597.1,735.4 598.4,735.1 599.8,734.7 601.0,734.3 602.2,733.9 603.4,733.6 604.6,733.2 605.9,733.0 607.1,732.9 608.3,732.7 609.5,732.3 610.8,731.5 612.0,730.5 613.2,729.4 614.4,728.4 615.6,727.4 616.8,726.4 618.0,725.6 619.3,724.9 620.5,724.6 621.7,724.4 623.0,724.4 624.2,724.5 625.4,724.6 626.6,724.9 627.8,725.3 629.1,725.6 630.3,725.9 631.5,726.2 632.7,726.6 633.9,726.9 635.2,727.2 636.4,727.6 637.6,728.0 638.8,728.4 640.1,728.8 641.4,729.3 642.6,729.8 643.7,730.3 644.4,730.8 645.0,731.3 645.6,731.7 646.2,731.8 646.8,731.3 647.4,730.5 648.0,729.4 648.6,728.4 649.3,727.0 650.0,725.5 650.7,724.0 651.5,723.0 652.2,722.5 653.0,722.1 653.7,722.0 654.5,722.0 655.2,722.5 656.0,723.4 656.7,724.4 657.4,725.4 658.1,726.4 658.8,727.5 659.5,728.5 660.3,729.3 661.2,729.8 662.2,730.1 663.2,730.3 664.2,730.5 665.1,730.7 666.1,730.9 667.0,731.0 668.1,731.1 670.2,731.2 672.7,731.3 675.3,731.3 677.9,731.3 681.0,731.3 684.2,731.3 687.3,731.2 690.0,731.1 691.4,730.9 692.6,730.8 693.7,730.6 694.9,730.3 696.1,730.0 697.3,729.5 698.5,729.1 699.8,728.8 701.0,728.7 702.2,728.7 703.4,728.8 704.6,728.8 705.8,729.0 707.0,729.2 708.2,729.4 709.5,729.5 711.7,729.7 714.2,729.9 716.8,730.1 719.3,730.1 721.8,730.1 724.4,730.1 726.9,730.0 729.1,729.5 730.4,728.9 731.6,728.0 732.8,727.1 733.9,726.4 735.1,726.0 736.3,725.7 737.5,725.4 738.8,725.2 741.0,725.1 743.5,725.1 746.1,725.2 748.6,725.2 751.1,725.3 753.7,725.3 756.2,725.3 758.4,725.2 759.7,725.1 760.9,725.0 762.1,724.7 763.2,724.5 764.5,724.0 765.7,723.5 766.9,723.0 768.1,722.5 769.3,722.1 770.5,721.8 771.7,721.6 773.0,721.3 774.5,721.0 776.0,720.7 777.5,720.5 778.9,720.5 779.9,721.0 780.9,721.6 781.8,722.3 782.8,723.0 784.0,723.6 785.3,724.3 786.5,724.9 787.7,725.2 788.3,725.3 788.8,725.3 789.4,725.3 790.0,725.2 791.1,725.2 792.3,725.2 793.6,725.1 794.9,724.9 796.1,724.6 797.3,724.1 798.5,723.5 799.8,723.0 801.4,722.4 803.1,721.7 804.8,721.1 806.6,720.5 808.4,720.1 810.3,719.8 812.3,719.6 814.4,719.4 817.8,719.3 821.6,719.3 825.4,719.4 829.1,719.6 832.1,719.7 835.2,719.9 838.0,720.0 840.8,720.1 842.8,720.0 844.7,719.8 846.6,719.7 848.6,719.6 851.0,719.5 853.4,719.4 855.9,719.3 858.4,719.4 860.7,719.4 863.1,719.3 865.3,719.5 867.1,720.1 868.4,720.9 869.4,721.9 870.2,723.2 871.1,724.5 871.9,726.1 872.5,727.9 873.2,729.7 874.0,731.3 874.8,732.4 875.8,733.3 876.8,734.1 877.9,734.7 879.0,735.1 880.3,735.2 881.5,735.2 882.8,735.2 884.0,735.1 885.3,734.8 886.6,734.5 887.7,734.2 888.3,734.0 888.8,733.8 889.3,733.5 890.0,733.2 892.0,732.7 894.5,732.0 897.2,731.4 899.8,730.8 902.2,730.3 904.6,729.8 907.1,729.3 909.5,728.8 912.0,728.4 914.4,727.9 916.9,727.4 919.3,726.9 921.8,726.4 924.3,726.0 926.8,725.6 929.1,725.2 930.6,725.0 932.0,724.7 933.4,724.5 934.9,724.5 937.1,724.8 939.4,725.5 941.7,726.2 943.7,726.9 945.0,727.3 946.1,727.7 947.3,728.0 948.6,728.4 950.8,728.8 953.3,729.2 955.8,729.7 958.4,730.1 960.8,730.6 963.2,731.1 965.7,731.6 968.1,732.1 970.6,732.6 973.0,733.2 975.4,733.7 977.9,734.2 980.5,734.6 983.1,735.0 985.8,735.3 988.4,735.7 988.9,735.7" fill="none" stroke="#000" stroke-width="0.90" stroke-linejoin="round"/>
<polyline points="594.4,731.8 595.7,731.3 597.1,730.8 598.4,730.3 599.8,729.8 601.0,729.4 602.2,729.0 603.4,728.7 604.6,728.4 605.9,728.1 607.1,727.9 608.3,727.7 609.5,727.4 610.8,727.0 612.0,726.5 613.2,726.0 614.4,725.4 615.6,724.8 616.8,724.1 618.1,723.5 619.3,723.0 620.5,722.7 621.7,722.6 623.0,722.6 624.2,722.7 625.4,722.9 626.6,723.2 627.8,723.6 629.1,724.0 630.3,724.2 631.5,724.5 632.7,724.7 633.9,724.9 635.2,725.2 636.4,725.5 637.6,725.8 638.8,726.2 640.1,726.7 641.4,727.3 642.6,727.8 643.7,728.4 644.4,728.8 645.0,729.2 645.6,729.5 646.2,729.5 646.8,729.1 647.4,728.3 648.0,727.3 648.6,726.4 649.3,725.3 650.0,724.0 650.8,722.8 651.5,722.0 652.0,721.7 652.5,721.5 653.0,721.3 653.5,721.3 654.0,721.5 654.5,721.7 654.9,722.1 655.4,722.5 656.2,723.5 656.9,724.9 657.6,726.2 658.4,727.4 658.8,728.0 659.3,728.5 659.7,728.9 660.3,729.3 661.2,729.7 662.2,730.0 663.2,730.2 664.2,730.3 665.2,730.4 666.1,730.5 667.0,730.5 668.1,730.5 670.2,730.6 672.7,730.7 675.3,730.8 677.9,730.8 681.0,730.8 684.2,730.7 687.3,730.5 690.0,730.1 691.4,729.8 692.7,729.5 693.9,729.0 694.9,728.4 695.8,727.3 696.4,726.0 697.1,724.6 697.8,723.5 698.5,722.8 699.2,722.1 699.9,721.6 700.7,721.3 701.7,721.2 702.6,721.4 703.6,721.6 704.6,722.0 705.9,722.7 707.1,723.6 708.3,724.5 709.5,725.4 710.7,726.2 711.9,727.0 713.2,727.8 714.4,728.4 715.6,728.8 716.8,729.0 718.1,729.2 719.3,729.3 720.5,729.3 721.7,729.2 723.0,729.1 724.2,728.8 725.5,728.6 726.7,728.3 728.0,728.0 729.1,727.4 730.0,726.6 730.7,725.8 731.4,724.7 732.0,723.5 732.7,720.8 733.2,717.6 733.6,714.1 733.9,710.8 734.3,707.6 734.5,704.4 734.8,701.5 735.4,699.1 735.9,698.0 736.4,697.1 737.1,696.3 737.9,695.6 739.1,694.8 740.6,694.1 742.2,693.5 743.7,693.4 745.0,693.7 746.2,694.4 747.4,695.2 748.6,696.1 749.9,697.3 751.1,698.6 752.3,699.9 753.5,701.0 754.5,701.7 755.4,702.4 756.4,702.9 757.4,703.0 758.7,702.4 760.0,701.2 761.2,699.7 762.3,698.1 763.2,696.1 764.0,693.9 764.6,691.6 765.2,689.3 765.8,686.9 766.3,684.5 766.7,682.1 767.1,679.5 767.7,676.6 768.2,673.5 768.7,670.5 769.1,667.8 769.4,666.1 769.6,664.5 769.8,663.0 770.1,661.2 770.7,658.4 771.4,655.2 772.2,651.9 773.0,648.5 773.8,645.2 774.5,641.9 775.3,638.4 775.9,634.9 776.5,630.7 777.0,626.3 777.4,621.8 777.9,617.3 778.4,612.3 778.8,607.0 779.3,602.0 779.8,597.8 780.3,595.2 780.7,592.7 781.2,590.8 781.8,590.0 782.3,590.3 782.8,591.2 783.3,592.5 783.8,593.9 784.6,597.5 785.3,602.4 785.9,607.6 786.7,612.4 787.3,616.9 787.9,621.5 788.7,625.5 790.0,628.0 790.9,628.5 791.8,628.5 792.8,628.5 793.9,628.5 795.3,628.8 796.8,629.2 798.3,629.6 799.8,630.0 801.1,630.4 802.3,630.8 803.5,631.3 804.6,631.9 805.7,632.7 806.7,633.7 807.6,634.7 808.6,635.9 809.6,637.4 810.5,639.2 811.4,641.0 812.5,642.7 813.6,644.3 814.8,645.9 816.0,647.4 817.3,648.5 818.5,649.2 819.7,649.7 821.0,650.1 822.2,650.5 823.5,650.9 824.7,651.3 826.0,651.8 827.1,652.5 828.2,653.4 829.2,654.6 830.1,656.0 831.0,657.3 832.1,659.1 833.2,661.0 834.1,662.8 834.9,664.2 835.2,664.6 835.4,665.0 835.6,665.4 835.9,665.9 836.9,667.7 838.4,670.1 839.9,672.2 841.3,673.2 842.2,672.9 843.0,672.1 843.9,671.0 844.7,669.8 845.7,667.9 846.7,665.7 847.6,663.4 848.6,661.2 849.5,659.4 850.4,657.6 851.4,655.9 852.5,654.4 853.8,653.3 855.4,652.4 856.9,651.5 858.4,650.5 859.7,649.4 860.9,648.3 862.1,647.0 863.2,645.6 864.4,643.6 865.4,641.4 866.3,639.1 867.1,636.8 867.9,634.8 868.5,632.8 869.1,630.9 869.6,629.0 870.0,627.2 870.3,625.4 870.6,623.8 871.1,623.2 871.4,623.3 871.8,623.7 872.2,624.3 872.5,625.1 873.1,628.1 873.3,632.4 873.3,637.2 873.5,641.7 873.7,645.7 874.0,649.7 874.2,653.4 874.5,656.4 874.6,657.4 874.7,658.1 874.8,658.9 875.0,660.0 875.3,664.7 875.8,671.3 876.3,678.3 876.9,684.4 877.4,688.7 877.9,693.1 878.5,696.6 879.4,698.1 880.3,697.2 881.4,694.8 882.6,691.8 883.8,689.3 884.7,687.5 885.8,685.7 886.7,684.0 887.7,682.5 888.3,681.5 888.8,680.7 889.4,679.9 890.0,679.0 890.7,678.0 891.4,676.8 892.2,675.7 892.9,674.6 893.6,673.7 894.4,672.7 895.1,672.0 895.9,671.7 896.6,672.1 897.4,673.1 898.1,674.3 898.8,675.6 899.6,677.4 900.3,679.4 901.0,681.5 901.7,683.4 902.4,685.3 903.0,687.2 903.7,688.9 904.6,690.3 905.7,691.0 906.8,691.5 908.1,691.9 909.5,692.2 911.8,692.7 914.3,693.1 916.9,693.5 919.3,693.7 920.9,693.8 922.4,693.9 923.8,693.9 925.2,693.7 926.2,693.3 927.2,692.7 928.1,692.0 929.1,691.2 930.1,690.2 931.0,689.0 932.0,687.8 933.0,686.9 933.7,686.3 934.4,685.9 935.2,685.6 935.9,685.6 936.7,685.9 937.4,686.6 938.2,687.4 938.8,688.3 939.6,689.8 940.3,691.5 941.0,693.4 941.8,695.2 942.6,696.9 943.6,698.7 944.6,700.4 945.7,702.0 946.8,703.3 948.1,704.6 949.3,705.6 950.5,706.4 951.3,706.7 952.0,706.8 952.7,706.9 953.5,707.1 954.6,707.3 955.8,707.5 957.0,707.7 958.4,707.9 960.0,707.8 961.7,707.7 963.5,707.6 965.2,707.7 966.7,707.9 968.3,708.2 969.7,708.7 971.1,709.3 972.1,710.0 973.1,710.9 974.0,711.8 975.0,712.7 976.2,713.9 977.4,715.1 978.6,716.4 979.8,717.6 981.1,718.8 982.3,720.0 983.5,721.1 984.7,722.0 985.7,722.6 986.6,723.1 987.5,723.5 988.4,724.0 988.9,724.0" fill="none" stroke="#000" stroke-width="0.90" stroke-linejoin="round"/>
<polyline points="594.4,723.5 595.0,720.3 595.6,717.1 596.3,713.9 596.8,710.8 597.4,707.9 597.8,705.0 598.3,702.1 598.8,699.1 599.3,695.5 599.8,691.8 600.3,688.1 600.7,684.4 601.2,680.7 601.8,677.0 602.3,673.3 602.7,669.8 603.0,666.8 603.4,664.0 603.6,661.2 603.9,658.3 604.0,655.4 604.0,652.5 604.1,649.6 604.2,646.6 604.3,643.0 604.6,639.2 604.8,635.4 605.1,631.9 605.5,629.4 605.8,626.9 606.2,624.6 606.6,622.2 607.0,619.7 607.3,617.3 607.7,614.9 608.1,612.4 608.4,610.0 608.8,607.7 609.2,605.2 609.5,602.6 609.8,599.3 610.1,595.7 610.3,591.9 610.5,588.0 610.9,582.9 611.2,577.6 611.6,572.1 612.0,566.6 612.3,560.6 612.7,554.4 613.1,548.2 613.4,542.2 613.8,536.2 614.1,530.2 614.4,524.5 614.9,519.7 615.2,517.3 615.5,515.2 615.9,513.4 616.4,511.9 616.7,511.2 617.0,510.7 617.4,510.2 617.8,510.0 618.6,509.9 619.4,510.2 620.3,510.6 621.2,510.9 622.2,511.1 623.2,511.3 624.2,511.5 625.2,511.9 626.2,512.6 627.2,513.6 628.1,514.7 629.1,515.8 630.1,517.1 631.1,518.6 632.0,520.1 633.0,521.7 634.0,523.5 635.0,525.5 636.0,527.5 636.9,529.5 637.6,531.2 638.2,532.8 638.8,534.5 639.3,536.3 639.8,538.8 640.2,541.5 640.5,544.3 640.8,547.1 641.2,549.9 641.5,552.8 641.9,555.7 642.2,558.8 642.6,562.6 643.0,566.5 643.4,570.5 643.7,574.4 644.0,577.9 644.2,581.4 644.4,584.8 644.7,588.0 645.0,590.9 645.2,593.9 645.6,596.3 645.9,597.3 646.2,596.4 646.5,594.1 646.8,591.1 647.1,588.0 647.5,581.4 647.7,573.3 647.9,564.8 648.1,556.8 648.3,550.2 648.5,543.6 648.8,537.5 649.1,532.4 649.3,529.8 649.4,527.4 649.7,525.5 650.1,524.6 650.2,524.6 650.4,524.7 650.6,524.9 650.7,525.1 651.1,526.9 651.3,530.0 651.4,533.7 651.5,537.3 651.9,541.9 652.2,546.8 652.6,551.8 653.0,556.8 653.4,561.8 653.7,566.9 654.1,571.8 654.5,576.4 654.7,579.4 655.0,582.2 655.3,584.9 655.4,588.0 655.4,592.5 655.2,597.4 655.0,602.5 654.9,607.5 655.0,612.4 655.1,617.3 655.3,622.2 655.4,627.1 655.6,632.0 655.7,637.0 655.8,641.9 655.9,646.6 656.0,650.4 656.1,653.9 656.2,657.5 656.3,661.2 656.5,665.7 656.8,670.2 657.1,674.9 657.4,679.5 657.6,684.4 657.9,689.4 658.1,694.4 658.4,699.1 658.6,702.9 658.8,706.7 659.0,710.3 659.3,713.7 659.7,716.6 660.1,719.5 660.6,722.2 661.3,724.5 661.9,725.8 662.6,727.0 663.4,728.0 664.2,728.8 665.1,729.4 666.0,729.9 667.0,730.2 668.1,730.5 670.2,730.8 672.7,730.9 675.3,730.9 677.9,730.8 681.0,730.8 684.2,730.7 687.3,730.5 690.0,730.1 691.4,729.8 692.7,729.5 693.9,729.0 694.9,728.4 695.8,727.3 696.4,726.0 697.1,724.6 697.8,723.5 698.5,722.8 699.2,722.1 699.9,721.6 700.7,721.3 701.7,721.2 702.6,721.4 703.6,721.6 704.6,722.0 705.9,722.7 707.1,723.6 708.3,724.5 709.5,725.4 710.7,726.2 711.9,727.0 713.2,727.8 714.4,728.4 715.6,728.8 716.8,729.0 718.1,729.2 719.3,729.3 720.5,729.3 721.7,729.2 723.0,729.1 724.2,728.8 725.5,728.6 726.7,728.3 728.0,728.0 729.1,727.4 730.0,726.6 730.7,725.8 731.4,724.7 732.0,723.5 732.7,720.8 733.2,717.6 733.6,714.1 733.9,710.8 734.3,707.6 734.5,704.4 734.8,701.5 735.4,699.1 735.9,698.0 736.4,697.1 737.1,696.3 737.9,695.6 739.1,694.8 740.6,694.1 742.2,693.5 743.7,693.4 745.0,693.7 746.2,694.4 747.4,695.2 748.6,696.1 749.9,697.3 751.1,698.6 752.3,699.9 753.5,701.0 754.5,701.7 755.4,702.4 756.4,702.9 757.4,703.0 758.7,702.4 760.0,701.2 761.2,699.7 762.3,698.1 763.2,696.1 764.0,693.9 764.6,691.6 765.2,689.3 765.8,686.9 766.3,684.5 766.7,682.1 767.1,679.5 767.7,676.6 768.2,673.5 768.7,670.5 769.1,667.8 769.4,666.1 769.6,664.5 769.8,663.0 770.1,661.2 770.7,658.4 771.4,655.2 772.2,651.9 773.0,648.5 773.8,645.2 774.5,641.9 775.3,638.4 775.9,634.9 776.5,630.7 777.0,626.3 777.4,621.8 777.9,617.3 778.4,612.3 778.8,607.0 779.3,602.0 779.8,597.8 780.3,595.2 780.7,592.7 781.2,590.8 781.8,590.0 782.3,590.3 782.8,591.2 783.3,592.5 783.8,593.9 784.6,597.5 785.3,602.4 785.9,607.6 786.7,612.4 787.3,616.9 787.9,621.5 788.7,625.5 790.0,628.0 790.9,628.5 791.8,628.5 792.8,628.5 793.9,628.5 795.3,628.8 796.8,629.2 798.3,629.6 799.8,630.0 801.1,630.4 802.3,630.8 803.5,631.3 804.6,631.9 805.7,632.7 806.7,633.7 807.6,634.7 808.6,635.9 809.6,637.4 810.5,639.2 811.4,641.0 812.5,642.7 813.6,644.3 814.8,645.9 816.0,647.4 817.3,648.5 818.5,649.2 819.7,649.7 821.0,650.1 822.2,650.5 823.5,650.9 824.7,651.3 826.0,651.8 827.1,652.5 828.2,653.4 829.2,654.6 830.1,656.0 831.0,657.3 832.1,659.1 833.2,661.0 834.1,662.8 834.9,664.2 835.2,664.6 835.4,665.0 835.6,665.4 835.9,665.9 836.9,667.7 838.4,670.1 839.9,672.2 841.3,673.2 842.2,672.9 843.0,672.1 843.9,671.0 844.7,669.8 845.7,667.9 846.7,665.7 847.6,663.4 848.6,661.2 849.5,659.4 850.4,657.6 851.4,655.9 852.5,654.4 853.8,653.3 855.4,652.4 856.9,651.5 858.4,650.5 859.7,649.4 860.9,648.3 862.1,647.0 863.2,645.6 864.4,643.6 865.4,641.4 866.3,639.1 867.1,636.8 867.9,634.8 868.5,632.8 869.1,630.9 869.6,629.0 870.0,627.2 870.3,625.4 870.6,623.8 871.1,623.2 871.4,623.3 871.8,623.7 872.2,624.3 872.5,625.1 873.1,628.1 873.3,632.4 873.3,637.2 873.5,641.7 873.7,645.7 874.0,649.7 874.2,653.4 874.5,656.4 874.6,657.4 874.7,658.1 874.8,658.9 875.0,660.0 875.3,664.7 875.8,671.3 876.3,678.3 876.9,684.4 877.4,688.7 877.9,693.1 878.5,696.6 879.4,698.1 880.3,697.2 881.4,694.8 882.6,691.8 883.8,689.3 884.7,687.5 885.8,685.7 886.7,684.0 887.7,682.5 888.3,681.5 888.8,680.7 889.4,679.9 890.0,679.0 890.7,678.0 891.4,676.8 892.2,675.7 892.9,674.6 893.6,673.7 894.4,672.7 895.1,672.0 895.9,671.7 896.6,672.1 897.4,673.1 898.1,674.3 898.8,675.6 899.6,677.4 900.3,679.4 901.0,681.5 901.7,683.4 902.4,685.3 903.0,687.2 903.7,688.9 904.6,690.3 905.7,691.0 906.8,691.5 908.1,691.9 909.5,692.2 911.8,692.7 914.3,693.1 916.9,693.5 919.3,693.7 920.9,693.8 922.4,693.9 923.8,693.9 925.2,693.7 926.2,693.3 927.2,692.7 928.1,692.0 929.1,691.2 930.1,690.2 931.0,689.0 932.0,687.8 933.0,686.9 933.7,686.3 934.4,685.9 935.2,685.6 935.9,685.6 936.7,685.9 937.4,686.6 938.2,687.4 938.8,688.3 939.6,689.8 940.3,691.5 941.0,693.4 941.8,695.2 942.6,696.9 943.6,698.7 944.6,700.4 945.7,702.0 946.8,703.3 948.1,704.6 949.3,705.6 950.5,706.4 951.3,706.7 952.0,706.8 952.7,706.9 953.5,707.1 954.6,707.3 955.8,707.5 957.0,707.7 958.4,707.9 960.0,707.8 961.7,707.7 963.5,707.6 965.2,707.7 966.7,707.9 968.3,708.2 969.7,708.7 971.1,709.3 972.1,710.0 973.1,710.9 974.0,711.8 975.0,712.7 976.2,713.9 977.4,715.1 978.6,716.4 979.8,717.6 981.1,718.8 982.3,720.0 983.5,721.1 984.7,722.0 985.7,722.6 986.6,723.1 987.5,723.5 988.4,724.0 988.9,724.0" fill="none" stroke="#000" stroke-width="0.90" stroke-linejoin="round"/>
<polyline points="594.4,719.6 595.0,716.9 595.6,714.2 596.3,711.5 596.8,708.8 597.4,706.2 597.9,703.6 598.3,700.9 598.8,698.1 599.3,694.7 599.8,691.1 600.3,687.5 600.7,683.9 601.3,680.2 601.8,676.5 602.3,672.8 602.7,669.3 603.0,666.4 603.3,663.6 603.6,660.9 603.8,658.1 603.9,655.2 603.9,652.4 604.0,649.4 604.1,646.4 604.2,642.8 604.5,639.0 604.7,635.2 605.0,631.8 605.4,629.2 605.7,626.7 606.1,624.4 606.5,622.0 606.9,619.5 607.2,617.1 607.6,614.7 608.0,612.2 608.3,609.8 608.7,607.5 609.1,605.0 609.4,602.5 609.8,599.1 610.0,595.5 610.2,591.7 610.5,587.8 610.9,582.8 611.2,577.4 611.6,571.9 612.0,566.4 612.3,560.4 612.7,554.2 613.1,548.1 613.4,542.0 613.8,536.0 614.1,530.0 614.5,524.3 614.9,519.5 615.1,517.3 615.4,515.3 615.7,513.5 615.9,511.9 616.0,510.9 616.1,509.9 616.2,509.0 616.4,508.0 616.6,506.5 616.9,504.8 617.3,503.3 617.8,502.2 618.3,501.8 618.9,501.5 619.6,501.3 620.3,501.2 621.2,501.5 622.2,501.9 623.2,502.5 624.2,503.2 625.0,503.9 625.8,504.6 626.5,505.4 627.1,506.1 627.5,506.6 627.8,507.0 628.2,507.4 628.6,508.0 629.5,509.3 630.7,511.0 631.9,512.9 633.0,514.8 634.1,517.2 635.1,519.7 636.0,522.3 636.9,524.6 637.5,526.2 638.0,527.6 638.5,529.0 638.8,530.5 639.0,531.8 639.1,533.2 639.2,534.6 639.3,536.1 639.6,538.6 640.0,541.3 640.4,544.1 640.8,546.9 641.2,549.7 641.5,552.6 641.9,555.5 642.2,558.6 642.6,562.4 643.0,566.3 643.4,570.3 643.7,574.2 644.0,577.7 644.2,581.2 644.4,584.6 644.7,587.8 645.0,590.7 645.2,593.7 645.6,596.1 645.9,597.1 646.2,596.2 646.5,593.9 646.8,590.9 647.1,587.8 647.5,581.3 647.7,573.3 647.9,564.8 648.1,556.6 648.3,549.0 648.5,541.2 648.8,533.9 649.1,527.5 649.2,523.8 649.4,520.2 649.6,517.3 650.1,515.8 650.2,515.7 650.4,515.7 650.6,515.7 650.7,515.8 651.2,517.3 651.3,520.2 651.4,523.9 651.5,527.5 651.9,533.1 652.2,539.4 652.6,545.8 653.0,551.9 653.3,557.0 653.7,562.0 654.1,566.8 654.5,571.5 654.8,575.8 655.0,580.2 655.4,584.3 655.9,588.0 656.4,590.7 657.0,593.4 657.7,595.4 658.4,596.3 659.1,595.5 659.9,593.7 660.6,591.6 661.3,590.0 661.5,589.4 661.7,589.0 662.0,588.5 662.3,588.0 663.2,586.3 664.4,584.1 665.8,582.0 667.1,580.3 668.1,579.4 669.0,578.8 670.0,578.2 671.1,577.8 672.6,577.5 674.3,577.5 676.0,577.5 677.9,577.5 680.4,577.4 683.1,577.2 685.7,577.2 687.7,577.3 688.4,577.5 688.9,577.8 689.4,578.0 690.0,578.3 690.9,578.7 692.0,579.1 693.0,579.6 693.9,580.3 694.7,581.3 695.4,582.5 696.1,583.8 696.8,585.1 697.7,586.7 698.6,588.4 699.6,589.9 700.7,590.7 702.3,590.7 704.1,590.1 705.9,589.1 707.6,588.0 708.9,586.7 710.0,585.2 711.2,583.6 712.5,582.2 714.0,581.0 715.8,579.9 717.6,579.0 719.3,578.5 720.8,578.5 722.3,578.7 723.8,579.2 725.2,579.8 726.5,580.4 727.7,581.1 728.9,582.0 730.0,583.2 731.4,585.8 732.5,589.3 733.6,592.6 734.9,594.8 735.8,595.4 736.7,595.6 737.7,595.7 738.8,595.8 740.6,595.9 742.7,595.9 744.7,595.7 746.6,595.3 748.2,594.6 749.6,593.7 751.1,592.8 752.5,591.9 754.0,591.2 755.4,590.5 756.9,589.9 758.4,589.5 759.6,589.3 760.9,589.2 762.1,589.3 763.2,589.5 764.3,589.8 765.2,590.3 766.2,590.8 767.1,590.9 768.1,590.7 769.1,590.3 770.1,589.6 771.1,589.0 772.1,588.2 773.1,587.2 774.1,586.2 775.0,585.1 775.8,584.0 776.5,582.8 777.2,581.6 777.9,580.3 778.6,578.6 779.2,576.7 779.7,575.1 780.3,574.4 780.8,574.8 781.4,575.7 781.9,577.0 782.3,578.3 782.8,580.4 783.1,582.7 783.4,585.3 783.8,588.0 784.4,591.5 785.1,595.3 785.9,599.1 786.7,602.6 787.4,605.6 788.2,608.5 789.0,611.2 790.0,613.4 790.7,614.6 791.4,615.7 792.1,616.5 792.9,616.8 794.0,616.4 795.3,615.2 796.6,613.8 797.8,612.4 799.0,611.2 800.3,610.0 801.5,608.8 802.7,607.5 803.9,606.3 805.2,605.0 806.4,603.8 807.6,602.6 808.5,601.8 809.5,601.1 810.4,600.4 811.5,599.7 812.9,599.0 814.4,598.5 815.9,597.9 817.3,597.3 818.6,596.7 819.8,596.0 821.0,595.4 822.2,594.8 823.4,594.4 824.6,593.9 825.8,593.6 827.1,593.4 828.5,593.3 830.0,593.4 831.5,593.5 833.0,593.9 834.2,594.3 835.5,594.9 836.7,595.6 837.9,596.3 839.1,597.0 840.3,597.7 841.5,598.5 842.7,599.2 844.2,600.2 845.6,601.2 847.1,602.1 848.6,602.6 849.8,602.8 851.0,602.6 852.3,602.4 853.5,602.2 854.7,602.0 856.0,601.8 857.2,601.5 858.4,601.2 859.4,600.7 860.4,600.2 861.4,599.7 862.3,599.2 862.9,598.9 863.6,598.5 864.2,598.3 864.7,598.3 865.3,598.6 865.8,599.2 866.2,599.9 866.7,600.7 867.1,601.8 867.4,603.1 867.7,604.4 868.1,605.6 868.7,606.3 869.4,607.0 870.0,607.6 870.6,608.5 871.1,610.4 871.5,612.7 871.8,615.1 872.0,617.3 872.2,618.8 872.3,620.1 872.4,621.5 872.5,623.2 872.7,626.2 872.9,629.6 873.0,633.2 873.2,636.8 873.4,640.5 873.5,644.4 873.7,648.1 874.0,651.5 874.3,653.7 874.7,655.6 875.1,657.6 875.4,660.0 876.0,666.7 876.6,675.1 877.2,683.3 877.9,689.3 878.2,691.0 878.5,692.6 878.9,693.7 879.4,694.2 880.3,693.5 881.4,691.7 882.6,689.5 883.8,687.3 884.8,685.2 885.8,683.0 886.8,680.7 887.7,678.6 888.3,676.9 888.8,675.3 889.4,673.7 890.0,672.2 890.6,670.8 891.3,669.3 892.1,668.0 892.9,666.8 893.8,665.8 894.9,664.8 895.9,664.1 896.8,663.9 897.6,664.4 898.4,665.4 899.1,666.6 899.8,667.8 900.5,669.3 901.2,670.9 901.9,672.4 902.7,673.7 903.4,674.4 904.1,675.0 904.9,675.5 905.6,675.6 906.6,675.3 907.5,674.6 908.5,673.6 909.5,672.7 910.7,671.6 911.9,670.4 913.1,669.2 914.4,667.8 916.1,666.0 917.8,664.1 919.5,662.2 921.3,660.3 923.1,658.4 925.0,656.5 926.7,654.7 928.1,652.9 928.7,651.8 929.1,650.7 929.5,649.6 930.0,648.5 931.1,647.3 932.4,645.9 933.7,644.9 934.9,644.4 935.7,644.6 936.5,645.1 937.2,645.8 937.9,646.6 938.7,648.0 939.4,649.7 940.1,651.6 940.8,653.4 941.5,655.2 942.3,656.9 943.0,658.7 943.7,660.3 944.2,661.5 944.6,662.5 945.1,663.7 945.7,664.9 946.7,666.9 947.9,669.2 949.2,671.5 950.5,673.7 951.9,675.5 953.3,677.2 954.9,678.9 956.4,680.5 958.1,682.1 959.8,683.7 961.5,685.3 963.2,686.9 965.0,688.5 966.8,690.1 968.5,691.6 970.1,693.2 971.2,694.4 972.1,695.6 973.1,696.8 974.0,698.1 975.0,699.5 976.0,700.9 976.9,702.4 977.9,703.9 978.9,705.6 979.8,707.4 980.8,709.1 981.8,710.8 982.7,712.3 983.7,713.8 984.7,715.1 985.7,716.2 986.4,716.6 987.1,717.0 987.8,717.3 988.4,717.6 988.9,717.6" fill="none" stroke="#000" stroke-width="0.90" stroke-linejoin="round"/>
<polyline points="594.4,487.6 595.8,488.9 597.1,490.3 598.5,491.5 599.8,492.0 600.8,491.6 601.8,490.7 602.7,489.6 603.7,488.5 604.7,487.4 605.7,486.1 606.6,484.8 607.6,483.7 608.3,483.0 609.1,482.5 609.8,481.9 610.5,481.2 611.3,479.8 612.0,478.0 612.7,476.2 613.4,474.9 613.9,474.3 614.4,473.8 614.9,473.5 615.4,473.4 616.1,474.0 616.8,475.2 617.5,476.6 618.3,477.8 619.2,478.8 620.2,479.7 621.2,480.4 622.2,480.7 623.2,480.4 624.2,479.7 625.1,478.7 626.1,477.8 627.3,476.8 628.5,475.8 629.7,474.8 631.0,473.9 632.4,473.2 633.9,472.6 635.4,472.2 636.9,471.9 638.2,471.9 639.4,471.9 640.7,472.1 641.8,472.4 642.6,472.8 643.3,473.3 644.0,473.9 644.7,474.4 645.2,474.8 645.7,475.3 646.2,475.7 646.6,475.9 647.2,475.4 647.7,474.6 648.2,473.7 648.6,473.4 649.0,473.8 649.4,474.6 649.8,475.6 650.1,476.8 650.5,479.6 650.7,483.1 650.8,487.1 651.0,491.5 651.6,499.6 652.2,509.2 652.9,518.9 653.5,527.5 653.9,532.9 654.2,537.8 654.6,542.5 654.9,547.1 655.3,551.1 655.6,555.0 656.0,558.7 656.4,561.7 656.6,563.3 656.9,564.9 657.1,566.1 657.4,566.6 657.8,565.5 658.2,562.9 658.7,559.6 659.3,556.8 660.0,554.8 660.7,552.9 661.4,551.0 662.3,549.0 663.3,546.2 664.5,543.0 665.7,540.2 667.1,538.3 668.0,537.7 669.0,537.4 670.0,537.3 671.1,537.3 672.6,537.4 674.2,537.8 676.0,538.3 677.9,538.8 680.9,539.4 684.3,540.2 687.5,541.1 690.0,542.2 691.0,542.8 691.7,543.5 692.3,544.3 692.9,545.1 693.7,546.4 694.5,547.8 695.2,549.3 695.9,551.0 696.6,553.2 697.2,555.7 697.9,558.0 698.8,559.8 699.4,560.5 700.2,561.1 700.9,561.5 701.7,561.7 702.7,561.6 703.6,561.1 704.6,560.5 705.6,559.8 706.9,558.5 708.1,557.0 709.3,555.4 710.5,553.9 711.7,552.6 712.9,551.2 714.1,550.0 715.4,549.0 716.6,548.3 717.8,547.8 719.0,547.4 720.3,547.3 721.5,547.4 722.8,547.8 724.0,548.4 725.2,549.0 726.2,549.8 727.3,550.7 728.2,551.8 729.1,552.9 729.9,554.3 730.7,555.7 731.4,557.2 732.0,558.8 732.5,560.6 732.9,562.5 733.3,564.2 733.9,565.6 734.6,566.3 735.2,566.8 736.0,567.1 736.9,567.4 738.2,567.5 739.7,567.3 741.2,566.9 742.7,566.6 744.2,566.2 745.7,565.8 747.2,565.3 748.6,564.6 750.1,563.8 751.5,562.7 753.0,561.7 754.5,560.7 755.9,559.9 757.4,559.1 758.9,558.4 760.3,557.8 761.6,557.5 762.9,557.4 764.1,557.2 765.2,556.8 766.1,556.1 766.8,555.2 767.5,554.1 768.1,552.9 768.9,551.2 769.7,549.2 770.3,547.1 771.1,545.1 771.8,543.1 772.6,541.1 773.3,539.1 774.0,537.3 774.5,536.0 775.0,534.8 775.5,533.7 775.9,532.4 776.4,530.8 776.7,529.2 777.1,527.5 777.4,525.6 777.8,522.5 778.2,519.1 778.5,515.7 778.9,512.9 779.1,511.6 779.4,510.5 779.6,509.4 779.8,508.0 780.3,503.4 780.7,497.5 781.2,491.4 781.8,486.6 782.2,484.5 782.5,482.7 783.0,481.1 783.8,479.8 784.6,478.9 785.6,478.3 786.7,477.8 787.7,477.3 788.3,477.0 788.8,476.7 789.4,476.5 790.0,476.3 790.9,476.3 791.9,476.3 792.9,476.5 793.9,476.8 795.4,477.7 796.9,478.9 798.3,480.4 799.8,481.7 801.0,482.9 802.3,484.1 803.5,485.3 804.6,486.6 805.9,488.0 807.1,489.5 808.3,491.0 809.5,492.5 810.8,493.9 812.0,495.4 813.2,496.8 814.4,498.3 815.6,499.8 816.8,501.4 818.0,502.9 819.3,504.2 820.5,505.1 821.7,505.8 823.0,506.5 824.2,507.1 825.3,507.7 826.4,508.3 827.5,508.8 828.6,509.0 829.5,508.8 830.3,508.3 831.1,507.8 832.0,507.1 833.2,506.0 834.4,504.8 835.6,503.4 836.9,502.2 838.0,501.3 839.2,500.4 840.4,499.5 841.8,498.8 843.3,498.0 845.0,497.4 846.7,496.8 848.6,496.4 850.9,496.2 853.4,496.2 856.0,496.3 858.4,496.2 860.5,495.9 862.6,495.6 864.6,495.1 866.2,494.4 867.1,493.6 867.9,492.7 868.5,491.7 869.1,490.5 869.8,488.4 870.2,485.8 870.6,483.2 871.1,480.7 871.5,478.8 872.0,476.8 872.5,475.1 873.0,473.9 873.3,473.5 873.6,473.2 873.9,473.0 874.2,472.9 874.5,473.1 874.8,473.6 875.1,474.2 875.4,474.9 875.8,475.8 876.1,476.9 876.4,477.9 876.9,478.8 877.4,479.3 878.0,479.8 878.7,480.1 879.4,480.2 880.1,480.1 881.0,479.7 881.9,479.2 882.8,478.8 884.0,478.5 885.3,478.2 886.5,478.0 887.7,477.8 888.3,477.7 888.8,477.6 889.4,477.5 890.0,477.3 891.3,477.0 892.7,476.6 894.2,476.2 895.9,476.0 897.9,476.2 900.1,476.6 902.4,477.0 904.6,477.3 907.1,477.4 909.5,477.3 912.0,477.1 914.4,477.0 916.9,477.0 919.3,476.9 921.7,476.8 924.2,476.8 926.6,476.9 929.1,477.1 931.5,477.3 933.9,477.3 936.4,477.1 938.8,476.7 941.3,476.3 943.7,476.0 946.2,476.1 948.6,476.3 951.0,476.5 953.5,476.8 955.9,477.1 958.4,477.5 960.8,477.9 963.2,478.3 965.7,478.7 968.2,479.2 970.7,479.7 973.0,480.2 975.0,480.9 977.0,481.6 978.9,482.2 980.8,482.7 982.7,482.9 984.6,483.0 986.5,483.1 988.4,483.2 988.9,483.2" fill="none" stroke="#000" stroke-width="0.90" stroke-linejoin="round"/>
<polyline points="594.4,471.9 595.3,471.5 596.2,471.1 597.0,470.6 597.8,470.0 598.6,469.2 599.4,468.2 600.1,467.2 600.7,466.1 601.5,464.7 602.2,463.2 602.9,461.7 603.7,460.2 604.4,458.9 605.1,457.6 605.8,456.4 606.6,455.3 607.3,454.8 608.1,454.4 608.9,453.9 609.5,453.4 610.1,452.6 610.6,451.6 611.0,450.5 611.5,449.5 612.0,448.3 612.5,447.0 612.9,445.8 613.4,444.6 613.9,443.5 614.3,442.5 614.8,441.5 615.4,440.7 616.0,440.1 616.7,439.5 617.5,439.1 618.3,438.7 619.2,438.6 620.2,438.5 621.2,438.6 622.2,438.7 623.4,439.0 624.6,439.3 625.9,439.8 627.1,440.2 628.6,440.8 630.0,441.4 631.5,442.1 633.0,442.6 634.3,443.0 635.5,443.3 636.8,443.7 637.9,444.1 638.7,444.6 639.4,445.2 640.1,445.9 640.8,446.6 641.6,447.5 642.3,448.5 643.0,449.5 643.7,450.5 644.3,451.2 644.8,452.1 645.4,452.7 645.9,452.9 646.4,452.5 646.8,451.7 647.2,450.6 647.6,449.5 648.0,448.1 648.3,446.4 648.6,444.9 649.1,443.6 649.5,442.9 650.0,442.3 650.5,441.8 651.0,441.7 651.5,441.9 652.0,442.3 652.5,443.0 653.0,443.6 653.6,444.5 654.1,445.6 654.7,446.7 655.4,447.5 656.1,448.0 656.7,448.5 657.5,448.8 658.4,449.0 660.0,449.1 662.0,448.9 664.2,448.6 666.2,448.5 667.9,448.6 669.5,448.7 671.2,448.8 673.0,449.0 675.4,449.3 677.9,449.6 680.4,449.9 682.8,450.3 684.7,450.5 686.6,450.7 688.3,450.9 690.0,451.2 691.3,451.6 692.5,452.0 693.7,452.5 694.9,452.9 696.1,453.3 697.2,453.6 698.4,454.0 699.8,454.2 702.0,454.3 704.5,454.2 707.1,454.0 709.5,453.9 711.6,453.7 713.5,453.5 715.4,453.3 717.3,453.2 719.1,453.3 720.8,453.4 722.5,453.6 724.2,453.9 725.9,454.2 727.7,454.6 729.4,455.0 731.0,455.3 732.0,455.7 732.9,456.0 733.9,456.3 734.9,456.5 736.9,456.7 739.1,456.8 741.4,456.8 743.7,456.8 746.1,456.8 748.6,456.7 751.0,456.6 753.5,456.5 755.9,456.4 758.4,456.3 760.8,456.1 763.2,455.8 765.8,455.4 768.3,454.9 770.8,454.4 773.0,453.9 774.4,453.5 775.6,453.2 776.8,452.8 777.9,452.4 778.9,451.9 779.9,451.3 780.9,450.8 781.8,450.7 782.6,450.9 783.3,451.3 784.0,451.9 784.7,452.4 785.5,452.9 786.2,453.4 786.9,453.8 787.7,454.2 788.2,454.4 788.7,454.6 789.3,454.7 790.0,454.9 792.0,454.9 794.5,454.7 797.2,454.5 799.8,454.4 802.2,454.3 804.6,454.3 807.1,454.2 809.5,454.2 812.0,454.1 814.5,454.0 816.9,453.9 819.3,453.9 821.3,453.8 823.3,453.8 825.2,453.8 827.1,453.9 828.8,454.0 830.5,454.1 832.2,454.3 833.9,454.4 836.3,454.5 838.7,454.5 841.2,454.6 843.7,454.6 846.1,454.6 848.6,454.5 851.0,454.5 853.5,454.4 856.3,454.1 859.2,453.7 861.9,453.4 864.2,453.6 865.4,454.1 866.3,454.8 867.2,455.4 868.1,455.8 869.1,455.8 870.1,455.5 871.1,455.3 872.0,455.3 872.8,455.8 873.6,456.5 874.3,457.4 875.0,458.3 875.7,459.4 876.4,460.8 877.1,462.1 877.9,463.2 878.8,464.0 879.7,464.7 880.8,465.2 881.8,465.6 882.7,465.7 883.7,465.5 884.7,465.3 885.7,465.1 886.7,465.0 887.8,464.9 888.9,464.8 890.0,464.6 891.4,464.2 892.8,463.6 894.3,463.0 895.9,462.7 897.9,462.8 900.1,463.2 902.4,463.7 904.6,463.9 907.1,463.7 909.5,463.3 912.0,462.7 914.4,462.2 916.9,461.7 919.3,461.2 921.8,460.7 924.2,460.2 926.4,459.8 928.7,459.5 930.9,459.2 933.0,459.1 934.5,459.1 935.9,459.2 937.3,459.4 938.8,459.7 941.1,460.3 943.6,461.1 946.1,461.9 948.6,462.7 951.0,463.3 953.5,463.9 955.9,464.5 958.4,465.1 960.8,465.6 963.2,466.1 965.7,466.5 968.1,467.1 970.7,467.8 973.2,468.5 975.7,469.3 977.9,470.0 979.2,470.4 980.4,470.8 981.6,471.2 982.8,471.5 984.2,471.6 985.6,471.6 987.0,471.5 988.4,471.5 988.9,471.5" fill="none" stroke="#000" stroke-width="0.90" stroke-linejoin="round"/>
<polyline points="594.4,471.6 595.3,471.2 596.2,470.8 597.0,470.3 597.8,469.7 598.6,468.9 599.4,467.9 600.1,466.9 600.7,465.8 601.5,464.4 602.2,462.9 602.9,461.4 603.7,459.9 604.4,458.6 605.1,457.3 605.8,456.1 606.6,455.0 607.3,454.5 608.1,454.1 608.9,453.6 609.5,453.1 610.1,452.3 610.6,451.3 611.0,450.2 611.5,449.2 612.0,448.0 612.5,446.7 612.9,445.5 613.4,444.3 613.9,443.2 614.3,442.2 614.8,441.2 615.4,440.4 616.0,439.8 616.7,439.2 617.5,438.8 618.3,438.4 619.2,438.3 620.2,438.2 621.2,438.3 622.2,438.4 623.4,438.7 624.6,439.0 625.9,439.5 627.1,439.9 628.6,440.5 630.0,441.1 631.5,441.8 633.0,442.3 634.3,442.7 635.5,443.0 636.8,443.4 637.9,443.8 638.7,444.3 639.4,444.9 640.1,445.6 640.8,446.3 641.6,447.2 642.3,448.2 643.0,449.2 643.7,450.2 644.3,450.9 644.8,451.8 645.4,452.4 645.9,452.6 646.4,452.2 646.8,451.4 647.2,450.3 647.6,449.2 648.0,447.8 648.3,446.1 648.6,444.6 649.1,443.3 649.5,442.6 650.0,442.0 650.5,441.5 651.0,441.4 651.5,441.6 652.0,442.0 652.5,442.7 653.0,443.3 653.6,444.2 654.1,445.3 654.7,446.4 655.4,447.2 656.1,447.7 656.7,448.2 657.5,448.5 658.4,448.7 660.0,448.8 662.0,448.6 664.2,448.3 666.2,448.2 667.9,448.3 669.5,448.4 671.2,448.5 673.0,448.7 675.4,449.0 677.9,449.3 680.4,449.6 682.8,450.0 684.7,450.2 686.6,450.4 688.3,450.6 690.0,450.9 691.3,451.3 692.5,451.7 693.7,452.2 694.9,452.6 696.1,453.0 697.2,453.3 698.4,453.7 699.8,453.9 702.0,454.0 704.5,453.9 707.1,453.7 709.5,453.6 711.6,453.4 713.5,453.2 715.4,453.0 717.3,452.9 719.1,453.0 720.8,453.1 722.5,453.3 724.2,453.6 725.9,453.9 727.7,454.3 729.4,454.7 731.0,455.0 732.0,455.4 732.9,455.7 733.9,456.0 734.9,456.2 736.9,456.4 739.1,456.5 741.4,456.5 743.7,456.5 746.1,456.5 748.6,456.4 751.0,456.3 753.5,456.2 755.9,456.1 758.4,456.0 760.8,455.8 763.2,455.5 765.8,455.1 768.3,454.6 770.8,454.1 773.0,453.6 774.4,453.2 775.6,452.9 776.8,452.5 777.9,452.1 778.9,451.6 779.9,451.0 780.9,450.5 781.8,450.4 782.6,450.6 783.3,451.0 784.0,451.6 784.7,452.1 785.5,452.6 786.2,453.1 786.9,453.5 787.7,453.9 788.2,454.1 788.7,454.3 789.3,454.4 790.0,454.6 792.0,454.6 794.5,454.4 797.2,454.2 799.8,454.1 802.2,454.0 804.6,454.0 807.1,453.9 809.5,453.9 812.0,453.8 814.5,453.7 816.9,453.6 819.3,453.6 821.3,453.5 823.3,453.5 825.2,453.5 827.1,453.6 828.8,453.7 830.5,453.8 832.2,454.0 833.9,454.1 836.3,454.2 838.7,454.2 841.2,454.3 843.7,454.3 846.1,454.3 848.6,454.2 851.0,454.2 853.5,454.1 856.3,453.8 859.2,453.4 861.9,453.1 864.2,453.3 865.4,453.8 866.3,454.5 867.2,455.1 868.1,455.5 869.1,455.5 870.1,455.2 871.1,455.0 872.0,455.0 872.8,455.5 873.6,456.2 874.3,457.1 875.0,458.0 875.7,459.1 876.4,460.5 877.1,461.8 877.9,462.9 878.8,463.7 879.7,464.4 880.8,464.9 881.8,465.3 882.7,465.4 883.7,465.2 884.7,465.0 885.7,464.8 886.7,464.7 887.8,464.6 888.9,464.5 890.0,464.3 891.4,463.9 892.8,463.3 894.3,462.7 895.9,462.4 897.9,462.5 900.1,462.9 902.4,463.4 904.6,463.6 907.1,463.4 909.5,463.0 912.0,462.4 914.4,461.9 916.9,461.4 919.3,460.9 921.8,460.4 924.2,459.9 926.4,459.5 928.7,459.2 930.9,458.9 933.0,458.8 934.5,458.8 935.9,458.9 937.3,459.1 938.8,459.4 941.1,460.0 943.6,460.8 946.1,461.6 948.6,462.4 951.0,463.0 953.5,463.6 955.9,464.2 958.4,464.8 960.8,465.3 963.2,465.8 965.7,466.2 968.1,466.8 970.7,467.5 973.2,468.2 975.7,469.0 977.9,469.7 979.2,470.1 980.4,470.5 981.6,470.9 982.8,471.2 984.2,471.3 985.6,471.3 987.0,471.2 988.4,471.2 988.9,471.2" fill="none" stroke="#000" stroke-width="0.90" stroke-linejoin="round"/>
<polyline points="594.4,435.3 597.0,435.3 599.5,435.2 602.1,435.1 604.6,435.0 607.1,434.9 609.5,434.8 612.0,434.7 614.4,434.6 616.9,434.6 619.3,434.5 621.7,434.4 624.2,434.3 626.6,434.3 629.1,434.3 631.5,434.3 633.9,434.3 636.5,434.4 639.0,434.4 641.5,434.4 643.7,434.3 645.1,434.3 646.3,434.1 647.5,434.0 648.6,434.1 649.4,434.2 650.1,434.3 650.8,434.5 651.5,434.8 652.3,435.4 653.0,436.2 653.7,437.0 654.5,437.8 655.1,438.5 655.8,439.2 656.5,439.8 657.4,440.2 658.6,440.4 660.1,440.2 661.6,439.9 663.2,439.7 665.5,439.6 668.0,439.6 670.5,439.5 673.0,439.5 675.5,439.6 678.0,439.7 680.4,439.8 682.8,439.9 684.6,440.1 686.2,440.2 688.0,440.4 690.0,440.5 694.2,440.6 699.2,440.7 704.4,440.7 709.5,440.7 714.4,440.7 719.3,440.7 724.2,440.7 729.1,440.7 734.1,440.7 739.2,440.7 744.2,440.6 748.6,440.5 751.3,440.4 753.7,440.3 756.0,440.1 758.4,439.9 760.8,439.6 763.4,439.3 765.8,439.0 768.1,438.5 770.0,438.2 771.7,437.7 773.4,437.3 775.0,436.8 776.3,436.3 777.5,435.8 778.7,435.4 779.8,435.0 780.8,434.9 781.8,434.8 782.7,434.8 783.8,434.8 785.1,434.9 786.6,435.0 788.2,435.2 790.0,435.3 794.1,435.5 799.1,435.5 804.4,435.6 809.5,435.6 814.4,435.7 819.3,435.7 824.2,435.8 829.1,435.8 833.9,435.8 838.8,435.7 843.7,435.7 848.6,435.6 853.6,435.5 858.8,435.4 863.7,435.3 868.1,435.3 870.8,435.4 873.2,435.5 875.5,435.6 877.9,435.6 880.7,435.6 883.5,435.5 886.6,435.4 890.0,435.3 896.4,435.2 903.9,435.1 911.7,435.1 919.3,435.0 926.6,435.0 933.9,435.0 941.3,435.0 948.6,435.0 956.3,435.1 964.2,435.3 971.6,435.5 977.9,435.6 980.9,435.7 983.5,435.8 985.9,435.9 988.4,436.0 988.9,436.0" fill="none" stroke="#000" stroke-width="0.90" stroke-linejoin="round"/>
<polyline points="594.4,434.8 597.0,434.8 599.5,434.7 602.1,434.6 604.6,434.5 607.1,434.4 609.5,434.3 612.0,434.2 614.4,434.1 616.9,434.1 619.3,434.0 621.7,433.9 624.2,433.8 626.6,433.8 629.1,433.8 631.5,433.8 633.9,433.8 636.5,433.9 639.0,433.9 641.5,433.9 643.7,433.8 645.1,433.8 646.3,433.6 647.5,433.5 648.6,433.6 649.4,433.7 650.1,433.8 650.8,434.0 651.5,434.3 652.3,434.9 653.0,435.7 653.7,436.5 654.5,437.3 655.1,438.0 655.8,438.7 656.5,439.3 657.4,439.7 658.6,439.9 660.1,439.7 661.6,439.4 663.2,439.2 665.5,439.1 668.0,439.1 670.5,439.0 673.0,439.0 675.5,439.1 678.0,439.2 680.4,439.3 682.8,439.4 684.6,439.6 686.2,439.7 688.0,439.9 690.0,440.0 694.2,440.1 699.2,440.2 704.4,440.2 709.5,440.2 714.4,440.2 719.3,440.2 724.2,440.2 729.1,440.2 734.1,440.2 739.2,440.2 744.2,440.1 748.6,440.0 751.3,439.9 753.7,439.8 756.0,439.6 758.4,439.4 760.8,439.1 763.4,438.8 765.8,438.5 768.1,438.0 770.0,437.7 771.7,437.2 773.4,436.8 775.0,436.3 776.3,435.8 777.5,435.3 778.7,434.9 779.8,434.5 780.8,434.4 781.8,434.3 782.7,434.3 783.8,434.3 785.1,434.4 786.6,434.5 788.2,434.7 790.0,434.8 794.1,435.0 799.1,435.0 804.4,435.1 809.5,435.1 814.4,435.2 819.3,435.2 824.2,435.3 829.1,435.3 833.9,435.3 838.8,435.2 843.7,435.2 848.6,435.1 853.6,435.0 858.8,434.9 863.7,434.8 868.1,434.8 870.8,434.9 873.2,435.0 875.5,435.1 877.9,435.1 880.7,435.1 883.5,435.0 886.6,434.9 890.0,434.8 896.4,434.7 903.9,434.6 911.7,434.6 919.3,434.5 926.6,434.5 933.9,434.5 941.3,434.5 948.6,434.5 956.3,434.6 964.2,434.8 971.6,435.0 977.9,435.1 980.9,435.2 983.5,435.3 985.9,435.4 988.4,435.5 988.9,435.5" fill="none" stroke="#000" stroke-width="0.90" stroke-linejoin="round"/>
<polyline points="594.4,433.7 600.6,433.6 606.7,433.6 612.9,433.5 619.3,433.5 627.2,433.3 635.7,433.2 643.4,433.0 648.6,433.1 649.5,433.1 650.3,433.2 650.9,433.3 651.5,433.4 652.2,433.5 653.0,433.6 653.7,433.8 654.5,433.9 655.3,433.9 656.1,434.0 657.1,434.0 658.4,434.1 664.2,434.1 672.4,434.0 681.5,433.9 690.0,433.9 697.4,433.9 704.7,433.9 712.0,434.0 719.3,434.1 726.8,434.1 734.3,434.1 741.7,434.1 748.6,434.1 753.9,434.0 759.0,433.9 763.8,433.8 768.1,433.7 770.8,433.6 773.2,433.5 775.5,433.4 777.9,433.3 780.6,433.2 783.1,433.2 786.1,433.1 790.0,433.1 808.2,433.0 834.0,433.0 862.8,433.0 890.0,433.1 914.7,433.1 939.3,433.2 963.8,433.4 988.4,433.5 988.9,433.5" fill="none" stroke="#000" stroke-width="0.90" stroke-linejoin="round"/>
</g>
<polyline points="594.4,432.4 988.9,432.4 988.9,738.5 594.4,738.5" fill="none" stroke="#000" stroke-width="1"/>
<line x1="594.1" y1="432.4" x2="594.1" y2="738.5" stroke="#a8a8b8" stroke-width="0.8"/>
<text x="575.1" y="745.4" class="tk" text-anchor="middle">0</text>
<text x="575.1" y="684.3" class="tk" text-anchor="middle">20</text>
<text x="575.1" y="623.2" class="tk" text-anchor="middle">40</text>
<text x="575.1" y="562.1" class="tk" text-anchor="middle">60</text>
<text x="575.1" y="501.0" class="tk" text-anchor="middle">80</text>
<text x="575.1" y="439.8" class="tk" text-anchor="middle">100</text>
<text x="610.2" y="760.5" class="tk" text-anchor="middle">500</text>
<text x="707.1" y="760.5" class="tk" text-anchor="middle">1000</text>
<text x="801.0" y="760.5" class="tk" text-anchor="middle">1500</text>
<text x="895.0" y="760.5" class="tk" text-anchor="middle">2000</text>
<text x="988.9" y="760.5" class="tk" text-anchor="middle">2500</text>
<text x="792.1" y="779.7" class="xl" text-anchor="middle">Wavelength [nm]</text>
<text transform="translate(548.8,584.8) rotate(-90)" class="yl" text-anchor="middle">Total SI [%]</text>
<text transform="translate(773.4,818.0) scale(0.92,1)" class="cap" text-anchor="middle">(<tspan font-weight="bold">d</tspan>)</text>
<rect x="67.5" y="830.4" width="34" height="20" fill="#00008F" stroke="#222" stroke-width="1"/>
<text x="103.7" y="849.4" class="lg">N</text>
<rect x="125.9" y="830.4" width="34" height="20" fill="#0000EF" stroke="#222" stroke-width="1"/>
<text x="163.6" y="849.4" class="lg">Cw</text>
<rect x="199.3" y="830.4" width="34" height="20" fill="#0050FF" stroke="#222" stroke-width="1"/>
<text x="236.3" y="849.4" class="lg">Cab</text>
<rect x="282.2" y="830.4" width="34" height="20" fill="#00BFFF" stroke="#222" stroke-width="1"/>
<text x="317.0" y="849.4" class="lg">Cm</text>
<rect x="356.9" y="830.4" width="34" height="20" fill="#20FFDF" stroke="#222" stroke-width="1"/>
<text x="394.1" y="849.4" class="lg">LAI</text>
<rect x="430.0" y="830.4" width="34" height="20" fill="#8FFF70" stroke="#222" stroke-width="1"/>
<text x="467.2" y="849.4" class="lg">LAD</text>
<rect x="512.4" y="830.4" width="34" height="20" fill="#EFFF10" stroke="#222" stroke-width="1"/>
<text x="549.6" y="849.4" class="lg">skyl</text>
<rect x="591.4" y="830.4" width="34" height="20" fill="#FFAF00" stroke="#222" stroke-width="1"/>
<text x="629.6" y="849.4" class="lg">soil coeff</text>
<rect x="717.2" y="830.4" width="34" height="20" fill="#FF4000" stroke="#222" stroke-width="1"/>
<text x="753.4" y="849.4" class="lg">SZA</text>
<rect x="800.4" y="830.4" width="34" height="20" fill="#DF0000" stroke="#222" stroke-width="1"/>
<text x="836.6" y="849.4" class="lg">VZA</text>
<rect x="882.5" y="830.4" width="34" height="20" fill="#800000" stroke="#222" stroke-width="1"/>
<text x="919.4" y="849.4" class="lg">RAA</text>
</svg>
</body></html>
